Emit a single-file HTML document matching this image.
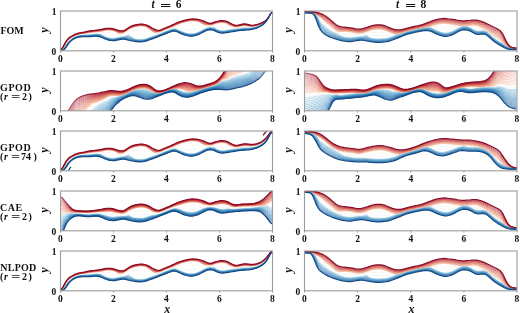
<!DOCTYPE html>
<html><head><meta charset="utf-8"><style>
html,body{margin:0;padding:0;background:#fff;}
body{width:520px;height:313px;position:relative;overflow:hidden;font-family:"Liberation Serif",serif;color:#111;}
svg{position:absolute;left:0;top:0;}
.g{position:absolute;font-weight:bold;line-height:1;white-space:nowrap;}
</style></head><body>
<svg width="520" height="313" viewBox="0 0 520 313">
<defs><clipPath id="c00"><rect x="60.5" y="11.0" width="212.0" height="39.8"/></clipPath>
<clipPath id="c01"><rect x="304.5" y="11.0" width="212.5" height="39.8"/></clipPath>
<clipPath id="c10"><rect x="60.5" y="71.0" width="212.0" height="39.8"/></clipPath>
<clipPath id="c11"><rect x="304.5" y="71.0" width="212.5" height="39.8"/></clipPath>
<clipPath id="c20"><rect x="60.5" y="131.0" width="212.0" height="39.8"/></clipPath>
<clipPath id="c21"><rect x="304.5" y="131.0" width="212.5" height="39.8"/></clipPath>
<clipPath id="c30"><rect x="60.5" y="191.0" width="212.0" height="39.8"/></clipPath>
<clipPath id="c31"><rect x="304.5" y="191.0" width="212.5" height="39.8"/></clipPath>
<clipPath id="c40"><rect x="60.5" y="251.0" width="212.0" height="39.8"/></clipPath>
<clipPath id="c41"><rect x="304.5" y="251.0" width="212.5" height="39.8"/></clipPath></defs>
<g clip-path="url(#c00)"><path d="M60.5 50.3L62.5 48.9L64.5 46.2L66.5 43.0L68.5 40.5L70.5 38.6L72.5 37.3L74.5 36.2L76.5 35.4L78.5 34.8L80.5 34.4L82.5 34.1L84.5 33.9L86.5 33.7L88.5 33.4L90.5 33.2L92.5 32.9L94.5 32.7L96.5 32.6L98.5 32.5L100.5 32.3L102.5 32.4L104.5 32.5L106.5 32.5L108.5 32.7L110.5 32.9L112.5 33.2L114.5 33.5L116.5 34.0L118.5 34.8L120.5 34.6L122.5 34.4L124.5 33.6L126.5 32.6L128.5 31.4L130.5 31.1L132.5 30.9L134.5 30.9L136.5 30.8L138.5 30.6L140.5 30.5L142.5 30.5L144.5 30.6L146.5 30.8L148.5 31.5L150.5 32.4L152.5 33.2L154.5 33.7L156.5 33.3L158.5 32.8L160.5 32.3L162.5 31.4L164.5 30.4L166.5 29.7L168.5 29.0L170.5 28.2L172.5 27.5L174.5 26.8L176.5 26.4L178.5 26.1L180.5 25.9L182.5 25.7L184.5 25.6L186.5 25.5L188.5 25.4L190.5 25.2L192.5 25.2L194.5 25.1L196.5 25.0L198.5 25.2L200.5 25.6L202.5 26.0L204.5 26.4L206.5 26.1L208.5 25.9L210.5 25.9L212.5 25.7L214.5 25.2L216.5 25.3L218.5 25.2L220.5 25.2L222.5 25.3L224.5 25.3L226.5 25.6L228.5 26.6L230.5 26.9L232.5 27.2L234.5 27.6L236.5 27.6L238.5 27.4L240.5 27.0L242.5 26.6L244.5 26.4L246.5 26.5L248.5 26.8L250.5 27.0L252.5 26.8L254.5 26.5L256.5 26.0L258.5 25.4L260.5 24.5L262.5 23.5L264.5 22.1L266.5 20.2L268.5 17.4L270.5 13.8L272.5 11.9" stroke="#f8f0ec" stroke-width="0.70" fill="none"/>
<path d="M60.5 50.4L62.5 49.3L64.5 46.8L66.5 43.8L68.5 41.2L70.5 39.2L72.5 37.9L74.5 36.7L76.5 35.9L78.5 35.3L80.5 34.9L82.5 34.7L84.5 34.5L86.5 34.3L88.5 34.1L90.5 33.9L92.5 33.7L94.5 33.5L96.5 33.4L98.5 33.3L100.5 33.3L102.5 34.0L104.5 34.5L106.5 34.9L108.5 35.3L110.5 35.6L112.5 35.8L114.5 35.9L116.5 36.0L118.5 36.2L120.5 35.9L122.5 35.6L124.5 35.1L126.5 34.2L128.5 33.3L130.5 33.7L132.5 34.3L134.5 35.0L136.5 35.1L138.5 35.1L140.5 35.0L142.5 35.0L144.5 34.9L146.5 34.7L148.5 34.7L150.5 34.8L152.5 34.9L154.5 34.9L156.5 34.3L158.5 33.6L160.5 33.0L162.5 32.2L164.5 31.2L166.5 30.5L168.5 29.8L170.5 29.0L172.5 28.3L174.5 27.8L176.5 27.8L178.5 28.1L180.5 28.5L182.5 28.8L184.5 29.1L186.5 29.4L188.5 29.5L190.5 29.6L192.5 29.5L194.5 29.3L196.5 29.0L198.5 28.7L200.5 28.4L202.5 28.1L204.5 27.8L206.5 27.2L208.5 26.8L210.5 26.7L212.5 26.8L214.5 26.6L216.5 27.3L218.5 27.7L220.5 28.0L222.5 28.1L224.5 28.0L226.5 28.0L228.5 28.3L230.5 28.4L232.5 28.4L234.5 28.5L236.5 28.4L238.5 28.1L240.5 27.7L242.5 27.5L244.5 27.3L246.5 27.3L248.5 27.5L250.5 27.6L252.5 27.4L254.5 27.0L256.5 26.5L258.5 25.8L260.5 24.9L262.5 23.8L264.5 22.4L266.5 20.3L268.5 17.4L270.5 13.8L272.5 11.8" stroke="#eef3f5" stroke-width="0.70" fill="none"/>
<path d="M60.5 50.2L62.5 48.5L64.5 45.5L66.5 42.2L68.5 39.8L70.5 38.1L72.5 36.8L74.5 35.7L76.5 34.9L78.5 34.3L80.5 33.8L82.5 33.5L84.5 33.3L86.5 33.0L88.5 32.7L90.5 32.4L92.5 32.2L94.5 31.9L96.5 31.8L98.5 31.6L100.5 31.3L102.5 30.9L104.5 30.5L106.5 30.2L108.5 30.1L110.5 30.1L112.5 30.5L114.5 31.0L116.5 32.1L118.5 33.4L120.5 33.4L122.5 33.1L124.5 32.1L126.5 30.9L128.5 29.5L130.5 28.4L132.5 27.5L134.5 26.9L136.5 26.4L138.5 26.1L140.5 25.9L142.5 26.0L144.5 26.3L146.5 26.8L148.5 28.3L150.5 30.0L152.5 31.5L154.5 32.5L156.5 32.4L158.5 32.0L160.5 31.5L162.5 30.7L164.5 29.7L166.5 29.0L168.5 28.3L170.5 27.4L172.5 26.6L174.5 25.8L176.5 24.9L178.5 24.0L180.5 23.3L182.5 22.6L184.5 22.1L186.5 21.6L188.5 21.2L190.5 20.9L192.5 20.8L194.5 20.9L196.5 21.0L198.5 21.6L200.5 22.8L202.5 23.9L204.5 25.1L206.5 25.0L208.5 25.0L210.5 25.0L212.5 24.7L214.5 23.9L216.5 23.3L218.5 22.8L220.5 22.5L222.5 22.5L224.5 22.6L226.5 23.2L228.5 24.8L230.5 25.5L232.5 26.1L234.5 26.8L236.5 26.9L238.5 26.6L240.5 26.2L242.5 25.8L244.5 25.6L246.5 25.8L248.5 26.1L250.5 26.4L252.5 26.3L254.5 26.0L256.5 25.6L258.5 24.9L260.5 24.2L262.5 23.1L264.5 21.9L266.5 20.0L268.5 17.4L270.5 13.9L272.5 12.0" stroke="#f6b090" stroke-width="0.70" fill="none"/>
<path d="M60.5 50.5L62.5 49.7L64.5 47.5L66.5 44.6L68.5 41.9L70.5 39.8L72.5 38.4L74.5 37.2L76.5 36.4L78.5 35.8L80.5 35.5L82.5 35.2L84.5 35.1L86.5 35.0L88.5 34.8L90.5 34.7L92.5 34.5L94.5 34.3L96.5 34.2L98.5 34.2L100.5 34.3L102.5 35.5L104.5 36.5L106.5 37.3L108.5 37.9L110.5 38.3L112.5 38.5L114.5 38.4L116.5 38.0L118.5 37.6L120.5 37.2L122.5 36.9L124.5 36.6L126.5 35.9L128.5 35.2L130.5 36.4L132.5 37.7L134.5 39.0L136.5 39.4L138.5 39.6L140.5 39.6L142.5 39.5L144.5 39.2L146.5 38.7L148.5 37.9L150.5 37.3L152.5 36.6L154.5 36.0L156.5 35.3L158.5 34.5L160.5 33.8L162.5 32.9L164.5 32.0L166.5 31.3L168.5 30.6L170.5 29.8L172.5 29.1L174.5 28.9L176.5 29.3L178.5 30.2L180.5 31.1L182.5 31.9L184.5 32.7L186.5 33.3L188.5 33.7L190.5 33.9L192.5 33.9L194.5 33.5L196.5 33.0L198.5 32.3L200.5 31.3L202.5 30.2L204.5 29.2L206.5 28.3L208.5 27.7L210.5 27.5L212.5 27.8L214.5 27.9L216.5 29.4L218.5 30.1L220.5 30.7L222.5 30.9L224.5 30.7L226.5 30.4L228.5 30.1L230.5 29.8L232.5 29.5L234.5 29.3L236.5 29.1L238.5 28.9L240.5 28.5L242.5 28.3L244.5 28.1L246.5 28.1L248.5 28.2L250.5 28.2L252.5 27.9L254.5 27.4L256.5 26.9L258.5 26.2L260.5 25.3L262.5 24.1L264.5 22.6L266.5 20.5L268.5 17.5L270.5 13.8L272.5 11.7" stroke="#98c8e0" stroke-width="0.70" fill="none"/>
<path d="M60.5 50.1L62.5 48.4L64.5 45.3L66.5 41.9L68.5 39.6L70.5 37.9L72.5 36.6L74.5 35.5L76.5 34.7L78.5 34.1L80.5 33.7L82.5 33.4L84.5 33.1L86.5 32.8L88.5 32.5L90.5 32.2L92.5 31.9L94.5 31.7L96.5 31.5L98.5 31.4L100.5 31.1L102.5 30.7L104.5 30.2L106.5 29.9L108.5 29.8L110.5 29.9L112.5 30.2L114.5 30.7L116.5 31.7L118.5 32.9L120.5 33.0L122.5 32.8L124.5 31.8L126.5 30.6L128.5 29.2L130.5 28.1L132.5 27.3L134.5 26.7L136.5 26.2L138.5 25.9L140.5 25.7L142.5 25.7L144.5 26.0L146.5 26.6L148.5 28.0L150.5 29.6L152.5 31.1L154.5 32.0L156.5 32.0L158.5 31.7L160.5 31.3L162.5 30.5L164.5 29.5L166.5 28.8L168.5 28.0L170.5 27.2L172.5 26.4L174.5 25.5L176.5 24.6L178.5 23.8L180.5 23.0L182.5 22.4L184.5 21.8L186.5 21.3L188.5 20.9L190.5 20.7L192.5 20.5L194.5 20.6L196.5 20.8L198.5 21.3L200.5 22.4L202.5 23.4L204.5 24.5L206.5 24.6L208.5 24.7L210.5 24.8L212.5 24.4L214.5 23.7L216.5 23.0L218.5 22.5L220.5 22.3L222.5 22.2L224.5 22.4L226.5 22.9L228.5 24.5L230.5 25.1L232.5 25.8L234.5 26.6L236.5 26.7L238.5 26.4L240.5 25.9L242.5 25.6L244.5 25.4L246.5 25.5L248.5 25.9L250.5 26.2L252.5 26.2L254.5 25.8L256.5 25.4L258.5 24.8L260.5 24.1L262.5 23.0L264.5 21.8L266.5 20.0L268.5 17.3L270.5 13.9L272.5 12.0" stroke="#ee9878" stroke-width="0.70" fill="none"/>
<path d="M60.5 50.5L62.5 49.8L64.5 47.8L66.5 44.9L68.5 42.2L70.5 40.0L72.5 38.6L74.5 37.4L76.5 36.6L78.5 36.0L80.5 35.6L82.5 35.4L84.5 35.3L86.5 35.2L88.5 35.1L90.5 35.0L92.5 34.8L94.5 34.5L96.5 34.4L98.5 34.5L100.5 34.6L102.5 35.8L104.5 36.8L106.5 37.6L108.5 38.2L110.5 38.6L112.5 38.8L114.5 38.7L116.5 38.4L118.5 37.9L120.5 37.5L122.5 37.2L124.5 37.0L126.5 36.4L128.5 35.9L130.5 37.0L132.5 38.2L134.5 39.3L136.5 39.8L138.5 39.9L140.5 39.9L142.5 39.8L144.5 39.5L146.5 39.0L148.5 38.3L150.5 37.6L152.5 36.9L154.5 36.3L156.5 35.6L158.5 34.7L160.5 34.1L162.5 33.2L164.5 32.3L166.5 31.6L168.5 30.9L170.5 30.1L172.5 29.4L174.5 29.2L176.5 29.7L178.5 30.5L180.5 31.4L182.5 32.3L184.5 33.0L186.5 33.6L188.5 34.0L190.5 34.2L192.5 34.2L194.5 33.8L196.5 33.3L198.5 32.6L200.5 31.6L202.5 30.5L204.5 29.5L206.5 28.6L208.5 28.0L210.5 27.8L212.5 28.1L214.5 28.3L216.5 29.7L218.5 30.4L220.5 31.0L222.5 31.2L224.5 31.1L226.5 30.7L228.5 30.4L230.5 30.1L232.5 29.8L234.5 29.6L236.5 29.4L238.5 29.1L240.5 28.8L242.5 28.6L244.5 28.4L246.5 28.4L248.5 28.4L250.5 28.4L252.5 28.1L254.5 27.6L256.5 27.1L258.5 26.4L260.5 25.4L262.5 24.3L264.5 22.7L266.5 20.5L268.5 17.5L270.5 13.8L272.5 11.7" stroke="#7db7d7" stroke-width="0.70" fill="none"/>
<path d="M60.5 50.1L62.5 48.3L64.5 45.1L66.5 41.7L68.5 39.4L70.5 37.7L72.5 36.5L74.5 35.4L76.5 34.6L78.5 34.0L80.5 33.5L82.5 33.2L84.5 32.9L86.5 32.6L88.5 32.3L90.5 32.0L92.5 31.7L94.5 31.5L96.5 31.3L98.5 31.1L100.5 30.8L102.5 30.4L104.5 30.0L106.5 29.7L108.5 29.6L110.5 29.6L112.5 30.0L114.5 30.5L116.5 31.4L118.5 32.5L120.5 32.6L122.5 32.5L124.5 31.6L126.5 30.4L128.5 28.9L130.5 27.9L132.5 27.0L134.5 26.4L136.5 25.9L138.5 25.6L140.5 25.4L142.5 25.5L144.5 25.8L146.5 26.3L148.5 27.6L150.5 29.1L152.5 30.6L154.5 31.6L156.5 31.7L158.5 31.5L160.5 31.1L162.5 30.3L164.5 29.3L166.5 28.5L168.5 27.8L170.5 27.0L172.5 26.1L174.5 25.3L176.5 24.4L178.5 23.5L180.5 22.8L182.5 22.1L184.5 21.6L186.5 21.1L188.5 20.7L190.5 20.4L192.5 20.3L194.5 20.3L196.5 20.5L198.5 21.0L200.5 22.0L202.5 23.0L204.5 24.0L206.5 24.2L208.5 24.4L210.5 24.5L212.5 24.2L214.5 23.4L216.5 22.7L218.5 22.3L220.5 22.0L222.5 22.0L224.5 22.1L226.5 22.7L228.5 24.1L230.5 24.8L232.5 25.6L234.5 26.3L236.5 26.5L238.5 26.2L240.5 25.7L242.5 25.3L244.5 25.1L246.5 25.3L248.5 25.7L250.5 26.0L252.5 26.0L254.5 25.7L256.5 25.3L258.5 24.7L260.5 24.0L262.5 22.9L264.5 21.7L266.5 19.9L268.5 17.3L270.5 13.9L272.5 12.0" stroke="#e37e64" stroke-width="0.70" fill="none"/>
<path d="M60.5 50.6L62.5 49.9L64.5 48.0L66.5 45.2L68.5 42.4L70.5 40.3L72.5 38.8L74.5 37.6L76.5 36.8L78.5 36.2L80.5 35.8L82.5 35.6L84.5 35.5L86.5 35.5L88.5 35.4L90.5 35.2L92.5 35.0L94.5 34.8L96.5 34.7L98.5 34.8L100.5 35.0L102.5 36.1L104.5 37.1L106.5 37.9L108.5 38.5L110.5 39.0L112.5 39.1L114.5 39.0L116.5 38.7L118.5 38.2L120.5 37.8L122.5 37.6L124.5 37.4L126.5 36.9L128.5 36.6L130.5 37.6L132.5 38.7L134.5 39.7L136.5 40.1L138.5 40.2L140.5 40.2L142.5 40.2L144.5 39.8L146.5 39.3L148.5 38.6L150.5 37.9L152.5 37.2L154.5 36.6L156.5 35.8L158.5 35.0L160.5 34.3L162.5 33.5L164.5 32.6L166.5 31.9L168.5 31.1L170.5 30.4L172.5 29.7L174.5 29.5L176.5 30.0L178.5 30.8L180.5 31.7L182.5 32.6L184.5 33.3L186.5 33.9L188.5 34.3L190.5 34.5L192.5 34.5L194.5 34.2L196.5 33.7L198.5 32.9L200.5 31.9L202.5 30.8L204.5 29.8L206.5 28.9L208.5 28.3L210.5 28.1L212.5 28.4L214.5 28.7L216.5 30.0L218.5 30.7L220.5 31.3L222.5 31.5L224.5 31.4L226.5 31.0L228.5 30.7L230.5 30.4L232.5 30.1L234.5 29.9L236.5 29.7L238.5 29.4L240.5 29.1L242.5 28.9L244.5 28.7L246.5 28.6L248.5 28.7L250.5 28.6L252.5 28.3L254.5 27.8L256.5 27.3L258.5 26.5L260.5 25.6L262.5 24.4L264.5 22.8L266.5 20.6L268.5 17.5L270.5 13.8L272.5 11.7" stroke="#5fa5cd" stroke-width="0.70" fill="none"/>
<path d="M60.5 50.1L62.5 48.1L64.5 44.9L66.5 41.4L68.5 39.2L70.5 37.5L72.5 36.3L74.5 35.2L76.5 34.4L78.5 33.8L80.5 33.4L82.5 33.1L84.5 32.8L86.5 32.4L88.5 32.0L90.5 31.7L92.5 31.5L94.5 31.3L96.5 31.1L98.5 30.9L100.5 30.5L102.5 30.1L104.5 29.7L106.5 29.4L108.5 29.3L110.5 29.4L112.5 29.7L114.5 30.2L116.5 31.1L118.5 32.0L120.5 32.3L122.5 32.2L124.5 31.3L126.5 30.1L128.5 28.7L130.5 27.6L132.5 26.8L134.5 26.2L136.5 25.6L138.5 25.3L140.5 25.2L142.5 25.2L144.5 25.5L146.5 26.1L148.5 27.3L150.5 28.7L152.5 30.1L154.5 31.1L156.5 31.4L158.5 31.3L160.5 30.8L162.5 30.1L164.5 29.1L166.5 28.3L168.5 27.6L170.5 26.8L172.5 25.9L174.5 25.0L176.5 24.1L178.5 23.3L180.5 22.5L182.5 21.9L184.5 21.3L186.5 20.8L188.5 20.4L190.5 20.1L192.5 20.0L194.5 20.1L196.5 20.2L198.5 20.7L200.5 21.6L202.5 22.5L204.5 23.5L206.5 23.8L208.5 24.1L210.5 24.3L212.5 23.9L214.5 23.2L216.5 22.5L218.5 22.0L220.5 21.7L222.5 21.7L224.5 21.9L226.5 22.4L228.5 23.7L230.5 24.5L232.5 25.3L234.5 26.1L236.5 26.2L238.5 26.0L240.5 25.5L242.5 25.1L244.5 24.9L246.5 25.1L248.5 25.5L250.5 25.9L252.5 25.9L254.5 25.6L256.5 25.2L258.5 24.6L260.5 23.8L262.5 22.8L264.5 21.7L266.5 19.9L268.5 17.3L270.5 13.9L272.5 12.0" stroke="#d7634f" stroke-width="0.70" fill="none"/>
<path d="M60.5 50.6L62.5 50.1L64.5 48.3L66.5 45.5L68.5 42.7L70.5 40.5L72.5 39.0L74.5 37.8L76.5 37.0L78.5 36.4L80.5 36.0L82.5 35.8L84.5 35.8L86.5 35.7L88.5 35.6L90.5 35.5L92.5 35.3L94.5 35.1L96.5 35.0L98.5 35.1L100.5 35.4L102.5 36.5L104.5 37.4L106.5 38.2L108.5 38.8L110.5 39.3L112.5 39.4L114.5 39.4L116.5 39.0L118.5 38.5L120.5 38.1L122.5 37.9L124.5 37.7L126.5 37.5L128.5 37.3L130.5 38.2L132.5 39.1L134.5 40.0L136.5 40.4L138.5 40.5L140.5 40.5L142.5 40.5L144.5 40.2L146.5 39.6L148.5 38.9L150.5 38.2L152.5 37.5L154.5 36.9L156.5 36.1L158.5 35.3L160.5 34.6L162.5 33.8L164.5 32.9L166.5 32.1L168.5 31.4L170.5 30.6L172.5 30.0L174.5 29.8L176.5 30.3L178.5 31.1L180.5 32.0L182.5 32.9L184.5 33.6L186.5 34.2L188.5 34.7L190.5 34.8L192.5 34.8L194.5 34.5L196.5 34.0L198.5 33.2L200.5 32.2L202.5 31.1L204.5 30.1L206.5 29.2L208.5 28.6L210.5 28.4L212.5 28.7L214.5 29.1L216.5 30.3L218.5 31.1L220.5 31.6L222.5 31.8L224.5 31.7L226.5 31.3L228.5 31.0L230.5 30.8L232.5 30.5L234.5 30.2L236.5 29.9L238.5 29.6L240.5 29.4L242.5 29.2L244.5 29.0L246.5 28.9L248.5 28.9L250.5 28.8L252.5 28.5L254.5 28.0L256.5 27.4L258.5 26.7L260.5 25.7L262.5 24.5L264.5 22.9L266.5 20.6L268.5 17.5L270.5 13.8L272.5 11.7" stroke="#4392c3" stroke-width="0.70" fill="none"/>
<path d="M60.5 50.0L62.5 48.0L64.5 44.7L66.5 41.2L68.5 39.0L70.5 37.4L72.5 36.1L74.5 35.1L76.5 34.3L78.5 33.7L80.5 33.2L82.5 32.9L84.5 32.6L86.5 32.2L88.5 31.8L90.5 31.5L92.5 31.3L94.5 31.0L96.5 30.8L98.5 30.6L100.5 30.3L102.5 29.9L104.5 29.5L106.5 29.1L108.5 29.0L110.5 29.1L112.5 29.5L114.5 30.0L116.5 30.8L118.5 31.6L120.5 31.9L122.5 31.9L124.5 31.1L126.5 29.9L128.5 28.4L130.5 27.4L132.5 26.5L134.5 25.9L136.5 25.4L138.5 25.1L140.5 24.9L142.5 24.9L144.5 25.2L146.5 25.8L148.5 27.0L150.5 28.3L152.5 29.6L154.5 30.6L156.5 31.0L158.5 31.0L160.5 30.6L162.5 29.8L164.5 28.9L166.5 28.1L168.5 27.4L170.5 26.5L172.5 25.7L174.5 24.7L176.5 23.8L178.5 23.0L180.5 22.3L182.5 21.6L184.5 21.1L186.5 20.6L188.5 20.1L190.5 19.9L192.5 19.8L194.5 19.8L196.5 20.0L198.5 20.4L200.5 21.2L202.5 22.0L204.5 22.9L206.5 23.4L208.5 23.9L210.5 24.0L212.5 23.7L214.5 22.9L216.5 22.2L218.5 21.8L220.5 21.5L222.5 21.5L224.5 21.6L226.5 22.1L228.5 23.3L230.5 24.2L232.5 25.1L234.5 25.9L236.5 26.0L238.5 25.7L240.5 25.2L242.5 24.9L244.5 24.7L246.5 24.8L248.5 25.3L250.5 25.7L252.5 25.7L254.5 25.4L256.5 25.0L258.5 24.5L260.5 23.7L262.5 22.8L264.5 21.6L266.5 19.8L268.5 17.3L270.5 13.9L272.5 12.0" stroke="#ca4741" stroke-width="0.70" fill="none"/>
<path d="M60.5 50.7L62.5 50.2L64.5 48.5L66.5 45.8L68.5 42.9L70.5 40.7L72.5 39.2L74.5 38.0L76.5 37.2L78.5 36.6L80.5 36.2L82.5 36.0L84.5 36.0L86.5 35.9L88.5 35.9L90.5 35.8L92.5 35.6L94.5 35.4L96.5 35.3L98.5 35.4L100.5 35.8L102.5 36.8L104.5 37.7L106.5 38.5L108.5 39.1L110.5 39.6L112.5 39.7L114.5 39.7L116.5 39.3L118.5 38.8L120.5 38.4L122.5 38.2L124.5 38.1L126.5 38.0L128.5 38.0L130.5 38.8L132.5 39.6L134.5 40.3L136.5 40.7L138.5 40.8L140.5 40.9L142.5 40.8L144.5 40.5L146.5 39.9L148.5 39.2L150.5 38.5L152.5 37.8L154.5 37.2L156.5 36.4L158.5 35.6L160.5 34.9L162.5 34.1L164.5 33.2L166.5 32.4L168.5 31.7L170.5 30.9L172.5 30.3L174.5 30.1L176.5 30.6L178.5 31.4L180.5 32.3L182.5 33.2L184.5 33.9L186.5 34.5L188.5 35.0L190.5 35.1L192.5 35.1L194.5 34.8L196.5 34.3L198.5 33.5L200.5 32.5L202.5 31.5L204.5 30.4L206.5 29.5L208.5 28.9L210.5 28.7L212.5 29.0L214.5 29.5L216.5 30.6L218.5 31.4L220.5 31.9L222.5 32.1L224.5 32.0L226.5 31.7L228.5 31.3L230.5 31.1L232.5 30.8L234.5 30.5L236.5 30.2L238.5 29.9L240.5 29.7L242.5 29.4L244.5 29.3L246.5 29.2L248.5 29.2L250.5 29.0L252.5 28.6L254.5 28.1L256.5 27.6L258.5 26.8L260.5 25.8L262.5 24.6L264.5 23.0L266.5 20.7L268.5 17.5L270.5 13.8L272.5 11.7" stroke="#3682ba" stroke-width="0.70" fill="none"/>
<path d="M60.5 50.0L62.5 47.9L64.5 44.5L66.5 41.0L68.5 38.8L70.5 37.2L72.5 36.0L74.5 34.9L76.5 34.1L78.5 33.5L80.5 33.1L82.5 32.7L84.5 32.4L86.5 32.0L88.5 31.6L90.5 31.3L92.5 31.0L94.5 30.8L96.5 30.6L98.5 30.4L100.5 30.0L102.5 29.6L104.5 29.2L106.5 28.9L108.5 28.8L110.5 28.8L112.5 29.2L114.5 29.7L116.5 30.4L118.5 31.2L120.5 31.5L122.5 31.5L124.5 30.8L126.5 29.6L128.5 28.2L130.5 27.1L132.5 26.2L134.5 25.6L136.5 25.1L138.5 24.8L140.5 24.6L142.5 24.7L144.5 25.0L146.5 25.6L148.5 26.6L150.5 27.9L152.5 29.1L154.5 30.2L156.5 30.7L158.5 30.8L160.5 30.4L162.5 29.6L164.5 28.7L166.5 27.9L168.5 27.1L170.5 26.3L172.5 25.4L174.5 24.5L176.5 23.6L178.5 22.7L180.5 22.0L182.5 21.4L184.5 20.8L186.5 20.3L188.5 19.9L190.5 19.6L192.5 19.5L194.5 19.6L196.5 19.7L198.5 20.1L200.5 20.8L202.5 21.5L204.5 22.4L206.5 23.0L208.5 23.6L210.5 23.8L212.5 23.4L214.5 22.7L216.5 22.0L218.5 21.5L220.5 21.2L222.5 21.2L224.5 21.4L226.5 21.9L228.5 22.9L230.5 23.9L232.5 24.8L234.5 25.6L236.5 25.8L238.5 25.5L240.5 25.0L242.5 24.6L244.5 24.4L246.5 24.6L248.5 25.1L250.5 25.5L252.5 25.6L254.5 25.3L256.5 24.9L258.5 24.3L260.5 23.6L262.5 22.7L264.5 21.5L266.5 19.8L268.5 17.3L270.5 13.9L272.5 12.0" stroke="#bc2c34" stroke-width="0.70" fill="none"/>
<path d="M60.5 50.7L62.5 50.3L64.5 48.7L66.5 46.1L68.5 43.2L70.5 40.9L72.5 39.4L74.5 38.2L76.5 37.4L78.5 36.7L80.5 36.4L82.5 36.2L84.5 36.2L86.5 36.2L88.5 36.1L90.5 36.0L92.5 35.9L94.5 35.6L96.5 35.6L98.5 35.7L100.5 36.2L102.5 37.1L104.5 38.0L106.5 38.8L108.5 39.4L110.5 39.9L112.5 40.1L114.5 40.0L116.5 39.6L118.5 39.1L120.5 38.7L122.5 38.5L124.5 38.5L126.5 38.5L128.5 38.7L130.5 39.4L132.5 40.1L134.5 40.7L136.5 41.0L138.5 41.1L140.5 41.2L142.5 41.1L144.5 40.8L146.5 40.2L148.5 39.5L150.5 38.8L152.5 38.1L154.5 37.5L156.5 36.7L158.5 35.9L160.5 35.1L162.5 34.3L164.5 33.5L166.5 32.7L168.5 32.0L170.5 31.2L172.5 30.6L174.5 30.5L176.5 30.9L178.5 31.7L180.5 32.7L182.5 33.5L184.5 34.2L186.5 34.8L188.5 35.3L190.5 35.5L192.5 35.4L194.5 35.1L196.5 34.6L198.5 33.8L200.5 32.9L202.5 31.8L204.5 30.7L206.5 29.8L208.5 29.3L210.5 29.0L212.5 29.4L214.5 29.9L216.5 31.0L218.5 31.7L220.5 32.3L222.5 32.4L224.5 32.3L226.5 32.0L228.5 31.6L230.5 31.4L232.5 31.1L234.5 30.8L236.5 30.5L238.5 30.2L240.5 29.9L242.5 29.7L244.5 29.6L246.5 29.5L248.5 29.4L250.5 29.2L252.5 28.8L254.5 28.3L256.5 27.8L258.5 27.0L260.5 26.0L262.5 24.7L264.5 23.0L266.5 20.7L268.5 17.6L270.5 13.8L272.5 11.7" stroke="#2971b2" stroke-width="0.70" fill="none"/>
<path d="M60.5 49.9L62.5 47.8L64.5 44.3L66.5 40.7L68.5 38.5L70.5 37.0L72.5 35.8L74.5 34.8L76.5 34.0L78.5 33.4L80.5 32.9L82.5 32.6L84.5 32.2L86.5 31.8L88.5 31.4L90.5 31.1L92.5 30.8L94.5 30.6L96.5 30.4L98.5 30.1L100.5 29.8L102.5 29.4L104.5 29.0L106.5 28.6L108.5 28.5L110.5 28.6L112.5 28.9L114.5 29.4L116.5 30.1L118.5 30.7L120.5 31.2L122.5 31.2L124.5 30.6L126.5 29.4L128.5 27.9L130.5 26.8L132.5 26.0L134.5 25.4L136.5 24.9L138.5 24.6L140.5 24.4L142.5 24.4L144.5 24.7L146.5 25.3L148.5 26.3L150.5 27.5L152.5 28.7L154.5 29.7L156.5 30.3L158.5 30.5L160.5 30.2L162.5 29.4L164.5 28.5L166.5 27.7L168.5 26.9L170.5 26.1L172.5 25.2L174.5 24.2L176.5 23.3L178.5 22.5L180.5 21.8L182.5 21.1L184.5 20.6L186.5 20.1L188.5 19.6L190.5 19.4L192.5 19.3L194.5 19.3L196.5 19.5L198.5 19.8L200.5 20.4L202.5 21.0L204.5 21.9L206.5 22.6L208.5 23.3L210.5 23.5L212.5 23.1L214.5 22.4L216.5 21.7L218.5 21.3L220.5 21.0L222.5 20.9L224.5 21.1L226.5 21.6L228.5 22.5L230.5 23.5L232.5 24.6L234.5 25.4L236.5 25.6L238.5 25.3L240.5 24.8L242.5 24.4L244.5 24.2L246.5 24.4L248.5 24.9L250.5 25.3L252.5 25.4L254.5 25.1L256.5 24.8L258.5 24.2L260.5 23.5L262.5 22.6L264.5 21.5L266.5 19.8L268.5 17.3L270.5 13.9L272.5 12.0" stroke="#a9152a" stroke-width="0.70" fill="none"/>
<path d="M60.5 50.8L62.5 50.5L64.5 49.0L66.5 46.4L68.5 43.4L70.5 41.1L72.5 39.6L74.5 38.3L76.5 37.5L78.5 36.9L80.5 36.6L82.5 36.4L84.5 36.4L86.5 36.4L88.5 36.4L90.5 36.3L92.5 36.1L94.5 35.9L96.5 35.9L98.5 36.0L100.5 36.5L102.5 37.4L104.5 38.3L106.5 39.2L108.5 39.8L110.5 40.2L112.5 40.4L114.5 40.3L116.5 39.9L118.5 39.5L120.5 39.1L122.5 38.8L124.5 38.9L126.5 39.0L128.5 39.4L130.5 40.0L132.5 40.6L134.5 41.0L136.5 41.3L138.5 41.5L140.5 41.5L142.5 41.4L144.5 41.1L146.5 40.6L148.5 39.8L150.5 39.1L152.5 38.5L154.5 37.8L156.5 37.0L158.5 36.2L160.5 35.4L162.5 34.6L164.5 33.8L166.5 33.0L168.5 32.2L170.5 31.5L172.5 30.9L174.5 30.8L176.5 31.2L178.5 32.0L180.5 33.0L182.5 33.8L184.5 34.6L186.5 35.2L188.5 35.6L190.5 35.8L192.5 35.7L194.5 35.4L196.5 34.9L198.5 34.1L200.5 33.2L202.5 32.1L204.5 31.1L206.5 30.2L208.5 29.6L210.5 29.3L212.5 29.7L214.5 30.3L216.5 31.3L218.5 32.0L220.5 32.6L222.5 32.8L224.5 32.6L226.5 32.3L228.5 32.0L230.5 31.7L232.5 31.4L234.5 31.0L236.5 30.7L238.5 30.4L240.5 30.2L242.5 30.0L244.5 29.9L246.5 29.7L248.5 29.7L250.5 29.4L252.5 29.0L254.5 28.5L256.5 27.9L258.5 27.1L260.5 26.1L262.5 24.8L264.5 23.1L266.5 20.8L268.5 17.6L270.5 13.8L272.5 11.7" stroke="#1d5fa2" stroke-width="0.70" fill="none"/>
<path d="M60.5 49.9L62.5 47.7L64.5 44.1L66.5 40.5L68.5 38.3L70.5 36.8L72.5 35.7L74.5 34.6L76.5 33.8L78.5 33.2L80.5 32.8L82.5 32.4L84.5 32.1L86.5 31.6L88.5 31.2L90.5 30.8L92.5 30.6L94.5 30.4L96.5 30.1L98.5 29.9L100.5 29.5L102.5 29.1L104.5 28.7L106.5 28.4L108.5 28.3L110.5 28.3L112.5 28.7L114.5 29.2L116.5 29.8L118.5 30.3L120.5 30.8L122.5 30.9L124.5 30.3L126.5 29.1L128.5 27.7L130.5 26.6L132.5 25.7L134.5 25.1L136.5 24.6L138.5 24.3L140.5 24.1L142.5 24.2L144.5 24.5L146.5 25.0L148.5 25.9L150.5 27.0L152.5 28.2L154.5 29.2L156.5 30.0L158.5 30.3L160.5 30.0L162.5 29.2L164.5 28.3L166.5 27.5L168.5 26.7L170.5 25.8L172.5 24.9L174.5 24.0L176.5 23.1L178.5 22.2L180.5 21.5L182.5 20.8L184.5 20.3L186.5 19.8L188.5 19.4L190.5 19.1L192.5 19.0L194.5 19.1L196.5 19.2L198.5 19.5L200.5 20.0L202.5 20.6L204.5 21.3L206.5 22.2L208.5 23.1L210.5 23.3L212.5 22.9L214.5 22.1L216.5 21.5L218.5 21.0L220.5 20.7L222.5 20.7L224.5 20.8L226.5 21.4L228.5 22.1L230.5 23.2L232.5 24.3L234.5 25.1L236.5 25.4L238.5 25.1L240.5 24.6L242.5 24.1L244.5 23.9L246.5 24.2L248.5 24.7L250.5 25.2L252.5 25.3L254.5 25.0L256.5 24.6L258.5 24.1L260.5 23.4L262.5 22.5L264.5 21.4L266.5 19.7L268.5 17.3L270.5 13.9L272.5 12.0" stroke="#8c0c25" stroke-width="1.25" fill="none"/>
<path d="M60.5 50.8L62.5 50.6L64.5 49.2L66.5 46.7L68.5 43.7L70.5 41.3L72.5 39.8L74.5 38.5L76.5 37.7L78.5 37.1L80.5 36.8L82.5 36.6L84.5 36.6L86.5 36.6L88.5 36.6L90.5 36.6L92.5 36.4L94.5 36.2L96.5 36.1L98.5 36.3L100.5 36.9L102.5 37.7L104.5 38.7L106.5 39.5L108.5 40.1L110.5 40.5L112.5 40.7L114.5 40.6L116.5 40.2L118.5 39.8L120.5 39.4L122.5 39.1L124.5 39.2L126.5 39.6L128.5 40.1L130.5 40.6L132.5 41.0L134.5 41.4L136.5 41.6L138.5 41.8L140.5 41.8L142.5 41.7L144.5 41.4L146.5 40.9L148.5 40.1L150.5 39.5L152.5 38.8L154.5 38.0L156.5 37.3L158.5 36.5L160.5 35.7L162.5 34.9L164.5 34.1L166.5 33.3L168.5 32.5L170.5 31.8L172.5 31.2L174.5 31.1L176.5 31.5L178.5 32.4L180.5 33.3L182.5 34.1L184.5 34.9L186.5 35.5L188.5 35.9L190.5 36.1L192.5 36.1L194.5 35.7L196.5 35.2L198.5 34.5L200.5 33.5L202.5 32.4L204.5 31.4L206.5 30.5L208.5 29.9L210.5 29.6L212.5 30.0L214.5 30.7L216.5 31.6L218.5 32.3L220.5 32.9L222.5 33.1L224.5 32.9L226.5 32.6L228.5 32.3L230.5 32.0L232.5 31.7L234.5 31.3L236.5 31.0L238.5 30.7L240.5 30.5L242.5 30.3L244.5 30.1L246.5 30.0L248.5 29.9L250.5 29.6L252.5 29.2L254.5 28.7L256.5 28.1L258.5 27.3L260.5 26.2L262.5 25.0L264.5 23.2L266.5 20.8L268.5 17.6L270.5 13.8L272.5 11.8" stroke="#134b86" stroke-width="1.25" fill="none"/></g>
<g clip-path="url(#c01)"><path d="M304.5 12.1L306.5 12.1L308.5 12.1L310.5 12.1L312.5 12.2L314.5 13.1L316.5 14.8L318.5 17.1L320.5 19.3L322.5 21.0L324.5 22.9L326.5 24.5L328.5 26.1L330.5 27.5L332.5 29.1L334.5 30.6L336.5 31.8L338.5 32.6L340.5 33.0L342.5 33.2L344.5 33.3L346.5 33.5L348.5 33.7L350.5 33.9L352.5 34.1L354.5 34.3L356.5 34.4L358.5 34.4L360.5 34.4L362.5 34.2L364.5 33.6L366.5 32.9L368.5 32.9L370.5 32.9L372.5 32.7L374.5 32.5L376.5 32.4L378.5 32.4L380.5 32.4L382.5 32.6L384.5 32.9L386.5 33.3L388.5 33.8L390.5 34.1L392.5 34.3L394.5 34.5L396.5 34.5L398.5 34.1L400.5 33.6L402.5 33.0L404.5 32.4L406.5 31.7L408.5 31.1L410.5 30.6L412.5 30.2L414.5 29.7L416.5 29.3L418.5 28.9L420.5 28.5L422.5 28.0L424.5 27.6L426.5 27.3L428.5 27.0L430.5 26.8L432.5 26.6L434.5 26.5L436.5 26.5L438.5 26.5L440.5 26.5L442.5 26.5L444.5 26.6L446.5 26.8L448.5 26.8L450.5 26.8L452.5 26.7L454.5 26.7L456.5 26.5L458.5 26.4L460.5 26.2L462.5 26.1L464.5 25.7L466.5 26.0L468.5 26.1L470.5 26.2L472.5 26.4L474.5 26.7L476.5 27.3L478.5 27.8L480.5 28.4L482.5 29.0L484.5 29.8L486.5 30.9L488.5 32.2L490.5 33.7L492.5 35.3L494.5 36.8L496.5 38.2L498.5 39.4L500.5 40.6L502.5 42.5L504.5 44.5L506.5 46.1L508.5 47.3L510.5 47.9L512.5 48.3L514.5 48.5L516.5 48.6" stroke="#f8f0ec" stroke-width="0.70" fill="none"/>
<path d="M304.5 12.2L306.5 12.1L308.5 12.1L310.5 12.1L312.5 12.2L314.5 13.2L316.5 15.1L318.5 18.1L320.5 21.0L322.5 22.7L324.5 24.6L326.5 26.3L328.5 27.8L330.5 29.1L332.5 30.5L334.5 31.8L336.5 32.8L338.5 33.7L340.5 34.4L342.5 34.9L344.5 35.2L346.5 35.5L348.5 35.7L350.5 35.8L352.5 35.9L354.5 35.9L356.5 35.8L358.5 35.7L360.5 35.5L362.5 35.4L364.5 34.8L366.5 34.2L368.5 34.9L370.5 35.5L372.5 35.6L374.5 35.6L376.5 35.6L378.5 35.6L380.5 35.6L382.5 35.7L384.5 35.7L386.5 35.8L388.5 35.8L390.5 35.7L392.5 35.5L394.5 35.2L396.5 34.8L398.5 34.4L400.5 33.9L402.5 33.3L404.5 32.6L406.5 31.9L408.5 31.3L410.5 30.8L412.5 30.4L414.5 29.9L416.5 29.5L418.5 29.1L420.5 28.7L422.5 28.2L424.5 27.8L426.5 27.5L428.5 27.3L430.5 27.2L432.5 27.6L434.5 28.1L436.5 28.5L438.5 28.9L440.5 29.3L442.5 29.6L444.5 29.8L446.5 29.9L448.5 29.8L450.5 29.5L452.5 29.1L454.5 28.6L456.5 27.9L458.5 27.3L460.5 26.8L462.5 26.4L464.5 26.0L466.5 26.3L468.5 26.6L470.5 27.1L472.5 27.8L474.5 28.5L476.5 29.1L478.5 29.5L480.5 29.7L482.5 29.9L484.5 30.4L486.5 31.4L488.5 32.8L490.5 34.4L492.5 36.1L494.5 37.7L496.5 39.1L498.5 40.4L500.5 41.5L502.5 43.0L504.5 44.8L506.5 46.4L508.5 47.4L510.5 47.9L512.5 48.4L514.5 48.6L516.5 48.6" stroke="#eef3f5" stroke-width="0.70" fill="none"/>
<path d="M304.5 12.1L306.5 12.0L308.5 12.0L310.5 12.0L312.5 12.1L314.5 13.0L316.5 14.5L318.5 16.1L320.5 17.6L322.5 19.3L324.5 21.3L326.5 22.8L328.5 24.3L330.5 25.9L332.5 27.7L334.5 29.5L336.5 30.7L338.5 31.4L340.5 31.6L342.5 31.5L344.5 31.3L346.5 31.4L348.5 31.6L350.5 31.9L352.5 32.3L354.5 32.7L356.5 33.0L358.5 33.2L360.5 33.2L362.5 32.9L364.5 32.4L366.5 31.7L368.5 31.0L370.5 30.3L372.5 29.8L374.5 29.4L376.5 29.2L378.5 29.1L380.5 29.2L382.5 29.5L384.5 30.1L386.5 30.8L388.5 31.7L390.5 32.5L392.5 33.2L394.5 33.8L396.5 34.2L398.5 33.9L400.5 33.4L402.5 32.8L404.5 32.2L406.5 31.5L408.5 30.9L410.5 30.4L412.5 30.0L414.5 29.5L416.5 29.1L418.5 28.7L420.5 28.3L422.5 27.8L424.5 27.4L426.5 27.0L428.5 26.8L430.5 26.3L432.5 25.6L434.5 24.9L436.5 24.4L438.5 24.0L440.5 23.7L442.5 23.4L444.5 23.4L446.5 23.6L448.5 23.9L450.5 24.1L452.5 24.4L454.5 24.9L456.5 25.1L458.5 25.4L460.5 25.7L462.5 25.8L464.5 25.4L466.5 25.7L468.5 25.5L470.5 25.3L472.5 25.0L474.5 25.0L476.5 25.4L478.5 26.1L480.5 27.0L482.5 28.0L484.5 29.1L486.5 30.3L488.5 31.7L490.5 33.1L492.5 34.4L494.5 35.8L496.5 37.2L498.5 38.5L500.5 39.7L502.5 42.0L504.5 44.2L506.5 45.9L508.5 47.2L510.5 47.8L512.5 48.2L514.5 48.4L516.5 48.5" stroke="#f6b090" stroke-width="0.70" fill="none"/>
<path d="M304.5 12.2L306.5 12.2L308.5 12.2L310.5 12.2L312.5 12.3L314.5 13.3L316.5 15.3L318.5 19.1L320.5 22.7L322.5 24.5L324.5 26.3L326.5 28.0L328.5 29.5L330.5 30.7L332.5 31.9L334.5 32.9L336.5 33.9L338.5 34.9L340.5 35.8L342.5 36.6L344.5 37.2L346.5 37.5L348.5 37.7L350.5 37.8L352.5 37.7L354.5 37.4L356.5 37.2L358.5 36.9L360.5 36.7L362.5 36.7L364.5 36.1L366.5 35.5L368.5 36.9L370.5 38.1L372.5 38.4L374.5 38.7L376.5 38.9L378.5 38.9L380.5 38.9L382.5 38.7L384.5 38.6L386.5 38.3L388.5 37.9L390.5 37.3L392.5 36.6L394.5 35.8L396.5 35.1L398.5 34.6L400.5 34.1L402.5 33.5L404.5 32.8L406.5 32.1L408.5 31.5L410.5 31.0L412.5 30.6L414.5 30.1L416.5 29.7L418.5 29.3L420.5 28.9L422.5 28.4L424.5 28.1L426.5 27.8L428.5 27.6L430.5 27.7L432.5 28.6L434.5 29.6L436.5 30.5L438.5 31.4L440.5 32.1L442.5 32.7L444.5 33.0L446.5 33.1L448.5 32.8L450.5 32.2L452.5 31.4L454.5 30.4L456.5 29.3L458.5 28.2L460.5 27.3L462.5 26.7L464.5 26.3L466.5 26.6L468.5 27.2L470.5 28.0L472.5 29.1L474.5 30.2L476.5 31.0L478.5 31.2L480.5 31.1L482.5 30.9L484.5 31.1L486.5 31.9L488.5 33.4L490.5 35.1L492.5 36.9L494.5 38.6L496.5 40.1L498.5 41.3L500.5 42.4L502.5 43.6L504.5 45.2L506.5 46.6L508.5 47.6L510.5 48.0L512.5 48.4L514.5 48.6L516.5 48.7" stroke="#98c8e0" stroke-width="0.70" fill="none"/>
<path d="M304.5 12.0L306.5 12.0L308.5 12.0L310.5 12.0L312.5 12.1L314.5 12.8L316.5 14.2L318.5 15.6L320.5 17.0L322.5 18.6L324.5 20.4L326.5 22.0L328.5 23.5L330.5 25.1L332.5 26.8L334.5 28.6L336.5 29.9L338.5 30.7L340.5 30.9L342.5 30.9L344.5 30.7L346.5 30.9L348.5 31.1L350.5 31.3L352.5 31.7L354.5 32.1L356.5 32.5L358.5 32.6L360.5 32.6L362.5 32.3L364.5 31.8L366.5 31.1L368.5 30.4L370.5 29.7L372.5 29.2L374.5 28.8L376.5 28.6L378.5 28.5L380.5 28.6L382.5 28.9L384.5 29.5L386.5 30.2L388.5 31.1L390.5 31.9L392.5 32.6L394.5 33.2L396.5 33.6L398.5 33.3L400.5 32.9L402.5 32.3L404.5 31.7L406.5 31.0L408.5 30.4L410.5 30.0L412.5 29.5L414.5 29.1L416.5 28.7L418.5 28.3L420.5 27.8L422.5 27.3L424.5 26.9L426.5 26.5L428.5 26.1L430.5 25.6L432.5 24.9L434.5 24.3L436.5 23.7L438.5 23.3L440.5 23.0L442.5 22.7L444.5 22.7L446.5 22.9L448.5 23.2L450.5 23.4L452.5 23.7L454.5 24.2L456.5 24.4L458.5 24.7L460.5 25.0L462.5 25.1L464.5 24.8L466.5 25.0L468.5 24.8L470.5 24.6L472.5 24.3L474.5 24.3L476.5 24.7L478.5 25.3L480.5 26.2L482.5 27.1L484.5 28.2L486.5 29.4L488.5 30.6L490.5 32.0L492.5 33.3L494.5 34.6L496.5 35.9L498.5 37.2L500.5 38.4L502.5 40.8L504.5 43.2L506.5 45.3L508.5 46.9L510.5 47.6L512.5 48.1L514.5 48.4L516.5 48.5" stroke="#ee9878" stroke-width="0.70" fill="none"/>
<path d="M304.5 12.3L306.5 12.3L308.5 12.3L310.5 12.3L312.5 12.4L314.5 13.6L316.5 16.0L318.5 20.1L320.5 23.8L322.5 25.6L324.5 27.4L326.5 29.1L328.5 30.5L330.5 31.7L332.5 32.7L334.5 33.7L336.5 34.6L338.5 35.6L340.5 36.4L342.5 37.2L344.5 37.8L346.5 38.1L348.5 38.3L350.5 38.3L352.5 38.2L354.5 37.9L356.5 37.7L358.5 37.4L360.5 37.2L362.5 37.2L364.5 36.7L366.5 36.3L368.5 37.5L370.5 38.6L372.5 38.9L374.5 39.2L376.5 39.3L378.5 39.4L380.5 39.3L382.5 39.2L384.5 39.1L386.5 38.8L388.5 38.4L390.5 37.8L392.5 37.1L394.5 36.3L396.5 35.6L398.5 35.1L400.5 34.5L402.5 33.8L404.5 33.1L406.5 32.4L408.5 31.8L410.5 31.3L412.5 30.9L414.5 30.5L416.5 30.1L418.5 29.6L420.5 29.2L422.5 28.8L424.5 28.4L426.5 28.2L428.5 28.0L430.5 28.2L432.5 29.1L434.5 30.1L436.5 31.0L438.5 31.8L440.5 32.6L442.5 33.1L444.5 33.5L446.5 33.5L448.5 33.2L450.5 32.7L452.5 31.9L454.5 30.9L456.5 29.7L458.5 28.7L460.5 27.8L462.5 27.1L464.5 26.8L466.5 27.1L468.5 27.6L470.5 28.4L472.5 29.6L474.5 30.7L476.5 31.4L478.5 31.6L480.5 31.5L482.5 31.3L484.5 31.5L486.5 32.3L488.5 33.8L490.5 35.5L492.5 37.4L494.5 39.1L496.5 40.5L498.5 41.7L500.5 42.9L502.5 44.0L504.5 45.5L506.5 46.9L508.5 47.8L510.5 48.3L512.5 48.6L514.5 48.8L516.5 48.9" stroke="#7db7d7" stroke-width="0.70" fill="none"/>
<path d="M304.5 11.9L306.5 11.9L308.5 11.9L310.5 11.9L312.5 12.0L314.5 12.6L316.5 13.9L318.5 15.1L320.5 16.4L322.5 17.9L324.5 19.6L326.5 21.1L328.5 22.6L330.5 24.2L332.5 25.9L334.5 27.8L336.5 29.1L338.5 29.9L340.5 30.2L342.5 30.2L344.5 30.2L346.5 30.3L348.5 30.5L350.5 30.8L352.5 31.1L354.5 31.5L356.5 31.9L358.5 32.0L360.5 32.0L362.5 31.7L364.5 31.2L366.5 30.5L368.5 29.8L370.5 29.1L372.5 28.6L374.5 28.2L376.5 27.9L378.5 27.9L380.5 28.0L382.5 28.3L384.5 28.8L386.5 29.6L388.5 30.4L390.5 31.2L392.5 31.9L394.5 32.6L396.5 32.9L398.5 32.7L400.5 32.4L402.5 31.8L404.5 31.2L406.5 30.6L408.5 30.0L410.5 29.5L412.5 29.1L414.5 28.6L416.5 28.2L418.5 27.8L420.5 27.4L422.5 26.9L424.5 26.4L426.5 25.9L428.5 25.5L430.5 25.0L432.5 24.2L434.5 23.6L436.5 23.0L438.5 22.6L440.5 22.3L442.5 22.0L444.5 22.0L446.5 22.2L448.5 22.5L450.5 22.7L452.5 22.9L454.5 23.4L456.5 23.7L458.5 24.0L460.5 24.3L462.5 24.4L464.5 24.1L466.5 24.3L468.5 24.1L470.5 23.8L472.5 23.6L474.5 23.5L476.5 23.9L478.5 24.5L480.5 25.3L482.5 26.2L484.5 27.3L486.5 28.4L488.5 29.6L490.5 30.9L492.5 32.2L494.5 33.4L496.5 34.7L498.5 36.0L500.5 37.2L502.5 39.6L504.5 42.3L506.5 44.7L508.5 46.6L510.5 47.5L512.5 48.0L514.5 48.3L516.5 48.4" stroke="#e37e64" stroke-width="0.70" fill="none"/>
<path d="M304.5 12.4L306.5 12.4L308.5 12.4L310.5 12.5L312.5 12.6L314.5 14.0L316.5 16.7L318.5 21.1L320.5 24.8L322.5 26.7L324.5 28.5L326.5 30.1L328.5 31.5L330.5 32.6L332.5 33.6L334.5 34.5L336.5 35.4L338.5 36.3L340.5 37.1L342.5 37.8L344.5 38.3L346.5 38.6L348.5 38.8L350.5 38.8L352.5 38.7L354.5 38.5L356.5 38.2L358.5 37.9L360.5 37.7L362.5 37.7L364.5 37.3L366.5 37.0L368.5 38.1L370.5 39.1L372.5 39.4L374.5 39.7L376.5 39.8L378.5 39.9L380.5 39.8L382.5 39.7L384.5 39.5L386.5 39.3L388.5 38.9L390.5 38.3L392.5 37.6L394.5 36.8L396.5 36.0L398.5 35.5L400.5 34.9L402.5 34.2L404.5 33.5L406.5 32.8L408.5 32.2L410.5 31.7L412.5 31.2L414.5 30.8L416.5 30.4L418.5 30.0L420.5 29.5L422.5 29.1L424.5 28.8L426.5 28.5L428.5 28.5L430.5 28.7L432.5 29.6L434.5 30.5L436.5 31.5L438.5 32.3L440.5 33.0L442.5 33.6L444.5 33.9L446.5 34.0L448.5 33.7L450.5 33.1L452.5 32.3L454.5 31.3L456.5 30.2L458.5 29.2L460.5 28.2L462.5 27.6L464.5 27.3L466.5 27.5L468.5 28.1L470.5 28.9L472.5 30.0L474.5 31.1L476.5 31.8L478.5 32.1L480.5 31.9L482.5 31.8L484.5 32.0L486.5 32.8L488.5 34.3L490.5 36.0L492.5 37.8L494.5 39.5L496.5 41.0L498.5 42.2L500.5 43.3L502.5 44.4L504.5 45.9L506.5 47.1L508.5 48.0L510.5 48.5L512.5 48.8L514.5 49.0L516.5 49.0" stroke="#5fa5cd" stroke-width="0.70" fill="none"/>
<path d="M304.5 11.8L306.5 11.8L308.5 11.8L310.5 11.8L312.5 11.9L314.5 12.5L316.5 13.6L318.5 14.7L320.5 15.8L322.5 17.2L324.5 18.8L326.5 20.2L328.5 21.8L330.5 23.4L332.5 25.1L334.5 26.9L336.5 28.2L338.5 29.1L340.5 29.5L342.5 29.6L344.5 29.6L346.5 29.7L348.5 29.9L350.5 30.2L352.5 30.5L354.5 30.9L356.5 31.3L358.5 31.5L360.5 31.4L362.5 31.1L364.5 30.6L366.5 29.9L368.5 29.2L370.5 28.5L372.5 28.0L374.5 27.6L376.5 27.3L378.5 27.3L380.5 27.4L382.5 27.7L384.5 28.2L386.5 29.0L388.5 29.8L390.5 30.6L392.5 31.3L394.5 31.9L396.5 32.3L398.5 32.2L400.5 31.8L402.5 31.4L404.5 30.8L406.5 30.1L408.5 29.6L410.5 29.1L412.5 28.6L414.5 28.2L416.5 27.8L418.5 27.4L420.5 26.9L422.5 26.4L424.5 25.9L426.5 25.4L428.5 24.9L430.5 24.3L432.5 23.5L434.5 22.9L436.5 22.4L438.5 21.9L440.5 21.6L442.5 21.3L444.5 21.3L446.5 21.5L448.5 21.8L450.5 22.0L452.5 22.2L454.5 22.7L456.5 23.0L458.5 23.3L460.5 23.6L462.5 23.7L464.5 23.5L466.5 23.6L468.5 23.4L470.5 23.1L472.5 22.9L474.5 22.8L476.5 23.2L478.5 23.7L480.5 24.5L482.5 25.4L484.5 26.3L486.5 27.4L488.5 28.6L490.5 29.8L492.5 31.0L494.5 32.3L496.5 33.5L498.5 34.7L500.5 36.0L502.5 38.4L504.5 41.3L506.5 44.2L508.5 46.3L510.5 47.3L512.5 47.9L514.5 48.2L516.5 48.4" stroke="#d7634f" stroke-width="0.70" fill="none"/>
<path d="M304.5 12.5L306.5 12.5L308.5 12.5L310.5 12.6L312.5 12.7L314.5 14.3L316.5 17.4L318.5 22.0L320.5 25.9L322.5 27.8L324.5 29.6L326.5 31.2L328.5 32.5L330.5 33.5L332.5 34.5L334.5 35.3L336.5 36.2L338.5 37.0L340.5 37.7L342.5 38.4L344.5 38.9L346.5 39.2L348.5 39.4L350.5 39.3L352.5 39.2L354.5 39.0L356.5 38.7L358.5 38.4L360.5 38.2L362.5 38.2L364.5 37.9L366.5 37.8L368.5 38.7L370.5 39.6L372.5 39.9L374.5 40.2L376.5 40.3L378.5 40.4L380.5 40.3L382.5 40.2L384.5 40.0L386.5 39.8L388.5 39.4L390.5 38.8L392.5 38.0L394.5 37.3L396.5 36.5L398.5 35.9L400.5 35.3L402.5 34.6L404.5 33.8L406.5 33.1L408.5 32.5L410.5 32.0L412.5 31.5L414.5 31.1L416.5 30.7L418.5 30.3L420.5 29.9L422.5 29.4L424.5 29.1L426.5 28.9L428.5 28.9L430.5 29.2L432.5 30.0L434.5 31.0L436.5 31.9L438.5 32.8L440.5 33.5L442.5 34.1L444.5 34.4L446.5 34.5L448.5 34.2L450.5 33.6L452.5 32.8L454.5 31.8L456.5 30.7L458.5 29.6L460.5 28.7L462.5 28.0L464.5 27.7L466.5 28.0L468.5 28.5L470.5 29.3L472.5 30.5L474.5 31.6L476.5 32.3L478.5 32.5L480.5 32.4L482.5 32.2L484.5 32.4L486.5 33.2L488.5 34.7L490.5 36.4L492.5 38.2L494.5 39.9L496.5 41.4L498.5 42.6L500.5 43.7L502.5 44.9L504.5 46.2L506.5 47.4L508.5 48.3L510.5 48.7L512.5 49.0L514.5 49.1L516.5 49.2" stroke="#4392c3" stroke-width="0.70" fill="none"/>
<path d="M304.5 11.8L306.5 11.7L308.5 11.7L310.5 11.7L312.5 11.8L314.5 12.3L316.5 13.3L318.5 14.2L320.5 15.3L322.5 16.5L324.5 18.0L326.5 19.4L328.5 20.9L330.5 22.5L332.5 24.2L334.5 26.0L336.5 27.4L338.5 28.4L340.5 28.8L342.5 29.0L344.5 29.0L346.5 29.1L348.5 29.3L350.5 29.6L352.5 29.9L354.5 30.3L356.5 30.7L358.5 30.9L360.5 30.8L362.5 30.5L364.5 30.0L366.5 29.3L368.5 28.6L370.5 27.9L372.5 27.4L374.5 27.0L376.5 26.7L378.5 26.7L380.5 26.7L382.5 27.1L384.5 27.6L386.5 28.3L388.5 29.2L390.5 30.0L392.5 30.7L394.5 31.3L396.5 31.7L398.5 31.6L400.5 31.3L402.5 30.9L404.5 30.3L406.5 29.7L408.5 29.1L410.5 28.6L412.5 28.2L414.5 27.8L416.5 27.3L418.5 26.9L420.5 26.4L422.5 25.9L424.5 25.4L426.5 24.8L428.5 24.2L430.5 23.6L432.5 22.9L434.5 22.2L436.5 21.7L438.5 21.3L440.5 20.9L442.5 20.7L444.5 20.6L446.5 20.8L448.5 21.1L450.5 21.3L452.5 21.5L454.5 22.0L456.5 22.3L458.5 22.6L460.5 22.8L462.5 23.0L464.5 22.8L466.5 22.9L468.5 22.7L470.5 22.4L472.5 22.2L474.5 22.1L476.5 22.4L478.5 23.0L480.5 23.7L482.5 24.5L484.5 25.4L486.5 26.5L488.5 27.6L490.5 28.7L492.5 29.9L494.5 31.1L496.5 32.2L498.5 33.4L500.5 34.7L502.5 37.2L504.5 40.4L506.5 43.6L508.5 46.0L510.5 47.2L512.5 47.8L514.5 48.1L516.5 48.3" stroke="#ca4741" stroke-width="0.70" fill="none"/>
<path d="M304.5 12.6L306.5 12.6L308.5 12.7L310.5 12.7L312.5 12.8L314.5 14.6L316.5 18.1L318.5 23.0L320.5 26.9L322.5 29.0L324.5 30.7L326.5 32.2L328.5 33.4L330.5 34.5L332.5 35.4L334.5 36.2L336.5 36.9L338.5 37.7L340.5 38.4L342.5 39.0L344.5 39.5L346.5 39.7L348.5 39.9L350.5 39.9L352.5 39.7L354.5 39.5L356.5 39.2L358.5 38.9L360.5 38.7L362.5 38.7L364.5 38.6L366.5 38.5L368.5 39.3L370.5 40.1L372.5 40.4L374.5 40.7L376.5 40.8L378.5 40.9L380.5 40.8L382.5 40.7L384.5 40.5L386.5 40.3L388.5 39.8L390.5 39.3L392.5 38.5L394.5 37.8L396.5 37.0L398.5 36.4L400.5 35.7L402.5 34.9L404.5 34.2L406.5 33.4L408.5 32.8L410.5 32.3L412.5 31.9L414.5 31.4L416.5 31.0L418.5 30.6L420.5 30.2L422.5 29.8L424.5 29.5L426.5 29.3L428.5 29.3L430.5 29.7L432.5 30.5L434.5 31.5L436.5 32.4L438.5 33.2L440.5 34.0L442.5 34.5L444.5 34.9L446.5 34.9L448.5 34.6L450.5 34.1L452.5 33.2L454.5 32.3L456.5 31.1L458.5 30.1L460.5 29.1L462.5 28.5L464.5 28.2L466.5 28.4L468.5 29.0L470.5 29.8L472.5 30.9L474.5 32.0L476.5 32.7L478.5 33.0L480.5 32.8L482.5 32.6L484.5 32.8L486.5 33.7L488.5 35.1L490.5 36.8L492.5 38.7L494.5 40.4L496.5 41.8L498.5 43.0L500.5 44.2L502.5 45.3L504.5 46.6L506.5 47.7L508.5 48.5L510.5 48.9L512.5 49.2L514.5 49.3L516.5 49.3" stroke="#3682ba" stroke-width="0.70" fill="none"/>
<path d="M304.5 11.7L306.5 11.7L308.5 11.7L310.5 11.7L312.5 11.8L314.5 12.2L316.5 12.9L318.5 13.8L320.5 14.7L322.5 15.8L324.5 17.1L326.5 18.5L328.5 20.1L330.5 21.6L332.5 23.4L334.5 25.2L336.5 26.6L338.5 27.6L340.5 28.1L342.5 28.3L344.5 28.4L346.5 28.6L348.5 28.8L350.5 29.0L352.5 29.4L354.5 29.8L356.5 30.1L358.5 30.3L360.5 30.2L362.5 29.9L364.5 29.4L366.5 28.7L368.5 28.0L370.5 27.3L372.5 26.7L374.5 26.4L376.5 26.1L378.5 26.1L380.5 26.1L382.5 26.4L384.5 27.0L386.5 27.7L388.5 28.6L390.5 29.3L392.5 30.0L394.5 30.7L396.5 31.0L398.5 31.0L400.5 30.8L402.5 30.4L404.5 29.8L406.5 29.2L408.5 28.7L410.5 28.2L412.5 27.7L414.5 27.3L416.5 26.9L418.5 26.5L420.5 26.0L422.5 25.4L424.5 24.9L426.5 24.2L428.5 23.6L430.5 22.9L432.5 22.2L434.5 21.5L436.5 21.0L438.5 20.6L440.5 20.2L442.5 20.0L444.5 19.9L446.5 20.1L448.5 20.4L450.5 20.6L452.5 20.8L454.5 21.2L456.5 21.5L458.5 21.9L460.5 22.1L462.5 22.3L464.5 22.2L466.5 22.2L468.5 22.0L470.5 21.7L472.5 21.5L474.5 21.4L476.5 21.7L478.5 22.2L480.5 22.8L482.5 23.6L484.5 24.5L486.5 25.5L488.5 26.5L490.5 27.7L492.5 28.8L494.5 29.9L496.5 31.0L498.5 32.1L500.5 33.5L502.5 36.0L504.5 39.4L506.5 43.0L508.5 45.7L510.5 47.1L512.5 47.7L514.5 48.1L516.5 48.2" stroke="#bc2c34" stroke-width="0.70" fill="none"/>
<path d="M304.5 12.7L306.5 12.7L308.5 12.8L310.5 12.9L312.5 13.0L314.5 14.9L316.5 18.8L318.5 23.9L320.5 27.9L322.5 30.1L324.5 31.8L326.5 33.2L328.5 34.4L330.5 35.4L332.5 36.2L334.5 37.0L336.5 37.7L338.5 38.4L340.5 39.1L342.5 39.6L344.5 40.0L346.5 40.3L348.5 40.4L350.5 40.4L352.5 40.2L354.5 40.0L356.5 39.7L358.5 39.4L360.5 39.2L362.5 39.2L364.5 39.2L366.5 39.3L368.5 39.9L370.5 40.6L372.5 40.9L374.5 41.2L376.5 41.3L378.5 41.3L380.5 41.3L382.5 41.2L384.5 41.0L386.5 40.8L388.5 40.3L390.5 39.7L392.5 39.0L394.5 38.3L396.5 37.5L398.5 36.8L400.5 36.1L402.5 35.3L404.5 34.5L406.5 33.8L408.5 33.1L410.5 32.6L412.5 32.2L414.5 31.8L416.5 31.3L418.5 30.9L420.5 30.5L422.5 30.1L424.5 29.8L426.5 29.7L428.5 29.8L430.5 30.2L432.5 31.0L434.5 31.9L436.5 32.9L438.5 33.7L440.5 34.4L442.5 35.0L444.5 35.3L446.5 35.4L448.5 35.1L450.5 34.5L452.5 33.7L454.5 32.7L456.5 31.6L458.5 30.5L460.5 29.6L462.5 28.9L464.5 28.7L466.5 28.9L468.5 29.4L470.5 30.2L472.5 31.4L474.5 32.5L476.5 33.2L478.5 33.4L480.5 33.3L482.5 33.1L484.5 33.3L486.5 34.1L488.5 35.6L490.5 37.3L492.5 39.1L494.5 40.8L496.5 42.3L498.5 43.5L500.5 44.6L502.5 45.7L504.5 47.0L506.5 48.0L508.5 48.7L510.5 49.1L512.5 49.4L514.5 49.5L516.5 49.5" stroke="#2971b2" stroke-width="0.70" fill="none"/>
<path d="M304.5 11.6L306.5 11.6L308.5 11.6L310.5 11.6L312.5 11.7L314.5 12.0L316.5 12.6L318.5 13.3L320.5 14.1L322.5 15.1L324.5 16.3L326.5 17.7L328.5 19.2L330.5 20.8L332.5 22.5L334.5 24.3L336.5 25.8L338.5 26.9L340.5 27.4L342.5 27.7L344.5 27.8L346.5 28.0L348.5 28.2L350.5 28.5L352.5 28.8L354.5 29.2L356.5 29.5L358.5 29.7L360.5 29.6L362.5 29.3L364.5 28.8L366.5 28.1L368.5 27.4L370.5 26.7L372.5 26.1L374.5 25.7L376.5 25.5L378.5 25.4L380.5 25.5L382.5 25.8L384.5 26.4L386.5 27.1L388.5 27.9L390.5 28.7L392.5 29.4L394.5 30.0L396.5 30.4L398.5 30.5L400.5 30.3L402.5 29.9L404.5 29.4L406.5 28.8L408.5 28.2L410.5 27.7L412.5 27.3L414.5 26.9L416.5 26.4L418.5 26.0L420.5 25.5L422.5 25.0L424.5 24.4L426.5 23.7L428.5 23.0L430.5 22.2L432.5 21.5L434.5 20.9L436.5 20.3L438.5 19.9L440.5 19.5L442.5 19.3L444.5 19.2L446.5 19.4L448.5 19.7L450.5 19.9L452.5 20.1L454.5 20.5L456.5 20.8L458.5 21.2L460.5 21.4L462.5 21.5L464.5 21.5L466.5 21.5L468.5 21.2L470.5 21.0L472.5 20.7L474.5 20.7L476.5 20.9L478.5 21.4L480.5 22.0L482.5 22.7L484.5 23.6L486.5 24.5L488.5 25.5L490.5 26.6L492.5 27.6L494.5 28.7L496.5 29.7L498.5 30.9L500.5 32.3L502.5 34.8L504.5 38.5L506.5 42.4L508.5 45.4L510.5 46.9L512.5 47.6L514.5 48.0L516.5 48.2" stroke="#a9152a" stroke-width="0.70" fill="none"/>
<path d="M304.5 12.8L306.5 12.8L308.5 12.9L310.5 13.0L312.5 13.1L314.5 15.2L316.5 19.5L318.5 24.9L320.5 29.0L322.5 31.2L324.5 32.9L326.5 34.3L328.5 35.4L330.5 36.3L332.5 37.1L334.5 37.8L336.5 38.5L338.5 39.1L340.5 39.7L342.5 40.2L344.5 40.6L346.5 40.9L348.5 41.0L350.5 40.9L352.5 40.8L354.5 40.5L356.5 40.2L358.5 39.9L360.5 39.7L362.5 39.7L364.5 39.8L366.5 40.0L368.5 40.6L370.5 41.1L372.5 41.4L374.5 41.6L376.5 41.8L378.5 41.8L380.5 41.8L382.5 41.7L384.5 41.5L386.5 41.2L388.5 40.8L390.5 40.2L392.5 39.5L394.5 38.7L396.5 38.0L398.5 37.2L400.5 36.4L402.5 35.7L404.5 34.9L406.5 34.1L408.5 33.5L410.5 33.0L412.5 32.5L414.5 32.1L416.5 31.7L418.5 31.3L420.5 30.9L422.5 30.4L424.5 30.2L426.5 30.1L428.5 30.2L430.5 30.7L432.5 31.4L434.5 32.4L436.5 33.3L438.5 34.2L440.5 34.9L442.5 35.4L444.5 35.8L446.5 35.8L448.5 35.5L450.5 35.0L452.5 34.1L454.5 33.2L456.5 32.0L458.5 31.0L460.5 30.1L462.5 29.4L464.5 29.1L466.5 29.3L468.5 29.9L470.5 30.7L472.5 31.8L474.5 32.9L476.5 33.6L478.5 33.9L480.5 33.7L482.5 33.5L484.5 33.7L486.5 34.6L488.5 36.0L490.5 37.7L492.5 39.6L494.5 41.3L496.5 42.7L498.5 43.9L500.5 45.1L502.5 46.2L504.5 47.3L506.5 48.3L508.5 49.0L510.5 49.4L512.5 49.6L514.5 49.6L516.5 49.6" stroke="#1d5fa2" stroke-width="0.70" fill="none"/>
<path d="M304.5 11.5L306.5 11.5L308.5 11.5L310.5 11.5L312.5 11.6L314.5 11.9L316.5 12.3L318.5 12.8L320.5 13.5L322.5 14.4L324.5 15.5L326.5 16.8L328.5 18.3L330.5 19.9L332.5 21.7L334.5 23.5L336.5 25.0L338.5 26.1L340.5 26.7L342.5 27.0L344.5 27.2L346.5 27.4L348.5 27.6L350.5 27.9L352.5 28.2L354.5 28.6L356.5 28.9L358.5 29.1L360.5 29.1L362.5 28.7L364.5 28.2L366.5 27.5L368.5 26.8L370.5 26.1L372.5 25.5L374.5 25.1L376.5 24.9L378.5 24.8L380.5 24.9L382.5 25.2L384.5 25.7L386.5 26.5L388.5 27.3L390.5 28.1L392.5 28.8L394.5 29.4L396.5 29.8L398.5 29.9L400.5 29.8L402.5 29.4L404.5 28.9L406.5 28.3L408.5 27.8L410.5 27.3L412.5 26.8L414.5 26.4L416.5 26.0L418.5 25.6L420.5 25.1L422.5 24.5L424.5 23.9L426.5 23.1L428.5 22.3L430.5 21.6L432.5 20.8L434.5 20.2L436.5 19.6L438.5 19.2L440.5 18.8L442.5 18.6L444.5 18.5L446.5 18.7L448.5 19.0L450.5 19.2L452.5 19.4L454.5 19.7L456.5 20.1L458.5 20.5L460.5 20.7L462.5 20.8L464.5 20.9L466.5 20.7L468.5 20.5L470.5 20.3L472.5 20.0L474.5 20.0L476.5 20.2L478.5 20.6L480.5 21.2L482.5 21.9L484.5 22.7L486.5 23.6L488.5 24.5L490.5 25.5L492.5 26.5L494.5 27.5L496.5 28.5L498.5 29.6L500.5 31.0L502.5 33.6L504.5 37.5L506.5 41.8L508.5 45.1L510.5 46.8L512.5 47.5L514.5 47.9L516.5 48.1" stroke="#8c0c25" stroke-width="1.25" fill="none"/>
<path d="M304.5 12.9L306.5 12.9L308.5 13.0L310.5 13.1L312.5 13.3L314.5 15.5L316.5 20.2L318.5 25.9L320.5 30.0L322.5 32.3L324.5 34.0L326.5 35.3L328.5 36.4L330.5 37.2L332.5 38.0L334.5 38.6L336.5 39.2L338.5 39.9L340.5 40.4L342.5 40.9L344.5 41.2L346.5 41.4L348.5 41.5L350.5 41.5L352.5 41.3L354.5 41.0L356.5 40.7L358.5 40.4L360.5 40.2L362.5 40.2L364.5 40.4L366.5 40.8L368.5 41.2L370.5 41.6L372.5 41.9L374.5 42.1L376.5 42.3L378.5 42.3L380.5 42.3L382.5 42.1L384.5 42.0L386.5 41.7L388.5 41.3L390.5 40.7L392.5 40.0L394.5 39.2L396.5 38.4L398.5 37.6L400.5 36.8L402.5 36.0L404.5 35.2L406.5 34.4L408.5 33.8L410.5 33.3L412.5 32.8L414.5 32.4L416.5 32.0L418.5 31.6L420.5 31.2L422.5 30.8L424.5 30.5L426.5 30.5L428.5 30.7L430.5 31.1L432.5 31.9L434.5 32.9L436.5 33.8L438.5 34.6L440.5 35.3L442.5 35.9L444.5 36.3L446.5 36.3L448.5 36.0L450.5 35.4L452.5 34.6L454.5 33.6L456.5 32.5L458.5 31.4L460.5 30.5L462.5 29.9L464.5 29.6L466.5 29.8L468.5 30.3L470.5 31.1L472.5 32.3L474.5 33.4L476.5 34.1L478.5 34.3L480.5 34.2L482.5 34.0L484.5 34.2L486.5 35.0L488.5 36.5L490.5 38.2L492.5 40.0L494.5 41.7L496.5 43.1L498.5 44.4L500.5 45.5L502.5 46.6L504.5 47.7L506.5 48.6L508.5 49.2L510.5 49.6L512.5 49.7L514.5 49.8L516.5 49.8" stroke="#134b86" stroke-width="1.25" fill="none"/></g>
<g clip-path="url(#c10)"><path d="M60.5 134.3L62.5 133.6L64.5 132.4L66.5 131.1L68.5 129.4L70.5 127.5L72.5 124.8L74.5 122.1L76.5 120.2L78.5 118.5L80.5 116.9L82.5 115.2L84.5 113.7L86.5 111.6L88.5 109.4L90.5 107.2L92.5 105.3L94.5 104.4L96.5 103.5L98.5 102.5L100.5 101.6L102.5 100.7L104.5 99.7L106.5 98.7L108.5 97.7L110.5 96.7L112.5 96.4L114.5 96.3L116.5 96.0L118.5 95.9L120.5 95.6L122.5 95.0L124.5 94.2L126.5 93.5L128.5 92.7L130.5 91.6L132.5 90.6L134.5 89.8L136.5 89.3L138.5 88.9L140.5 88.7L142.5 88.6L144.5 88.6L146.5 89.0L148.5 89.7L150.5 90.6L152.5 91.6L154.5 92.7L156.5 93.2L158.5 93.2L160.5 92.8L162.5 92.3L164.5 91.6L166.5 90.9L168.5 90.2L170.5 89.5L172.5 89.0L174.5 88.7L176.5 88.8L178.5 89.0L180.5 89.6L182.5 90.2L184.5 90.8L186.5 91.4L188.5 91.9L190.5 91.7L192.5 91.3L194.5 90.9L196.5 90.4L198.5 89.8L200.5 89.3L202.5 88.8L204.5 88.2L206.5 87.6L208.5 87.0L210.5 86.5L212.5 86.0L214.5 85.4L216.5 84.5L218.5 83.1L220.5 81.5L222.5 79.9L224.5 79.8L226.5 79.3L228.5 78.5L230.5 77.3L232.5 76.2L234.5 75.5L236.5 74.9L238.5 74.3L240.5 73.8L242.5 73.1L244.5 72.3L246.5 71.4L248.5 70.6L250.5 69.3L252.5 66.7L254.5 64.0L256.5 61.2L258.5 58.4L260.5 56.2L262.5 55.4L264.5 54.5L266.5 53.6L268.5 52.8L270.5 52.0L272.5 51.6" stroke="#f8f0ec" stroke-width="0.60" fill="none"/>
<path d="M60.5 135.0L62.5 134.4L64.5 133.2L66.5 131.9L68.5 130.3L70.5 128.5L72.5 126.5L74.5 124.6L76.5 123.0L78.5 121.6L80.5 120.2L82.5 118.2L84.5 116.3L86.5 114.1L88.5 111.8L90.5 109.4L92.5 107.4L94.5 106.2L96.5 105.0L98.5 103.8L100.5 102.6L102.5 101.9L104.5 101.0L106.5 100.1L108.5 98.9L110.5 97.8L112.5 97.3L114.5 97.1L116.5 96.6L118.5 96.3L120.5 95.9L122.5 95.2L124.5 94.5L126.5 93.8L128.5 92.9L130.5 91.8L132.5 90.9L134.5 90.1L136.5 89.6L138.5 89.3L140.5 89.1L142.5 89.0L144.5 89.1L146.5 89.5L148.5 90.2L150.5 91.0L152.5 91.9L154.5 92.9L156.5 93.4L158.5 93.4L160.5 93.0L162.5 92.4L164.5 91.8L166.5 91.0L168.5 90.3L170.5 89.7L172.5 89.1L174.5 88.9L176.5 89.0L178.5 89.6L180.5 90.5L182.5 91.1L184.5 91.6L186.5 92.0L188.5 92.3L190.5 92.1L192.5 91.7L194.5 91.2L196.5 90.7L198.5 90.0L200.5 89.5L202.5 89.0L204.5 88.4L206.5 87.8L208.5 87.2L210.5 86.7L212.5 86.2L214.5 85.6L216.5 84.7L218.5 83.5L220.5 81.9L222.5 80.7L224.5 80.4L226.5 80.1L228.5 79.4L230.5 78.1L232.5 77.2L234.5 76.4L236.5 75.8L238.5 75.3L240.5 74.7L242.5 74.1L244.5 73.5L246.5 72.7L248.5 72.0L250.5 70.8L252.5 68.1L254.5 65.3L256.5 62.4L258.5 59.4L260.5 57.0L262.5 56.1L264.5 55.2L266.5 54.2L268.5 53.3L270.5 52.4L272.5 51.9" stroke="#eef3f5" stroke-width="0.60" fill="none"/>
<path d="M60.5 133.5L62.5 132.8L64.5 131.6L66.5 130.2L68.5 128.5L70.5 126.6L72.5 123.1L74.5 119.7L76.5 117.3L78.5 115.3L80.5 113.6L82.5 112.3L84.5 111.1L86.5 109.1L88.5 107.0L90.5 104.9L92.5 103.2L94.5 102.6L96.5 102.0L98.5 101.3L100.5 100.5L102.5 99.5L104.5 98.5L106.5 97.4L108.5 96.4L110.5 95.7L112.5 95.5L114.5 95.4L116.5 95.4L118.5 95.4L120.5 95.3L122.5 94.7L124.5 94.0L126.5 93.3L128.5 92.4L130.5 91.3L132.5 90.3L134.5 89.5L136.5 88.9L138.5 88.5L140.5 88.2L142.5 88.1L144.5 88.1L146.5 88.6L148.5 89.2L150.5 90.2L152.5 91.2L154.5 92.4L156.5 93.0L158.5 93.1L160.5 92.7L162.5 92.2L164.5 91.5L166.5 90.8L168.5 90.1L170.5 89.4L172.5 88.8L174.5 88.5L176.5 88.5L178.5 88.3L180.5 88.7L182.5 89.2L184.5 89.9L186.5 90.8L188.5 91.4L190.5 91.2L192.5 90.9L194.5 90.5L196.5 90.1L198.5 89.5L200.5 89.1L202.5 88.6L204.5 88.0L206.5 87.4L208.5 86.8L210.5 86.3L212.5 85.7L214.5 85.1L216.5 84.2L218.5 82.8L220.5 81.0L222.5 79.2L224.5 79.1L226.5 78.6L228.5 77.7L230.5 76.4L232.5 75.3L234.5 74.6L236.5 74.0L238.5 73.4L240.5 72.8L242.5 72.0L244.5 71.1L246.5 70.1L248.5 69.1L250.5 67.8L252.5 65.2L254.5 62.7L256.5 60.1L258.5 57.5L260.5 55.4L262.5 54.7L264.5 53.9L266.5 53.1L268.5 52.3L270.5 51.5L272.5 51.2" stroke="#f6b090" stroke-width="0.60" fill="none"/>
<path d="M60.5 135.8L62.5 135.1L64.5 134.0L66.5 132.7L68.5 131.2L70.5 129.4L72.5 128.1L74.5 127.0L76.5 125.9L78.5 124.8L80.5 123.4L82.5 121.1L84.5 118.8L86.5 116.5L88.5 114.2L90.5 111.7L92.5 109.4L94.5 108.0L96.5 106.5L98.5 105.0L100.5 103.7L102.5 103.1L104.5 102.3L106.5 101.5L108.5 100.2L110.5 98.9L112.5 98.2L114.5 97.9L116.5 97.3L118.5 96.8L120.5 96.2L122.5 95.5L124.5 94.7L126.5 94.0L128.5 93.2L130.5 92.1L132.5 91.1L134.5 90.4L136.5 90.0L138.5 89.7L140.5 89.5L142.5 89.5L144.5 89.6L146.5 90.0L148.5 90.6L150.5 91.4L152.5 92.3L154.5 93.2L156.5 93.6L158.5 93.5L160.5 93.1L162.5 92.5L164.5 91.9L166.5 91.1L168.5 90.5L170.5 89.8L172.5 89.3L174.5 89.1L176.5 89.3L178.5 90.3L180.5 91.3L182.5 92.1L184.5 92.5L186.5 92.7L188.5 92.8L190.5 92.6L192.5 92.1L194.5 91.6L196.5 91.0L198.5 90.3L200.5 89.8L202.5 89.2L204.5 88.6L206.5 88.0L208.5 87.5L210.5 86.9L212.5 86.4L214.5 85.9L216.5 85.0L218.5 83.8L220.5 82.3L222.5 81.4L224.5 81.0L226.5 80.8L228.5 80.2L230.5 79.0L232.5 78.1L234.5 77.4L236.5 76.7L238.5 76.2L240.5 75.6L242.5 75.2L244.5 74.7L246.5 74.0L248.5 73.4L250.5 72.3L252.5 69.6L254.5 66.6L256.5 63.5L258.5 60.3L260.5 57.8L262.5 56.8L264.5 55.8L266.5 54.8L268.5 53.7L270.5 52.8L272.5 52.3" stroke="#98c8e0" stroke-width="0.60" fill="none"/>
<path d="M60.5 132.5L62.5 131.8L64.5 130.6L66.5 129.2L68.5 127.4L70.5 125.4L72.5 122.0L74.5 118.6L76.5 116.2L78.5 114.3L80.5 112.6L82.5 111.3L84.5 110.2L86.5 108.3L88.5 106.2L90.5 104.3L92.5 102.6L94.5 102.1L96.5 101.5L98.5 100.8L100.5 100.0L102.5 99.1L104.5 98.1L106.5 97.0L108.5 96.0L110.5 95.4L112.5 95.2L114.5 95.2L116.5 95.2L118.5 95.2L120.5 95.1L122.5 94.5L124.5 93.8L126.5 93.1L128.5 92.2L130.5 91.1L132.5 90.1L134.5 89.3L136.5 88.7L138.5 88.3L140.5 88.0L142.5 87.9L144.5 87.9L146.5 88.3L148.5 89.0L150.5 89.9L152.5 91.0L154.5 92.2L156.5 92.9L158.5 92.9L160.5 92.6L162.5 92.1L164.5 91.4L166.5 90.7L168.5 90.0L170.5 89.3L172.5 88.7L174.5 88.3L176.5 88.2L178.5 88.1L180.5 88.4L182.5 88.9L184.5 89.5L186.5 90.3L188.5 90.9L190.5 90.8L192.5 90.5L194.5 90.2L196.5 89.9L198.5 89.3L200.5 88.9L202.5 88.4L204.5 87.8L206.5 87.2L208.5 86.7L210.5 86.1L212.5 85.6L214.5 84.9L216.5 84.0L218.5 82.6L220.5 80.8L222.5 78.9L224.5 78.7L226.5 78.0L228.5 76.9L230.5 75.5L232.5 74.5L234.5 73.8L236.5 73.2L238.5 72.6L240.5 72.0L242.5 71.2L244.5 70.3L246.5 69.3L248.5 68.4L250.5 67.1L252.5 64.7L254.5 62.2L256.5 59.8L258.5 57.3L260.5 55.3L262.5 54.6L264.5 53.8L266.5 53.0L268.5 52.2L270.5 51.5L272.5 51.1" stroke="#f4a785" stroke-width="0.60" fill="none"/>
<path d="M60.5 136.0L62.5 135.4L64.5 134.2L66.5 133.0L68.5 131.5L70.5 129.8L72.5 128.5L74.5 127.4L76.5 126.4L78.5 125.3L80.5 123.9L82.5 121.7L84.5 119.5L86.5 117.3L88.5 115.0L90.5 112.7L92.5 110.4L94.5 109.0L96.5 107.6L98.5 106.1L100.5 104.7L102.5 104.0L104.5 103.2L106.5 102.3L108.5 101.0L110.5 99.6L112.5 98.8L114.5 98.4L116.5 97.6L118.5 97.1L120.5 96.5L122.5 95.7L124.5 94.9L126.5 94.2L128.5 93.3L130.5 92.3L132.5 91.4L134.5 90.7L136.5 90.3L138.5 90.1L140.5 90.0L142.5 90.0L144.5 90.1L146.5 90.5L148.5 91.1L150.5 91.8L152.5 92.6L154.5 93.4L156.5 93.8L158.5 93.7L160.5 93.2L162.5 92.6L164.5 92.0L166.5 91.2L168.5 90.6L170.5 89.9L172.5 89.4L174.5 89.3L176.5 89.6L178.5 90.6L180.5 91.6L182.5 92.3L184.5 92.8L186.5 92.9L188.5 93.1L190.5 92.8L192.5 92.3L194.5 91.8L196.5 91.2L198.5 90.5L200.5 90.0L202.5 89.4L204.5 88.8L206.5 88.2L208.5 87.6L210.5 87.1L212.5 86.6L214.5 86.1L216.5 85.3L218.5 84.1L220.5 82.7L222.5 81.9L224.5 81.5L226.5 81.4L228.5 80.8L230.5 79.7L232.5 78.7L234.5 78.0L236.5 77.4L238.5 76.9L240.5 76.3L242.5 75.8L244.5 75.3L246.5 74.7L248.5 74.1L250.5 73.0L252.5 70.3L254.5 67.5L256.5 64.5L258.5 61.4L260.5 58.9L262.5 57.9L264.5 56.8L266.5 55.6L268.5 54.4L270.5 53.4L272.5 52.9" stroke="#8ec2dd" stroke-width="0.60" fill="none"/>
<path d="M60.5 131.4L62.5 130.8L64.5 129.6L66.5 128.2L68.5 126.4L70.5 124.3L72.5 120.9L74.5 117.5L76.5 115.2L78.5 113.3L80.5 111.7L82.5 110.4L84.5 109.3L86.5 107.5L88.5 105.5L90.5 103.6L92.5 102.1L94.5 101.5L96.5 101.0L98.5 100.3L100.5 99.6L102.5 98.6L104.5 97.7L106.5 96.7L108.5 95.7L110.5 95.1L112.5 94.9L114.5 94.9L116.5 94.9L118.5 94.9L120.5 94.8L122.5 94.3L124.5 93.6L126.5 92.9L128.5 92.1L130.5 90.9L132.5 90.0L134.5 89.2L136.5 88.5L138.5 88.1L140.5 87.8L142.5 87.7L144.5 87.7L146.5 88.1L148.5 88.8L150.5 89.7L152.5 90.8L154.5 92.0L156.5 92.7L158.5 92.8L160.5 92.5L162.5 92.0L164.5 91.4L166.5 90.6L168.5 89.9L170.5 89.2L172.5 88.5L174.5 88.1L176.5 88.0L178.5 87.8L180.5 88.1L182.5 88.5L184.5 89.1L186.5 89.8L188.5 90.4L190.5 90.3L192.5 90.1L194.5 89.9L196.5 89.6L198.5 89.1L200.5 88.7L202.5 88.2L204.5 87.7L206.5 87.1L208.5 86.5L210.5 85.9L212.5 85.4L214.5 84.8L216.5 83.8L218.5 82.4L220.5 80.6L222.5 78.7L224.5 78.2L226.5 77.3L228.5 76.1L230.5 74.7L232.5 73.7L234.5 73.0L236.5 72.4L238.5 71.8L240.5 71.2L242.5 70.4L244.5 69.5L246.5 68.6L248.5 67.7L250.5 66.4L252.5 64.1L254.5 61.8L256.5 59.5L258.5 57.1L260.5 55.2L262.5 54.4L264.5 53.7L266.5 52.9L268.5 52.2L270.5 51.4L272.5 51.1" stroke="#f09d7c" stroke-width="0.60" fill="none"/>
<path d="M60.5 136.2L62.5 135.6L64.5 134.5L66.5 133.2L68.5 131.8L70.5 130.2L72.5 128.9L74.5 127.9L76.5 126.8L78.5 125.7L80.5 124.4L82.5 122.3L84.5 120.2L86.5 118.0L88.5 115.9L90.5 113.6L92.5 111.4L94.5 110.0L96.5 108.6L98.5 107.1L100.5 105.8L102.5 105.0L104.5 104.2L106.5 103.2L108.5 101.9L110.5 100.4L112.5 99.4L114.5 98.8L116.5 98.0L118.5 97.4L120.5 96.7L122.5 95.9L124.5 95.2L126.5 94.4L128.5 93.5L130.5 92.5L132.5 91.7L134.5 91.0L136.5 90.7L138.5 90.5L140.5 90.5L142.5 90.5L144.5 90.6L146.5 91.1L148.5 91.6L150.5 92.3L152.5 93.0L154.5 93.7L156.5 94.0L158.5 93.8L160.5 93.3L162.5 92.7L164.5 92.1L166.5 91.3L168.5 90.7L170.5 90.0L172.5 89.6L174.5 89.5L176.5 89.8L178.5 90.8L180.5 91.9L182.5 92.6L184.5 93.0L186.5 93.2L188.5 93.3L190.5 93.0L192.5 92.6L194.5 92.0L196.5 91.4L198.5 90.7L200.5 90.1L202.5 89.6L204.5 89.0L206.5 88.4L208.5 87.8L210.5 87.3L212.5 86.8L214.5 86.3L216.5 85.5L218.5 84.5L220.5 83.1L222.5 82.4L224.5 82.0L226.5 81.9L228.5 81.3L230.5 80.3L232.5 79.4L234.5 78.7L236.5 78.1L238.5 77.5L240.5 77.0L242.5 76.5L244.5 76.0L246.5 75.4L248.5 74.7L250.5 73.7L252.5 71.1L254.5 68.4L256.5 65.5L258.5 62.4L260.5 60.0L262.5 59.0L264.5 57.7L266.5 56.4L268.5 55.2L270.5 54.0L272.5 53.4" stroke="#82bbd8" stroke-width="0.60" fill="none"/>
<path d="M60.5 130.4L62.5 129.8L64.5 128.6L66.5 127.2L68.5 125.3L70.5 123.2L72.5 119.8L74.5 116.5L76.5 114.2L78.5 112.3L80.5 110.7L82.5 109.4L84.5 108.3L86.5 106.6L88.5 104.8L90.5 103.0L92.5 101.5L94.5 101.0L96.5 100.5L98.5 99.8L100.5 99.1L102.5 98.2L104.5 97.3L106.5 96.3L108.5 95.4L110.5 94.8L112.5 94.6L114.5 94.6L116.5 94.7L118.5 94.7L120.5 94.6L122.5 94.1L124.5 93.4L126.5 92.7L128.5 91.9L130.5 90.8L132.5 89.8L134.5 89.0L136.5 88.3L138.5 87.9L140.5 87.6L142.5 87.4L144.5 87.5L146.5 87.9L148.5 88.5L150.5 89.5L152.5 90.6L154.5 91.9L156.5 92.6L158.5 92.7L160.5 92.4L162.5 91.9L164.5 91.3L166.5 90.5L168.5 89.8L170.5 89.1L172.5 88.4L174.5 88.0L176.5 87.8L178.5 87.6L180.5 87.8L182.5 88.1L184.5 88.7L186.5 89.3L188.5 89.9L190.5 89.9L192.5 89.8L194.5 89.6L196.5 89.4L198.5 88.9L200.5 88.6L202.5 88.1L204.5 87.5L206.5 86.9L208.5 86.3L210.5 85.8L212.5 85.2L214.5 84.6L216.5 83.6L218.5 82.2L220.5 80.4L222.5 78.4L224.5 77.7L226.5 76.7L228.5 75.3L230.5 73.9L232.5 72.8L234.5 72.2L236.5 71.5L238.5 71.0L240.5 70.4L242.5 69.6L244.5 68.7L246.5 67.9L248.5 67.0L250.5 65.7L252.5 63.5L254.5 61.3L256.5 59.1L258.5 56.9L260.5 55.1L262.5 54.3L264.5 53.6L266.5 52.8L268.5 52.1L270.5 51.4L272.5 51.0" stroke="#ec9273" stroke-width="0.60" fill="none"/>
<path d="M60.5 136.5L62.5 135.8L64.5 134.7L66.5 133.5L68.5 132.1L70.5 130.6L72.5 129.3L74.5 128.3L76.5 127.2L78.5 126.2L80.5 124.9L82.5 122.9L84.5 120.8L86.5 118.8L88.5 116.7L90.5 114.5L92.5 112.4L94.5 111.0L96.5 109.6L98.5 108.2L100.5 106.8L102.5 106.0L104.5 105.1L106.5 104.1L108.5 102.7L110.5 101.1L112.5 100.0L114.5 99.3L116.5 98.4L118.5 97.7L120.5 97.0L122.5 96.2L124.5 95.4L126.5 94.6L128.5 93.7L130.5 92.7L132.5 91.9L134.5 91.4L136.5 91.1L138.5 90.9L140.5 90.9L142.5 91.0L144.5 91.2L146.5 91.6L148.5 92.1L150.5 92.7L152.5 93.3L154.5 93.9L156.5 94.2L158.5 93.9L160.5 93.4L162.5 92.8L164.5 92.2L166.5 91.4L168.5 90.8L170.5 90.2L172.5 89.7L174.5 89.7L176.5 90.1L178.5 91.1L180.5 92.1L182.5 92.9L184.5 93.3L186.5 93.5L188.5 93.6L190.5 93.3L192.5 92.8L194.5 92.3L196.5 91.6L198.5 90.9L200.5 90.3L202.5 89.8L204.5 89.2L206.5 88.6L208.5 88.0L210.5 87.5L212.5 87.0L214.5 86.5L216.5 85.8L218.5 84.8L220.5 83.5L222.5 82.8L224.5 82.6L226.5 82.4L228.5 81.9L230.5 80.9L232.5 80.0L234.5 79.3L236.5 78.7L238.5 78.2L240.5 77.7L242.5 77.2L244.5 76.7L246.5 76.0L248.5 75.4L250.5 74.3L252.5 71.9L254.5 69.3L256.5 66.5L258.5 63.5L260.5 61.2L262.5 60.0L264.5 58.7L266.5 57.3L268.5 55.9L270.5 54.6L272.5 54.0" stroke="#76b3d4" stroke-width="0.60" fill="none"/>
<path d="M60.5 129.4L62.5 128.8L64.5 127.6L66.5 126.2L68.5 124.2L70.5 122.0L72.5 118.6L74.5 115.4L76.5 113.1L78.5 111.2L80.5 109.7L82.5 108.5L84.5 107.4L86.5 105.8L88.5 104.0L90.5 102.3L92.5 101.0L94.5 100.5L96.5 99.9L98.5 99.4L100.5 98.7L102.5 97.8L104.5 96.9L106.5 96.0L108.5 95.1L110.5 94.5L112.5 94.3L114.5 94.4L116.5 94.4L118.5 94.5L120.5 94.4L122.5 93.9L124.5 93.2L126.5 92.5L128.5 91.7L130.5 90.6L132.5 89.6L134.5 88.8L136.5 88.1L138.5 87.7L140.5 87.4L142.5 87.2L144.5 87.2L146.5 87.6L148.5 88.3L150.5 89.2L152.5 90.4L154.5 91.7L156.5 92.4L158.5 92.6L160.5 92.3L162.5 91.8L164.5 91.2L166.5 90.4L168.5 89.7L170.5 88.9L172.5 88.3L174.5 87.8L176.5 87.6L178.5 87.3L180.5 87.5L182.5 87.8L184.5 88.2L186.5 88.9L188.5 89.4L190.5 89.5L192.5 89.4L194.5 89.3L196.5 89.1L198.5 88.7L200.5 88.4L202.5 87.9L204.5 87.4L206.5 86.8L208.5 86.2L210.5 85.6L212.5 85.0L214.5 84.4L216.5 83.4L218.5 82.0L220.5 80.1L222.5 78.1L224.5 77.2L226.5 76.0L228.5 74.6L230.5 73.1L232.5 72.0L234.5 71.3L236.5 70.7L238.5 70.2L240.5 69.6L242.5 68.8L244.5 68.0L246.5 67.1L248.5 66.2L250.5 65.1L252.5 63.0L254.5 60.9L256.5 58.8L258.5 56.7L260.5 55.0L262.5 54.2L264.5 53.5L266.5 52.8L268.5 52.0L270.5 51.3L272.5 51.0" stroke="#e7876b" stroke-width="0.60" fill="none"/>
<path d="M60.5 136.7L62.5 136.1L64.5 135.0L66.5 133.8L68.5 132.4L70.5 130.9L72.5 129.7L74.5 128.7L76.5 127.7L78.5 126.7L80.5 125.4L82.5 123.4L84.5 121.5L86.5 119.6L88.5 117.6L90.5 115.5L92.5 113.5L94.5 112.1L96.5 110.7L98.5 109.2L100.5 107.9L102.5 107.0L104.5 106.0L106.5 104.9L108.5 103.5L110.5 101.8L112.5 100.6L114.5 99.8L116.5 98.8L118.5 98.0L120.5 97.3L122.5 96.4L124.5 95.6L126.5 94.8L128.5 93.9L130.5 93.0L132.5 92.2L134.5 91.7L136.5 91.4L138.5 91.4L140.5 91.4L142.5 91.6L144.5 91.7L146.5 92.1L148.5 92.6L150.5 93.1L152.5 93.7L154.5 94.2L156.5 94.4L158.5 94.1L160.5 93.6L162.5 92.9L164.5 92.3L166.5 91.5L168.5 90.9L170.5 90.3L172.5 89.9L174.5 89.9L176.5 90.3L178.5 91.4L180.5 92.4L182.5 93.1L184.5 93.6L186.5 93.7L188.5 93.8L190.5 93.5L192.5 93.1L194.5 92.5L196.5 91.9L198.5 91.1L200.5 90.5L202.5 89.9L204.5 89.3L206.5 88.7L208.5 88.2L210.5 87.7L212.5 87.2L214.5 86.7L216.5 86.0L218.5 85.1L220.5 84.0L222.5 83.3L224.5 83.1L226.5 82.9L228.5 82.5L230.5 81.5L232.5 80.6L234.5 80.0L236.5 79.4L238.5 78.9L240.5 78.4L242.5 77.9L244.5 77.3L246.5 76.7L248.5 76.0L250.5 75.0L252.5 72.7L254.5 70.2L256.5 67.4L258.5 64.6L260.5 62.3L262.5 61.1L264.5 59.7L266.5 58.1L268.5 56.6L270.5 55.2L272.5 54.6" stroke="#6aabd0" stroke-width="0.60" fill="none"/>
<path d="M60.5 128.3L62.5 127.8L64.5 126.6L66.5 125.2L68.5 123.2L70.5 120.9L72.5 117.5L74.5 114.3L76.5 112.1L78.5 110.2L80.5 108.7L82.5 107.5L84.5 106.5L86.5 104.9L88.5 103.3L90.5 101.7L92.5 100.4L94.5 99.9L96.5 99.4L98.5 98.9L100.5 98.2L102.5 97.4L104.5 96.5L106.5 95.6L108.5 94.8L110.5 94.2L112.5 94.1L114.5 94.1L116.5 94.2L118.5 94.2L120.5 94.1L122.5 93.7L124.5 93.0L126.5 92.3L128.5 91.5L130.5 90.4L132.5 89.4L134.5 88.6L136.5 88.0L138.5 87.5L140.5 87.2L142.5 87.0L144.5 87.0L146.5 87.4L148.5 88.1L150.5 89.0L152.5 90.2L154.5 91.5L156.5 92.3L158.5 92.4L160.5 92.2L162.5 91.7L164.5 91.1L166.5 90.4L168.5 89.6L170.5 88.8L172.5 88.1L174.5 87.6L176.5 87.4L178.5 87.1L180.5 87.2L182.5 87.4L184.5 87.8L186.5 88.4L188.5 88.9L190.5 89.0L192.5 89.0L194.5 89.0L196.5 88.9L198.5 88.6L200.5 88.2L202.5 87.7L204.5 87.2L206.5 86.6L208.5 86.0L210.5 85.4L212.5 84.9L214.5 84.2L216.5 83.2L218.5 81.8L220.5 79.9L222.5 77.8L224.5 76.8L226.5 75.4L228.5 73.8L230.5 72.3L232.5 71.2L234.5 70.5L236.5 69.9L238.5 69.3L240.5 68.8L242.5 68.0L244.5 67.2L246.5 66.4L248.5 65.5L250.5 64.4L252.5 62.4L254.5 60.5L256.5 58.5L258.5 56.5L260.5 54.8L262.5 54.1L264.5 53.4L266.5 52.7L268.5 52.0L270.5 51.3L272.5 51.0" stroke="#e27c63" stroke-width="0.60" fill="none"/>
<path d="M60.5 136.9L62.5 136.3L64.5 135.2L66.5 134.1L68.5 132.8L70.5 131.3L72.5 130.1L74.5 129.1L76.5 128.1L78.5 127.1L80.5 125.9L82.5 124.0L84.5 122.2L86.5 120.3L88.5 118.4L90.5 116.4L92.5 114.5L94.5 113.1L96.5 111.7L98.5 110.3L100.5 108.9L102.5 108.0L104.5 106.9L106.5 105.8L108.5 104.3L110.5 102.6L112.5 101.2L114.5 100.3L116.5 99.2L118.5 98.4L120.5 97.5L122.5 96.6L124.5 95.8L126.5 95.0L128.5 94.1L130.5 93.2L132.5 92.4L134.5 92.0L136.5 91.8L138.5 91.8L140.5 91.9L142.5 92.1L144.5 92.3L146.5 92.7L148.5 93.1L150.5 93.6L152.5 94.0L154.5 94.4L156.5 94.5L158.5 94.2L160.5 93.7L162.5 93.0L164.5 92.4L166.5 91.6L168.5 91.0L170.5 90.4L172.5 90.0L174.5 90.1L176.5 90.5L178.5 91.6L180.5 92.7L182.5 93.4L184.5 93.8L186.5 94.0L188.5 94.1L190.5 93.8L192.5 93.3L194.5 92.7L196.5 92.1L198.5 91.3L200.5 90.7L202.5 90.1L204.5 89.5L206.5 88.9L208.5 88.4L210.5 87.8L212.5 87.4L214.5 86.9L216.5 86.3L218.5 85.4L220.5 84.4L222.5 83.8L224.5 83.6L226.5 83.5L228.5 83.0L230.5 82.1L232.5 81.3L234.5 80.6L236.5 80.0L238.5 79.5L240.5 79.0L242.5 78.5L244.5 78.0L246.5 77.4L248.5 76.7L250.5 75.7L252.5 73.5L254.5 71.0L256.5 68.4L258.5 65.7L260.5 63.4L262.5 62.2L264.5 60.6L266.5 58.9L268.5 57.3L270.5 55.8L272.5 55.1" stroke="#5da4cc" stroke-width="0.60" fill="none"/>
<path d="M60.5 127.3L62.5 126.8L64.5 125.6L66.5 124.1L68.5 122.1L70.5 119.7L72.5 116.4L74.5 113.2L76.5 111.0L78.5 109.2L80.5 107.7L82.5 106.6L84.5 105.6L86.5 104.1L88.5 102.5L90.5 101.1L92.5 99.9L94.5 99.4L96.5 98.9L98.5 98.4L100.5 97.7L102.5 96.9L104.5 96.1L106.5 95.3L108.5 94.4L110.5 93.9L112.5 93.8L114.5 93.8L116.5 93.9L118.5 94.0L120.5 93.9L122.5 93.4L124.5 92.8L126.5 92.1L128.5 91.3L130.5 90.2L132.5 89.3L134.5 88.4L136.5 87.8L138.5 87.3L140.5 86.9L142.5 86.8L144.5 86.8L146.5 87.2L148.5 87.8L150.5 88.8L152.5 90.0L154.5 91.3L156.5 92.1L158.5 92.3L160.5 92.1L162.5 91.6L164.5 91.0L166.5 90.3L168.5 89.5L170.5 88.7L172.5 88.0L174.5 87.5L176.5 87.2L178.5 86.8L180.5 86.9L182.5 87.0L184.5 87.4L186.5 87.9L188.5 88.5L190.5 88.6L192.5 88.6L194.5 88.7L196.5 88.6L198.5 88.4L200.5 88.1L202.5 87.6L204.5 87.0L206.5 86.4L208.5 85.8L210.5 85.3L212.5 84.7L214.5 84.0L216.5 83.0L218.5 81.6L220.5 79.7L222.5 77.5L224.5 76.3L226.5 74.7L228.5 73.0L230.5 71.5L232.5 70.4L234.5 69.7L236.5 69.1L238.5 68.5L240.5 68.0L242.5 67.2L244.5 66.4L246.5 65.6L248.5 64.8L250.5 63.7L252.5 61.9L254.5 60.0L256.5 58.2L258.5 56.3L260.5 54.7L262.5 54.0L264.5 53.3L266.5 52.6L268.5 51.9L270.5 51.2L272.5 50.9" stroke="#dd715a" stroke-width="0.60" fill="none"/>
<path d="M60.5 137.1L62.5 136.5L64.5 135.5L66.5 134.4L68.5 133.1L70.5 131.7L72.5 130.6L74.5 129.6L76.5 128.6L78.5 127.6L80.5 126.4L82.5 124.6L84.5 122.8L86.5 121.1L88.5 119.3L90.5 117.3L92.5 115.5L94.5 114.1L96.5 112.7L98.5 111.3L100.5 109.9L102.5 109.0L104.5 107.9L106.5 106.7L108.5 105.1L110.5 103.3L112.5 101.8L114.5 100.7L116.5 99.6L118.5 98.7L120.5 97.8L122.5 96.8L124.5 96.0L126.5 95.2L128.5 94.3L130.5 93.4L132.5 92.7L134.5 92.3L136.5 92.1L138.5 92.2L140.5 92.3L142.5 92.6L144.5 92.8L146.5 93.2L148.5 93.6L150.5 94.0L152.5 94.4L154.5 94.7L156.5 94.7L158.5 94.4L160.5 93.8L162.5 93.2L164.5 92.5L166.5 91.7L168.5 91.1L170.5 90.5L172.5 90.2L174.5 90.3L176.5 90.8L178.5 91.9L180.5 92.9L182.5 93.7L184.5 94.1L186.5 94.3L188.5 94.3L190.5 94.0L192.5 93.5L194.5 92.9L196.5 92.3L198.5 91.5L200.5 90.9L202.5 90.3L204.5 89.7L206.5 89.1L208.5 88.5L210.5 88.0L212.5 87.6L214.5 87.1L216.5 86.5L218.5 85.8L220.5 84.8L222.5 84.3L224.5 84.1L226.5 84.0L228.5 83.6L230.5 82.7L232.5 81.9L234.5 81.2L236.5 80.7L238.5 80.2L240.5 79.7L242.5 79.2L244.5 78.7L246.5 78.0L248.5 77.3L250.5 76.4L252.5 74.2L254.5 71.9L256.5 69.4L258.5 66.8L260.5 64.6L262.5 63.2L264.5 61.6L266.5 59.8L268.5 58.0L270.5 56.4L272.5 55.7" stroke="#519cc8" stroke-width="0.60" fill="none"/>
<path d="M60.5 126.3L62.5 125.8L64.5 124.6L66.5 123.1L68.5 121.0L70.5 118.6L72.5 115.3L74.5 112.2L76.5 110.0L78.5 108.2L80.5 106.8L82.5 105.6L84.5 104.7L86.5 103.3L88.5 101.8L90.5 100.4L92.5 99.3L94.5 98.9L96.5 98.4L98.5 97.9L100.5 97.3L102.5 96.5L104.5 95.7L106.5 94.9L108.5 94.1L110.5 93.6L112.5 93.5L114.5 93.6L116.5 93.6L118.5 93.7L120.5 93.7L122.5 93.2L124.5 92.6L126.5 91.9L128.5 91.1L130.5 90.1L132.5 89.1L134.5 88.3L136.5 87.6L138.5 87.1L140.5 86.7L142.5 86.5L144.5 86.6L146.5 87.0L148.5 87.6L150.5 88.6L152.5 89.8L154.5 91.2L156.5 92.0L158.5 92.2L160.5 92.0L162.5 91.5L164.5 90.9L166.5 90.2L168.5 89.4L170.5 88.6L172.5 87.9L174.5 87.3L176.5 87.0L178.5 86.6L180.5 86.5L182.5 86.7L184.5 87.0L186.5 87.5L188.5 88.0L190.5 88.1L192.5 88.2L194.5 88.3L196.5 88.4L198.5 88.2L200.5 87.9L202.5 87.4L204.5 86.9L206.5 86.3L208.5 85.7L210.5 85.1L212.5 84.5L214.5 83.8L216.5 82.8L218.5 81.3L220.5 79.4L222.5 77.2L224.5 75.8L226.5 74.1L228.5 72.2L230.5 70.6L232.5 69.6L234.5 68.9L236.5 68.3L238.5 67.7L240.5 67.2L242.5 66.5L244.5 65.7L246.5 64.9L248.5 64.1L250.5 63.0L252.5 61.3L254.5 59.6L256.5 57.8L258.5 56.1L260.5 54.6L262.5 53.9L264.5 53.3L266.5 52.6L268.5 51.9L270.5 51.2L272.5 50.9" stroke="#d96652" stroke-width="0.60" fill="none"/>
<path d="M60.5 137.3L62.5 136.7L64.5 135.7L66.5 134.6L68.5 133.4L70.5 132.1L72.5 131.0L74.5 130.0L76.5 129.0L78.5 128.0L80.5 126.9L82.5 125.2L84.5 123.5L86.5 121.8L88.5 120.1L90.5 118.3L92.5 116.5L94.5 115.1L96.5 113.8L98.5 112.4L100.5 111.0L102.5 110.0L104.5 108.8L106.5 107.5L108.5 105.9L110.5 104.0L112.5 102.4L114.5 101.2L116.5 100.0L118.5 99.0L120.5 98.0L122.5 97.1L124.5 96.2L126.5 95.3L128.5 94.5L130.5 93.6L132.5 93.0L134.5 92.6L136.5 92.5L138.5 92.6L140.5 92.8L142.5 93.1L144.5 93.4L146.5 93.7L148.5 94.1L150.5 94.5L152.5 94.7L154.5 94.9L156.5 94.9L158.5 94.5L160.5 93.9L162.5 93.3L164.5 92.6L166.5 91.8L168.5 91.2L170.5 90.6L172.5 90.3L174.5 90.4L176.5 91.0L178.5 92.1L180.5 93.2L182.5 93.9L184.5 94.4L186.5 94.5L188.5 94.6L190.5 94.3L192.5 93.8L194.5 93.2L196.5 92.5L198.5 91.7L200.5 91.1L202.5 90.5L204.5 89.9L206.5 89.3L208.5 88.7L210.5 88.2L212.5 87.8L214.5 87.3L216.5 86.8L218.5 86.1L220.5 85.2L222.5 84.8L224.5 84.6L226.5 84.5L228.5 84.1L230.5 83.3L232.5 82.5L234.5 81.9L236.5 81.3L238.5 80.9L240.5 80.4L242.5 79.9L244.5 79.4L246.5 78.7L248.5 78.0L250.5 77.0L252.5 75.0L254.5 72.8L256.5 70.4L258.5 67.9L260.5 65.7L262.5 64.3L264.5 62.5L266.5 60.6L268.5 58.7L270.5 57.0L272.5 56.2" stroke="#4594c4" stroke-width="0.60" fill="none"/>
<path d="M60.5 125.3L62.5 124.8L64.5 123.6L66.5 122.1L68.5 119.9L70.5 117.4L72.5 114.1L74.5 111.1L76.5 109.0L78.5 107.2L80.5 105.8L82.5 104.7L84.5 103.7L86.5 102.4L88.5 101.1L90.5 99.8L92.5 98.8L94.5 98.3L96.5 97.9L98.5 97.4L100.5 96.8L102.5 96.1L104.5 95.3L106.5 94.5L108.5 93.8L110.5 93.3L112.5 93.2L114.5 93.3L116.5 93.4L118.5 93.5L120.5 93.4L122.5 93.0L124.5 92.5L126.5 91.8L128.5 90.9L130.5 89.9L132.5 88.9L134.5 88.1L136.5 87.4L138.5 86.9L140.5 86.5L142.5 86.3L144.5 86.3L146.5 86.7L148.5 87.4L150.5 88.3L152.5 89.6L154.5 91.0L156.5 91.8L158.5 92.1L160.5 91.9L162.5 91.4L164.5 90.8L166.5 90.1L168.5 89.3L170.5 88.5L172.5 87.7L174.5 87.2L176.5 86.7L178.5 86.3L180.5 86.2L182.5 86.3L184.5 86.5L186.5 87.0L188.5 87.5L190.5 87.7L192.5 87.8L194.5 88.0L196.5 88.1L198.5 88.0L200.5 87.7L202.5 87.3L204.5 86.7L206.5 86.1L208.5 85.5L210.5 85.0L212.5 84.4L214.5 83.6L216.5 82.6L218.5 81.1L220.5 79.2L222.5 76.9L224.5 75.3L226.5 73.5L228.5 71.5L230.5 69.8L232.5 68.7L234.5 68.1L236.5 67.5L238.5 66.9L240.5 66.4L242.5 65.7L244.5 64.9L246.5 64.1L248.5 63.3L250.5 62.4L252.5 60.8L254.5 59.1L256.5 57.5L258.5 55.9L260.5 54.5L262.5 53.8L264.5 53.2L266.5 52.5L268.5 51.8L270.5 51.1L272.5 50.8" stroke="#d35b4b" stroke-width="0.60" fill="none"/>
<path d="M60.5 137.5L62.5 137.0L64.5 136.0L66.5 134.9L68.5 133.7L70.5 132.4L72.5 131.4L74.5 130.4L76.5 129.4L78.5 128.5L80.5 127.4L82.5 125.8L84.5 124.2L86.5 122.6L88.5 121.0L90.5 119.2L92.5 117.5L94.5 116.1L96.5 114.8L98.5 113.4L100.5 112.0L102.5 110.9L104.5 109.7L106.5 108.4L108.5 106.7L110.5 104.8L112.5 103.0L114.5 101.7L116.5 100.4L118.5 99.3L120.5 98.3L122.5 97.3L124.5 96.4L126.5 95.5L128.5 94.7L130.5 93.8L132.5 93.2L134.5 92.9L136.5 92.9L138.5 93.0L140.5 93.3L142.5 93.6L144.5 93.9L146.5 94.3L148.5 94.6L150.5 94.9L152.5 95.1L154.5 95.2L156.5 95.1L158.5 94.6L160.5 94.0L162.5 93.4L164.5 92.6L166.5 91.9L168.5 91.3L170.5 90.8L172.5 90.5L174.5 90.6L176.5 91.3L178.5 92.4L180.5 93.5L182.5 94.2L184.5 94.6L186.5 94.8L188.5 94.8L190.5 94.5L192.5 94.0L194.5 93.4L196.5 92.7L198.5 92.0L200.5 91.3L202.5 90.7L204.5 90.0L206.5 89.5L208.5 88.9L210.5 88.4L212.5 87.9L214.5 87.5L216.5 87.0L218.5 86.4L220.5 85.6L222.5 85.2L224.5 85.1L226.5 85.1L228.5 84.7L230.5 83.9L232.5 83.2L234.5 82.5L236.5 82.0L238.5 81.5L240.5 81.1L242.5 80.6L244.5 80.0L246.5 79.3L248.5 78.6L250.5 77.7L252.5 75.8L254.5 73.7L256.5 71.4L258.5 69.0L260.5 66.9L262.5 65.3L264.5 63.5L266.5 61.4L268.5 59.4L270.5 57.6L272.5 56.8" stroke="#3f8dc0" stroke-width="0.60" fill="none"/>
<path d="M60.5 124.2L62.5 123.8L64.5 122.6L66.5 121.1L68.5 118.9L70.5 116.3L72.5 113.0L74.5 110.0L76.5 107.9L78.5 106.2L80.5 104.8L82.5 103.7L84.5 102.8L86.5 101.6L88.5 100.3L90.5 99.2L92.5 98.2L94.5 97.8L96.5 97.4L98.5 96.9L100.5 96.3L102.5 95.7L104.5 94.9L106.5 94.2L108.5 93.5L110.5 93.0L112.5 93.0L114.5 93.0L116.5 93.1L118.5 93.2L120.5 93.2L122.5 92.8L124.5 92.3L126.5 91.6L128.5 90.7L130.5 89.7L132.5 88.7L134.5 87.9L136.5 87.2L138.5 86.6L140.5 86.3L142.5 86.1L144.5 86.1L146.5 86.5L148.5 87.1L150.5 88.1L152.5 89.4L154.5 90.8L156.5 91.7L158.5 92.0L160.5 91.8L162.5 91.3L164.5 90.8L166.5 90.0L168.5 89.2L170.5 88.4L172.5 87.6L174.5 87.0L176.5 86.5L178.5 86.1L180.5 85.9L182.5 85.9L184.5 86.1L186.5 86.5L188.5 87.0L190.5 87.2L192.5 87.4L194.5 87.7L196.5 87.9L198.5 87.8L200.5 87.5L202.5 87.1L204.5 86.6L206.5 86.0L208.5 85.4L210.5 84.8L212.5 84.2L214.5 83.5L216.5 82.5L218.5 80.9L220.5 79.0L222.5 76.7L224.5 74.9L226.5 72.8L228.5 70.7L230.5 69.0L232.5 67.9L234.5 67.3L236.5 66.7L238.5 66.1L240.5 65.5L242.5 64.9L244.5 64.1L246.5 63.4L248.5 62.6L250.5 61.7L252.5 60.2L254.5 58.7L256.5 57.2L258.5 55.7L260.5 54.4L262.5 53.7L264.5 53.1L266.5 52.4L268.5 51.7L270.5 51.1L272.5 50.8" stroke="#ce4f45" stroke-width="0.60" fill="none"/>
<path d="M60.5 137.7L62.5 137.2L64.5 136.2L66.5 135.2L68.5 134.0L70.5 132.8L72.5 131.8L74.5 130.8L76.5 129.9L78.5 128.9L80.5 127.9L82.5 126.4L84.5 124.8L86.5 123.3L88.5 121.8L90.5 120.1L92.5 118.5L94.5 117.2L96.5 115.8L98.5 114.5L100.5 113.1L102.5 111.9L104.5 110.7L106.5 109.3L108.5 107.5L110.5 105.5L112.5 103.6L114.5 102.2L116.5 100.7L118.5 99.6L120.5 98.6L122.5 97.5L124.5 96.6L126.5 95.7L128.5 94.9L130.5 94.1L132.5 93.5L134.5 93.2L136.5 93.2L138.5 93.4L140.5 93.7L142.5 94.1L144.5 94.5L146.5 94.8L148.5 95.1L150.5 95.3L152.5 95.5L154.5 95.4L156.5 95.2L158.5 94.8L160.5 94.1L162.5 93.5L164.5 92.7L166.5 92.0L168.5 91.4L170.5 90.9L172.5 90.6L174.5 90.8L176.5 91.5L178.5 92.7L180.5 93.7L182.5 94.5L184.5 94.9L186.5 95.1L188.5 95.1L190.5 94.8L192.5 94.3L194.5 93.6L196.5 92.9L198.5 92.2L200.5 91.5L202.5 90.8L204.5 90.2L206.5 89.6L208.5 89.1L210.5 88.6L212.5 88.1L214.5 87.7L216.5 87.3L218.5 86.7L220.5 86.1L222.5 85.7L224.5 85.6L226.5 85.6L228.5 85.3L230.5 84.5L232.5 83.8L234.5 83.2L236.5 82.7L238.5 82.2L240.5 81.7L242.5 81.3L244.5 80.7L246.5 80.0L248.5 79.3L250.5 78.4L252.5 76.6L254.5 74.6L256.5 72.4L258.5 70.1L260.5 68.0L262.5 66.4L264.5 64.4L266.5 62.3L268.5 60.1L270.5 58.2L272.5 57.3" stroke="#3a87bd" stroke-width="0.60" fill="none"/>
<path d="M60.5 123.2L62.5 122.8L64.5 121.6L66.5 120.1L68.5 117.8L70.5 115.2L72.5 111.9L74.5 108.9L76.5 106.9L78.5 105.2L80.5 103.8L82.5 102.8L84.5 101.9L86.5 100.7L88.5 99.6L90.5 98.5L92.5 97.7L94.5 97.3L96.5 96.9L98.5 96.4L100.5 95.9L102.5 95.2L104.5 94.5L106.5 93.8L108.5 93.2L110.5 92.7L112.5 92.7L114.5 92.8L116.5 92.9L118.5 93.0L120.5 93.0L122.5 92.6L124.5 92.1L126.5 91.4L128.5 90.6L130.5 89.5L132.5 88.6L134.5 87.7L136.5 87.0L138.5 86.4L140.5 86.1L142.5 85.9L144.5 85.9L146.5 86.3L148.5 86.9L150.5 87.9L152.5 89.2L154.5 90.6L156.5 91.6L158.5 91.8L160.5 91.6L162.5 91.3L164.5 90.7L166.5 89.9L168.5 89.1L170.5 88.3L172.5 87.5L174.5 86.8L176.5 86.3L178.5 85.8L180.5 85.6L182.5 85.6L184.5 85.7L186.5 86.1L188.5 86.5L190.5 86.8L192.5 87.1L194.5 87.4L196.5 87.6L198.5 87.6L200.5 87.4L202.5 86.9L204.5 86.4L206.5 85.8L208.5 85.2L210.5 84.6L212.5 84.0L214.5 83.3L216.5 82.3L218.5 80.7L220.5 78.7L222.5 76.4L224.5 74.4L226.5 72.2L228.5 69.9L230.5 68.2L232.5 67.1L234.5 66.5L236.5 65.9L238.5 65.3L240.5 64.7L242.5 64.1L244.5 63.3L246.5 62.6L248.5 61.9L250.5 61.0L252.5 59.6L254.5 58.3L256.5 56.9L258.5 55.5L260.5 54.3L262.5 53.6L264.5 53.0L266.5 52.3L268.5 51.7L270.5 51.0L272.5 50.7" stroke="#c84440" stroke-width="0.60" fill="none"/>
<path d="M60.5 137.9L62.5 137.4L64.5 136.5L66.5 135.5L68.5 134.4L70.5 133.2L72.5 132.2L74.5 131.2L76.5 130.3L78.5 129.4L80.5 128.4L82.5 126.9L84.5 125.5L86.5 124.1L88.5 122.6L90.5 121.1L92.5 119.5L94.5 118.2L96.5 116.9L98.5 115.5L100.5 114.1L102.5 112.9L104.5 111.6L106.5 110.1L108.5 108.3L110.5 106.2L112.5 104.2L114.5 102.6L116.5 101.1L118.5 100.0L120.5 98.8L122.5 97.7L124.5 96.8L126.5 95.9L128.5 95.1L130.5 94.3L132.5 93.7L134.5 93.5L136.5 93.6L138.5 93.9L140.5 94.2L142.5 94.7L144.5 95.0L146.5 95.3L148.5 95.6L150.5 95.8L152.5 95.8L154.5 95.7L156.5 95.4L158.5 94.9L160.5 94.2L162.5 93.6L164.5 92.8L166.5 92.1L168.5 91.5L170.5 91.0L172.5 90.8L174.5 91.0L176.5 91.7L178.5 92.9L180.5 94.0L182.5 94.7L184.5 95.2L186.5 95.3L188.5 95.3L190.5 95.0L192.5 94.5L194.5 93.8L196.5 93.1L198.5 92.4L200.5 91.7L202.5 91.0L204.5 90.4L206.5 89.8L208.5 89.3L210.5 88.8L212.5 88.3L214.5 88.0L216.5 87.5L218.5 87.0L220.5 86.5L222.5 86.2L224.5 86.2L226.5 86.1L228.5 85.8L230.5 85.1L232.5 84.4L234.5 83.8L236.5 83.3L238.5 82.9L240.5 82.4L242.5 81.9L244.5 81.4L246.5 80.7L248.5 79.9L250.5 79.0L252.5 77.4L254.5 75.5L256.5 73.4L258.5 71.2L260.5 69.1L262.5 67.5L264.5 65.4L266.5 63.1L268.5 60.8L270.5 58.8L272.5 57.9" stroke="#3480b9" stroke-width="0.60" fill="none"/>
<path d="M60.5 122.2L62.5 121.8L64.5 120.6L66.5 119.0L68.5 116.7L70.5 114.0L72.5 110.7L74.5 107.9L76.5 105.9L78.5 104.2L80.5 102.8L82.5 101.8L84.5 101.0L86.5 99.9L88.5 98.9L90.5 97.9L92.5 97.1L94.5 96.7L96.5 96.4L98.5 95.9L100.5 95.4L102.5 94.8L104.5 94.2L106.5 93.5L108.5 92.8L110.5 92.5L112.5 92.4L114.5 92.5L116.5 92.6L118.5 92.7L120.5 92.8L122.5 92.4L124.5 91.9L126.5 91.2L128.5 90.4L130.5 89.4L132.5 88.4L134.5 87.5L136.5 86.8L138.5 86.2L140.5 85.9L142.5 85.7L144.5 85.7L146.5 86.0L148.5 86.7L150.5 87.6L152.5 89.0L154.5 90.5L156.5 91.4L158.5 91.7L160.5 91.5L162.5 91.2L164.5 90.6L166.5 89.8L168.5 89.0L170.5 88.2L172.5 87.4L174.5 86.7L176.5 86.1L178.5 85.6L180.5 85.3L182.5 85.2L184.5 85.3L186.5 85.6L188.5 86.0L190.5 86.3L192.5 86.7L194.5 87.1L196.5 87.4L198.5 87.4L200.5 87.2L202.5 86.8L204.5 86.3L206.5 85.6L208.5 85.0L210.5 84.5L212.5 83.9L214.5 83.1L216.5 82.1L218.5 80.5L220.5 78.5L222.5 76.1L224.5 73.9L226.5 71.5L228.5 69.1L230.5 67.4L232.5 66.3L234.5 65.6L236.5 65.1L238.5 64.5L240.5 63.9L242.5 63.3L244.5 62.6L246.5 61.9L248.5 61.2L250.5 60.3L252.5 59.1L254.5 57.8L256.5 56.5L258.5 55.3L260.5 54.2L262.5 53.5L264.5 52.9L266.5 52.3L268.5 51.6L270.5 51.0L272.5 50.7" stroke="#c2393a" stroke-width="0.60" fill="none"/>
<path d="M60.5 138.1L62.5 137.6L64.5 136.7L66.5 135.7L68.5 134.7L70.5 133.6L72.5 132.6L74.5 131.7L76.5 130.8L78.5 129.9L80.5 128.8L82.5 127.5L84.5 126.2L86.5 124.9L88.5 123.5L90.5 122.0L92.5 120.5L94.5 119.2L96.5 117.9L98.5 116.6L100.5 115.2L102.5 113.9L104.5 112.5L106.5 111.0L108.5 109.1L110.5 107.0L112.5 104.8L114.5 103.1L116.5 101.5L118.5 100.3L120.5 99.1L122.5 98.0L124.5 97.0L126.5 96.1L128.5 95.3L130.5 94.5L132.5 94.0L134.5 93.8L136.5 93.9L138.5 94.3L140.5 94.7L142.5 95.2L144.5 95.5L146.5 95.9L148.5 96.1L150.5 96.2L152.5 96.2L154.5 95.9L156.5 95.6L158.5 95.0L160.5 94.4L162.5 93.7L164.5 92.9L166.5 92.2L168.5 91.6L170.5 91.1L172.5 90.9L174.5 91.2L176.5 92.0L178.5 93.2L180.5 94.3L182.5 95.0L184.5 95.4L186.5 95.6L188.5 95.6L190.5 95.3L192.5 94.7L194.5 94.1L196.5 93.3L198.5 92.6L200.5 91.9L202.5 91.2L204.5 90.6L206.5 90.0L208.5 89.4L210.5 89.0L212.5 88.5L214.5 88.2L216.5 87.8L218.5 87.4L220.5 86.9L222.5 86.7L224.5 86.7L226.5 86.7L228.5 86.4L230.5 85.7L232.5 85.1L234.5 84.5L236.5 84.0L238.5 83.5L240.5 83.1L242.5 82.6L244.5 82.0L246.5 81.3L248.5 80.6L250.5 79.7L252.5 78.1L254.5 76.4L256.5 74.4L258.5 72.3L260.5 70.3L262.5 68.5L264.5 66.3L266.5 63.9L268.5 61.5L270.5 59.4L272.5 58.5" stroke="#2f79b6" stroke-width="0.60" fill="none"/>
<path d="M60.5 121.1L62.5 120.8L64.5 119.6L66.5 118.0L68.5 115.6L70.5 112.9L72.5 109.6L74.5 106.8L76.5 104.8L78.5 103.2L80.5 101.8L82.5 100.9L84.5 100.0L86.5 99.1L88.5 98.1L90.5 97.3L92.5 96.6L94.5 96.2L96.5 95.9L98.5 95.5L100.5 95.0L102.5 94.4L104.5 93.8L106.5 93.1L108.5 92.5L110.5 92.2L112.5 92.1L114.5 92.2L116.5 92.4L118.5 92.5L120.5 92.5L122.5 92.2L124.5 91.7L126.5 91.0L128.5 90.2L130.5 89.2L132.5 88.2L134.5 87.4L136.5 86.6L138.5 86.0L140.5 85.6L142.5 85.4L144.5 85.5L146.5 85.8L148.5 86.4L150.5 87.4L152.5 88.8L154.5 90.3L156.5 91.3L158.5 91.6L160.5 91.4L162.5 91.1L164.5 90.5L166.5 89.8L168.5 88.9L170.5 88.1L172.5 87.2L174.5 86.5L176.5 85.9L178.5 85.3L180.5 85.0L182.5 84.8L184.5 84.8L186.5 85.1L188.5 85.5L190.5 85.9L192.5 86.3L194.5 86.8L196.5 87.1L198.5 87.2L200.5 87.0L202.5 86.6L204.5 86.1L206.5 85.5L208.5 84.9L210.5 84.3L212.5 83.7L214.5 82.9L216.5 81.9L218.5 80.3L220.5 78.3L222.5 75.8L224.5 73.4L226.5 70.9L228.5 68.3L230.5 66.6L232.5 65.4L234.5 64.8L236.5 64.2L238.5 63.7L240.5 63.1L242.5 62.5L244.5 61.8L246.5 61.1L248.5 60.5L250.5 59.7L252.5 58.5L254.5 57.4L256.5 56.2L258.5 55.1L260.5 54.1L262.5 53.4L264.5 52.8L266.5 52.2L268.5 51.6L270.5 50.9L272.5 50.6" stroke="#bd2d35" stroke-width="0.60" fill="none"/>
<path d="M60.5 138.3L62.5 137.9L64.5 137.0L66.5 136.0L68.5 135.0L70.5 133.9L72.5 133.0L74.5 132.1L76.5 131.2L78.5 130.3L80.5 129.3L82.5 128.1L84.5 126.9L86.5 125.6L88.5 124.3L90.5 122.9L92.5 121.5L94.5 120.2L96.5 118.9L98.5 117.6L100.5 116.2L102.5 114.9L104.5 113.4L106.5 111.9L108.5 109.9L110.5 107.7L112.5 105.4L114.5 103.6L116.5 101.9L118.5 100.6L120.5 99.3L122.5 98.2L124.5 97.2L126.5 96.3L128.5 95.5L130.5 94.7L132.5 94.3L134.5 94.1L136.5 94.3L138.5 94.7L140.5 95.1L142.5 95.7L144.5 96.1L146.5 96.4L148.5 96.6L150.5 96.6L152.5 96.5L154.5 96.2L156.5 95.8L158.5 95.2L160.5 94.5L162.5 93.8L164.5 93.0L166.5 92.3L168.5 91.7L170.5 91.3L172.5 91.1L174.5 91.4L176.5 92.2L178.5 93.5L180.5 94.5L182.5 95.3L184.5 95.7L186.5 95.8L188.5 95.8L190.5 95.5L192.5 95.0L194.5 94.3L196.5 93.6L198.5 92.8L200.5 92.1L202.5 91.4L204.5 90.8L206.5 90.2L208.5 89.6L210.5 89.1L212.5 88.7L214.5 88.4L216.5 88.0L218.5 87.7L220.5 87.3L222.5 87.2L224.5 87.2L226.5 87.2L228.5 86.9L230.5 86.4L232.5 85.7L234.5 85.1L236.5 84.6L238.5 84.2L240.5 83.8L242.5 83.3L244.5 82.7L246.5 82.0L248.5 81.3L250.5 80.4L252.5 78.9L254.5 77.2L256.5 75.4L258.5 73.4L260.5 71.4L262.5 69.6L264.5 67.3L266.5 64.8L268.5 62.2L270.5 60.0L272.5 59.0" stroke="#2a72b2" stroke-width="0.60" fill="none"/>
<path d="M60.5 120.1L62.5 119.8L64.5 118.6L66.5 117.0L68.5 114.6L70.5 111.7L72.5 108.5L74.5 105.7L76.5 103.8L78.5 102.2L80.5 100.9L82.5 99.9L84.5 99.1L86.5 98.2L88.5 97.4L90.5 96.6L92.5 96.0L94.5 95.7L96.5 95.4L98.5 95.0L100.5 94.5L102.5 93.9L104.5 93.4L106.5 92.8L108.5 92.2L110.5 91.9L112.5 91.8L114.5 92.0L116.5 92.1L118.5 92.3L120.5 92.3L122.5 92.0L124.5 91.5L126.5 90.8L128.5 90.0L130.5 89.0L132.5 88.0L134.5 87.2L136.5 86.4L138.5 85.8L140.5 85.4L142.5 85.2L144.5 85.2L146.5 85.6L148.5 86.2L150.5 87.2L152.5 88.5L154.5 90.1L156.5 91.1L158.5 91.5L160.5 91.3L162.5 91.0L164.5 90.4L166.5 89.7L168.5 88.9L170.5 88.0L172.5 87.1L174.5 86.3L176.5 85.7L178.5 85.1L180.5 84.7L182.5 84.4L184.5 84.4L186.5 84.6L188.5 85.0L190.5 85.4L192.5 85.9L194.5 86.5L196.5 86.9L198.5 87.0L200.5 86.9L202.5 86.4L204.5 85.9L206.5 85.3L208.5 84.7L210.5 84.1L212.5 83.5L214.5 82.7L216.5 81.7L218.5 80.1L220.5 78.0L222.5 75.5L224.5 73.0L226.5 70.2L228.5 67.6L230.5 65.7L232.5 64.6L234.5 64.0L236.5 63.4L238.5 62.9L240.5 62.3L242.5 61.7L244.5 61.0L246.5 60.4L248.5 59.7L250.5 59.0L252.5 58.0L254.5 56.9L256.5 55.9L258.5 54.9L260.5 53.9L262.5 53.3L264.5 52.7L266.5 52.1L268.5 51.5L270.5 50.9L272.5 50.6" stroke="#b72230" stroke-width="0.60" fill="none"/>
<path d="M60.5 138.6L62.5 138.1L64.5 137.2L66.5 136.3L68.5 135.3L70.5 134.3L72.5 133.4L74.5 132.5L76.5 131.6L78.5 130.8L80.5 129.8L82.5 128.7L84.5 127.5L86.5 126.4L88.5 125.2L90.5 123.9L92.5 122.5L94.5 121.2L96.5 120.0L98.5 118.7L100.5 117.2L102.5 115.9L104.5 114.4L106.5 112.7L108.5 110.7L110.5 108.4L112.5 106.0L114.5 104.0L116.5 102.3L118.5 100.9L120.5 99.6L122.5 98.4L124.5 97.4L126.5 96.5L128.5 95.7L130.5 95.0L132.5 94.5L134.5 94.4L136.5 94.7L138.5 95.1L140.5 95.6L142.5 96.2L144.5 96.6L146.5 96.9L148.5 97.1L150.5 97.1L152.5 96.9L154.5 96.4L156.5 95.9L158.5 95.3L160.5 94.6L162.5 93.9L164.5 93.1L166.5 92.4L168.5 91.8L170.5 91.4L172.5 91.2L174.5 91.6L176.5 92.5L178.5 93.7L180.5 94.8L182.5 95.5L184.5 95.9L186.5 96.1L188.5 96.1L190.5 95.7L192.5 95.2L194.5 94.5L196.5 93.8L198.5 93.0L200.5 92.3L202.5 91.6L204.5 90.9L206.5 90.3L208.5 89.8L210.5 89.3L212.5 88.9L214.5 88.6L216.5 88.3L218.5 88.0L220.5 87.7L222.5 87.6L224.5 87.7L226.5 87.7L228.5 87.5L230.5 87.0L232.5 86.3L234.5 85.8L236.5 85.3L238.5 84.9L240.5 84.4L242.5 84.0L244.5 83.4L246.5 82.6L248.5 81.9L250.5 81.1L252.5 79.7L254.5 78.1L256.5 76.4L258.5 74.5L260.5 72.5L262.5 70.7L264.5 68.3L266.5 65.6L268.5 62.9L270.5 60.6L272.5 59.6" stroke="#256baf" stroke-width="0.60" fill="none"/>
<path d="M60.5 119.1L62.5 118.8L64.5 117.6L66.5 116.0L68.5 113.5L70.5 110.6L72.5 107.4L74.5 104.7L76.5 102.7L78.5 101.1L80.5 99.9L82.5 99.0L84.5 98.2L86.5 97.4L88.5 96.6L90.5 96.0L92.5 95.5L94.5 95.2L96.5 94.8L98.5 94.5L100.5 94.0L102.5 93.5L104.5 93.0L106.5 92.4L108.5 91.9L110.5 91.6L112.5 91.6L114.5 91.7L116.5 91.8L118.5 92.0L120.5 92.1L122.5 91.8L124.5 91.3L126.5 90.6L128.5 89.8L130.5 88.8L132.5 87.9L134.5 87.0L136.5 86.2L138.5 85.6L140.5 85.2L142.5 85.0L144.5 85.0L146.5 85.4L148.5 86.0L150.5 87.0L152.5 88.3L154.5 89.9L156.5 91.0L158.5 91.4L160.5 91.2L162.5 90.9L164.5 90.3L166.5 89.6L168.5 88.8L170.5 87.9L172.5 87.0L174.5 86.2L176.5 85.5L178.5 84.8L180.5 84.4L182.5 84.1L184.5 84.0L186.5 84.2L188.5 84.5L190.5 85.0L192.5 85.5L194.5 86.1L196.5 86.7L198.5 86.8L200.5 86.7L202.5 86.3L204.5 85.8L206.5 85.2L208.5 84.6L210.5 84.0L212.5 83.3L214.5 82.5L216.5 81.5L218.5 79.9L220.5 77.8L222.5 75.2L224.5 72.5L226.5 69.6L228.5 66.8L230.5 64.9L232.5 63.8L234.5 63.2L236.5 62.6L238.5 62.1L240.5 61.5L242.5 60.9L244.5 60.3L246.5 59.6L248.5 59.0L250.5 58.3L252.5 57.4L254.5 56.5L256.5 55.6L258.5 54.7L260.5 53.8L262.5 53.2L264.5 52.6L266.5 52.0L268.5 51.4L270.5 50.8L272.5 50.6" stroke="#b0172b" stroke-width="0.60" fill="none"/>
<path d="M60.5 138.8L62.5 138.3L64.5 137.5L66.5 136.6L68.5 135.6L70.5 134.7L72.5 133.8L74.5 132.9L76.5 132.1L78.5 131.2L80.5 130.3L82.5 129.3L84.5 128.2L86.5 127.1L88.5 126.0L90.5 124.8L92.5 123.5L94.5 122.2L96.5 121.0L98.5 119.7L100.5 118.3L102.5 116.9L104.5 115.3L106.5 113.6L108.5 111.6L110.5 109.2L112.5 106.6L114.5 104.5L116.5 102.7L118.5 101.2L120.5 99.9L122.5 98.6L124.5 97.6L126.5 96.7L128.5 95.9L130.5 95.2L132.5 94.8L134.5 94.7L136.5 95.0L138.5 95.5L140.5 96.1L142.5 96.7L144.5 97.2L146.5 97.5L148.5 97.6L150.5 97.5L152.5 97.2L154.5 96.7L156.5 96.1L158.5 95.4L160.5 94.7L162.5 94.0L164.5 93.2L166.5 92.5L168.5 91.9L170.5 91.5L172.5 91.3L174.5 91.8L176.5 92.7L178.5 94.0L180.5 95.0L182.5 95.8L184.5 96.2L186.5 96.4L188.5 96.3L190.5 96.0L192.5 95.5L194.5 94.7L196.5 94.0L198.5 93.2L200.5 92.5L202.5 91.8L204.5 91.1L206.5 90.5L208.5 90.0L210.5 89.5L212.5 89.1L214.5 88.8L216.5 88.5L218.5 88.3L220.5 88.2L222.5 88.1L224.5 88.2L226.5 88.3L228.5 88.1L230.5 87.6L232.5 87.0L234.5 86.4L236.5 85.9L238.5 85.5L240.5 85.1L242.5 84.6L244.5 84.0L246.5 83.3L248.5 82.6L250.5 81.7L252.5 80.5L254.5 79.0L256.5 77.4L258.5 75.6L260.5 73.7L262.5 71.7L264.5 69.2L266.5 66.4L268.5 63.6L270.5 61.2L272.5 60.1" stroke="#2064a9" stroke-width="0.60" fill="none"/>
<path d="M60.5 118.1L62.5 117.8L64.5 116.6L66.5 115.0L68.5 112.4L70.5 109.4L72.5 106.2L74.5 103.6L76.5 101.7L78.5 100.1L80.5 98.9L82.5 98.0L84.5 97.3L86.5 96.5L88.5 95.9L90.5 95.4L92.5 94.9L94.5 94.6L96.5 94.3L98.5 94.0L100.5 93.6L102.5 93.1L104.5 92.6L106.5 92.1L108.5 91.6L110.5 91.3L112.5 91.3L114.5 91.4L116.5 91.6L118.5 91.8L120.5 91.8L122.5 91.6L124.5 91.1L126.5 90.4L128.5 89.6L130.5 88.7L132.5 87.7L134.5 86.8L136.5 86.0L138.5 85.4L140.5 85.0L142.5 84.8L144.5 84.8L146.5 85.1L148.5 85.7L150.5 86.7L152.5 88.1L154.5 89.8L156.5 90.8L158.5 91.2L160.5 91.1L162.5 90.8L164.5 90.2L166.5 89.5L168.5 88.7L170.5 87.8L172.5 86.8L174.5 86.0L176.5 85.2L178.5 84.6L180.5 84.1L182.5 83.7L184.5 83.6L186.5 83.7L188.5 84.0L190.5 84.5L192.5 85.1L194.5 85.8L196.5 86.4L198.5 86.6L200.5 86.5L202.5 86.1L204.5 85.6L206.5 85.0L208.5 84.4L210.5 83.8L212.5 83.2L214.5 82.4L216.5 81.3L218.5 79.7L220.5 77.6L222.5 75.0L224.5 72.0L226.5 69.0L228.5 66.0L230.5 64.1L232.5 63.0L234.5 62.4L236.5 61.8L238.5 61.2L240.5 60.7L242.5 60.1L244.5 59.5L246.5 58.9L248.5 58.3L250.5 57.6L252.5 56.8L254.5 56.0L256.5 55.3L258.5 54.5L260.5 53.7L262.5 53.1L264.5 52.5L266.5 52.0L268.5 51.4L270.5 50.8L272.5 50.5" stroke="#a41429" stroke-width="0.60" fill="none"/>
<path d="M60.5 139.0L62.5 138.5L64.5 137.7L66.5 136.8L68.5 136.0L70.5 135.1L72.5 134.2L74.5 133.4L76.5 132.5L78.5 131.7L80.5 130.8L82.5 129.8L84.5 128.9L86.5 127.9L88.5 126.9L90.5 125.7L92.5 124.5L94.5 123.3L96.5 122.0L98.5 120.8L100.5 119.3L102.5 117.8L104.5 116.2L106.5 114.5L108.5 112.4L110.5 109.9L112.5 107.2L114.5 105.0L116.5 103.1L118.5 101.5L120.5 100.1L122.5 98.9L124.5 97.8L126.5 96.9L128.5 96.1L130.5 95.4L132.5 95.0L134.5 95.0L136.5 95.4L138.5 95.9L140.5 96.5L142.5 97.2L144.5 97.7L146.5 98.0L148.5 98.1L150.5 97.9L152.5 97.6L154.5 96.9L156.5 96.3L158.5 95.6L160.5 94.8L162.5 94.1L164.5 93.3L166.5 92.6L168.5 92.0L170.5 91.6L172.5 91.5L174.5 91.9L176.5 93.0L178.5 94.3L180.5 95.3L182.5 96.0L184.5 96.5L186.5 96.6L188.5 96.6L190.5 96.2L192.5 95.7L194.5 95.0L196.5 94.2L198.5 93.4L200.5 92.6L202.5 91.9L204.5 91.3L206.5 90.7L208.5 90.2L210.5 89.7L212.5 89.3L214.5 89.0L216.5 88.8L218.5 88.7L220.5 88.6L222.5 88.6L224.5 88.7L226.5 88.8L228.5 88.6L230.5 88.2L232.5 87.6L234.5 87.1L236.5 86.6L238.5 86.2L240.5 85.8L242.5 85.3L244.5 84.7L246.5 84.0L248.5 83.2L250.5 82.4L252.5 81.3L254.5 79.9L256.5 78.4L258.5 76.7L260.5 74.8L262.5 72.8L264.5 70.2L266.5 67.2L268.5 64.4L270.5 61.8L272.5 60.7" stroke="#1c5c9d" stroke-width="0.60" fill="none"/>
<path d="M60.5 117.0L62.5 116.8L64.5 115.6L66.5 114.0L68.5 111.3L70.5 108.3L72.5 105.1L74.5 102.5L76.5 100.7L78.5 99.1L80.5 97.9L82.5 97.1L84.5 96.3L86.5 95.7L88.5 95.2L90.5 94.7L92.5 94.3L94.5 94.1L96.5 93.8L98.5 93.5L100.5 93.1L102.5 92.7L104.5 92.2L106.5 91.7L108.5 91.2L110.5 91.0L112.5 91.0L114.5 91.2L116.5 91.3L118.5 91.5L120.5 91.6L122.5 91.4L124.5 90.9L126.5 90.2L128.5 89.4L130.5 88.5L132.5 87.5L134.5 86.6L136.5 85.8L138.5 85.2L140.5 84.8L142.5 84.5L144.5 84.6L146.5 84.9L148.5 85.5L150.5 86.5L152.5 87.9L154.5 89.6L156.5 90.7L158.5 91.1L160.5 91.0L162.5 90.7L164.5 90.1L166.5 89.4L168.5 88.6L170.5 87.7L172.5 86.7L174.5 85.8L176.5 85.0L178.5 84.3L180.5 83.8L182.5 83.3L184.5 83.2L186.5 83.2L188.5 83.6L190.5 84.1L192.5 84.7L194.5 85.5L196.5 86.2L198.5 86.4L200.5 86.3L202.5 86.0L204.5 85.5L206.5 84.8L208.5 84.2L210.5 83.6L212.5 83.0L214.5 82.2L216.5 81.1L218.5 79.5L220.5 77.3L222.5 74.7L224.5 71.5L226.5 68.3L228.5 65.2L230.5 63.3L232.5 62.1L234.5 61.6L236.5 61.0L238.5 60.4L240.5 59.9L242.5 59.3L244.5 58.7L246.5 58.1L248.5 57.6L250.5 57.0L252.5 56.3L254.5 55.6L256.5 54.9L258.5 54.3L260.5 53.6L262.5 53.0L264.5 52.5L266.5 51.9L268.5 51.3L270.5 50.7L272.5 50.5" stroke="#981027" stroke-width="0.60" fill="none"/>
<path d="M60.5 139.2L62.5 138.8L64.5 138.0L66.5 137.1L68.5 136.3L70.5 135.4L72.5 134.6L74.5 133.8L76.5 133.0L78.5 132.1L80.5 131.3L82.5 130.4L84.5 129.5L86.5 128.6L88.5 127.7L90.5 126.7L92.5 125.5L94.5 124.3L96.5 123.1L98.5 121.8L100.5 120.4L102.5 118.8L104.5 117.1L106.5 115.3L108.5 113.2L110.5 110.6L112.5 107.9L114.5 105.5L116.5 103.5L118.5 101.9L120.5 100.4L122.5 99.1L124.5 98.0L126.5 97.1L128.5 96.3L130.5 95.6L132.5 95.3L134.5 95.3L136.5 95.8L138.5 96.3L140.5 97.0L142.5 97.8L144.5 98.3L146.5 98.6L148.5 98.6L150.5 98.4L152.5 97.9L154.5 97.2L156.5 96.5L158.5 95.7L160.5 94.9L162.5 94.2L164.5 93.4L166.5 92.7L168.5 92.1L170.5 91.7L172.5 91.6L174.5 92.1L176.5 93.2L178.5 94.5L180.5 95.6L182.5 96.3L184.5 96.7L186.5 96.9L188.5 96.8L190.5 96.5L192.5 95.9L194.5 95.2L196.5 94.4L198.5 93.6L200.5 92.8L202.5 92.1L204.5 91.5L206.5 90.9L208.5 90.4L210.5 89.9L212.5 89.5L214.5 89.2L216.5 89.0L218.5 89.0L220.5 89.0L222.5 89.1L224.5 89.2L226.5 89.3L228.5 89.2L230.5 88.8L232.5 88.3L234.5 87.7L236.5 87.3L238.5 86.8L240.5 86.5L242.5 86.0L244.5 85.4L246.5 84.6L248.5 83.9L250.5 83.1L252.5 82.0L254.5 80.8L256.5 79.3L258.5 77.8L260.5 76.0L262.5 73.8L264.5 71.1L266.5 68.1L268.5 65.1L270.5 62.4L272.5 61.2" stroke="#175392" stroke-width="0.60" fill="none"/>
<path d="M60.5 116.0L62.5 115.8L64.5 114.6L66.5 112.9L68.5 110.3L70.5 107.2L72.5 104.0L74.5 101.4L76.5 99.6L78.5 98.1L80.5 96.9L82.5 96.1L84.5 95.4L86.5 94.8L88.5 94.4L90.5 94.1L92.5 93.8L94.5 93.6L96.5 93.3L98.5 93.0L100.5 92.6L102.5 92.2L104.5 91.8L106.5 91.3L108.5 90.9L110.5 90.7L112.5 90.7L114.5 90.9L116.5 91.1L118.5 91.3L120.5 91.4L122.5 91.2L124.5 90.7L126.5 90.1L128.5 89.2L130.5 88.3L132.5 87.3L134.5 86.5L136.5 85.6L138.5 85.0L140.5 84.6L142.5 84.3L144.5 84.4L146.5 84.7L148.5 85.3L150.5 86.3L152.5 87.7L154.5 89.4L156.5 90.5L158.5 91.0L160.5 90.9L162.5 90.6L164.5 90.1L166.5 89.3L168.5 88.5L170.5 87.5L172.5 86.6L174.5 85.7L176.5 84.8L178.5 84.1L180.5 83.5L182.5 83.0L184.5 82.7L186.5 82.8L188.5 83.1L190.5 83.6L192.5 84.4L194.5 85.2L196.5 85.9L198.5 86.2L200.5 86.2L202.5 85.8L204.5 85.3L206.5 84.7L208.5 84.1L210.5 83.5L212.5 82.8L214.5 82.0L216.5 80.9L218.5 79.3L220.5 77.1L222.5 74.4L224.5 71.1L226.5 67.7L228.5 64.5L230.5 62.5L232.5 61.3L234.5 60.7L236.5 60.2L238.5 59.6L240.5 59.1L242.5 58.5L244.5 58.0L246.5 57.4L248.5 56.8L250.5 56.3L252.5 55.7L254.5 55.2L256.5 54.6L258.5 54.0L260.5 53.5L262.5 52.9L264.5 52.4L266.5 51.8L268.5 51.3L270.5 50.7L272.5 50.4" stroke="#8c0c25" stroke-width="1.25" fill="none"/>
<path d="M60.5 139.4L62.5 139.0L64.5 138.2L66.5 137.4L68.5 136.6L70.5 135.8L72.5 135.0L74.5 134.2L76.5 133.4L78.5 132.6L80.5 131.8L82.5 131.0L84.5 130.2L86.5 129.4L88.5 128.6L90.5 127.6L92.5 126.5L94.5 125.3L96.5 124.1L98.5 122.9L100.5 121.4L102.5 119.8L104.5 118.1L106.5 116.2L108.5 114.0L110.5 111.4L112.5 108.5L114.5 105.9L116.5 103.9L118.5 102.2L120.5 100.6L122.5 99.3L124.5 98.2L126.5 97.3L128.5 96.5L130.5 95.9L132.5 95.6L134.5 95.6L136.5 96.1L138.5 96.8L140.5 97.5L142.5 98.3L144.5 98.8L146.5 99.1L148.5 99.1L150.5 98.8L152.5 98.3L154.5 97.4L156.5 96.6L158.5 95.8L160.5 95.1L162.5 94.3L164.5 93.5L166.5 92.8L168.5 92.3L170.5 91.9L172.5 91.8L174.5 92.3L176.5 93.4L178.5 94.8L180.5 95.8L182.5 96.6L184.5 97.0L186.5 97.2L188.5 97.1L190.5 96.7L192.5 96.2L194.5 95.4L196.5 94.6L198.5 93.8L200.5 93.0L202.5 92.3L204.5 91.6L206.5 91.1L208.5 90.5L210.5 90.1L212.5 89.7L214.5 89.4L216.5 89.3L218.5 89.3L220.5 89.4L222.5 89.6L224.5 89.7L226.5 89.9L228.5 89.7L230.5 89.4L232.5 88.9L234.5 88.4L236.5 87.9L238.5 87.5L240.5 87.2L242.5 86.7L244.5 86.0L246.5 85.3L248.5 84.5L250.5 83.8L252.5 82.8L254.5 81.7L256.5 80.3L258.5 78.9L260.5 77.1L262.5 74.9L264.5 72.1L266.5 68.9L268.5 65.8L270.5 63.0L272.5 61.8" stroke="#134b86" stroke-width="1.25" fill="none"/><defs><linearGradient id="f10a" gradientUnits="userSpaceOnUse" x1="60.5" y1="0" x2="96.0" y2="0"><stop offset="0" stop-color="#fff" stop-opacity="0.45"/><stop offset="1" stop-color="#fff" stop-opacity="0.00"/></linearGradient></defs><rect x="60.5" y="88.0" width="35.5" height="23.0" fill="url(#f10a)"/><defs><linearGradient id="f10b" gradientUnits="userSpaceOnUse" x1="0" y1="71.0" x2="0" y2="80.0"><stop offset="0" stop-color="#fff" stop-opacity="0.35"/><stop offset="1" stop-color="#fff" stop-opacity="0.00"/></linearGradient></defs><rect x="226.0" y="71.0" width="47.0" height="9.0" fill="url(#f10b)"/></g>
<g clip-path="url(#c11)"><path d="M304.5 94.1L306.5 94.1L308.5 93.9L310.5 93.7L312.5 93.6L314.5 93.3L316.5 93.2L318.5 93.4L320.5 93.2L322.5 93.1L324.5 93.2L326.5 93.0L328.5 93.0L330.5 93.5L332.5 93.6L334.5 93.7L336.5 93.6L338.5 93.8L340.5 93.8L342.5 93.7L344.5 93.6L346.5 93.5L348.5 93.4L350.5 93.3L352.5 93.2L354.5 93.2L356.5 93.2L358.5 93.2L360.5 93.3L362.5 93.3L364.5 93.1L366.5 92.8L368.5 92.3L370.5 91.7L372.5 91.0L374.5 90.2L376.5 89.7L378.5 89.3L380.5 89.1L382.5 89.0L384.5 88.9L386.5 88.9L388.5 89.0L390.5 89.5L392.5 90.0L394.5 90.6L396.5 91.2L398.5 91.6L400.5 92.1L402.5 92.4L404.5 92.4L406.5 92.0L408.5 91.5L410.5 90.9L412.5 90.4L414.5 89.8L416.5 89.3L418.5 88.8L420.5 88.7L422.5 88.9L424.5 89.5L426.5 90.2L428.5 90.9L430.5 91.2L432.5 91.6L434.5 91.9L436.5 91.9L438.5 92.1L440.5 92.6L442.5 92.9L444.5 92.8L446.5 92.2L448.5 91.5L450.5 90.8L452.5 90.1L454.5 89.4L456.5 88.7L458.5 88.2L460.5 87.8L462.5 87.7L464.5 87.6L466.5 87.5L468.5 87.4L470.5 87.3L472.5 87.3L474.5 87.4L476.5 87.4L478.5 87.4L480.5 87.3L482.5 87.2L484.5 87.0L486.5 86.7L488.5 86.8L490.5 86.7L492.5 86.5L494.5 86.4L496.5 85.6L498.5 84.8L500.5 84.7L502.5 84.9L504.5 85.2L506.5 85.7L508.5 86.1L510.5 86.1L512.5 85.9L514.5 85.6L516.5 85.5" stroke="#f8f0ec" stroke-width="0.60" fill="none"/>
<path d="M304.5 96.0L306.5 95.9L308.5 95.7L310.5 95.5L312.5 95.3L314.5 94.9L316.5 94.7L318.5 94.8L320.5 94.5L322.5 94.4L324.5 94.3L326.5 94.1L328.5 93.7L330.5 94.3L332.5 94.4L334.5 94.4L336.5 94.2L338.5 94.6L340.5 94.8L342.5 94.6L344.5 94.4L346.5 94.3L348.5 94.1L350.5 93.9L352.5 93.7L354.5 93.6L356.5 93.4L358.5 93.5L360.5 93.5L362.5 93.5L364.5 93.3L366.5 93.0L368.5 92.5L370.5 92.0L372.5 91.2L374.5 90.5L376.5 90.0L378.5 89.7L380.5 89.5L382.5 89.4L384.5 89.5L386.5 89.5L388.5 89.6L390.5 90.3L392.5 90.9L394.5 91.3L396.5 91.6L398.5 92.0L400.5 92.3L402.5 92.6L404.5 92.6L406.5 92.2L408.5 91.6L410.5 91.1L412.5 90.5L414.5 90.0L416.5 89.4L418.5 89.0L420.5 88.9L422.5 89.2L424.5 89.8L426.5 90.6L428.5 91.3L430.5 91.9L432.5 92.4L434.5 92.8L436.5 92.9L438.5 93.0L440.5 93.2L442.5 93.3L444.5 93.1L446.5 92.5L448.5 91.8L450.5 91.0L452.5 90.3L454.5 89.6L456.5 89.0L458.5 88.4L460.5 88.1L462.5 87.9L464.5 88.0L466.5 88.1L468.5 88.2L470.5 88.3L472.5 88.2L474.5 88.1L476.5 88.0L478.5 87.8L480.5 87.7L482.5 87.5L484.5 87.4L486.5 87.2L488.5 87.3L490.5 87.2L492.5 87.1L494.5 87.1L496.5 86.4L498.5 85.9L500.5 85.9L502.5 86.2L504.5 86.6L506.5 87.3L508.5 87.7L510.5 87.8L512.5 87.7L514.5 87.5L516.5 87.4" stroke="#eef3f5" stroke-width="0.60" fill="none"/>
<path d="M304.5 92.3L306.5 92.2L308.5 92.1L310.5 92.0L312.5 92.0L314.5 91.7L316.5 91.7L318.5 92.0L320.5 91.8L322.5 91.8L324.5 92.0L326.5 91.8L328.5 92.2L330.5 92.7L332.5 92.9L334.5 93.0L336.5 93.0L338.5 92.9L340.5 92.9L342.5 92.8L344.5 92.8L346.5 92.8L348.5 92.7L350.5 92.7L352.5 92.7L354.5 92.8L356.5 92.9L358.5 92.9L360.5 93.1L362.5 93.1L364.5 92.9L366.5 92.6L368.5 92.1L370.5 91.5L372.5 90.7L374.5 89.9L376.5 89.4L378.5 89.0L380.5 88.7L382.5 88.5L384.5 88.3L386.5 88.3L388.5 88.3L390.5 88.6L392.5 89.1L394.5 89.8L396.5 90.7L398.5 91.3L400.5 91.8L402.5 92.1L404.5 92.2L406.5 91.8L408.5 91.3L410.5 90.8L412.5 90.2L414.5 89.6L416.5 89.1L418.5 88.6L420.5 88.5L422.5 88.7L424.5 89.2L426.5 89.8L428.5 90.4L430.5 90.5L432.5 90.8L434.5 91.0L436.5 90.8L438.5 91.2L440.5 92.1L442.5 92.6L444.5 92.5L446.5 92.0L448.5 91.3L450.5 90.6L452.5 89.9L454.5 89.2L456.5 88.5L458.5 88.0L460.5 87.6L462.5 87.4L464.5 87.2L466.5 86.8L468.5 86.5L470.5 86.4L472.5 86.5L474.5 86.6L476.5 86.8L478.5 86.9L480.5 87.0L482.5 86.8L484.5 86.7L486.5 86.1L488.5 86.4L490.5 86.1L492.5 85.9L494.5 85.6L496.5 84.7L498.5 83.8L500.5 83.6L502.5 83.6L504.5 83.8L506.5 84.2L508.5 84.4L510.5 84.3L512.5 84.1L514.5 83.7L516.5 83.5" stroke="#f6b090" stroke-width="0.60" fill="none"/>
<path d="M304.5 97.9L306.5 97.8L308.5 97.5L310.5 97.2L312.5 97.0L314.5 96.5L316.5 96.2L318.5 96.2L320.5 95.8L322.5 95.7L324.5 95.4L326.5 95.2L328.5 94.4L330.5 95.1L332.5 95.2L334.5 95.2L336.5 94.9L338.5 95.4L340.5 95.7L342.5 95.5L344.5 95.2L346.5 95.0L348.5 94.7L350.5 94.5L352.5 94.2L354.5 94.0L356.5 93.7L358.5 93.7L360.5 93.8L362.5 93.7L364.5 93.5L366.5 93.2L368.5 92.7L370.5 92.2L372.5 91.5L374.5 90.8L376.5 90.3L378.5 90.1L380.5 89.9L382.5 89.9L384.5 90.1L386.5 90.1L388.5 90.2L390.5 91.2L392.5 91.8L394.5 92.1L396.5 92.1L398.5 92.3L400.5 92.6L402.5 92.9L404.5 92.8L406.5 92.4L408.5 91.8L410.5 91.2L412.5 90.7L414.5 90.1L416.5 89.6L418.5 89.2L420.5 89.1L422.5 89.4L424.5 90.1L426.5 90.9L428.5 91.7L430.5 92.5L432.5 93.2L434.5 93.7L436.5 93.9L438.5 94.0L440.5 93.8L442.5 93.7L444.5 93.4L446.5 92.8L448.5 92.0L450.5 91.3L452.5 90.5L454.5 89.8L456.5 89.2L458.5 88.6L460.5 88.3L462.5 88.2L464.5 88.3L466.5 88.7L468.5 89.1L470.5 89.2L472.5 89.1L474.5 88.8L476.5 88.6L478.5 88.3L480.5 88.0L482.5 87.9L484.5 87.8L486.5 87.7L488.5 87.7L490.5 87.7L492.5 87.8L494.5 87.9L496.5 87.3L498.5 86.9L500.5 87.0L502.5 87.5L504.5 88.0L506.5 88.8L508.5 89.4L510.5 89.5L512.5 89.5L514.5 89.4L516.5 89.3" stroke="#98c8e0" stroke-width="0.60" fill="none"/>
<path d="M304.5 91.1L306.5 91.1L308.5 91.0L310.5 90.9L312.5 90.9L314.5 90.7L316.5 90.8L318.5 91.2L320.5 91.3L322.5 91.4L324.5 91.7L326.5 91.6L328.5 92.0L330.5 92.5L332.5 92.7L334.5 92.8L336.5 92.8L338.5 92.8L340.5 92.7L342.5 92.7L344.5 92.6L346.5 92.6L348.5 92.5L350.5 92.5L352.5 92.5L354.5 92.5L356.5 92.7L358.5 92.7L360.5 92.9L362.5 92.9L364.5 92.7L366.5 92.4L368.5 91.9L370.5 91.3L372.5 90.5L374.5 89.7L376.5 89.1L378.5 88.8L380.5 88.5L382.5 88.2L384.5 88.1L386.5 88.0L388.5 88.1L390.5 88.4L392.5 88.9L394.5 89.6L396.5 90.4L398.5 91.1L400.5 91.6L402.5 91.9L404.5 92.0L406.5 91.7L408.5 91.2L410.5 90.6L412.5 90.1L414.5 89.5L416.5 89.0L418.5 88.5L420.5 88.3L422.5 88.4L424.5 88.9L426.5 89.4L428.5 90.0L430.5 90.1L432.5 90.3L434.5 90.5L436.5 90.3L438.5 90.8L440.5 91.6L442.5 92.2L444.5 92.2L446.5 91.7L448.5 91.1L450.5 90.4L452.5 89.7L454.5 89.0L456.5 88.3L458.5 87.8L460.5 87.4L462.5 87.2L464.5 86.9L466.5 86.6L468.5 86.3L470.5 86.1L472.5 86.2L474.5 86.4L476.5 86.5L478.5 86.6L480.5 86.7L482.5 86.5L484.5 86.3L486.5 85.8L488.5 85.9L490.5 85.6L492.5 85.2L494.5 84.7L496.5 83.6L498.5 82.7L500.5 82.4L502.5 82.4L504.5 82.4L506.5 82.7L508.5 82.8L510.5 82.6L512.5 82.3L514.5 81.9L516.5 81.6" stroke="#f4a785" stroke-width="0.60" fill="none"/>
<path d="M304.5 99.7L306.5 99.6L308.5 99.2L310.5 98.9L312.5 98.6L314.5 98.1L316.5 97.8L318.5 97.7L320.5 97.2L322.5 97.0L324.5 96.6L326.5 96.3L328.5 95.3L330.5 95.8L332.5 95.6L334.5 95.5L336.5 95.1L338.5 95.6L340.5 95.9L342.5 95.7L344.5 95.4L346.5 95.2L348.5 95.0L350.5 94.7L352.5 94.5L354.5 94.2L356.5 93.9L358.5 93.9L360.5 94.0L362.5 93.9L364.5 93.7L366.5 93.4L368.5 92.9L370.5 92.4L372.5 91.7L374.5 91.0L376.5 90.6L378.5 90.4L380.5 90.3L382.5 90.4L384.5 90.7L386.5 90.6L388.5 90.7L390.5 91.7L392.5 92.3L394.5 92.5L396.5 92.5L398.5 92.6L400.5 92.9L402.5 93.1L404.5 93.0L406.5 92.5L408.5 91.9L410.5 91.4L412.5 90.8L414.5 90.2L416.5 89.7L418.5 89.3L420.5 89.3L422.5 89.6L424.5 90.3L426.5 91.1L428.5 91.9L430.5 92.8L432.5 93.4L434.5 93.9L436.5 94.1L438.5 94.2L440.5 94.0L442.5 93.9L444.5 93.6L446.5 92.9L448.5 92.2L450.5 91.4L452.5 90.7L454.5 90.0L456.5 89.3L458.5 88.8L460.5 88.5L462.5 88.4L464.5 88.6L466.5 88.9L468.5 89.3L470.5 89.4L472.5 89.3L474.5 89.0L476.5 88.8L478.5 88.5L480.5 88.3L482.5 88.1L484.5 88.0L486.5 88.0L488.5 88.0L490.5 88.0L492.5 88.0L494.5 88.2L496.5 87.8L498.5 87.4L500.5 87.6L502.5 88.2L504.5 88.9L506.5 89.8L508.5 90.4L510.5 90.6L512.5 90.6L514.5 90.5L516.5 90.4" stroke="#8ec2dd" stroke-width="0.60" fill="none"/>
<path d="M304.5 90.0L306.5 90.0L308.5 89.9L310.5 89.9L312.5 89.9L314.5 89.8L316.5 89.9L318.5 90.5L320.5 90.7L322.5 90.9L324.5 91.4L326.5 91.4L328.5 91.8L330.5 92.3L332.5 92.5L334.5 92.7L336.5 92.6L338.5 92.6L340.5 92.5L342.5 92.5L344.5 92.4L346.5 92.4L348.5 92.3L350.5 92.3L352.5 92.3L354.5 92.3L356.5 92.5L358.5 92.6L360.5 92.7L362.5 92.7L364.5 92.6L366.5 92.2L368.5 91.8L370.5 91.1L372.5 90.3L374.5 89.5L376.5 88.9L378.5 88.5L380.5 88.2L382.5 88.0L384.5 87.8L386.5 87.8L388.5 87.9L390.5 88.1L392.5 88.6L394.5 89.3L396.5 90.2L398.5 90.8L400.5 91.4L402.5 91.8L404.5 91.8L406.5 91.5L408.5 91.0L410.5 90.5L412.5 90.0L414.5 89.4L416.5 88.8L418.5 88.3L420.5 88.1L422.5 88.2L424.5 88.6L426.5 89.1L428.5 89.5L430.5 89.6L432.5 89.8L434.5 90.0L436.5 89.9L438.5 90.3L440.5 91.2L442.5 91.8L444.5 91.9L446.5 91.5L448.5 90.9L450.5 90.2L452.5 89.5L454.5 88.8L456.5 88.2L458.5 87.6L460.5 87.2L462.5 86.9L464.5 86.7L466.5 86.4L468.5 86.1L470.5 85.9L472.5 86.0L474.5 86.1L476.5 86.2L478.5 86.3L480.5 86.3L482.5 86.2L484.5 86.0L486.5 85.4L488.5 85.5L490.5 85.0L492.5 84.5L494.5 83.9L496.5 82.6L498.5 81.6L500.5 81.2L502.5 81.1L504.5 81.0L506.5 81.2L508.5 81.2L510.5 80.9L512.5 80.5L514.5 80.0L516.5 79.7" stroke="#f09d7c" stroke-width="0.60" fill="none"/>
<path d="M304.5 101.6L306.5 101.4L308.5 101.0L310.5 100.6L312.5 100.3L314.5 99.7L316.5 99.3L318.5 99.1L320.5 98.5L322.5 98.3L324.5 97.8L326.5 97.3L328.5 96.3L330.5 96.4L332.5 96.0L334.5 95.7L336.5 95.4L338.5 95.8L340.5 96.1L342.5 95.9L344.5 95.6L346.5 95.4L348.5 95.2L350.5 94.9L352.5 94.7L354.5 94.4L356.5 94.2L358.5 94.1L360.5 94.2L362.5 94.1L364.5 93.9L366.5 93.5L368.5 93.1L370.5 92.6L372.5 91.9L374.5 91.2L376.5 90.9L378.5 90.8L380.5 90.7L382.5 90.9L384.5 91.2L386.5 91.2L388.5 91.3L390.5 92.2L392.5 92.7L394.5 92.9L396.5 92.9L398.5 92.9L400.5 93.1L402.5 93.3L404.5 93.1L406.5 92.7L408.5 92.1L410.5 91.5L412.5 90.9L414.5 90.4L416.5 89.9L418.5 89.5L420.5 89.4L422.5 89.7L424.5 90.4L426.5 91.3L428.5 92.1L430.5 93.0L432.5 93.7L434.5 94.1L436.5 94.3L438.5 94.4L440.5 94.2L442.5 94.1L444.5 93.7L446.5 93.1L448.5 92.4L450.5 91.6L452.5 90.9L454.5 90.2L456.5 89.5L458.5 89.0L460.5 88.7L462.5 88.6L464.5 88.8L466.5 89.1L468.5 89.5L470.5 89.6L472.5 89.5L474.5 89.2L476.5 89.0L478.5 88.7L480.5 88.5L482.5 88.3L484.5 88.2L486.5 88.2L488.5 88.2L490.5 88.2L492.5 88.3L494.5 88.5L496.5 88.2L498.5 88.0L500.5 88.3L502.5 89.0L504.5 89.8L506.5 90.7L508.5 91.4L510.5 91.6L512.5 91.7L514.5 91.7L516.5 91.6" stroke="#82bbd8" stroke-width="0.60" fill="none"/>
<path d="M304.5 88.9L306.5 88.9L308.5 88.9L310.5 88.8L312.5 88.9L314.5 88.8L316.5 89.0L318.5 89.7L320.5 90.1L322.5 90.5L324.5 91.1L326.5 91.2L328.5 91.6L330.5 92.1L332.5 92.3L334.5 92.5L336.5 92.5L338.5 92.4L340.5 92.3L342.5 92.3L344.5 92.3L346.5 92.2L348.5 92.1L350.5 92.1L352.5 92.1L354.5 92.1L356.5 92.3L358.5 92.4L360.5 92.5L362.5 92.6L364.5 92.4L366.5 92.1L368.5 91.6L370.5 91.0L372.5 90.2L374.5 89.3L376.5 88.7L378.5 88.3L380.5 88.0L382.5 87.8L384.5 87.6L386.5 87.5L388.5 87.6L390.5 87.9L392.5 88.4L394.5 89.1L396.5 89.9L398.5 90.6L400.5 91.1L402.5 91.6L404.5 91.7L406.5 91.4L408.5 90.9L410.5 90.4L412.5 89.8L414.5 89.3L416.5 88.7L418.5 88.2L420.5 87.9L422.5 87.9L424.5 88.2L426.5 88.7L428.5 89.1L430.5 89.1L432.5 89.3L434.5 89.5L436.5 89.4L438.5 89.8L440.5 90.8L442.5 91.5L444.5 91.6L446.5 91.3L448.5 90.7L450.5 90.0L452.5 89.3L454.5 88.6L456.5 88.0L458.5 87.4L460.5 87.0L462.5 86.7L464.5 86.5L466.5 86.1L468.5 85.8L470.5 85.7L472.5 85.7L474.5 85.8L476.5 85.9L478.5 86.0L480.5 86.0L482.5 85.8L484.5 85.6L486.5 85.0L488.5 85.0L490.5 84.4L492.5 83.7L494.5 83.0L496.5 81.6L498.5 80.5L500.5 80.0L502.5 79.8L504.5 79.7L506.5 79.7L508.5 79.6L510.5 79.2L512.5 78.7L514.5 78.1L516.5 77.8" stroke="#ec9273" stroke-width="0.60" fill="none"/>
<path d="M304.5 103.4L306.5 103.2L308.5 102.8L310.5 102.3L312.5 101.9L314.5 101.3L316.5 100.8L318.5 100.6L320.5 99.9L322.5 99.5L324.5 99.0L326.5 98.4L328.5 97.2L330.5 97.1L332.5 96.4L334.5 96.0L336.5 95.6L338.5 96.0L340.5 96.3L342.5 96.1L344.5 95.8L346.5 95.6L348.5 95.4L350.5 95.1L352.5 94.9L354.5 94.6L356.5 94.4L358.5 94.3L360.5 94.4L362.5 94.3L364.5 94.1L366.5 93.7L368.5 93.3L370.5 92.7L372.5 92.1L374.5 91.5L376.5 91.2L378.5 91.1L380.5 91.2L382.5 91.3L384.5 91.7L386.5 91.8L388.5 91.9L390.5 92.7L392.5 93.2L394.5 93.3L396.5 93.2L398.5 93.2L400.5 93.4L402.5 93.5L404.5 93.3L406.5 92.8L408.5 92.2L410.5 91.6L412.5 91.0L414.5 90.5L416.5 90.0L418.5 89.6L420.5 89.6L422.5 89.9L424.5 90.6L426.5 91.5L428.5 92.4L430.5 93.2L432.5 93.9L434.5 94.3L436.5 94.6L438.5 94.6L440.5 94.5L442.5 94.3L444.5 93.9L446.5 93.3L448.5 92.6L450.5 91.8L452.5 91.1L454.5 90.3L456.5 89.7L458.5 89.1L460.5 88.8L462.5 88.8L464.5 89.0L466.5 89.3L468.5 89.7L470.5 89.8L472.5 89.7L474.5 89.5L476.5 89.2L478.5 89.0L480.5 88.7L482.5 88.5L484.5 88.4L486.5 88.4L488.5 88.4L490.5 88.5L492.5 88.6L494.5 88.8L496.5 88.6L498.5 88.5L500.5 88.9L502.5 89.7L504.5 90.7L506.5 91.7L508.5 92.4L510.5 92.7L512.5 92.8L514.5 92.8L516.5 92.7" stroke="#76b3d4" stroke-width="0.60" fill="none"/>
<path d="M304.5 87.8L306.5 87.8L308.5 87.8L310.5 87.8L312.5 87.9L314.5 87.8L316.5 88.1L318.5 88.9L320.5 89.5L322.5 90.1L324.5 90.8L326.5 90.9L328.5 91.4L330.5 91.9L332.5 92.2L334.5 92.3L336.5 92.3L338.5 92.2L340.5 92.2L342.5 92.1L344.5 92.1L346.5 92.0L348.5 92.0L350.5 91.9L352.5 91.9L354.5 91.9L356.5 92.1L358.5 92.2L360.5 92.3L362.5 92.4L364.5 92.3L366.5 91.9L368.5 91.4L370.5 90.8L372.5 90.0L374.5 89.1L376.5 88.5L378.5 88.1L380.5 87.8L382.5 87.5L384.5 87.4L386.5 87.3L388.5 87.4L390.5 87.7L392.5 88.2L394.5 88.9L396.5 89.7L398.5 90.4L400.5 90.9L402.5 91.4L404.5 91.5L406.5 91.2L408.5 90.8L410.5 90.3L412.5 89.7L414.5 89.1L416.5 88.5L418.5 88.0L420.5 87.7L422.5 87.7L424.5 87.9L426.5 88.3L428.5 88.7L430.5 88.6L432.5 88.8L434.5 89.0L436.5 88.9L438.5 89.4L440.5 90.3L442.5 91.1L444.5 91.3L446.5 91.0L448.5 90.5L450.5 89.8L452.5 89.1L454.5 88.4L456.5 87.8L458.5 87.2L460.5 86.8L462.5 86.5L464.5 86.2L466.5 85.9L468.5 85.6L470.5 85.4L472.5 85.5L474.5 85.5L476.5 85.6L478.5 85.7L480.5 85.7L482.5 85.5L484.5 85.3L486.5 84.7L488.5 84.5L490.5 83.8L492.5 83.0L494.5 82.1L496.5 80.6L498.5 79.4L500.5 78.8L502.5 78.5L504.5 78.3L506.5 78.2L508.5 78.0L510.5 77.5L512.5 77.0L514.5 76.3L516.5 75.9" stroke="#e7876b" stroke-width="0.60" fill="none"/>
<path d="M304.5 105.3L306.5 105.0L308.5 104.5L310.5 104.0L312.5 103.5L314.5 102.9L316.5 102.4L318.5 102.0L320.5 101.3L322.5 100.8L324.5 100.2L326.5 99.5L328.5 98.1L330.5 97.8L332.5 96.8L334.5 96.3L336.5 95.9L338.5 96.3L340.5 96.5L342.5 96.3L344.5 96.0L346.5 95.8L348.5 95.6L350.5 95.3L352.5 95.1L354.5 94.9L356.5 94.6L358.5 94.6L360.5 94.5L362.5 94.5L364.5 94.2L366.5 93.9L368.5 93.4L370.5 92.9L372.5 92.3L374.5 91.7L376.5 91.5L378.5 91.5L380.5 91.6L382.5 91.8L384.5 92.2L386.5 92.3L388.5 92.5L390.5 93.3L392.5 93.7L394.5 93.8L396.5 93.6L398.5 93.6L400.5 93.7L402.5 93.7L404.5 93.5L406.5 93.0L408.5 92.3L410.5 91.7L412.5 91.2L414.5 90.6L416.5 90.1L418.5 89.7L420.5 89.7L422.5 90.1L424.5 90.8L426.5 91.7L428.5 92.6L430.5 93.4L432.5 94.1L434.5 94.5L436.5 94.8L438.5 94.8L440.5 94.7L442.5 94.5L444.5 94.1L446.5 93.5L448.5 92.7L450.5 92.0L452.5 91.2L454.5 90.5L456.5 89.8L458.5 89.3L460.5 89.0L462.5 89.0L464.5 89.2L466.5 89.6L468.5 89.9L470.5 90.0L472.5 89.9L474.5 89.7L476.5 89.4L478.5 89.2L480.5 88.9L482.5 88.8L484.5 88.7L486.5 88.7L488.5 88.7L490.5 88.7L492.5 88.9L494.5 89.2L496.5 89.0L498.5 89.0L500.5 89.6L502.5 90.5L504.5 91.5L506.5 92.6L508.5 93.4L510.5 93.8L512.5 93.9L514.5 93.9L516.5 93.9" stroke="#6aabd0" stroke-width="0.60" fill="none"/>
<path d="M304.5 86.6L306.5 86.7L308.5 86.7L310.5 86.7L312.5 86.8L314.5 86.9L316.5 87.3L318.5 88.2L320.5 88.9L322.5 89.7L324.5 90.5L326.5 90.7L328.5 91.2L330.5 91.7L332.5 92.0L334.5 92.1L336.5 92.1L338.5 92.1L340.5 92.0L342.5 91.9L344.5 91.9L346.5 91.8L348.5 91.8L350.5 91.7L352.5 91.7L354.5 91.7L356.5 91.9L358.5 92.0L360.5 92.1L362.5 92.2L364.5 92.1L366.5 91.8L368.5 91.2L370.5 90.6L372.5 89.8L374.5 88.9L376.5 88.3L378.5 87.9L380.5 87.6L382.5 87.3L384.5 87.1L386.5 87.1L388.5 87.2L390.5 87.4L392.5 87.9L394.5 88.6L396.5 89.5L398.5 90.2L400.5 90.7L402.5 91.2L404.5 91.3L406.5 91.1L408.5 90.6L410.5 90.1L412.5 89.6L414.5 89.0L416.5 88.4L418.5 87.9L420.5 87.6L422.5 87.5L424.5 87.6L426.5 87.9L428.5 88.2L430.5 88.1L432.5 88.3L434.5 88.4L436.5 88.4L438.5 88.9L440.5 89.9L442.5 90.7L444.5 91.0L446.5 90.8L448.5 90.3L450.5 89.6L452.5 88.9L454.5 88.2L456.5 87.6L458.5 87.0L460.5 86.6L462.5 86.3L464.5 86.0L466.5 85.7L468.5 85.4L470.5 85.2L472.5 85.2L474.5 85.3L476.5 85.3L478.5 85.4L480.5 85.4L482.5 85.2L484.5 84.9L486.5 84.3L488.5 84.1L490.5 83.3L492.5 82.3L494.5 81.2L496.5 79.6L498.5 78.3L500.5 77.6L502.5 77.2L504.5 76.9L506.5 76.7L508.5 76.4L510.5 75.8L512.5 75.2L514.5 74.4L516.5 74.0" stroke="#e27c63" stroke-width="0.60" fill="none"/>
<path d="M304.5 107.1L306.5 106.9L308.5 106.3L310.5 105.7L312.5 105.2L314.5 104.5L316.5 103.9L318.5 103.5L320.5 102.7L322.5 102.1L324.5 101.4L326.5 100.6L328.5 99.1L330.5 98.4L332.5 97.2L334.5 96.6L336.5 96.1L338.5 96.5L340.5 96.7L342.5 96.5L344.5 96.3L346.5 96.0L348.5 95.8L350.5 95.6L352.5 95.3L354.5 95.1L356.5 94.8L358.5 94.8L360.5 94.7L362.5 94.6L364.5 94.4L366.5 94.1L368.5 93.6L370.5 93.1L372.5 92.5L374.5 92.0L376.5 91.8L378.5 91.8L380.5 92.0L382.5 92.3L384.5 92.7L386.5 92.9L388.5 93.0L390.5 93.8L392.5 94.2L394.5 94.2L396.5 94.0L398.5 93.9L400.5 93.9L402.5 93.9L404.5 93.6L406.5 93.1L408.5 92.5L410.5 91.9L412.5 91.3L414.5 90.7L416.5 90.2L418.5 89.9L420.5 89.9L422.5 90.2L424.5 91.0L426.5 91.9L428.5 92.8L430.5 93.7L432.5 94.3L434.5 94.8L436.5 95.0L438.5 95.1L440.5 94.9L442.5 94.7L444.5 94.3L446.5 93.7L448.5 92.9L450.5 92.2L452.5 91.4L454.5 90.7L456.5 90.0L458.5 89.5L460.5 89.2L462.5 89.2L464.5 89.4L466.5 89.8L468.5 90.1L470.5 90.2L472.5 90.1L474.5 89.9L476.5 89.6L478.5 89.4L480.5 89.2L482.5 89.0L484.5 88.9L486.5 88.9L488.5 88.9L490.5 89.0L492.5 89.2L494.5 89.5L496.5 89.4L498.5 89.5L500.5 90.2L502.5 91.2L504.5 92.4L506.5 93.6L508.5 94.4L510.5 94.8L512.5 95.0L514.5 95.0L516.5 95.0" stroke="#5da4cc" stroke-width="0.60" fill="none"/>
<path d="M304.5 85.5L306.5 85.6L308.5 85.6L310.5 85.7L312.5 85.8L314.5 85.9L316.5 86.4L318.5 87.4L320.5 88.3L322.5 89.3L324.5 90.2L326.5 90.5L328.5 91.0L330.5 91.6L332.5 91.8L334.5 92.0L336.5 91.9L338.5 91.9L340.5 91.8L342.5 91.8L344.5 91.7L346.5 91.6L348.5 91.6L350.5 91.5L352.5 91.5L354.5 91.5L356.5 91.7L358.5 91.8L360.5 92.0L362.5 92.1L364.5 91.9L366.5 91.6L368.5 91.1L370.5 90.4L372.5 89.6L374.5 88.7L376.5 88.1L378.5 87.7L380.5 87.3L382.5 87.1L384.5 86.9L386.5 86.8L388.5 86.9L390.5 87.2L392.5 87.7L394.5 88.4L396.5 89.2L398.5 90.0L400.5 90.5L402.5 91.0L404.5 91.2L406.5 90.9L408.5 90.5L410.5 90.0L412.5 89.5L414.5 88.9L416.5 88.3L418.5 87.7L420.5 87.4L422.5 87.2L424.5 87.3L426.5 87.6L428.5 87.8L430.5 87.7L432.5 87.7L434.5 87.9L436.5 87.9L438.5 88.4L440.5 89.5L442.5 90.3L444.5 90.7L446.5 90.5L448.5 90.1L450.5 89.4L452.5 88.7L454.5 88.1L456.5 87.4L458.5 86.9L460.5 86.4L462.5 86.1L464.5 85.8L466.5 85.4L468.5 85.1L470.5 84.9L472.5 85.0L474.5 85.0L476.5 85.1L478.5 85.1L480.5 85.1L482.5 84.9L484.5 84.6L486.5 83.9L488.5 83.6L490.5 82.7L492.5 81.6L494.5 80.3L496.5 78.6L498.5 77.2L500.5 76.4L502.5 76.0L504.5 75.5L506.5 75.2L508.5 74.8L510.5 74.1L512.5 73.4L514.5 72.6L516.5 72.1" stroke="#dd715a" stroke-width="0.60" fill="none"/>
<path d="M304.5 109.0L306.5 108.7L308.5 108.0L310.5 107.4L312.5 106.8L314.5 106.0L316.5 105.4L318.5 104.9L320.5 104.1L322.5 103.4L324.5 102.5L326.5 101.7L328.5 100.0L330.5 99.1L332.5 97.6L334.5 96.9L336.5 96.4L338.5 96.7L340.5 96.9L342.5 96.7L344.5 96.5L346.5 96.2L348.5 96.0L350.5 95.8L352.5 95.5L354.5 95.3L356.5 95.0L358.5 95.0L360.5 94.9L362.5 94.8L364.5 94.6L366.5 94.2L368.5 93.8L370.5 93.3L372.5 92.7L374.5 92.2L376.5 92.1L378.5 92.2L380.5 92.4L382.5 92.7L384.5 93.2L386.5 93.4L388.5 93.6L390.5 94.3L392.5 94.6L394.5 94.6L396.5 94.3L398.5 94.2L400.5 94.2L402.5 94.1L404.5 93.8L406.5 93.3L408.5 92.6L410.5 92.0L412.5 91.4L414.5 90.9L416.5 90.4L418.5 90.0L420.5 90.0L422.5 90.4L424.5 91.2L426.5 92.1L428.5 93.0L430.5 93.9L432.5 94.5L434.5 95.0L436.5 95.2L438.5 95.3L440.5 95.1L442.5 94.9L444.5 94.5L446.5 93.9L448.5 93.1L450.5 92.3L452.5 91.6L454.5 90.8L456.5 90.2L458.5 89.6L460.5 89.4L462.5 89.4L464.5 89.6L466.5 90.0L468.5 90.3L470.5 90.4L472.5 90.3L474.5 90.1L476.5 89.9L478.5 89.6L480.5 89.4L482.5 89.2L484.5 89.1L486.5 89.1L488.5 89.2L490.5 89.2L492.5 89.4L494.5 89.8L496.5 89.8L498.5 90.1L500.5 90.8L502.5 92.0L504.5 93.3L506.5 94.5L508.5 95.4L510.5 95.9L512.5 96.1L514.5 96.2L516.5 96.2" stroke="#519cc8" stroke-width="0.60" fill="none"/>
<path d="M304.5 84.4L306.5 84.5L308.5 84.5L310.5 84.6L312.5 84.8L314.5 84.9L316.5 85.5L318.5 86.6L320.5 87.7L322.5 88.8L324.5 89.8L326.5 90.2L328.5 90.8L330.5 91.4L332.5 91.6L334.5 91.8L336.5 91.8L338.5 91.7L340.5 91.6L342.5 91.6L344.5 91.5L346.5 91.4L348.5 91.4L350.5 91.3L352.5 91.3L354.5 91.3L356.5 91.5L358.5 91.6L360.5 91.8L362.5 91.9L364.5 91.8L366.5 91.4L368.5 90.9L370.5 90.2L372.5 89.4L374.5 88.6L376.5 87.9L378.5 87.5L380.5 87.1L382.5 86.8L384.5 86.6L386.5 86.6L388.5 86.7L390.5 87.0L392.5 87.5L394.5 88.2L396.5 89.0L398.5 89.7L400.5 90.3L402.5 90.8L404.5 91.0L406.5 90.8L408.5 90.4L410.5 89.9L412.5 89.3L414.5 88.8L416.5 88.1L418.5 87.6L420.5 87.2L422.5 87.0L424.5 87.0L426.5 87.2L428.5 87.3L430.5 87.2L432.5 87.2L434.5 87.4L436.5 87.4L438.5 88.0L440.5 89.0L442.5 90.0L444.5 90.4L446.5 90.3L448.5 89.9L450.5 89.2L452.5 88.5L454.5 87.9L456.5 87.3L458.5 86.7L460.5 86.2L462.5 85.8L464.5 85.5L466.5 85.2L468.5 84.9L470.5 84.7L472.5 84.7L474.5 84.7L476.5 84.8L478.5 84.8L480.5 84.8L482.5 84.5L484.5 84.3L486.5 83.6L488.5 83.1L490.5 82.1L492.5 80.9L494.5 79.4L496.5 77.6L498.5 76.1L500.5 75.2L502.5 74.7L504.5 74.1L506.5 73.7L508.5 73.2L510.5 72.4L512.5 71.6L514.5 70.7L516.5 70.2" stroke="#d96652" stroke-width="0.60" fill="none"/>
<path d="M304.5 110.8L306.5 110.5L308.5 109.8L310.5 109.1L312.5 108.4L314.5 107.6L316.5 107.0L318.5 106.4L320.5 105.5L322.5 104.7L324.5 103.7L326.5 102.8L328.5 100.9L330.5 99.7L332.5 98.0L334.5 97.2L336.5 96.6L338.5 96.9L340.5 97.1L342.5 96.9L344.5 96.7L346.5 96.4L348.5 96.2L350.5 96.0L352.5 95.7L354.5 95.5L356.5 95.3L358.5 95.2L360.5 95.1L362.5 95.0L364.5 94.8L366.5 94.4L368.5 94.0L370.5 93.5L372.5 92.9L374.5 92.5L376.5 92.3L378.5 92.5L380.5 92.8L382.5 93.2L384.5 93.7L386.5 94.0L388.5 94.2L390.5 94.8L392.5 95.1L394.5 95.0L396.5 94.7L398.5 94.5L400.5 94.4L402.5 94.3L404.5 94.0L406.5 93.4L408.5 92.7L410.5 92.1L412.5 91.5L414.5 91.0L416.5 90.5L418.5 90.2L420.5 90.2L422.5 90.5L424.5 91.3L426.5 92.3L428.5 93.2L430.5 94.1L432.5 94.8L434.5 95.2L436.5 95.5L438.5 95.5L440.5 95.3L442.5 95.1L444.5 94.7L446.5 94.1L448.5 93.3L450.5 92.5L452.5 91.8L454.5 91.0L456.5 90.3L458.5 89.8L460.5 89.5L462.5 89.6L464.5 89.8L466.5 90.2L468.5 90.5L470.5 90.6L472.5 90.5L474.5 90.3L476.5 90.1L478.5 89.8L480.5 89.6L482.5 89.4L484.5 89.4L486.5 89.4L488.5 89.4L490.5 89.5L492.5 89.7L494.5 90.1L496.5 90.2L498.5 90.6L500.5 91.5L502.5 92.8L504.5 94.1L506.5 95.5L508.5 96.4L510.5 96.9L512.5 97.2L514.5 97.3L516.5 97.3" stroke="#4594c4" stroke-width="0.60" fill="none"/>
<path d="M304.5 83.3L306.5 83.4L308.5 83.5L310.5 83.6L312.5 83.8L314.5 84.0L316.5 84.6L318.5 85.8L320.5 87.1L322.5 88.4L324.5 89.5L326.5 90.0L328.5 90.6L330.5 91.2L332.5 91.4L334.5 91.6L336.5 91.6L338.5 91.5L340.5 91.5L342.5 91.4L344.5 91.3L346.5 91.3L348.5 91.2L350.5 91.1L352.5 91.1L354.5 91.1L356.5 91.2L358.5 91.4L360.5 91.6L362.5 91.7L364.5 91.6L366.5 91.3L368.5 90.7L370.5 90.1L372.5 89.2L374.5 88.4L376.5 87.7L378.5 87.2L380.5 86.9L382.5 86.6L384.5 86.4L386.5 86.4L388.5 86.5L390.5 86.7L392.5 87.2L394.5 87.9L396.5 88.8L398.5 89.5L400.5 90.1L402.5 90.6L404.5 90.8L406.5 90.6L408.5 90.2L410.5 89.8L412.5 89.2L414.5 88.6L416.5 88.0L418.5 87.4L420.5 87.0L422.5 86.7L424.5 86.7L426.5 86.8L428.5 86.9L430.5 86.7L432.5 86.7L434.5 86.9L436.5 86.9L438.5 87.5L440.5 88.6L442.5 89.6L444.5 90.1L446.5 90.1L448.5 89.7L450.5 89.0L452.5 88.3L454.5 87.7L456.5 87.1L458.5 86.5L460.5 86.0L462.5 85.6L464.5 85.3L466.5 85.0L468.5 84.7L470.5 84.5L472.5 84.4L474.5 84.5L476.5 84.5L478.5 84.5L480.5 84.4L482.5 84.2L484.5 83.9L486.5 83.2L488.5 82.7L490.5 81.5L492.5 80.2L494.5 78.5L496.5 76.6L498.5 75.0L500.5 74.1L502.5 73.4L504.5 72.8L506.5 72.2L508.5 71.6L510.5 70.7L512.5 69.8L514.5 68.8L516.5 68.3" stroke="#d35b4b" stroke-width="0.60" fill="none"/>
<path d="M304.5 112.7L306.5 112.3L308.5 111.6L310.5 110.8L312.5 110.1L314.5 109.2L316.5 108.5L318.5 107.8L320.5 106.9L322.5 106.0L324.5 104.9L326.5 103.9L328.5 101.9L330.5 100.4L332.5 98.4L334.5 97.5L336.5 96.9L338.5 97.1L340.5 97.3L342.5 97.1L344.5 96.9L346.5 96.6L348.5 96.4L350.5 96.2L352.5 96.0L354.5 95.7L356.5 95.5L358.5 95.4L360.5 95.3L362.5 95.2L364.5 94.9L366.5 94.6L368.5 94.1L370.5 93.7L372.5 93.1L374.5 92.7L376.5 92.6L378.5 92.9L380.5 93.2L382.5 93.7L384.5 94.2L386.5 94.5L388.5 94.8L390.5 95.3L392.5 95.6L394.5 95.4L396.5 95.1L398.5 94.8L400.5 94.7L402.5 94.5L404.5 94.1L406.5 93.5L408.5 92.9L410.5 92.2L412.5 91.6L414.5 91.1L416.5 90.6L418.5 90.3L420.5 90.3L422.5 90.7L424.5 91.5L426.5 92.5L428.5 93.5L430.5 94.3L432.5 95.0L434.5 95.4L436.5 95.7L438.5 95.7L440.5 95.5L442.5 95.3L444.5 94.9L446.5 94.2L448.5 93.5L450.5 92.7L452.5 91.9L454.5 91.2L456.5 90.5L458.5 90.0L460.5 89.7L462.5 89.8L464.5 90.0L466.5 90.4L468.5 90.7L470.5 90.8L472.5 90.8L474.5 90.5L476.5 90.3L478.5 90.1L480.5 89.8L482.5 89.7L484.5 89.6L486.5 89.6L488.5 89.7L490.5 89.7L492.5 90.0L494.5 90.4L496.5 90.6L498.5 91.1L500.5 92.1L502.5 93.5L504.5 95.0L506.5 96.4L508.5 97.4L510.5 98.0L512.5 98.3L514.5 98.4L516.5 98.5" stroke="#3f8dc0" stroke-width="0.60" fill="none"/>
<path d="M304.5 82.2L306.5 82.2L308.5 82.4L310.5 82.5L312.5 82.8L314.5 83.0L316.5 83.7L318.5 85.1L320.5 86.6L322.5 88.0L324.5 89.2L326.5 89.8L328.5 90.4L330.5 91.0L332.5 91.3L334.5 91.4L336.5 91.4L338.5 91.4L340.5 91.3L342.5 91.2L344.5 91.1L346.5 91.1L348.5 91.0L350.5 90.9L352.5 90.9L354.5 90.9L356.5 91.0L358.5 91.2L360.5 91.4L362.5 91.5L364.5 91.4L366.5 91.1L368.5 90.6L370.5 89.9L372.5 89.0L374.5 88.2L376.5 87.5L378.5 87.0L380.5 86.6L382.5 86.4L384.5 86.2L386.5 86.1L388.5 86.2L390.5 86.5L392.5 87.0L394.5 87.7L396.5 88.5L398.5 89.3L400.5 89.9L402.5 90.5L404.5 90.7L406.5 90.5L408.5 90.1L410.5 89.6L412.5 89.1L414.5 88.5L416.5 87.9L418.5 87.2L420.5 86.8L422.5 86.5L424.5 86.4L426.5 86.4L428.5 86.4L430.5 86.2L432.5 86.2L434.5 86.4L436.5 86.4L438.5 87.1L440.5 88.2L442.5 89.2L444.5 89.8L446.5 89.8L448.5 89.5L450.5 88.8L452.5 88.1L454.5 87.5L456.5 86.9L458.5 86.3L460.5 85.8L462.5 85.4L464.5 85.1L466.5 84.7L468.5 84.4L470.5 84.2L472.5 84.2L474.5 84.2L476.5 84.2L478.5 84.2L480.5 84.1L482.5 83.9L484.5 83.6L486.5 82.8L488.5 82.2L490.5 81.0L492.5 79.4L494.5 77.6L496.5 75.6L498.5 73.9L500.5 72.9L502.5 72.1L504.5 71.4L506.5 70.7L508.5 70.0L510.5 69.0L512.5 68.0L514.5 67.0L516.5 66.4" stroke="#ce4f45" stroke-width="0.60" fill="none"/>
<path d="M304.5 114.5L306.5 114.1L308.5 113.3L310.5 112.5L312.5 111.7L314.5 110.8L316.5 110.0L318.5 109.3L320.5 108.2L322.5 107.3L324.5 106.1L326.5 104.9L328.5 102.8L330.5 101.0L332.5 98.9L334.5 97.7L336.5 97.1L338.5 97.4L340.5 97.5L342.5 97.3L344.5 97.1L346.5 96.8L348.5 96.6L350.5 96.4L352.5 96.2L354.5 95.9L356.5 95.7L358.5 95.6L360.5 95.5L362.5 95.4L364.5 95.1L366.5 94.7L368.5 94.3L370.5 93.9L372.5 93.3L374.5 93.0L376.5 92.9L378.5 93.2L380.5 93.6L382.5 94.1L384.5 94.7L386.5 95.1L388.5 95.3L390.5 95.9L392.5 96.0L394.5 95.8L396.5 95.4L398.5 95.1L400.5 94.9L402.5 94.7L404.5 94.3L406.5 93.7L408.5 93.0L410.5 92.4L412.5 91.8L414.5 91.2L416.5 90.8L418.5 90.4L420.5 90.5L422.5 90.9L424.5 91.7L426.5 92.7L428.5 93.7L430.5 94.6L432.5 95.2L434.5 95.7L436.5 95.9L438.5 95.9L440.5 95.8L442.5 95.5L444.5 95.1L446.5 94.4L448.5 93.7L450.5 92.9L452.5 92.1L454.5 91.3L456.5 90.6L458.5 90.1L460.5 89.9L462.5 90.0L464.5 90.2L466.5 90.6L468.5 90.9L470.5 91.1L472.5 91.0L474.5 90.7L476.5 90.5L478.5 90.3L480.5 90.1L482.5 89.9L484.5 89.8L486.5 89.8L488.5 89.9L490.5 90.0L492.5 90.3L494.5 90.7L496.5 91.0L498.5 91.7L500.5 92.8L502.5 94.3L504.5 95.9L506.5 97.4L508.5 98.4L510.5 99.0L512.5 99.4L514.5 99.6L516.5 99.6" stroke="#3a87bd" stroke-width="0.60" fill="none"/>
<path d="M304.5 81.0L306.5 81.1L308.5 81.3L310.5 81.5L312.5 81.7L314.5 82.1L316.5 82.8L318.5 84.3L320.5 86.0L322.5 87.6L324.5 88.9L326.5 89.5L328.5 90.2L330.5 90.8L332.5 91.1L334.5 91.2L336.5 91.2L338.5 91.2L340.5 91.1L342.5 91.0L344.5 91.0L346.5 90.9L348.5 90.8L350.5 90.7L352.5 90.7L354.5 90.7L356.5 90.8L358.5 91.0L360.5 91.2L362.5 91.4L364.5 91.3L366.5 90.9L368.5 90.4L370.5 89.7L372.5 88.8L374.5 88.0L376.5 87.3L378.5 86.8L380.5 86.4L382.5 86.1L384.5 85.9L386.5 85.9L388.5 86.0L390.5 86.3L392.5 86.8L394.5 87.5L396.5 88.3L398.5 89.1L400.5 89.7L402.5 90.3L404.5 90.5L406.5 90.3L408.5 90.0L410.5 89.5L412.5 89.0L414.5 88.4L416.5 87.7L418.5 87.1L420.5 86.6L422.5 86.3L424.5 86.1L426.5 86.1L428.5 86.0L430.5 85.8L432.5 85.7L434.5 85.8L436.5 85.9L438.5 86.6L440.5 87.7L442.5 88.9L444.5 89.5L446.5 89.6L448.5 89.3L450.5 88.6L452.5 88.0L454.5 87.3L456.5 86.7L458.5 86.1L460.5 85.6L462.5 85.2L464.5 84.8L466.5 84.5L468.5 84.2L470.5 84.0L472.5 83.9L474.5 83.9L476.5 83.9L478.5 83.9L480.5 83.8L482.5 83.5L484.5 83.2L486.5 82.5L488.5 81.7L490.5 80.4L492.5 78.7L494.5 76.7L496.5 74.6L498.5 72.8L500.5 71.7L502.5 70.8L504.5 70.0L506.5 69.2L508.5 68.3L510.5 67.3L512.5 66.2L514.5 65.1L516.5 64.5" stroke="#c84440" stroke-width="0.60" fill="none"/>
<path d="M304.5 116.4L306.5 116.0L308.5 115.1L310.5 114.2L312.5 113.4L314.5 112.4L316.5 111.5L318.5 110.7L320.5 109.6L322.5 108.5L324.5 107.3L326.5 106.0L328.5 103.7L330.5 101.7L332.5 99.3L334.5 98.0L336.5 97.4L338.5 97.6L340.5 97.6L342.5 97.5L344.5 97.3L346.5 97.0L348.5 96.8L350.5 96.6L352.5 96.4L354.5 96.2L356.5 95.9L358.5 95.8L360.5 95.7L362.5 95.6L364.5 95.3L366.5 94.9L368.5 94.5L370.5 94.0L372.5 93.5L374.5 93.2L376.5 93.2L378.5 93.6L380.5 94.0L382.5 94.6L384.5 95.3L386.5 95.6L388.5 95.9L390.5 96.4L392.5 96.5L394.5 96.3L396.5 95.8L398.5 95.4L400.5 95.2L402.5 94.9L404.5 94.5L406.5 93.8L408.5 93.1L410.5 92.5L412.5 91.9L414.5 91.3L416.5 90.9L418.5 90.6L420.5 90.6L422.5 91.0L424.5 91.9L426.5 92.9L428.5 93.9L430.5 94.8L432.5 95.4L434.5 95.9L436.5 96.1L438.5 96.2L440.5 96.0L442.5 95.7L444.5 95.2L446.5 94.6L448.5 93.8L450.5 93.1L452.5 92.3L454.5 91.5L456.5 90.8L458.5 90.3L460.5 90.1L462.5 90.2L464.5 90.4L466.5 90.8L468.5 91.1L470.5 91.3L472.5 91.2L474.5 91.0L476.5 90.7L478.5 90.5L480.5 90.3L482.5 90.1L484.5 90.0L486.5 90.1L488.5 90.2L490.5 90.3L492.5 90.5L494.5 91.0L496.5 91.5L498.5 92.2L500.5 93.4L502.5 95.0L504.5 96.7L506.5 98.3L508.5 99.4L510.5 100.1L512.5 100.5L514.5 100.7L516.5 100.8" stroke="#3480b9" stroke-width="0.60" fill="none"/>
<path d="M304.5 79.9L306.5 80.0L308.5 80.2L310.5 80.4L312.5 80.7L314.5 81.1L316.5 82.0L318.5 83.5L320.5 85.4L322.5 87.2L324.5 88.6L326.5 89.3L328.5 90.0L330.5 90.6L332.5 90.9L334.5 91.1L336.5 91.1L338.5 91.0L340.5 90.9L342.5 90.9L344.5 90.8L346.5 90.7L348.5 90.6L350.5 90.5L352.5 90.5L354.5 90.5L356.5 90.6L358.5 90.8L360.5 91.1L362.5 91.2L364.5 91.1L366.5 90.8L368.5 90.2L370.5 89.5L372.5 88.6L374.5 87.8L376.5 87.1L378.5 86.6L380.5 86.2L382.5 85.9L384.5 85.7L386.5 85.7L388.5 85.8L390.5 86.0L392.5 86.5L394.5 87.2L396.5 88.1L398.5 88.8L400.5 89.5L402.5 90.1L404.5 90.3L406.5 90.2L408.5 89.8L410.5 89.4L412.5 88.9L414.5 88.2L416.5 87.6L418.5 86.9L420.5 86.4L422.5 86.0L424.5 85.8L426.5 85.7L428.5 85.6L430.5 85.3L432.5 85.2L434.5 85.3L436.5 85.4L438.5 86.1L440.5 87.3L442.5 88.5L444.5 89.2L446.5 89.4L448.5 89.1L450.5 88.4L452.5 87.8L454.5 87.1L456.5 86.5L458.5 85.9L460.5 85.4L462.5 85.0L464.5 84.6L466.5 84.3L468.5 84.0L470.5 83.8L472.5 83.7L474.5 83.6L476.5 83.6L478.5 83.6L480.5 83.5L482.5 83.2L484.5 82.9L486.5 82.1L488.5 81.3L490.5 79.8L492.5 78.0L494.5 75.8L496.5 73.6L498.5 71.7L500.5 70.5L502.5 69.6L504.5 68.6L506.5 67.7L508.5 66.7L510.5 65.6L512.5 64.5L514.5 63.3L516.5 62.6" stroke="#c2393a" stroke-width="0.60" fill="none"/>
<path d="M304.5 118.2L306.5 117.8L308.5 116.9L310.5 115.9L312.5 115.0L314.5 114.0L316.5 113.1L318.5 112.2L320.5 111.0L322.5 109.8L324.5 108.5L326.5 107.1L328.5 104.7L330.5 102.4L332.5 99.7L334.5 98.3L336.5 97.6L338.5 97.8L340.5 97.8L342.5 97.7L344.5 97.5L346.5 97.2L348.5 97.0L350.5 96.8L352.5 96.6L354.5 96.4L356.5 96.2L358.5 96.0L360.5 95.9L362.5 95.7L364.5 95.5L366.5 95.1L368.5 94.7L370.5 94.2L372.5 93.7L374.5 93.4L376.5 93.5L378.5 93.9L380.5 94.4L382.5 95.1L384.5 95.8L386.5 96.2L388.5 96.5L390.5 96.9L392.5 97.0L394.5 96.7L396.5 96.2L398.5 95.7L400.5 95.4L402.5 95.1L404.5 94.6L406.5 94.0L408.5 93.3L410.5 92.6L412.5 92.0L414.5 91.5L416.5 91.0L418.5 90.7L420.5 90.8L422.5 91.2L424.5 92.1L426.5 93.1L428.5 94.1L430.5 95.0L432.5 95.7L434.5 96.1L436.5 96.3L438.5 96.4L440.5 96.2L442.5 95.9L444.5 95.4L446.5 94.8L448.5 94.0L450.5 93.2L452.5 92.5L454.5 91.7L456.5 91.0L458.5 90.5L460.5 90.3L462.5 90.4L464.5 90.6L466.5 91.0L468.5 91.3L470.5 91.5L472.5 91.4L474.5 91.2L476.5 90.9L478.5 90.7L480.5 90.5L482.5 90.3L484.5 90.3L486.5 90.3L488.5 90.4L490.5 90.5L492.5 90.8L494.5 91.3L496.5 91.9L498.5 92.7L500.5 94.0L502.5 95.8L504.5 97.6L506.5 99.3L508.5 100.5L510.5 101.1L512.5 101.6L514.5 101.8L516.5 101.9" stroke="#2f79b6" stroke-width="0.60" fill="none"/>
<path d="M304.5 78.8L306.5 78.9L308.5 79.1L310.5 79.4L312.5 79.7L314.5 80.1L316.5 81.1L318.5 82.8L320.5 84.8L322.5 86.7L324.5 88.3L326.5 89.1L328.5 89.8L330.5 90.4L332.5 90.7L334.5 90.9L336.5 90.9L338.5 90.8L340.5 90.7L342.5 90.7L344.5 90.6L346.5 90.5L348.5 90.4L350.5 90.3L352.5 90.3L354.5 90.3L356.5 90.4L358.5 90.6L360.5 90.9L362.5 91.0L364.5 90.9L366.5 90.6L368.5 90.1L370.5 89.3L372.5 88.4L374.5 87.6L376.5 86.9L378.5 86.4L380.5 86.0L382.5 85.7L384.5 85.5L386.5 85.4L388.5 85.5L390.5 85.8L392.5 86.3L394.5 87.0L396.5 87.8L398.5 88.6L400.5 89.3L402.5 89.9L404.5 90.1L406.5 90.1L408.5 89.7L410.5 89.3L412.5 88.7L414.5 88.1L416.5 87.5L418.5 86.8L420.5 86.2L422.5 85.8L424.5 85.5L426.5 85.3L428.5 85.1L430.5 84.8L432.5 84.7L434.5 84.8L436.5 84.9L438.5 85.7L440.5 86.9L442.5 88.1L444.5 88.9L446.5 89.1L448.5 88.9L450.5 88.2L452.5 87.6L454.5 87.0L456.5 86.3L458.5 85.7L460.5 85.2L462.5 84.7L464.5 84.4L466.5 84.0L468.5 83.7L470.5 83.5L472.5 83.4L474.5 83.4L476.5 83.3L478.5 83.3L480.5 83.2L482.5 82.9L484.5 82.5L486.5 81.7L488.5 80.8L490.5 79.2L492.5 77.3L494.5 75.0L496.5 72.5L498.5 70.6L500.5 69.3L502.5 68.3L504.5 67.2L506.5 66.2L508.5 65.1L510.5 63.9L512.5 62.7L514.5 61.4L516.5 60.7" stroke="#bd2d35" stroke-width="0.60" fill="none"/>
<path d="M304.5 120.1L306.5 119.6L308.5 118.6L310.5 117.6L312.5 116.6L314.5 115.6L316.5 114.6L318.5 113.6L320.5 112.4L322.5 111.1L324.5 109.7L326.5 108.2L328.5 105.6L330.5 103.0L332.5 100.1L334.5 98.6L336.5 97.9L338.5 98.0L340.5 98.0L342.5 97.9L344.5 97.7L346.5 97.5L348.5 97.2L350.5 97.0L352.5 96.8L354.5 96.6L356.5 96.4L358.5 96.2L360.5 96.1L362.5 95.9L364.5 95.6L366.5 95.3L368.5 94.8L370.5 94.4L372.5 93.9L374.5 93.7L376.5 93.8L378.5 94.3L380.5 94.9L382.5 95.5L384.5 96.3L386.5 96.7L388.5 97.1L390.5 97.4L392.5 97.4L394.5 97.1L396.5 96.5L398.5 96.1L400.5 95.7L402.5 95.3L404.5 94.8L406.5 94.1L408.5 93.4L410.5 92.7L412.5 92.1L414.5 91.6L416.5 91.2L418.5 90.9L420.5 90.9L422.5 91.4L424.5 92.3L426.5 93.3L428.5 94.4L430.5 95.2L432.5 95.9L434.5 96.3L436.5 96.6L438.5 96.6L440.5 96.4L442.5 96.1L444.5 95.6L446.5 95.0L448.5 94.2L450.5 93.4L452.5 92.6L454.5 91.9L456.5 91.1L458.5 90.6L460.5 90.4L462.5 90.6L464.5 90.8L466.5 91.2L468.5 91.5L470.5 91.7L472.5 91.6L474.5 91.4L476.5 91.2L478.5 90.9L480.5 90.7L482.5 90.6L484.5 90.5L486.5 90.5L488.5 90.6L490.5 90.8L492.5 91.1L494.5 91.7L496.5 92.3L498.5 93.2L500.5 94.7L502.5 96.5L504.5 98.5L506.5 100.2L508.5 101.5L510.5 102.2L512.5 102.7L514.5 103.0L516.5 103.1" stroke="#2a72b2" stroke-width="0.60" fill="none"/>
<path d="M304.5 77.7L306.5 77.8L308.5 78.1L310.5 78.3L312.5 78.7L314.5 79.2L316.5 80.2L318.5 82.0L320.5 84.2L322.5 86.3L324.5 87.9L326.5 88.8L328.5 89.6L330.5 90.2L332.5 90.5L334.5 90.7L336.5 90.7L338.5 90.6L340.5 90.6L342.5 90.5L344.5 90.4L346.5 90.3L348.5 90.2L350.5 90.2L352.5 90.1L354.5 90.1L356.5 90.2L358.5 90.4L360.5 90.7L362.5 90.9L364.5 90.8L366.5 90.4L368.5 89.9L370.5 89.1L372.5 88.2L374.5 87.4L376.5 86.7L378.5 86.1L380.5 85.7L382.5 85.4L384.5 85.2L386.5 85.2L388.5 85.3L390.5 85.6L392.5 86.0L394.5 86.7L396.5 87.6L398.5 88.4L400.5 89.1L402.5 89.7L404.5 90.0L406.5 89.9L408.5 89.6L410.5 89.1L412.5 88.6L414.5 88.0L416.5 87.3L418.5 86.6L420.5 86.0L422.5 85.6L424.5 85.2L426.5 84.9L428.5 84.7L430.5 84.3L432.5 84.2L434.5 84.3L436.5 84.4L438.5 85.2L440.5 86.4L442.5 87.7L444.5 88.7L446.5 88.9L448.5 88.7L450.5 88.0L452.5 87.4L454.5 86.8L456.5 86.2L458.5 85.6L460.5 85.0L462.5 84.5L464.5 84.1L466.5 83.8L468.5 83.5L470.5 83.3L472.5 83.2L474.5 83.1L476.5 83.0L478.5 83.0L480.5 82.8L482.5 82.6L484.5 82.2L486.5 81.4L488.5 80.4L490.5 78.7L492.5 76.6L494.5 74.1L496.5 71.5L498.5 69.5L500.5 68.1L502.5 67.0L504.5 65.9L506.5 64.7L508.5 63.5L510.5 62.2L512.5 60.9L514.5 59.5L516.5 58.8" stroke="#b72230" stroke-width="0.60" fill="none"/>
<path d="M304.5 121.9L306.5 121.4L308.5 120.4L310.5 119.3L312.5 118.3L314.5 117.2L316.5 116.1L318.5 115.1L320.5 113.8L322.5 112.4L324.5 110.8L326.5 109.3L328.5 106.5L330.5 103.7L332.5 100.5L334.5 98.9L336.5 98.2L338.5 98.2L340.5 98.2L342.5 98.1L344.5 97.9L346.5 97.7L348.5 97.5L350.5 97.2L352.5 97.0L354.5 96.8L356.5 96.6L358.5 96.4L360.5 96.3L362.5 96.1L364.5 95.8L366.5 95.4L368.5 95.0L370.5 94.6L372.5 94.1L374.5 93.9L376.5 94.1L378.5 94.6L380.5 95.3L382.5 96.0L384.5 96.8L386.5 97.3L388.5 97.6L390.5 98.0L392.5 97.9L394.5 97.5L396.5 96.9L398.5 96.4L400.5 95.9L402.5 95.5L404.5 95.0L406.5 94.3L408.5 93.5L410.5 92.9L412.5 92.2L414.5 91.7L416.5 91.3L418.5 91.0L420.5 91.1L422.5 91.5L424.5 92.4L426.5 93.6L428.5 94.6L430.5 95.4L432.5 96.1L434.5 96.5L436.5 96.8L438.5 96.8L440.5 96.6L442.5 96.3L444.5 95.8L446.5 95.2L448.5 94.4L450.5 93.6L452.5 92.8L454.5 92.0L456.5 91.3L458.5 90.8L460.5 90.6L462.5 90.7L464.5 91.1L466.5 91.4L468.5 91.7L470.5 91.9L472.5 91.8L474.5 91.6L476.5 91.4L478.5 91.2L480.5 91.0L482.5 90.8L484.5 90.7L486.5 90.8L488.5 90.9L490.5 91.0L492.5 91.4L494.5 92.0L496.5 92.7L498.5 93.8L500.5 95.3L502.5 97.3L504.5 99.4L506.5 101.1L508.5 102.5L510.5 103.2L512.5 103.8L514.5 104.1L516.5 104.2" stroke="#256baf" stroke-width="0.60" fill="none"/>
<path d="M304.5 76.6L306.5 76.7L308.5 77.0L310.5 77.3L312.5 77.7L314.5 78.2L316.5 79.3L318.5 81.2L320.5 83.6L322.5 85.9L324.5 87.6L326.5 88.6L328.5 89.4L330.5 90.0L332.5 90.3L334.5 90.5L336.5 90.5L338.5 90.5L340.5 90.4L342.5 90.3L344.5 90.2L346.5 90.1L348.5 90.0L350.5 90.0L352.5 89.9L354.5 89.9L356.5 90.0L358.5 90.2L360.5 90.5L362.5 90.7L364.5 90.6L366.5 90.3L368.5 89.7L370.5 89.0L372.5 88.0L374.5 87.2L376.5 86.5L378.5 85.9L380.5 85.5L382.5 85.2L384.5 85.0L386.5 85.0L388.5 85.1L390.5 85.3L392.5 85.8L394.5 86.5L396.5 87.4L398.5 88.2L400.5 88.9L402.5 89.5L404.5 89.8L406.5 89.8L408.5 89.4L410.5 89.0L412.5 88.5L414.5 87.9L416.5 87.2L418.5 86.5L420.5 85.9L422.5 85.3L424.5 84.9L426.5 84.6L428.5 84.2L430.5 83.8L432.5 83.7L434.5 83.7L436.5 83.9L438.5 84.7L440.5 86.0L442.5 87.4L444.5 88.4L446.5 88.7L448.5 88.5L450.5 87.8L452.5 87.2L454.5 86.6L456.5 86.0L458.5 85.4L460.5 84.8L462.5 84.3L464.5 83.9L466.5 83.5L468.5 83.3L470.5 83.0L472.5 82.9L474.5 82.8L476.5 82.8L478.5 82.7L480.5 82.5L482.5 82.2L484.5 81.8L486.5 81.0L488.5 79.9L490.5 78.1L492.5 75.9L494.5 73.2L496.5 70.5L498.5 68.4L500.5 66.9L502.5 65.7L504.5 64.5L506.5 63.2L508.5 61.9L510.5 60.5L512.5 59.1L514.5 57.7L516.5 56.9" stroke="#b0172b" stroke-width="0.60" fill="none"/>
<path d="M304.5 123.8L306.5 123.2L308.5 122.1L310.5 121.0L312.5 119.9L314.5 118.8L316.5 117.7L318.5 116.6L320.5 115.2L322.5 113.7L324.5 112.0L326.5 110.4L328.5 107.5L330.5 104.3L332.5 100.9L334.5 99.2L336.5 98.4L338.5 98.5L340.5 98.4L342.5 98.3L344.5 98.1L346.5 97.9L348.5 97.7L350.5 97.5L352.5 97.2L354.5 97.0L356.5 96.8L358.5 96.6L360.5 96.5L362.5 96.3L364.5 96.0L366.5 95.6L368.5 95.2L370.5 94.8L372.5 94.3L374.5 94.2L376.5 94.4L378.5 95.0L380.5 95.7L382.5 96.5L384.5 97.3L386.5 97.9L388.5 98.2L390.5 98.5L392.5 98.4L394.5 97.9L396.5 97.3L398.5 96.7L400.5 96.2L402.5 95.7L404.5 95.1L406.5 94.4L408.5 93.7L410.5 93.0L412.5 92.4L414.5 91.8L416.5 91.4L418.5 91.1L420.5 91.2L422.5 91.7L424.5 92.6L426.5 93.8L428.5 94.8L430.5 95.7L432.5 96.3L434.5 96.8L436.5 97.0L438.5 97.0L440.5 96.9L442.5 96.5L444.5 96.0L446.5 95.3L448.5 94.6L450.5 93.8L452.5 93.0L454.5 92.2L456.5 91.5L458.5 91.0L460.5 90.8L462.5 90.9L464.5 91.3L466.5 91.6L468.5 92.0L470.5 92.1L472.5 92.0L474.5 91.8L476.5 91.6L478.5 91.4L480.5 91.2L482.5 91.0L484.5 90.9L486.5 91.0L488.5 91.1L490.5 91.3L492.5 91.7L494.5 92.3L496.5 93.1L498.5 94.3L500.5 95.9L502.5 98.0L504.5 100.2L506.5 102.1L508.5 103.5L510.5 104.3L512.5 104.9L514.5 105.2L516.5 105.3" stroke="#2064a9" stroke-width="0.60" fill="none"/>
<path d="M304.5 75.4L306.5 75.6L308.5 75.9L310.5 76.2L312.5 76.6L314.5 77.2L316.5 78.4L318.5 80.4L320.5 83.0L322.5 85.5L324.5 87.3L326.5 88.4L328.5 89.2L330.5 89.8L332.5 90.2L334.5 90.4L336.5 90.4L338.5 90.3L340.5 90.2L342.5 90.1L344.5 90.0L346.5 89.9L348.5 89.8L350.5 89.8L352.5 89.7L354.5 89.7L356.5 89.8L358.5 90.0L360.5 90.3L362.5 90.5L364.5 90.4L366.5 90.1L368.5 89.5L370.5 88.8L372.5 87.8L374.5 87.0L376.5 86.3L378.5 85.7L380.5 85.3L382.5 84.9L384.5 84.8L386.5 84.7L388.5 84.8L390.5 85.1L392.5 85.6L394.5 86.3L396.5 87.1L398.5 87.9L400.5 88.7L402.5 89.3L404.5 89.6L406.5 89.6L408.5 89.3L410.5 88.9L412.5 88.4L414.5 87.7L416.5 87.1L418.5 86.3L420.5 85.7L422.5 85.1L424.5 84.6L426.5 84.2L428.5 83.8L430.5 83.4L432.5 83.2L434.5 83.2L436.5 83.5L438.5 84.3L440.5 85.6L442.5 87.0L444.5 88.1L446.5 88.4L448.5 88.3L450.5 87.6L452.5 87.0L454.5 86.4L456.5 85.8L458.5 85.2L460.5 84.6L462.5 84.1L464.5 83.6L466.5 83.3L468.5 83.0L470.5 82.8L472.5 82.7L474.5 82.6L476.5 82.5L478.5 82.4L480.5 82.2L482.5 81.9L484.5 81.5L486.5 80.6L488.5 79.4L490.5 77.5L492.5 75.2L494.5 72.3L496.5 69.5L498.5 67.3L500.5 65.7L502.5 64.4L504.5 63.1L506.5 61.7L508.5 60.3L510.5 58.8L512.5 57.3L514.5 55.8L516.5 55.0" stroke="#a41429" stroke-width="0.60" fill="none"/>
<path d="M304.5 125.7L306.5 125.1L308.5 123.9L310.5 122.7L312.5 121.6L314.5 120.4L316.5 119.2L318.5 118.0L320.5 116.6L322.5 115.0L324.5 113.2L326.5 111.5L328.5 108.4L330.5 105.0L332.5 101.3L334.5 99.5L336.5 98.7L338.5 98.7L340.5 98.6L342.5 98.5L344.5 98.3L346.5 98.1L348.5 97.9L350.5 97.7L352.5 97.5L354.5 97.3L356.5 97.0L358.5 96.9L360.5 96.7L362.5 96.5L364.5 96.2L366.5 95.8L368.5 95.4L370.5 95.0L372.5 94.5L374.5 94.4L376.5 94.7L378.5 95.3L380.5 96.1L382.5 96.9L384.5 97.8L386.5 98.4L388.5 98.8L390.5 99.0L392.5 98.9L394.5 98.4L396.5 97.6L398.5 97.0L400.5 96.5L402.5 95.9L404.5 95.3L406.5 94.6L408.5 93.8L410.5 93.1L412.5 92.5L414.5 92.0L416.5 91.6L418.5 91.3L420.5 91.4L422.5 91.8L424.5 92.8L426.5 94.0L428.5 95.0L430.5 95.9L432.5 96.6L434.5 97.0L436.5 97.2L438.5 97.3L440.5 97.1L442.5 96.7L444.5 96.2L446.5 95.5L448.5 94.8L450.5 93.9L452.5 93.1L454.5 92.4L456.5 91.6L458.5 91.1L460.5 91.0L462.5 91.1L464.5 91.5L466.5 91.8L468.5 92.2L470.5 92.3L472.5 92.2L474.5 92.0L476.5 91.8L478.5 91.6L480.5 91.4L482.5 91.2L484.5 91.2L486.5 91.2L488.5 91.4L490.5 91.5L492.5 91.9L494.5 92.6L496.5 93.5L498.5 94.8L500.5 96.6L502.5 98.8L504.5 101.1L506.5 103.0L508.5 104.5L510.5 105.3L512.5 106.0L514.5 106.4L516.5 106.5" stroke="#1c5c9d" stroke-width="0.60" fill="none"/>
<path d="M304.5 74.3L306.5 74.5L308.5 74.8L310.5 75.2L312.5 75.6L314.5 76.3L316.5 77.5L318.5 79.7L320.5 82.4L322.5 85.0L324.5 87.0L326.5 88.2L328.5 89.0L330.5 89.6L332.5 90.0L334.5 90.2L336.5 90.2L338.5 90.1L340.5 90.0L342.5 90.0L344.5 89.8L346.5 89.7L348.5 89.6L350.5 89.6L352.5 89.5L354.5 89.5L356.5 89.6L358.5 89.8L360.5 90.1L362.5 90.4L364.5 90.3L366.5 89.9L368.5 89.4L370.5 88.6L372.5 87.6L374.5 86.8L376.5 86.1L378.5 85.5L380.5 85.0L382.5 84.7L384.5 84.5L386.5 84.5L388.5 84.6L390.5 84.9L392.5 85.3L394.5 86.0L396.5 86.9L398.5 87.7L400.5 88.5L402.5 89.2L404.5 89.5L406.5 89.5L408.5 89.2L410.5 88.8L412.5 88.2L414.5 87.6L416.5 86.9L418.5 86.2L420.5 85.5L422.5 84.8L424.5 84.3L426.5 83.8L428.5 83.3L430.5 82.9L432.5 82.7L434.5 82.7L436.5 83.0L438.5 83.8L440.5 85.1L442.5 86.6L444.5 87.8L446.5 88.2L448.5 88.0L450.5 87.4L452.5 86.8L454.5 86.2L456.5 85.6L458.5 85.0L460.5 84.4L462.5 83.8L464.5 83.4L466.5 83.1L468.5 82.8L470.5 82.6L472.5 82.4L474.5 82.3L476.5 82.2L478.5 82.1L480.5 81.9L482.5 81.6L484.5 81.1L486.5 80.3L488.5 79.0L490.5 76.9L492.5 74.4L494.5 71.4L496.5 68.5L498.5 66.2L500.5 64.6L502.5 63.2L504.5 61.7L506.5 60.2L508.5 58.7L510.5 57.1L512.5 55.5L514.5 53.9L516.5 53.1" stroke="#981027" stroke-width="0.60" fill="none"/>
<path d="M304.5 127.5L306.5 126.9L308.5 125.7L310.5 124.4L312.5 123.2L314.5 122.0L316.5 120.7L318.5 119.5L320.5 118.0L322.5 116.3L324.5 114.4L326.5 112.6L328.5 109.3L330.5 105.7L332.5 101.7L334.5 99.7L336.5 98.9L338.5 98.9L340.5 98.8L342.5 98.7L344.5 98.5L346.5 98.3L348.5 98.1L350.5 97.9L352.5 97.7L354.5 97.5L356.5 97.3L358.5 97.1L360.5 96.9L362.5 96.6L364.5 96.3L366.5 95.9L368.5 95.5L370.5 95.1L372.5 94.7L374.5 94.7L376.5 95.0L378.5 95.7L380.5 96.5L382.5 97.4L384.5 98.3L386.5 99.0L388.5 99.4L390.5 99.5L392.5 99.3L394.5 98.8L396.5 98.0L398.5 97.3L400.5 96.7L402.5 96.1L404.5 95.5L406.5 94.7L408.5 93.9L410.5 93.2L412.5 92.6L414.5 92.1L416.5 91.7L418.5 91.4L420.5 91.5L422.5 92.0L424.5 93.0L426.5 94.2L428.5 95.2L430.5 96.1L432.5 96.8L434.5 97.2L436.5 97.4L438.5 97.5L440.5 97.3L442.5 96.9L444.5 96.4L446.5 95.7L448.5 94.9L450.5 94.1L452.5 93.3L454.5 92.5L456.5 91.8L458.5 91.3L460.5 91.2L462.5 91.3L464.5 91.7L466.5 92.0L468.5 92.4L470.5 92.5L472.5 92.4L474.5 92.2L476.5 92.0L478.5 91.8L480.5 91.6L482.5 91.5L484.5 91.4L486.5 91.5L488.5 91.6L490.5 91.8L492.5 92.2L494.5 92.9L496.5 93.9L498.5 95.4L500.5 97.2L502.5 99.5L504.5 102.0L506.5 104.0L508.5 105.5L510.5 106.4L512.5 107.1L514.5 107.5L516.5 107.6" stroke="#175392" stroke-width="0.60" fill="none"/>
<path d="M304.5 73.2L306.5 73.4L308.5 73.7L310.5 74.1L312.5 74.6L314.5 75.3L316.5 76.6L318.5 78.9L320.5 81.8L322.5 84.6L324.5 86.7L326.5 87.9L328.5 88.8L330.5 89.4L332.5 89.8L334.5 90.0L336.5 90.0L338.5 89.9L340.5 89.9L342.5 89.8L344.5 89.7L346.5 89.6L348.5 89.5L350.5 89.4L352.5 89.3L354.5 89.3L356.5 89.4L358.5 89.6L360.5 90.0L362.5 90.2L364.5 90.1L366.5 89.8L368.5 89.2L370.5 88.4L372.5 87.5L374.5 86.6L376.5 85.9L378.5 85.3L380.5 84.8L382.5 84.5L384.5 84.3L386.5 84.3L388.5 84.3L390.5 84.6L392.5 85.1L394.5 85.8L396.5 86.7L398.5 87.5L400.5 88.3L402.5 89.0L404.5 89.3L406.5 89.3L408.5 89.0L410.5 88.6L412.5 88.1L414.5 87.5L416.5 86.8L418.5 86.0L420.5 85.3L422.5 84.6L424.5 84.0L426.5 83.4L428.5 82.9L430.5 82.4L432.5 82.2L434.5 82.2L436.5 82.5L438.5 83.3L440.5 84.7L442.5 86.3L444.5 87.5L446.5 87.9L448.5 87.8L450.5 87.2L452.5 86.6L454.5 86.0L456.5 85.4L458.5 84.8L460.5 84.2L462.5 83.6L464.5 83.2L466.5 82.8L468.5 82.5L470.5 82.3L472.5 82.1L474.5 82.0L476.5 81.9L478.5 81.8L480.5 81.6L482.5 81.2L484.5 80.8L486.5 79.9L488.5 78.5L490.5 76.4L492.5 73.7L494.5 70.5L496.5 67.5L498.5 65.1L500.5 63.4L502.5 61.9L504.5 60.3L506.5 58.7L508.5 57.1L510.5 55.4L512.5 53.8L514.5 52.1L516.5 51.2" stroke="#8c0c25" stroke-width="1.25" fill="none"/>
<path d="M304.5 129.4L306.5 128.7L308.5 127.4L310.5 126.1L312.5 124.8L314.5 123.5L316.5 122.3L318.5 120.9L320.5 119.3L322.5 117.6L324.5 115.6L326.5 113.6L328.5 110.3L330.5 106.3L332.5 102.2L334.5 100.0L336.5 99.2L338.5 99.1L340.5 99.0L342.5 98.9L344.5 98.7L346.5 98.5L348.5 98.3L350.5 98.1L352.5 97.9L354.5 97.7L356.5 97.5L358.5 97.3L360.5 97.1L362.5 96.8L364.5 96.5L366.5 96.1L368.5 95.7L370.5 95.3L372.5 94.9L374.5 94.9L376.5 95.3L378.5 96.1L380.5 96.9L382.5 97.9L384.5 98.8L386.5 99.5L388.5 99.9L390.5 100.0L392.5 99.8L394.5 99.2L396.5 98.4L398.5 97.6L400.5 97.0L402.5 96.4L404.5 95.6L406.5 94.9L408.5 94.1L410.5 93.3L412.5 92.7L414.5 92.2L416.5 91.8L418.5 91.6L420.5 91.7L422.5 92.2L424.5 93.2L426.5 94.4L428.5 95.5L430.5 96.3L432.5 97.0L434.5 97.4L436.5 97.7L438.5 97.7L440.5 97.5L442.5 97.1L444.5 96.6L446.5 95.9L448.5 95.1L450.5 94.3L452.5 93.5L454.5 92.7L456.5 92.0L458.5 91.5L460.5 91.3L462.5 91.5L464.5 91.9L466.5 92.3L468.5 92.6L470.5 92.7L472.5 92.6L474.5 92.5L476.5 92.2L478.5 92.0L480.5 91.8L482.5 91.7L484.5 91.6L486.5 91.7L488.5 91.9L490.5 92.0L492.5 92.5L494.5 93.2L496.5 94.3L498.5 95.9L500.5 97.9L502.5 100.3L504.5 102.8L506.5 104.9L508.5 106.5L510.5 107.5L512.5 108.2L514.5 108.6L516.5 108.8" stroke="#134b86" stroke-width="1.25" fill="none"/><defs><linearGradient id="f11a" gradientUnits="userSpaceOnUse" x1="304.5" y1="0" x2="324.0" y2="0"><stop offset="0" stop-color="#fff" stop-opacity="0.40"/><stop offset="1" stop-color="#fff" stop-opacity="0.00"/></linearGradient></defs><rect x="304.5" y="71.0" width="19.5" height="21.0" fill="url(#f11a)"/><defs><linearGradient id="f11b" gradientUnits="userSpaceOnUse" x1="490.0" y1="0" x2="517.0" y2="0"><stop offset="0" stop-color="#fff" stop-opacity="0.00"/><stop offset="1" stop-color="#fff" stop-opacity="0.35"/></linearGradient></defs><rect x="490.0" y="71.0" width="27.0" height="15.0" fill="url(#f11b)"/></g>
<g clip-path="url(#c20)"><path d="M60.5 170.3L62.5 168.9L64.5 166.2L66.5 163.0L68.5 160.5L70.5 158.6L72.5 157.3L74.5 156.2L76.5 155.4L78.5 154.8L80.5 154.4L82.5 154.1L84.5 153.9L86.5 153.7L88.5 153.4L90.5 153.2L92.5 152.9L94.5 152.7L96.5 152.6L98.5 152.5L100.5 152.3L102.5 152.4L104.5 152.5L106.5 152.5L108.5 152.7L110.5 152.9L112.5 153.2L114.5 153.5L116.5 154.0L118.5 154.8L120.5 154.6L122.5 154.4L124.5 153.6L126.5 152.6L128.5 151.4L130.5 151.1L132.5 150.9L134.5 150.9L136.5 150.8L138.5 150.6L140.5 150.5L142.5 150.5L144.5 150.6L146.5 150.8L148.5 151.5L150.5 152.4L152.5 153.2L154.5 153.7L156.5 153.3L158.5 152.8L160.5 152.3L162.5 151.4L164.5 150.4L166.5 149.7L168.5 149.0L170.5 148.2L172.5 147.5L174.5 146.8L176.5 146.4L178.5 146.1L180.5 145.9L182.5 145.7L184.5 145.6L186.5 145.5L188.5 145.4L190.5 145.2L192.5 145.2L194.5 145.1L196.5 145.0L198.5 145.2L200.5 145.6L202.5 146.0L204.5 146.4L206.5 146.1L208.5 145.9L210.5 145.9L212.5 145.7L214.5 145.2L216.5 145.3L218.5 145.2L220.5 145.2L222.5 145.3L224.5 145.3L226.5 145.6L228.5 146.6L230.5 146.9L232.5 147.2L234.5 147.6L236.5 147.6L238.5 147.4L240.5 147.0L242.5 146.6L244.5 146.4L246.5 146.4L248.5 146.5L250.5 146.5L252.5 146.3L254.5 146.0L256.5 145.5L258.5 144.8L260.5 143.9L262.5 142.7L264.5 141.0L266.5 138.8L268.5 136.0L270.5 132.8L272.5 131.1" stroke="#f8f0ec" stroke-width="0.70" fill="none"/>
<path d="M60.5 170.4L62.5 169.3L64.5 166.8L66.5 163.8L68.5 161.2L70.5 159.2L72.5 157.9L74.5 156.7L76.5 155.9L78.5 155.3L80.5 154.9L82.5 154.7L84.5 154.5L86.5 154.3L88.5 154.1L90.5 153.9L92.5 153.7L94.5 153.5L96.5 153.4L98.5 153.3L100.5 153.3L102.5 154.0L104.5 154.5L106.5 154.9L108.5 155.3L110.5 155.6L112.5 155.8L114.5 155.9L116.5 156.0L118.5 156.2L120.5 155.9L122.5 155.6L124.5 155.1L126.5 154.2L128.5 153.3L130.5 153.7L132.5 154.3L134.5 155.0L136.5 155.1L138.5 155.1L140.5 155.0L142.5 155.0L144.5 154.9L146.5 154.7L148.5 154.7L150.5 154.8L152.5 154.9L154.5 154.9L156.5 154.3L158.5 153.6L160.5 153.0L162.5 152.2L164.5 151.2L166.5 150.5L168.5 149.8L170.5 149.0L172.5 148.3L174.5 147.8L176.5 147.8L178.5 148.1L180.5 148.5L182.5 148.8L184.5 149.1L186.5 149.4L188.5 149.5L190.5 149.6L192.5 149.5L194.5 149.3L196.5 149.0L198.5 148.7L200.5 148.4L202.5 148.1L204.5 147.8L206.5 147.2L208.5 146.8L210.5 146.7L212.5 146.8L214.5 146.6L216.5 147.3L218.5 147.7L220.5 148.0L222.5 148.1L224.5 148.0L226.5 148.0L228.5 148.3L230.5 148.4L232.5 148.4L234.5 148.5L236.5 148.4L238.5 148.1L240.5 147.7L242.5 147.5L244.5 147.3L246.5 147.2L248.5 147.2L250.5 147.2L252.5 147.0L254.5 146.6L256.5 146.1L258.5 145.4L260.5 144.4L262.5 143.2L264.5 141.5L266.5 139.3L268.5 136.4L270.5 133.0L272.5 131.2" stroke="#eef3f5" stroke-width="0.70" fill="none"/>
<path d="M60.5 170.2L62.5 168.5L64.5 165.5L66.5 162.2L68.5 159.8L70.5 158.1L72.5 156.8L74.5 155.7L76.5 154.9L78.5 154.3L80.5 153.8L82.5 153.5L84.5 153.3L86.5 153.0L88.5 152.7L90.5 152.4L92.5 152.2L94.5 151.9L96.5 151.8L98.5 151.6L100.5 151.3L102.5 150.9L104.5 150.5L106.5 150.2L108.5 150.1L110.5 150.1L112.5 150.5L114.5 151.0L116.5 152.1L118.5 153.4L120.5 153.4L122.5 153.1L124.5 152.1L126.5 150.9L128.5 149.5L130.5 148.4L132.5 147.5L134.5 146.9L136.5 146.4L138.5 146.1L140.5 145.9L142.5 146.0L144.5 146.3L146.5 146.8L148.5 148.3L150.5 150.0L152.5 151.5L154.5 152.5L156.5 152.4L158.5 152.0L160.5 151.5L162.5 150.7L164.5 149.7L166.5 149.0L168.5 148.3L170.5 147.4L172.5 146.6L174.5 145.8L176.5 144.9L178.5 144.0L180.5 143.3L182.5 142.6L184.5 142.1L186.5 141.6L188.5 141.2L190.5 140.9L192.5 140.8L194.5 140.9L196.5 141.0L198.5 141.6L200.5 142.8L202.5 143.9L204.5 145.1L206.5 145.0L208.5 145.0L210.5 145.0L212.5 144.7L214.5 143.9L216.5 143.3L218.5 142.8L220.5 142.5L222.5 142.5L224.5 142.6L226.5 143.2L228.5 144.8L230.5 145.5L232.5 146.1L234.5 146.8L236.5 146.9L238.5 146.6L240.5 146.2L242.5 145.8L244.5 145.6L246.5 145.6L248.5 145.7L250.5 145.8L252.5 145.7L254.5 145.4L256.5 145.0L258.5 144.3L260.5 143.4L262.5 142.1L264.5 140.5L266.5 138.4L268.5 135.7L270.5 132.6L272.5 130.9" stroke="#f6b090" stroke-width="0.70" fill="none"/>
<path d="M60.5 170.5L62.5 169.7L64.5 167.5L66.5 164.6L68.5 161.9L70.5 159.8L72.5 158.4L74.5 157.2L76.5 156.4L78.5 155.8L80.5 155.5L82.5 155.2L84.5 155.1L86.5 155.0L88.5 154.8L90.5 154.7L92.5 154.5L94.5 154.3L96.5 154.2L98.5 154.2L100.5 154.3L102.5 155.5L104.5 156.5L106.5 157.3L108.5 157.9L110.5 158.3L112.5 158.5L114.5 158.4L116.5 158.0L118.5 157.6L120.5 157.2L122.5 156.9L124.5 156.6L126.5 155.9L128.5 155.2L130.5 156.4L132.5 157.7L134.5 159.0L136.5 159.4L138.5 159.6L140.5 159.6L142.5 159.5L144.5 159.2L146.5 158.7L148.5 157.9L150.5 157.3L152.5 156.6L154.5 156.0L156.5 155.3L158.5 154.5L160.5 153.8L162.5 152.9L164.5 152.0L166.5 151.3L168.5 150.6L170.5 149.8L172.5 149.1L174.5 148.9L176.5 149.3L178.5 150.2L180.5 151.1L182.5 151.9L184.5 152.7L186.5 153.3L188.5 153.7L190.5 153.9L192.5 153.9L194.5 153.5L196.5 153.0L198.5 152.3L200.5 151.3L202.5 150.2L204.5 149.2L206.5 148.3L208.5 147.7L210.5 147.5L212.5 147.8L214.5 147.9L216.5 149.4L218.5 150.1L220.5 150.7L222.5 150.9L224.5 150.7L226.5 150.4L228.5 150.1L230.5 149.8L232.5 149.5L234.5 149.3L236.5 149.1L238.5 148.9L240.5 148.5L242.5 148.3L244.5 148.1L246.5 148.0L248.5 148.0L250.5 147.9L252.5 147.6L254.5 147.2L256.5 146.7L258.5 145.9L260.5 144.9L262.5 143.7L264.5 142.0L266.5 139.7L268.5 136.7L270.5 133.2L272.5 131.4" stroke="#98c8e0" stroke-width="0.70" fill="none"/>
<path d="M60.5 170.1L62.5 168.4L64.5 165.3L66.5 161.9L68.5 159.6L70.5 157.9L72.5 156.6L74.5 155.5L76.5 154.7L78.5 154.1L80.5 153.7L82.5 153.4L84.5 153.1L86.5 152.8L88.5 152.5L90.5 152.2L92.5 151.9L94.5 151.7L96.5 151.5L98.5 151.4L100.5 151.1L102.5 150.7L104.5 150.2L106.5 149.9L108.5 149.8L110.5 149.9L112.5 150.2L114.5 150.7L116.5 151.7L118.5 152.9L120.5 153.0L122.5 152.8L124.5 151.8L126.5 150.6L128.5 149.2L130.5 148.1L132.5 147.3L134.5 146.7L136.5 146.2L138.5 145.9L140.5 145.7L142.5 145.7L144.5 146.0L146.5 146.6L148.5 148.0L150.5 149.6L152.5 151.1L154.5 152.0L156.5 152.0L158.5 151.7L160.5 151.3L162.5 150.5L164.5 149.5L166.5 148.8L168.5 148.0L170.5 147.2L172.5 146.4L174.5 145.5L176.5 144.6L178.5 143.8L180.5 143.0L182.5 142.4L184.5 141.8L186.5 141.3L188.5 140.9L190.5 140.7L192.5 140.5L194.5 140.6L196.5 140.8L198.5 141.3L200.5 142.4L202.5 143.4L204.5 144.5L206.5 144.6L208.5 144.7L210.5 144.8L212.5 144.4L214.5 143.7L216.5 143.0L218.5 142.5L220.5 142.3L222.5 142.2L224.5 142.4L226.5 142.9L228.5 144.5L230.5 145.1L232.5 145.8L234.5 146.6L236.5 146.7L238.5 146.4L240.5 145.9L242.5 145.6L244.5 145.4L246.5 145.3L248.5 145.5L250.5 145.6L252.5 145.5L254.5 145.2L256.5 144.8L258.5 144.1L260.5 143.2L262.5 142.0L264.5 140.4L266.5 138.2L268.5 135.6L270.5 132.5L272.5 130.9" stroke="#ee9878" stroke-width="0.70" fill="none"/>
<path d="M60.5 170.5L62.5 169.8L64.5 167.8L66.5 164.9L68.5 162.2L70.5 160.0L72.5 158.6L74.5 157.4L76.5 156.6L78.5 156.0L80.5 155.6L82.5 155.4L84.5 155.3L86.5 155.2L88.5 155.1L90.5 155.0L92.5 154.8L94.5 154.5L96.5 154.4L98.5 154.5L100.5 154.6L102.5 155.8L104.5 156.8L106.5 157.6L108.5 158.2L110.5 158.6L112.5 158.8L114.5 158.7L116.5 158.4L118.5 157.9L120.5 157.5L122.5 157.2L124.5 157.0L126.5 156.4L128.5 155.9L130.5 157.0L132.5 158.2L134.5 159.3L136.5 159.8L138.5 159.9L140.5 159.9L142.5 159.8L144.5 159.5L146.5 159.0L148.5 158.3L150.5 157.6L152.5 156.9L154.5 156.3L156.5 155.6L158.5 154.7L160.5 154.1L162.5 153.2L164.5 152.3L166.5 151.6L168.5 150.9L170.5 150.1L172.5 149.4L174.5 149.2L176.5 149.7L178.5 150.5L180.5 151.4L182.5 152.3L184.5 153.0L186.5 153.6L188.5 154.0L190.5 154.2L192.5 154.2L194.5 153.8L196.5 153.3L198.5 152.6L200.5 151.6L202.5 150.5L204.5 149.5L206.5 148.6L208.5 148.0L210.5 147.8L212.5 148.1L214.5 148.3L216.5 149.7L218.5 150.4L220.5 151.0L222.5 151.2L224.5 151.1L226.5 150.7L228.5 150.4L230.5 150.1L232.5 149.8L234.5 149.6L236.5 149.4L238.5 149.1L240.5 148.8L242.5 148.6L244.5 148.4L246.5 148.3L248.5 148.3L250.5 148.1L252.5 147.9L254.5 147.4L256.5 146.9L258.5 146.1L260.5 145.1L262.5 143.9L264.5 142.2L266.5 139.9L268.5 136.9L270.5 133.3L272.5 131.4" stroke="#7db7d7" stroke-width="0.70" fill="none"/>
<path d="M60.5 170.1L62.5 168.3L64.5 165.1L66.5 161.7L68.5 159.4L70.5 157.7L72.5 156.5L74.5 155.4L76.5 154.6L78.5 154.0L80.5 153.5L82.5 153.2L84.5 152.9L86.5 152.6L88.5 152.3L90.5 152.0L92.5 151.7L94.5 151.5L96.5 151.3L98.5 151.1L100.5 150.8L102.5 150.4L104.5 150.0L106.5 149.7L108.5 149.6L110.5 149.6L112.5 150.0L114.5 150.5L116.5 151.4L118.5 152.5L120.5 152.6L122.5 152.5L124.5 151.6L126.5 150.4L128.5 148.9L130.5 147.9L132.5 147.0L134.5 146.4L136.5 145.9L138.5 145.6L140.5 145.4L142.5 145.5L144.5 145.8L146.5 146.3L148.5 147.6L150.5 149.1L152.5 150.6L154.5 151.6L156.5 151.7L158.5 151.5L160.5 151.1L162.5 150.3L164.5 149.3L166.5 148.5L168.5 147.8L170.5 147.0L172.5 146.1L174.5 145.3L176.5 144.4L178.5 143.5L180.5 142.8L182.5 142.1L184.5 141.6L186.5 141.1L188.5 140.7L190.5 140.4L192.5 140.3L194.5 140.3L196.5 140.5L198.5 141.0L200.5 142.0L202.5 143.0L204.5 144.0L206.5 144.2L208.5 144.4L210.5 144.5L212.5 144.2L214.5 143.4L216.5 142.7L218.5 142.3L220.5 142.0L222.5 142.0L224.5 142.1L226.5 142.7L228.5 144.1L230.5 144.8L232.5 145.6L234.5 146.3L236.5 146.5L238.5 146.2L240.5 145.7L242.5 145.3L244.5 145.1L246.5 145.1L248.5 145.3L250.5 145.4L252.5 145.3L254.5 145.1L256.5 144.6L258.5 144.0L260.5 143.1L262.5 141.8L264.5 140.3L266.5 138.1L268.5 135.5L270.5 132.4L272.5 130.8" stroke="#e37e64" stroke-width="0.70" fill="none"/>
<path d="M60.5 170.6L62.5 169.9L64.5 168.0L66.5 165.2L68.5 162.4L70.5 160.3L72.5 158.8L74.5 157.6L76.5 156.8L78.5 156.2L80.5 155.8L82.5 155.6L84.5 155.5L86.5 155.5L88.5 155.4L90.5 155.2L92.5 155.0L94.5 154.8L96.5 154.7L98.5 154.8L100.5 155.0L102.5 156.1L104.5 157.1L106.5 157.9L108.5 158.5L110.5 159.0L112.5 159.1L114.5 159.0L116.5 158.7L118.5 158.2L120.5 157.8L122.5 157.6L124.5 157.4L126.5 156.9L128.5 156.6L130.5 157.6L132.5 158.7L134.5 159.7L136.5 160.1L138.5 160.2L140.5 160.2L142.5 160.2L144.5 159.8L146.5 159.3L148.5 158.6L150.5 157.9L152.5 157.2L154.5 156.6L156.5 155.8L158.5 155.0L160.5 154.3L162.5 153.5L164.5 152.6L166.5 151.9L168.5 151.1L170.5 150.4L172.5 149.7L174.5 149.5L176.5 150.0L178.5 150.8L180.5 151.7L182.5 152.6L184.5 153.3L186.5 153.9L188.5 154.3L190.5 154.5L192.5 154.5L194.5 154.2L196.5 153.7L198.5 152.9L200.5 151.9L202.5 150.8L204.5 149.8L206.5 148.9L208.5 148.3L210.5 148.1L212.5 148.4L214.5 148.7L216.5 150.0L218.5 150.7L220.5 151.3L222.5 151.5L224.5 151.4L226.5 151.0L228.5 150.7L230.5 150.4L232.5 150.1L234.5 149.9L236.5 149.7L238.5 149.4L240.5 149.1L242.5 148.9L244.5 148.7L246.5 148.6L248.5 148.5L250.5 148.4L252.5 148.1L254.5 147.6L256.5 147.1L258.5 146.3L260.5 145.3L262.5 144.1L264.5 142.4L266.5 140.0L268.5 137.0L270.5 133.4L272.5 131.5" stroke="#5fa5cd" stroke-width="0.70" fill="none"/>
<path d="M60.5 170.1L62.5 168.1L64.5 164.9L66.5 161.4L68.5 159.2L70.5 157.5L72.5 156.3L74.5 155.2L76.5 154.4L78.5 153.8L80.5 153.4L82.5 153.1L84.5 152.8L86.5 152.4L88.5 152.0L90.5 151.7L92.5 151.5L94.5 151.3L96.5 151.1L98.5 150.9L100.5 150.5L102.5 150.1L104.5 149.7L106.5 149.4L108.5 149.3L110.5 149.4L112.5 149.7L114.5 150.2L116.5 151.1L118.5 152.0L120.5 152.3L122.5 152.2L124.5 151.3L126.5 150.1L128.5 148.7L130.5 147.6L132.5 146.8L134.5 146.2L136.5 145.6L138.5 145.3L140.5 145.2L142.5 145.2L144.5 145.5L146.5 146.1L148.5 147.3L150.5 148.7L152.5 150.1L154.5 151.1L156.5 151.4L158.5 151.3L160.5 150.8L162.5 150.1L164.5 149.1L166.5 148.3L168.5 147.6L170.5 146.8L172.5 145.9L174.5 145.0L176.5 144.1L178.5 143.3L180.5 142.5L182.5 141.9L184.5 141.3L186.5 140.8L188.5 140.4L190.5 140.1L192.5 140.0L194.5 140.1L196.5 140.2L198.5 140.7L200.5 141.6L202.5 142.5L204.5 143.5L206.5 143.8L208.5 144.1L210.5 144.3L212.5 143.9L214.5 143.2L216.5 142.5L218.5 142.0L220.5 141.7L222.5 141.7L224.5 141.9L226.5 142.4L228.5 143.7L230.5 144.5L232.5 145.3L234.5 146.1L236.5 146.2L238.5 146.0L240.5 145.5L242.5 145.1L244.5 144.9L246.5 144.9L248.5 145.0L250.5 145.2L252.5 145.2L254.5 144.9L256.5 144.5L258.5 143.8L260.5 142.9L262.5 141.7L264.5 140.1L266.5 138.0L268.5 135.4L270.5 132.4L272.5 130.8" stroke="#d7634f" stroke-width="0.70" fill="none"/>
<path d="M60.5 170.6L62.5 170.1L64.5 168.3L66.5 165.5L68.5 162.7L70.5 160.5L72.5 159.0L74.5 157.8L76.5 157.0L78.5 156.4L80.5 156.0L82.5 155.8L84.5 155.8L86.5 155.7L88.5 155.6L90.5 155.5L92.5 155.3L94.5 155.1L96.5 155.0L98.5 155.1L100.5 155.4L102.5 156.5L104.5 157.4L106.5 158.2L108.5 158.8L110.5 159.3L112.5 159.4L114.5 159.4L116.5 159.0L118.5 158.5L120.5 158.1L122.5 157.9L124.5 157.7L126.5 157.5L128.5 157.3L130.5 158.2L132.5 159.1L134.5 160.0L136.5 160.4L138.5 160.5L140.5 160.5L142.5 160.5L144.5 160.2L146.5 159.6L148.5 158.9L150.5 158.2L152.5 157.5L154.5 156.9L156.5 156.1L158.5 155.3L160.5 154.6L162.5 153.8L164.5 152.9L166.5 152.1L168.5 151.4L170.5 150.6L172.5 150.0L174.5 149.8L176.5 150.3L178.5 151.1L180.5 152.0L182.5 152.9L184.5 153.6L186.5 154.2L188.5 154.7L190.5 154.8L192.5 154.8L194.5 154.5L196.5 154.0L198.5 153.2L200.5 152.2L202.5 151.1L204.5 150.1L206.5 149.2L208.5 148.6L210.5 148.4L212.5 148.7L214.5 149.1L216.5 150.3L218.5 151.1L220.5 151.6L222.5 151.8L224.5 151.7L226.5 151.3L228.5 151.0L230.5 150.8L232.5 150.5L234.5 150.2L236.5 149.9L238.5 149.6L240.5 149.4L242.5 149.2L244.5 149.0L246.5 148.9L248.5 148.8L250.5 148.6L252.5 148.3L254.5 147.8L256.5 147.3L258.5 146.5L260.5 145.5L262.5 144.2L264.5 142.5L266.5 140.2L268.5 137.1L270.5 133.4L272.5 131.5" stroke="#4392c3" stroke-width="0.70" fill="none"/>
<path d="M60.5 170.0L62.5 168.0L64.5 164.7L66.5 161.2L68.5 159.0L70.5 157.4L72.5 156.1L74.5 155.1L76.5 154.3L78.5 153.7L80.5 153.2L82.5 152.9L84.5 152.6L86.5 152.2L88.5 151.8L90.5 151.5L92.5 151.3L94.5 151.0L96.5 150.8L98.5 150.6L100.5 150.3L102.5 149.9L104.5 149.5L106.5 149.1L108.5 149.0L110.5 149.1L112.5 149.5L114.5 150.0L116.5 150.8L118.5 151.6L120.5 151.9L122.5 151.9L124.5 151.1L126.5 149.9L128.5 148.4L130.5 147.4L132.5 146.5L134.5 145.9L136.5 145.4L138.5 145.1L140.5 144.9L142.5 144.9L144.5 145.2L146.5 145.8L148.5 147.0L150.5 148.3L152.5 149.6L154.5 150.6L156.5 151.0L158.5 151.0L160.5 150.6L162.5 149.8L164.5 148.9L166.5 148.1L168.5 147.4L170.5 146.5L172.5 145.7L174.5 144.7L176.5 143.8L178.5 143.0L180.5 142.3L182.5 141.6L184.5 141.1L186.5 140.6L188.5 140.1L190.5 139.9L192.5 139.8L194.5 139.8L196.5 140.0L198.5 140.4L200.5 141.2L202.5 142.0L204.5 142.9L206.5 143.4L208.5 143.9L210.5 144.0L212.5 143.7L214.5 142.9L216.5 142.2L218.5 141.8L220.5 141.5L222.5 141.5L224.5 141.6L226.5 142.1L228.5 143.3L230.5 144.2L232.5 145.1L234.5 145.9L236.5 146.0L238.5 145.7L240.5 145.2L242.5 144.9L244.5 144.6L246.5 144.6L248.5 144.8L250.5 145.0L252.5 145.0L254.5 144.7L256.5 144.3L258.5 143.6L260.5 142.8L262.5 141.5L264.5 140.0L266.5 137.8L268.5 135.3L270.5 132.3L272.5 130.8" stroke="#ca4741" stroke-width="0.70" fill="none"/>
<path d="M60.5 170.7L62.5 170.2L64.5 168.5L66.5 165.8L68.5 162.9L70.5 160.7L72.5 159.2L74.5 158.0L76.5 157.2L78.5 156.6L80.5 156.2L82.5 156.0L84.5 156.0L86.5 155.9L88.5 155.9L90.5 155.8L92.5 155.6L94.5 155.4L96.5 155.3L98.5 155.4L100.5 155.8L102.5 156.8L104.5 157.7L106.5 158.5L108.5 159.1L110.5 159.6L112.5 159.7L114.5 159.7L116.5 159.3L118.5 158.8L120.5 158.4L122.5 158.2L124.5 158.1L126.5 158.0L128.5 158.0L130.5 158.8L132.5 159.6L134.5 160.3L136.5 160.7L138.5 160.8L140.5 160.9L142.5 160.8L144.5 160.5L146.5 159.9L148.5 159.2L150.5 158.5L152.5 157.8L154.5 157.2L156.5 156.4L158.5 155.6L160.5 154.9L162.5 154.1L164.5 153.2L166.5 152.4L168.5 151.7L170.5 150.9L172.5 150.3L174.5 150.1L176.5 150.6L178.5 151.4L180.5 152.3L182.5 153.2L184.5 153.9L186.5 154.5L188.5 155.0L190.5 155.1L192.5 155.1L194.5 154.8L196.5 154.3L198.5 153.5L200.5 152.5L202.5 151.5L204.5 150.4L206.5 149.5L208.5 148.9L210.5 148.7L212.5 149.0L214.5 149.5L216.5 150.6L218.5 151.4L220.5 151.9L222.5 152.1L224.5 152.0L226.5 151.7L228.5 151.3L230.5 151.1L232.5 150.8L234.5 150.5L236.5 150.2L238.5 149.9L240.5 149.7L242.5 149.4L244.5 149.3L246.5 149.2L248.5 149.1L250.5 148.9L252.5 148.5L254.5 148.0L256.5 147.5L258.5 146.7L260.5 145.7L262.5 144.4L264.5 142.7L266.5 140.3L268.5 137.2L270.5 133.5L272.5 131.6" stroke="#3682ba" stroke-width="0.70" fill="none"/>
<path d="M60.5 170.0L62.5 167.9L64.5 164.5L66.5 161.0L68.5 158.8L70.5 157.2L72.5 156.0L74.5 154.9L76.5 154.1L78.5 153.5L80.5 153.1L82.5 152.7L84.5 152.4L86.5 152.0L88.5 151.6L90.5 151.3L92.5 151.0L94.5 150.8L96.5 150.6L98.5 150.4L100.5 150.0L102.5 149.6L104.5 149.2L106.5 148.9L108.5 148.8L110.5 148.8L112.5 149.2L114.5 149.7L116.5 150.4L118.5 151.2L120.5 151.5L122.5 151.5L124.5 150.8L126.5 149.6L128.5 148.2L130.5 147.1L132.5 146.2L134.5 145.6L136.5 145.1L138.5 144.8L140.5 144.6L142.5 144.7L144.5 145.0L146.5 145.6L148.5 146.6L150.5 147.9L152.5 149.1L154.5 150.2L156.5 150.7L158.5 150.8L160.5 150.4L162.5 149.6L164.5 148.7L166.5 147.9L168.5 147.1L170.5 146.3L172.5 145.4L174.5 144.5L176.5 143.6L178.5 142.7L180.5 142.0L182.5 141.4L184.5 140.8L186.5 140.3L188.5 139.9L190.5 139.6L192.5 139.5L194.5 139.6L196.5 139.7L198.5 140.1L200.5 140.8L202.5 141.5L204.5 142.4L206.5 143.0L208.5 143.6L210.5 143.8L212.5 143.4L214.5 142.7L216.5 142.0L218.5 141.5L220.5 141.2L222.5 141.2L224.5 141.4L226.5 141.9L228.5 142.9L230.5 143.9L232.5 144.8L234.5 145.6L236.5 145.8L238.5 145.5L240.5 145.0L242.5 144.6L244.5 144.4L246.5 144.4L248.5 144.6L250.5 144.8L252.5 144.8L254.5 144.5L256.5 144.2L258.5 143.5L260.5 142.7L262.5 141.4L264.5 139.8L266.5 137.7L268.5 135.2L270.5 132.2L272.5 130.7" stroke="#bc2c34" stroke-width="0.70" fill="none"/>
<path d="M60.5 170.7L62.5 170.3L64.5 168.7L66.5 166.1L68.5 163.2L70.5 160.9L72.5 159.4L74.5 158.2L76.5 157.4L78.5 156.7L80.5 156.4L82.5 156.2L84.5 156.2L86.5 156.2L88.5 156.1L90.5 156.0L92.5 155.9L94.5 155.6L96.5 155.6L98.5 155.7L100.5 156.2L102.5 157.1L104.5 158.0L106.5 158.8L108.5 159.4L110.5 159.9L112.5 160.1L114.5 160.0L116.5 159.6L118.5 159.1L120.5 158.7L122.5 158.5L124.5 158.5L126.5 158.5L128.5 158.7L130.5 159.4L132.5 160.1L134.5 160.7L136.5 161.0L138.5 161.1L140.5 161.2L142.5 161.1L144.5 160.8L146.5 160.2L148.5 159.5L150.5 158.8L152.5 158.1L154.5 157.5L156.5 156.7L158.5 155.9L160.5 155.1L162.5 154.3L164.5 153.5L166.5 152.7L168.5 152.0L170.5 151.2L172.5 150.6L174.5 150.5L176.5 150.9L178.5 151.7L180.5 152.7L182.5 153.5L184.5 154.2L186.5 154.8L188.5 155.3L190.5 155.5L192.5 155.4L194.5 155.1L196.5 154.6L198.5 153.8L200.5 152.9L202.5 151.8L204.5 150.7L206.5 149.8L208.5 149.3L210.5 149.0L212.5 149.4L214.5 149.9L216.5 151.0L218.5 151.7L220.5 152.3L222.5 152.4L224.5 152.3L226.5 152.0L228.5 151.6L230.5 151.4L232.5 151.1L234.5 150.8L236.5 150.5L238.5 150.2L240.5 149.9L242.5 149.7L244.5 149.6L246.5 149.5L248.5 149.4L250.5 149.1L252.5 148.8L254.5 148.2L256.5 147.7L258.5 146.9L260.5 145.9L262.5 144.6L264.5 142.9L266.5 140.5L268.5 137.3L270.5 133.6L272.5 131.6" stroke="#2971b2" stroke-width="0.70" fill="none"/>
<path d="M60.5 169.9L62.5 167.8L64.5 164.3L66.5 160.7L68.5 158.5L70.5 157.0L72.5 155.8L74.5 154.8L76.5 154.0L78.5 153.4L80.5 152.9L82.5 152.6L84.5 152.2L86.5 151.8L88.5 151.4L90.5 151.1L92.5 150.8L94.5 150.6L96.5 150.4L98.5 150.1L100.5 149.8L102.5 149.4L104.5 149.0L106.5 148.6L108.5 148.5L110.5 148.6L112.5 148.9L114.5 149.4L116.5 150.1L118.5 150.7L120.5 151.2L122.5 151.2L124.5 150.6L126.5 149.4L128.5 147.9L130.5 146.8L132.5 146.0L134.5 145.4L136.5 144.9L138.5 144.6L140.5 144.4L142.5 144.4L144.5 144.7L146.5 145.3L148.5 146.3L150.5 147.5L152.5 148.7L154.5 149.7L156.5 150.3L158.5 150.5L160.5 150.2L162.5 149.4L164.5 148.5L166.5 147.7L168.5 146.9L170.5 146.1L172.5 145.2L174.5 144.2L176.5 143.3L178.5 142.5L180.5 141.8L182.5 141.1L184.5 140.6L186.5 140.1L188.5 139.6L190.5 139.4L192.5 139.3L194.5 139.3L196.5 139.5L198.5 139.8L200.5 140.4L202.5 141.0L204.5 141.9L206.5 142.6L208.5 143.3L210.5 143.5L212.5 143.1L214.5 142.4L216.5 141.7L218.5 141.3L220.5 141.0L222.5 140.9L224.5 141.1L226.5 141.6L228.5 142.5L230.5 143.5L232.5 144.6L234.5 145.4L236.5 145.6L238.5 145.3L240.5 144.8L242.5 144.4L244.5 144.1L246.5 144.2L248.5 144.4L250.5 144.6L252.5 144.6L254.5 144.4L256.5 144.0L258.5 143.3L260.5 142.5L262.5 141.2L264.5 139.7L266.5 137.6L268.5 135.1L270.5 132.2L272.5 130.7" stroke="#a9152a" stroke-width="0.70" fill="none"/>
<path d="M60.5 170.8L62.5 170.5L64.5 169.0L66.5 166.4L68.5 163.4L70.5 161.1L72.5 159.6L74.5 158.3L76.5 157.5L78.5 156.9L80.5 156.6L82.5 156.4L84.5 156.4L86.5 156.4L88.5 156.4L90.5 156.3L92.5 156.1L94.5 155.9L96.5 155.9L98.5 156.0L100.5 156.5L102.5 157.4L104.5 158.3L106.5 159.2L108.5 159.8L110.5 160.2L112.5 160.4L114.5 160.3L116.5 159.9L118.5 159.5L120.5 159.1L122.5 158.8L124.5 158.9L126.5 159.0L128.5 159.4L130.5 160.0L132.5 160.6L134.5 161.0L136.5 161.3L138.5 161.5L140.5 161.5L142.5 161.4L144.5 161.1L146.5 160.6L148.5 159.8L150.5 159.1L152.5 158.5L154.5 157.8L156.5 157.0L158.5 156.2L160.5 155.4L162.5 154.6L164.5 153.8L166.5 153.0L168.5 152.2L170.5 151.5L172.5 150.9L174.5 150.8L176.5 151.2L178.5 152.0L180.5 153.0L182.5 153.8L184.5 154.6L186.5 155.2L188.5 155.6L190.5 155.8L192.5 155.7L194.5 155.4L196.5 154.9L198.5 154.1L200.5 153.2L202.5 152.1L204.5 151.1L206.5 150.2L208.5 149.6L210.5 149.3L212.5 149.7L214.5 150.3L216.5 151.3L218.5 152.0L220.5 152.6L222.5 152.8L224.5 152.6L226.5 152.3L228.5 152.0L230.5 151.7L232.5 151.4L234.5 151.0L236.5 150.7L238.5 150.4L240.5 150.2L242.5 150.0L244.5 149.9L246.5 149.7L248.5 149.6L250.5 149.4L252.5 149.0L254.5 148.4L256.5 147.9L258.5 147.1L260.5 146.0L262.5 144.8L264.5 143.0L266.5 140.7L268.5 137.5L270.5 133.7L272.5 131.7" stroke="#1d5fa2" stroke-width="0.70" fill="none"/>
<path d="M60.5 169.9L62.5 167.7L64.5 164.1L66.5 160.5L68.5 158.3L70.5 156.8L72.5 155.7L74.5 154.6L76.5 153.8L78.5 153.2L80.5 152.8L82.5 152.4L84.5 152.1L86.5 151.6L88.5 151.2L90.5 150.8L92.5 150.6L94.5 150.4L96.5 150.1L98.5 149.9L100.5 149.5L102.5 149.1L104.5 148.7L106.5 148.4L108.5 148.3L110.5 148.3L112.5 148.7L114.5 149.2L116.5 149.8L118.5 150.3L120.5 150.8L122.5 150.9L124.5 150.3L126.5 149.1L128.5 147.7L130.5 146.6L132.5 145.7L134.5 145.1L136.5 144.6L138.5 144.3L140.5 144.1L142.5 144.2L144.5 144.5L146.5 145.0L148.5 145.9L150.5 147.0L152.5 148.2L154.5 149.2L156.5 150.0L158.5 150.3L160.5 150.0L162.5 149.2L164.5 148.3L166.5 147.5L168.5 146.7L170.5 145.8L172.5 144.9L174.5 144.0L176.5 143.1L178.5 142.2L180.5 141.5L182.5 140.8L184.5 140.3L186.5 139.8L188.5 139.4L190.5 139.1L192.5 139.0L194.5 139.1L196.5 139.2L198.5 139.5L200.5 140.0L202.5 140.6L204.5 141.3L206.5 142.2L208.5 143.1L210.5 143.3L212.5 142.9L214.5 142.1L216.5 141.5L218.5 141.0L220.5 140.7L222.5 140.7L224.5 140.8L226.5 141.4L228.5 142.1L230.5 143.2L232.5 144.3L234.5 145.1L236.5 145.4L238.5 145.1L240.5 144.6L242.5 144.1L244.5 143.9L246.5 143.9L248.5 144.1L250.5 144.4L252.5 144.4L254.5 144.2L256.5 143.8L258.5 143.2L260.5 142.4L262.5 141.1L264.5 139.5L266.5 137.4L268.5 135.0L270.5 132.1L272.5 130.6" stroke="#8c0c25" stroke-width="1.25" fill="none"/>
<path d="M60.5 170.8L62.5 170.6L64.5 169.2L66.5 166.7L68.5 163.7L70.5 161.3L72.5 159.8L74.5 158.5L76.5 157.7L78.5 157.1L80.5 156.8L82.5 156.6L84.5 156.6L86.5 156.6L88.5 156.6L90.5 156.6L92.5 156.4L94.5 156.2L96.5 156.1L98.5 156.3L100.5 156.9L102.5 157.7L104.5 158.7L106.5 159.5L108.5 160.1L110.5 160.5L112.5 160.7L114.5 160.6L116.5 160.2L118.5 159.8L120.5 159.4L122.5 159.1L124.5 159.2L126.5 159.6L128.5 160.1L130.5 160.6L132.5 161.0L134.5 161.4L136.5 161.6L138.5 161.8L140.5 161.8L142.5 161.7L144.5 161.4L146.5 160.9L148.5 160.1L150.5 159.5L152.5 158.8L154.5 158.0L156.5 157.3L158.5 156.5L160.5 155.7L162.5 154.9L164.5 154.1L166.5 153.3L168.5 152.5L170.5 151.8L172.5 151.2L174.5 151.1L176.5 151.5L178.5 152.3L180.5 153.3L182.5 154.1L184.5 154.9L186.5 155.5L188.5 155.9L190.5 156.1L192.5 156.1L194.5 155.7L196.5 155.2L198.5 154.5L200.5 153.5L202.5 152.4L204.5 151.4L206.5 150.5L208.5 149.9L210.5 149.6L212.5 150.0L214.5 150.7L216.5 151.6L218.5 152.3L220.5 152.9L222.5 153.1L224.5 152.9L226.5 152.6L228.5 152.3L230.5 152.0L232.5 151.7L234.5 151.3L236.5 151.0L238.5 150.7L240.5 150.5L242.5 150.3L244.5 150.1L246.5 150.0L248.5 149.9L250.5 149.6L252.5 149.2L254.5 148.7L256.5 148.1L258.5 147.3L260.5 146.2L262.5 145.0L264.5 143.2L266.5 140.8L268.5 137.6L270.5 133.8L272.5 131.8" stroke="#134b86" stroke-width="1.25" fill="none"/>
<path d="M68.4 170.9L69.6 168.6L71 166.8" stroke="#3a4658" stroke-width="1.3" fill="none"/>
<path d="M263.2 135.4Q264.5 133 266.6 131.2" stroke="#6e1022" stroke-width="1.3" fill="none"/></g>
<g clip-path="url(#c21)"><path d="M304.5 132.4L306.5 132.4L308.5 132.5L310.5 132.7L312.5 133.1L314.5 134.3L316.5 135.7L318.5 137.5L320.5 139.0L322.5 140.4L324.5 141.9L326.5 143.4L328.5 145.0L330.5 146.5L332.5 147.8L334.5 149.1L336.5 150.2L338.5 151.2L340.5 152.0L342.5 152.6L344.5 153.2L346.5 153.5L348.5 153.8L350.5 154.1L352.5 154.4L354.5 154.7L356.5 155.0L358.5 155.2L360.5 155.1L362.5 154.8L364.5 154.5L366.5 154.2L368.5 153.9L370.5 153.6L372.5 153.4L374.5 153.3L376.5 153.2L378.5 153.1L380.5 153.0L382.5 153.1L384.5 153.3L386.5 153.5L388.5 153.8L390.5 154.1L392.5 154.4L394.5 154.6L396.5 154.7L398.5 154.6L400.5 154.3L402.5 153.8L404.5 153.2L406.5 152.7L408.5 152.2L410.5 151.6L412.5 151.0L414.5 150.5L416.5 149.8L418.5 149.2L420.5 148.5L422.5 147.8L424.5 147.3L426.5 147.0L428.5 146.9L430.5 146.6L432.5 146.7L434.5 146.6L436.5 146.6L438.5 146.6L440.5 146.6L442.5 146.5L444.5 146.4L446.5 146.3L448.5 146.2L450.5 146.1L452.5 146.0L454.5 145.9L456.5 145.8L458.5 145.7L460.5 145.6L462.5 145.6L464.5 145.5L466.5 145.8L468.5 145.9L470.5 146.0L472.5 146.2L474.5 146.4L476.5 146.7L478.5 147.0L480.5 147.5L482.5 148.2L484.5 149.0L486.5 150.1L488.5 151.4L490.5 153.1L492.5 155.1L494.5 157.0L496.5 158.7L498.5 160.5L500.5 162.2L502.5 164.0L504.5 165.3L506.5 166.0L508.5 166.5L510.5 167.0L512.5 167.7L514.5 168.1L516.5 168.2" stroke="#f8f0ec" stroke-width="0.70" fill="none"/>
<path d="M304.5 132.4L306.5 132.4L308.5 132.5L310.5 132.8L312.5 133.3L314.5 134.5L316.5 136.0L318.5 138.5L320.5 140.3L322.5 141.8L324.5 143.2L326.5 144.6L328.5 146.0L330.5 147.2L332.5 148.4L334.5 149.7L336.5 151.0L338.5 152.1L340.5 153.1L342.5 154.0L344.5 154.7L346.5 155.1L348.5 155.4L350.5 155.8L352.5 156.1L354.5 156.4L356.5 156.7L358.5 156.7L360.5 156.7L362.5 156.5L364.5 156.4L366.5 156.3L368.5 156.2L370.5 156.2L372.5 156.2L374.5 156.2L376.5 156.2L378.5 156.2L380.5 156.1L382.5 156.1L384.5 156.1L386.5 156.2L388.5 156.2L390.5 156.1L392.5 156.1L394.5 155.9L396.5 155.6L398.5 155.1L400.5 154.6L402.5 154.0L404.5 153.5L406.5 152.9L408.5 152.4L410.5 151.8L412.5 151.2L414.5 150.7L416.5 150.1L418.5 149.4L420.5 148.7L422.5 148.0L424.5 147.5L426.5 147.3L428.5 147.4L430.5 147.4L432.5 148.1L434.5 148.5L436.5 149.0L438.5 149.3L440.5 149.4L442.5 149.4L444.5 149.3L446.5 149.0L448.5 148.6L450.5 148.3L452.5 147.9L454.5 147.5L456.5 147.0L458.5 146.6L460.5 146.4L462.5 146.2L464.5 146.0L466.5 146.6L468.5 146.7L470.5 146.9L472.5 147.0L474.5 147.1L476.5 147.2L478.5 147.5L480.5 147.9L482.5 148.5L484.5 149.4L486.5 150.4L488.5 151.8L490.5 153.5L492.5 155.6L494.5 157.9L496.5 159.8L498.5 161.5L500.5 163.0L502.5 164.5L504.5 165.6L506.5 166.3L508.5 166.7L510.5 167.1L512.5 167.8L514.5 168.1L516.5 168.2" stroke="#eef3f5" stroke-width="0.70" fill="none"/>
<path d="M304.5 132.3L306.5 132.3L308.5 132.4L310.5 132.6L312.5 133.0L314.5 134.1L316.5 135.4L318.5 136.4L320.5 137.6L322.5 139.0L324.5 140.6L326.5 142.3L328.5 144.1L330.5 145.8L332.5 147.2L334.5 148.4L336.5 149.5L338.5 150.3L340.5 150.9L342.5 151.3L344.5 151.7L346.5 152.0L348.5 152.2L350.5 152.4L352.5 152.7L354.5 153.0L356.5 153.4L358.5 153.6L360.5 153.5L362.5 153.0L364.5 152.5L366.5 152.0L368.5 151.5L370.5 151.1L372.5 150.6L374.5 150.3L376.5 150.1L378.5 150.1L380.5 150.0L382.5 150.1L384.5 150.4L386.5 150.9L388.5 151.5L390.5 152.1L392.5 152.7L394.5 153.3L396.5 153.8L398.5 154.2L400.5 154.0L402.5 153.5L404.5 153.0L406.5 152.5L408.5 152.0L410.5 151.4L412.5 150.8L414.5 150.2L416.5 149.6L418.5 149.0L420.5 148.3L422.5 147.5L424.5 147.0L426.5 146.7L428.5 146.4L430.5 145.8L432.5 145.2L434.5 144.7L436.5 144.3L438.5 144.0L440.5 143.8L442.5 143.6L444.5 143.5L446.5 143.6L448.5 143.8L450.5 144.0L452.5 144.2L454.5 144.4L456.5 144.6L458.5 144.8L460.5 144.9L462.5 145.0L464.5 145.0L466.5 145.0L468.5 145.1L470.5 145.2L472.5 145.5L474.5 145.8L476.5 146.2L478.5 146.6L480.5 147.2L482.5 147.9L484.5 148.7L486.5 149.8L488.5 151.1L490.5 152.7L492.5 154.6L494.5 156.1L496.5 157.6L498.5 159.5L500.5 161.4L502.5 163.6L504.5 164.9L506.5 165.8L508.5 166.4L510.5 166.9L512.5 167.6L514.5 168.0L516.5 168.1" stroke="#f6b090" stroke-width="0.70" fill="none"/>
<path d="M304.5 132.5L306.5 132.5L308.5 132.6L310.5 132.9L312.5 133.4L314.5 134.7L316.5 136.3L318.5 139.5L320.5 141.7L322.5 143.2L324.5 144.5L326.5 145.8L328.5 146.9L330.5 148.0L332.5 148.9L334.5 150.4L336.5 151.8L338.5 153.0L340.5 154.1L342.5 155.3L344.5 156.2L346.5 156.7L348.5 157.0L350.5 157.4L352.5 157.8L354.5 158.2L356.5 158.3L358.5 158.3L360.5 158.3L362.5 158.3L364.5 158.3L366.5 158.4L368.5 158.6L370.5 158.8L372.5 159.0L374.5 159.1L376.5 159.2L378.5 159.2L380.5 159.1L382.5 159.1L384.5 159.0L386.5 158.8L388.5 158.5L390.5 158.1L392.5 157.7L394.5 157.2L396.5 156.4L398.5 155.5L400.5 154.8L402.5 154.3L404.5 153.7L406.5 153.1L408.5 152.6L410.5 152.0L412.5 151.4L414.5 150.9L416.5 150.3L418.5 149.6L420.5 149.0L422.5 148.2L424.5 147.8L426.5 147.6L428.5 147.9L430.5 148.2L432.5 149.5L434.5 150.4L436.5 151.3L438.5 151.9L440.5 152.2L442.5 152.4L444.5 152.2L446.5 151.7L448.5 151.1L450.5 150.4L452.5 149.7L454.5 149.0L456.5 148.3L458.5 147.5L460.5 147.1L462.5 146.7L464.5 146.4L466.5 147.4L468.5 147.6L470.5 147.7L472.5 147.7L474.5 147.7L476.5 147.7L478.5 147.9L480.5 148.2L482.5 148.8L484.5 149.7L486.5 150.8L488.5 152.1L490.5 153.9L492.5 156.2L494.5 158.7L496.5 160.9L498.5 162.5L500.5 163.9L502.5 164.9L504.5 166.0L506.5 166.5L508.5 166.9L510.5 167.2L512.5 167.9L514.5 168.2L516.5 168.3" stroke="#98c8e0" stroke-width="0.70" fill="none"/>
<path d="M304.5 132.2L306.5 132.2L308.5 132.3L310.5 132.4L312.5 132.8L314.5 133.8L316.5 135.0L318.5 136.0L320.5 137.1L322.5 138.6L324.5 140.1L326.5 141.8L328.5 143.5L330.5 145.2L332.5 146.6L334.5 147.8L336.5 148.9L338.5 149.7L340.5 150.3L342.5 150.7L344.5 151.1L346.5 151.4L348.5 151.6L350.5 151.8L352.5 152.1L354.5 152.4L356.5 152.8L358.5 153.0L360.5 152.9L362.5 152.4L364.5 151.9L366.5 151.4L368.5 150.9L370.5 150.4L372.5 150.0L374.5 149.7L376.5 149.5L378.5 149.4L380.5 149.4L382.5 149.5L384.5 149.8L386.5 150.3L388.5 150.8L390.5 151.4L392.5 152.1L394.5 152.7L396.5 153.2L398.5 153.6L400.5 153.4L402.5 153.0L404.5 152.5L406.5 152.0L408.5 151.5L410.5 151.0L412.5 150.4L414.5 149.8L416.5 149.1L418.5 148.5L420.5 147.8L422.5 147.0L424.5 146.4L426.5 146.1L428.5 145.7L430.5 145.1L432.5 144.6L434.5 144.0L436.5 143.6L438.5 143.3L440.5 143.1L442.5 142.9L444.5 142.8L446.5 142.9L448.5 143.1L450.5 143.3L452.5 143.5L454.5 143.7L456.5 143.9L458.5 144.1L460.5 144.2L462.5 144.3L464.5 144.3L466.5 144.3L468.5 144.4L470.5 144.5L472.5 144.8L474.5 145.1L476.5 145.4L478.5 145.9L480.5 146.5L482.5 147.1L484.5 147.9L486.5 149.0L488.5 150.2L490.5 151.8L492.5 153.5L494.5 155.0L496.5 156.4L498.5 158.2L500.5 160.1L502.5 162.5L504.5 164.0L506.5 165.1L508.5 166.0L510.5 166.7L512.5 167.5L514.5 168.0L516.5 168.1" stroke="#ee9878" stroke-width="0.70" fill="none"/>
<path d="M304.5 132.6L306.5 132.7L308.5 132.8L310.5 133.1L312.5 133.8L314.5 135.3L316.5 137.2L318.5 140.5L320.5 142.8L322.5 144.3L324.5 145.6L326.5 146.9L328.5 148.0L330.5 149.1L332.5 150.1L334.5 151.4L336.5 152.8L338.5 153.9L340.5 154.9L342.5 156.0L344.5 156.8L346.5 157.3L348.5 157.6L350.5 158.0L352.5 158.4L354.5 158.7L356.5 158.8L358.5 158.8L360.5 158.8L362.5 158.8L364.5 158.8L366.5 158.9L368.5 159.1L370.5 159.3L372.5 159.5L374.5 159.6L376.5 159.7L378.5 159.7L380.5 159.6L382.5 159.6L384.5 159.5L386.5 159.3L388.5 159.0L390.5 158.6L392.5 158.2L394.5 157.7L396.5 156.9L398.5 156.0L400.5 155.3L402.5 154.7L404.5 154.0L406.5 153.5L408.5 152.9L410.5 152.3L412.5 151.8L414.5 151.2L416.5 150.6L418.5 150.0L420.5 149.3L422.5 148.6L424.5 148.2L426.5 148.0L428.5 148.4L430.5 148.7L432.5 150.0L434.5 150.9L436.5 151.8L438.5 152.4L440.5 152.7L442.5 152.9L444.5 152.7L446.5 152.2L448.5 151.6L450.5 150.9L452.5 150.2L454.5 149.5L456.5 148.8L458.5 148.0L460.5 147.6L462.5 147.3L464.5 147.0L466.5 147.9L468.5 148.1L470.5 148.2L472.5 148.2L474.5 148.2L476.5 148.2L478.5 148.4L480.5 148.7L482.5 149.3L484.5 150.1L486.5 151.2L488.5 152.6L490.5 154.3L492.5 156.7L494.5 159.2L496.5 161.4L498.5 163.0L500.5 164.4L502.5 165.4L504.5 166.4L506.5 166.9L508.5 167.2L510.5 167.5L512.5 168.0L514.5 168.3L516.5 168.4" stroke="#7db7d7" stroke-width="0.70" fill="none"/>
<path d="M304.5 132.1L306.5 132.1L308.5 132.1L310.5 132.3L312.5 132.6L314.5 133.5L316.5 134.6L318.5 135.5L320.5 136.7L322.5 138.1L324.5 139.6L326.5 141.2L328.5 143.0L330.5 144.6L332.5 146.1L334.5 147.3L336.5 148.3L338.5 149.1L340.5 149.7L342.5 150.1L344.5 150.5L346.5 150.8L348.5 151.0L350.5 151.2L352.5 151.5L354.5 151.8L356.5 152.2L358.5 152.4L360.5 152.3L362.5 151.8L364.5 151.3L366.5 150.8L368.5 150.3L370.5 149.8L372.5 149.4L374.5 149.1L376.5 148.9L378.5 148.8L380.5 148.7L382.5 148.9L384.5 149.2L386.5 149.6L388.5 150.2L390.5 150.8L392.5 151.4L394.5 152.0L396.5 152.5L398.5 152.9L400.5 152.9L402.5 152.5L404.5 152.1L406.5 151.6L408.5 151.1L410.5 150.5L412.5 150.0L414.5 149.3L416.5 148.7L418.5 148.0L420.5 147.2L422.5 146.5L424.5 145.9L426.5 145.5L428.5 145.0L430.5 144.5L432.5 143.9L434.5 143.4L436.5 142.9L438.5 142.6L440.5 142.4L442.5 142.2L444.5 142.1L446.5 142.2L448.5 142.4L450.5 142.6L452.5 142.8L454.5 142.9L456.5 143.1L458.5 143.3L460.5 143.5L462.5 143.6L464.5 143.6L466.5 143.6L468.5 143.6L470.5 143.8L472.5 144.1L474.5 144.4L476.5 144.7L478.5 145.2L480.5 145.8L482.5 146.4L484.5 147.2L486.5 148.2L488.5 149.3L490.5 150.8L492.5 152.4L494.5 153.8L496.5 155.2L498.5 156.9L500.5 158.9L502.5 161.3L504.5 163.1L506.5 164.5L508.5 165.7L510.5 166.6L512.5 167.5L514.5 167.9L516.5 168.0" stroke="#e37e64" stroke-width="0.70" fill="none"/>
<path d="M304.5 132.8L306.5 132.8L308.5 133.0L310.5 133.4L312.5 134.1L314.5 135.9L316.5 138.0L318.5 141.4L320.5 143.8L322.5 145.4L324.5 146.8L326.5 148.0L328.5 149.2L330.5 150.2L332.5 151.2L334.5 152.5L336.5 153.7L338.5 154.8L340.5 155.8L342.5 156.7L344.5 157.5L346.5 157.9L348.5 158.2L350.5 158.6L352.5 158.9L354.5 159.2L356.5 159.3L358.5 159.3L360.5 159.3L362.5 159.3L364.5 159.3L366.5 159.4L368.5 159.6L370.5 159.8L372.5 160.0L374.5 160.1L376.5 160.2L378.5 160.2L380.5 160.1L382.5 160.1L384.5 160.0L386.5 159.8L388.5 159.5L390.5 159.1L392.5 158.7L394.5 158.2L396.5 157.4L398.5 156.5L400.5 155.7L402.5 155.1L404.5 154.4L406.5 153.8L408.5 153.2L410.5 152.7L412.5 152.1L414.5 151.6L416.5 151.0L418.5 150.4L420.5 149.7L422.5 149.0L424.5 148.6L426.5 148.5L428.5 148.9L430.5 149.3L432.5 150.5L434.5 151.4L436.5 152.3L438.5 152.9L440.5 153.2L442.5 153.4L444.5 153.2L446.5 152.7L448.5 152.1L450.5 151.4L452.5 150.7L454.5 150.0L456.5 149.3L458.5 148.5L460.5 148.1L462.5 147.8L464.5 147.6L466.5 148.4L468.5 148.6L470.5 148.7L472.5 148.7L474.5 148.7L476.5 148.7L478.5 148.9L480.5 149.2L482.5 149.8L484.5 150.6L486.5 151.7L488.5 153.0L490.5 154.8L492.5 157.2L494.5 159.7L496.5 161.9L498.5 163.5L500.5 164.9L502.5 165.9L504.5 166.7L506.5 167.2L508.5 167.5L510.5 167.8L512.5 168.2L514.5 168.5L516.5 168.5" stroke="#5fa5cd" stroke-width="0.70" fill="none"/>
<path d="M304.5 132.0L306.5 132.0L308.5 132.0L310.5 132.1L312.5 132.4L314.5 133.2L316.5 134.2L318.5 135.1L320.5 136.2L322.5 137.6L324.5 139.1L326.5 140.7L328.5 142.4L330.5 144.1L332.5 145.5L334.5 146.7L336.5 147.7L338.5 148.6L340.5 149.1L342.5 149.6L344.5 149.9L346.5 150.2L348.5 150.4L350.5 150.6L352.5 150.9L354.5 151.2L356.5 151.6L358.5 151.8L360.5 151.7L362.5 151.2L364.5 150.7L366.5 150.2L368.5 149.7L370.5 149.2L372.5 148.8L374.5 148.4L376.5 148.3L378.5 148.2L380.5 148.1L382.5 148.2L384.5 148.5L386.5 149.0L388.5 149.5L390.5 150.1L392.5 150.8L394.5 151.4L396.5 151.9L398.5 152.3L400.5 152.3L402.5 152.0L404.5 151.6L406.5 151.1L408.5 150.6L410.5 150.1L412.5 149.5L414.5 148.9L416.5 148.2L418.5 147.5L420.5 146.7L422.5 146.0L424.5 145.3L426.5 144.8L428.5 144.4L430.5 143.8L432.5 143.2L434.5 142.7L436.5 142.3L438.5 142.0L440.5 141.7L442.5 141.5L444.5 141.4L446.5 141.5L448.5 141.7L450.5 141.9L452.5 142.1L454.5 142.2L456.5 142.4L458.5 142.6L460.5 142.8L462.5 142.8L464.5 142.9L466.5 142.9L468.5 142.9L470.5 143.1L472.5 143.4L474.5 143.7L476.5 144.0L478.5 144.4L480.5 145.0L482.5 145.7L484.5 146.4L486.5 147.3L488.5 148.5L490.5 149.8L492.5 151.4L494.5 152.6L496.5 153.9L498.5 155.6L500.5 157.7L502.5 160.2L504.5 162.2L506.5 163.9L508.5 165.3L510.5 166.4L512.5 167.4L514.5 167.9L516.5 168.0" stroke="#d7634f" stroke-width="0.70" fill="none"/>
<path d="M304.5 132.9L306.5 133.0L308.5 133.2L310.5 133.7L312.5 134.4L314.5 136.4L316.5 138.9L318.5 142.4L320.5 144.8L322.5 146.5L324.5 147.9L326.5 149.2L328.5 150.3L330.5 151.4L332.5 152.4L334.5 153.6L336.5 154.7L338.5 155.7L340.5 156.6L342.5 157.4L344.5 158.1L346.5 158.5L348.5 158.8L350.5 159.1L352.5 159.4L354.5 159.7L356.5 159.8L358.5 159.8L360.5 159.8L362.5 159.8L364.5 159.8L366.5 159.9L368.5 160.1L370.5 160.3L372.5 160.5L374.5 160.6L376.5 160.7L378.5 160.7L380.5 160.6L382.5 160.6L384.5 160.5L386.5 160.3L388.5 160.0L390.5 159.6L392.5 159.2L394.5 158.7L396.5 157.9L398.5 157.0L400.5 156.2L402.5 155.5L404.5 154.8L406.5 154.1L408.5 153.6L410.5 153.0L412.5 152.4L414.5 151.9L416.5 151.4L418.5 150.8L420.5 150.1L422.5 149.4L424.5 149.0L426.5 149.0L428.5 149.4L430.5 149.9L432.5 151.0L434.5 151.9L436.5 152.8L438.5 153.4L440.5 153.7L442.5 153.9L444.5 153.7L446.5 153.2L448.5 152.6L450.5 151.9L452.5 151.2L454.5 150.5L456.5 149.8L458.5 149.0L460.5 148.6L462.5 148.3L464.5 148.2L466.5 148.9L468.5 149.1L470.5 149.2L472.5 149.2L474.5 149.2L476.5 149.2L478.5 149.4L480.5 149.7L482.5 150.2L484.5 151.0L486.5 152.1L488.5 153.5L490.5 155.3L492.5 157.7L494.5 160.2L496.5 162.4L498.5 164.0L500.5 165.4L502.5 166.3L504.5 167.1L506.5 167.6L508.5 167.9L510.5 168.1L512.5 168.4L514.5 168.6L516.5 168.7" stroke="#4392c3" stroke-width="0.70" fill="none"/>
<path d="M304.5 131.9L306.5 131.8L308.5 131.9L310.5 132.0L312.5 132.2L314.5 132.9L316.5 133.8L318.5 134.6L320.5 135.7L322.5 137.1L324.5 138.6L326.5 140.2L328.5 141.9L330.5 143.5L332.5 144.9L334.5 146.1L336.5 147.2L338.5 148.0L340.5 148.6L342.5 149.0L344.5 149.3L346.5 149.6L348.5 149.8L350.5 150.0L352.5 150.3L354.5 150.6L356.5 151.0L358.5 151.2L360.5 151.1L362.5 150.6L364.5 150.1L366.5 149.6L368.5 149.1L370.5 148.6L372.5 148.1L374.5 147.8L376.5 147.6L378.5 147.6L380.5 147.5L382.5 147.6L384.5 147.9L386.5 148.4L388.5 148.9L390.5 149.5L392.5 150.2L394.5 150.8L396.5 151.2L398.5 151.6L400.5 151.7L402.5 151.5L404.5 151.1L406.5 150.7L408.5 150.2L410.5 149.7L412.5 149.1L414.5 148.4L416.5 147.7L418.5 147.0L420.5 146.2L422.5 145.4L424.5 144.8L426.5 144.2L428.5 143.7L430.5 143.1L432.5 142.5L434.5 142.0L436.5 141.6L438.5 141.3L440.5 141.0L442.5 140.8L444.5 140.7L446.5 140.8L448.5 141.0L450.5 141.2L452.5 141.3L454.5 141.5L456.5 141.7L458.5 141.9L460.5 142.1L462.5 142.1L464.5 142.1L466.5 142.1L468.5 142.2L470.5 142.4L472.5 142.6L474.5 143.0L476.5 143.3L478.5 143.7L480.5 144.3L482.5 144.9L484.5 145.6L486.5 146.5L488.5 147.6L490.5 148.9L492.5 150.3L494.5 151.5L496.5 152.7L498.5 154.4L500.5 156.4L502.5 159.0L504.5 161.3L506.5 163.3L508.5 165.0L510.5 166.3L512.5 167.3L514.5 167.8L516.5 168.0" stroke="#ca4741" stroke-width="0.70" fill="none"/>
<path d="M304.5 133.0L306.5 133.1L308.5 133.4L310.5 133.9L312.5 134.8L314.5 137.0L316.5 139.7L318.5 143.4L320.5 145.9L322.5 147.7L324.5 149.1L326.5 150.3L328.5 151.5L330.5 152.5L332.5 153.5L334.5 154.7L336.5 155.7L338.5 156.6L340.5 157.4L342.5 158.1L344.5 158.7L346.5 159.1L348.5 159.4L350.5 159.7L352.5 160.0L354.5 160.2L356.5 160.3L358.5 160.3L360.5 160.3L362.5 160.3L364.5 160.3L366.5 160.4L368.5 160.6L370.5 160.8L372.5 161.0L374.5 161.1L376.5 161.2L378.5 161.2L380.5 161.1L382.5 161.1L384.5 161.0L386.5 160.8L388.5 160.5L390.5 160.1L392.5 159.7L394.5 159.2L396.5 158.4L398.5 157.5L400.5 156.6L402.5 155.9L404.5 155.1L406.5 154.5L408.5 153.9L410.5 153.3L412.5 152.8L414.5 152.3L416.5 151.7L418.5 151.1L420.5 150.5L422.5 149.8L424.5 149.4L426.5 149.4L428.5 149.9L430.5 150.4L432.5 151.5L434.5 152.4L436.5 153.3L438.5 153.9L440.5 154.2L442.5 154.4L444.5 154.2L446.5 153.7L448.5 153.1L450.5 152.4L452.5 151.7L454.5 151.0L456.5 150.3L458.5 149.5L460.5 149.1L462.5 148.9L464.5 148.8L466.5 149.4L468.5 149.6L470.5 149.7L472.5 149.7L474.5 149.7L476.5 149.7L478.5 149.9L480.5 150.2L482.5 150.7L484.5 151.5L486.5 152.6L488.5 153.9L490.5 155.8L492.5 158.2L494.5 160.7L496.5 162.9L498.5 164.5L500.5 165.9L502.5 166.8L504.5 167.5L506.5 167.9L508.5 168.2L510.5 168.4L512.5 168.6L514.5 168.8L516.5 168.8" stroke="#3682ba" stroke-width="0.70" fill="none"/>
<path d="M304.5 131.7L306.5 131.7L308.5 131.8L310.5 131.8L312.5 132.0L314.5 132.6L316.5 133.4L318.5 134.2L320.5 135.3L322.5 136.6L324.5 138.1L326.5 139.6L328.5 141.3L330.5 142.9L332.5 144.3L334.5 145.5L336.5 146.6L338.5 147.4L340.5 148.0L342.5 148.4L344.5 148.7L346.5 149.0L348.5 149.2L350.5 149.4L352.5 149.7L354.5 150.0L356.5 150.4L358.5 150.6L360.5 150.4L362.5 150.0L364.5 149.5L366.5 149.0L368.5 148.5L370.5 148.0L372.5 147.5L374.5 147.2L376.5 147.0L378.5 146.9L380.5 146.9L382.5 147.0L384.5 147.3L386.5 147.7L388.5 148.3L390.5 148.9L392.5 149.5L394.5 150.1L396.5 150.6L398.5 151.0L400.5 151.1L402.5 150.9L404.5 150.6L406.5 150.2L408.5 149.8L410.5 149.2L412.5 148.6L414.5 148.0L416.5 147.2L418.5 146.5L420.5 145.7L422.5 144.9L424.5 144.2L426.5 143.6L428.5 143.0L430.5 142.4L432.5 141.8L434.5 141.3L436.5 140.9L438.5 140.6L440.5 140.3L442.5 140.1L444.5 140.0L446.5 140.1L448.5 140.3L450.5 140.5L452.5 140.6L454.5 140.8L456.5 141.0L458.5 141.2L460.5 141.3L462.5 141.4L464.5 141.4L466.5 141.4L468.5 141.5L470.5 141.7L472.5 141.9L474.5 142.2L476.5 142.6L478.5 143.0L480.5 143.6L482.5 144.2L484.5 144.9L486.5 145.7L488.5 146.7L490.5 147.9L492.5 149.2L494.5 150.3L496.5 151.5L498.5 153.1L500.5 155.2L502.5 157.9L504.5 160.4L506.5 162.7L508.5 164.6L510.5 166.1L512.5 167.2L514.5 167.8L516.5 167.9" stroke="#bc2c34" stroke-width="0.70" fill="none"/>
<path d="M304.5 133.1L306.5 133.3L308.5 133.6L310.5 134.2L312.5 135.1L314.5 137.6L316.5 140.5L318.5 144.3L320.5 146.9L322.5 148.8L324.5 150.2L326.5 151.5L328.5 152.6L330.5 153.7L332.5 154.7L334.5 155.7L336.5 156.7L338.5 157.5L340.5 158.2L342.5 158.8L344.5 159.4L346.5 159.7L348.5 160.0L350.5 160.2L352.5 160.5L354.5 160.7L356.5 160.8L358.5 160.8L360.5 160.8L362.5 160.8L364.5 160.8L366.5 160.9L368.5 161.1L370.5 161.3L372.5 161.5L374.5 161.6L376.5 161.7L378.5 161.7L380.5 161.6L382.5 161.6L384.5 161.5L386.5 161.3L388.5 161.0L390.5 160.6L392.5 160.2L394.5 159.7L396.5 158.9L398.5 158.0L400.5 157.1L402.5 156.3L404.5 155.5L406.5 154.8L408.5 154.2L410.5 153.7L412.5 153.1L414.5 152.6L416.5 152.1L418.5 151.5L420.5 150.9L422.5 150.2L424.5 149.8L426.5 149.9L428.5 150.4L430.5 151.0L432.5 152.0L434.5 152.9L436.5 153.8L438.5 154.4L440.5 154.7L442.5 154.9L444.5 154.7L446.5 154.2L448.5 153.6L450.5 152.9L452.5 152.2L454.5 151.5L456.5 150.8L458.5 150.0L460.5 149.6L462.5 149.4L464.5 149.4L466.5 149.9L468.5 150.1L470.5 150.2L472.5 150.2L474.5 150.2L476.5 150.2L478.5 150.4L480.5 150.7L482.5 151.2L484.5 152.0L486.5 153.0L488.5 154.4L490.5 156.2L492.5 158.7L494.5 161.2L496.5 163.4L498.5 165.0L500.5 166.4L502.5 167.3L504.5 167.9L506.5 168.3L508.5 168.5L510.5 168.6L512.5 168.8L514.5 168.9L516.5 168.9" stroke="#2971b2" stroke-width="0.70" fill="none"/>
<path d="M304.5 131.6L306.5 131.6L308.5 131.6L310.5 131.7L312.5 131.9L314.5 132.3L316.5 133.0L318.5 133.8L320.5 134.8L322.5 136.1L324.5 137.5L326.5 139.1L328.5 140.7L330.5 142.4L332.5 143.8L334.5 145.0L336.5 146.0L338.5 146.8L340.5 147.4L342.5 147.8L344.5 148.1L346.5 148.4L348.5 148.6L350.5 148.9L352.5 149.1L354.5 149.4L356.5 149.8L358.5 150.0L360.5 149.8L362.5 149.4L364.5 148.9L366.5 148.4L368.5 147.9L370.5 147.4L372.5 146.9L374.5 146.6L376.5 146.4L378.5 146.3L380.5 146.2L382.5 146.3L384.5 146.6L386.5 147.1L388.5 147.6L390.5 148.2L392.5 148.9L394.5 149.5L396.5 150.0L398.5 150.3L400.5 150.5L402.5 150.4L404.5 150.1L406.5 149.8L408.5 149.3L410.5 148.8L412.5 148.2L414.5 147.5L416.5 146.7L418.5 146.0L420.5 145.2L422.5 144.4L424.5 143.6L426.5 142.9L428.5 142.3L430.5 141.7L432.5 141.1L434.5 140.6L436.5 140.2L438.5 139.9L440.5 139.6L442.5 139.4L444.5 139.3L446.5 139.4L448.5 139.6L450.5 139.8L452.5 139.9L454.5 140.1L456.5 140.3L458.5 140.5L460.5 140.6L462.5 140.7L464.5 140.7L466.5 140.7L468.5 140.8L470.5 140.9L472.5 141.2L474.5 141.5L476.5 141.9L478.5 142.3L480.5 142.9L482.5 143.5L484.5 144.1L486.5 144.9L488.5 145.8L490.5 146.9L492.5 148.1L494.5 149.2L496.5 150.2L498.5 151.8L500.5 154.0L502.5 156.7L504.5 159.5L506.5 162.0L508.5 164.3L510.5 166.0L512.5 167.1L514.5 167.7L516.5 167.9" stroke="#a9152a" stroke-width="0.70" fill="none"/>
<path d="M304.5 133.3L306.5 133.4L308.5 133.7L310.5 134.4L312.5 135.5L314.5 138.1L316.5 141.4L318.5 145.3L320.5 148.0L322.5 149.9L324.5 151.4L326.5 152.6L328.5 153.8L330.5 154.8L332.5 155.8L334.5 156.8L336.5 157.7L338.5 158.4L340.5 159.0L342.5 159.5L344.5 160.0L346.5 160.3L348.5 160.6L350.5 160.8L352.5 161.0L354.5 161.2L356.5 161.3L358.5 161.3L360.5 161.3L362.5 161.3L364.5 161.3L366.5 161.4L368.5 161.6L370.5 161.8L372.5 162.0L374.5 162.1L376.5 162.2L378.5 162.2L380.5 162.1L382.5 162.1L384.5 162.0L386.5 161.8L388.5 161.5L390.5 161.1L392.5 160.7L394.5 160.2L396.5 159.4L398.5 158.5L400.5 157.5L402.5 156.7L404.5 155.9L406.5 155.2L408.5 154.6L410.5 154.0L412.5 153.4L414.5 152.9L416.5 152.4L418.5 151.9L420.5 151.3L422.5 150.6L424.5 150.3L426.5 150.4L428.5 150.9L430.5 151.6L432.5 152.5L434.5 153.4L436.5 154.3L438.5 154.9L440.5 155.2L442.5 155.4L444.5 155.2L446.5 154.7L448.5 154.1L450.5 153.4L452.5 152.7L454.5 152.0L456.5 151.3L458.5 150.5L460.5 150.1L462.5 149.9L464.5 150.0L466.5 150.4L468.5 150.6L470.5 150.7L472.5 150.7L474.5 150.7L476.5 150.7L478.5 150.9L480.5 151.2L482.5 151.6L484.5 152.4L486.5 153.5L488.5 154.8L490.5 156.7L492.5 159.2L494.5 161.7L496.5 163.9L498.5 165.5L500.5 166.9L502.5 167.8L504.5 168.3L506.5 168.6L508.5 168.8L510.5 168.9L512.5 169.0L514.5 169.1L516.5 169.1" stroke="#1d5fa2" stroke-width="0.70" fill="none"/>
<path d="M304.5 131.5L306.5 131.5L308.5 131.5L310.5 131.5L312.5 131.7L314.5 132.0L316.5 132.6L318.5 133.3L320.5 134.3L322.5 135.6L324.5 137.0L326.5 138.6L328.5 140.2L330.5 141.8L332.5 143.2L334.5 144.4L336.5 145.4L338.5 146.2L340.5 146.8L342.5 147.2L344.5 147.6L346.5 147.8L348.5 148.0L350.5 148.3L352.5 148.5L354.5 148.8L356.5 149.2L358.5 149.4L360.5 149.2L362.5 148.8L364.5 148.3L366.5 147.8L368.5 147.2L370.5 146.8L372.5 146.3L374.5 146.0L376.5 145.8L378.5 145.7L380.5 145.6L382.5 145.7L384.5 146.0L386.5 146.5L388.5 147.0L390.5 147.6L392.5 148.2L394.5 148.8L396.5 149.3L398.5 149.7L400.5 149.9L402.5 149.9L404.5 149.7L406.5 149.3L408.5 148.9L410.5 148.4L412.5 147.7L414.5 147.0L416.5 146.3L418.5 145.5L420.5 144.7L422.5 143.9L424.5 143.1L426.5 142.3L428.5 141.6L430.5 141.0L432.5 140.5L434.5 139.9L436.5 139.5L438.5 139.2L440.5 138.9L442.5 138.7L444.5 138.7L446.5 138.7L448.5 138.9L450.5 139.1L452.5 139.2L454.5 139.4L456.5 139.6L458.5 139.8L460.5 139.9L462.5 140.0L464.5 140.0L466.5 140.0L468.5 140.1L470.5 140.2L472.5 140.5L474.5 140.8L476.5 141.2L478.5 141.6L480.5 142.1L482.5 142.7L484.5 143.3L486.5 144.1L488.5 145.0L490.5 146.0L492.5 147.0L494.5 148.0L496.5 149.0L498.5 150.5L500.5 152.7L502.5 155.6L504.5 158.6L506.5 161.4L508.5 163.9L510.5 165.8L512.5 167.0L514.5 167.6L516.5 167.8" stroke="#8c0c25" stroke-width="1.25" fill="none"/>
<path d="M304.5 133.4L306.5 133.6L308.5 133.9L310.5 134.7L312.5 135.8L314.5 138.7L316.5 142.2L318.5 146.2L320.5 149.0L322.5 151.0L324.5 152.5L326.5 153.8L328.5 154.9L330.5 156.0L332.5 156.9L334.5 157.9L336.5 158.7L338.5 159.3L340.5 159.8L342.5 160.2L344.5 160.6L346.5 160.9L348.5 161.1L350.5 161.3L352.5 161.6L354.5 161.7L356.5 161.8L358.5 161.8L360.5 161.8L362.5 161.8L364.5 161.8L366.5 161.9L368.5 162.1L370.5 162.3L372.5 162.5L374.5 162.6L376.5 162.7L378.5 162.7L380.5 162.6L382.5 162.6L384.5 162.5L386.5 162.3L388.5 162.0L390.5 161.6L392.5 161.2L394.5 160.7L396.5 159.9L398.5 159.0L400.5 158.0L402.5 157.1L404.5 156.2L406.5 155.5L408.5 154.9L410.5 154.3L412.5 153.8L414.5 153.3L416.5 152.8L418.5 152.2L420.5 151.6L422.5 151.0L424.5 150.7L426.5 150.8L428.5 151.4L430.5 152.1L432.5 153.0L434.5 153.9L436.5 154.8L438.5 155.4L440.5 155.7L442.5 155.9L444.5 155.7L446.5 155.2L448.5 154.6L450.5 153.9L452.5 153.2L454.5 152.5L456.5 151.8L458.5 151.0L460.5 150.6L462.5 150.5L464.5 150.6L466.5 150.9L468.5 151.1L470.5 151.2L472.5 151.2L474.5 151.2L476.5 151.2L478.5 151.4L480.5 151.7L482.5 152.1L484.5 152.9L486.5 153.9L488.5 155.3L490.5 157.2L492.5 159.7L494.5 162.2L496.5 164.4L498.5 166.0L500.5 167.4L502.5 168.3L504.5 168.7L506.5 169.0L508.5 169.2L510.5 169.2L512.5 169.2L514.5 169.2L516.5 169.2" stroke="#134b86" stroke-width="1.25" fill="none"/></g>
<g clip-path="url(#c30)"><path d="M60.5 214.7L62.5 214.2L64.5 213.4L66.5 212.9L68.5 212.6L70.5 212.7L72.5 212.8L74.5 212.8L76.5 212.8L78.5 212.8L80.5 212.9L82.5 213.1L84.5 213.2L86.5 213.4L88.5 213.3L90.5 213.2L92.5 213.0L94.5 212.8L96.5 212.6L98.5 212.5L100.5 212.6L102.5 212.6L104.5 212.8L106.5 212.9L108.5 213.0L110.5 213.2L112.5 213.5L114.5 213.8L116.5 214.1L118.5 214.2L120.5 214.3L122.5 214.3L124.5 214.0L126.5 213.3L128.5 212.2L130.5 211.9L132.5 211.7L134.5 211.4L136.5 211.1L138.5 211.0L140.5 210.9L142.5 210.9L144.5 211.0L146.5 211.2L148.5 211.5L150.5 212.0L152.5 212.7L154.5 213.1L156.5 213.0L158.5 212.8L160.5 212.3L162.5 211.5L164.5 210.7L166.5 209.9L168.5 209.1L170.5 208.3L172.5 207.5L174.5 206.9L176.5 206.5L178.5 206.4L180.5 206.3L182.5 206.1L184.5 206.0L186.5 205.9L188.5 205.7L190.5 205.6L192.5 205.5L194.5 205.5L196.5 205.4L198.5 205.3L200.5 205.3L202.5 205.6L204.5 205.8L206.5 205.6L208.5 205.9L210.5 205.9L212.5 205.8L214.5 205.6L216.5 205.6L218.5 205.6L220.5 205.6L222.5 205.6L224.5 205.7L226.5 205.9L228.5 206.3L230.5 206.8L232.5 207.3L234.5 207.6L236.5 207.6L238.5 207.3L240.5 207.1L242.5 206.9L244.5 206.8L246.5 206.8L248.5 206.7L250.5 206.6L252.5 206.6L254.5 206.4L256.5 206.2L258.5 206.0L260.5 206.0L262.5 205.9L264.5 205.5L266.5 204.9L268.5 204.3L270.5 203.7L272.5 203.4" stroke="#f8f0ec" stroke-width="0.65" fill="none"/>
<path d="M60.5 215.4L62.5 214.9L64.5 214.0L66.5 213.4L68.5 213.1L70.5 213.1L72.5 213.3L74.5 213.4L76.5 213.4L78.5 213.4L80.5 213.6L82.5 213.8L84.5 214.0L86.5 214.1L88.5 214.1L90.5 214.0L92.5 213.8L94.5 213.5L96.5 213.4L98.5 213.4L100.5 213.5L102.5 213.8L104.5 214.1L106.5 214.4L108.5 214.8L110.5 215.1L112.5 215.4L114.5 215.5L116.5 215.5L118.5 215.5L120.5 215.5L122.5 215.4L124.5 215.2L126.5 214.7L128.5 213.8L130.5 214.1L132.5 214.6L134.5 214.6L136.5 214.6L138.5 214.6L140.5 214.6L142.5 214.5L144.5 214.4L146.5 214.3L148.5 214.1L150.5 214.0L152.5 214.1L154.5 214.3L156.5 213.9L158.5 213.7L160.5 213.1L162.5 212.3L164.5 211.5L166.5 210.7L168.5 209.9L170.5 209.1L172.5 208.4L174.5 207.8L176.5 207.7L178.5 207.7L180.5 208.0L182.5 208.4L184.5 208.7L186.5 208.9L188.5 209.1L190.5 209.1L192.5 209.0L194.5 208.8L196.5 208.6L198.5 208.1L200.5 207.6L202.5 207.2L204.5 207.1L206.5 206.7L208.5 206.8L210.5 206.7L212.5 206.7L214.5 206.8L216.5 207.0L218.5 207.2L220.5 207.5L222.5 207.6L224.5 207.6L226.5 207.5L228.5 207.6L230.5 208.0L232.5 208.4L234.5 208.5L236.5 208.4L238.5 208.2L240.5 208.0L242.5 207.9L244.5 207.8L246.5 207.7L248.5 207.6L250.5 207.5L252.5 207.4L254.5 207.1L256.5 206.9L258.5 206.6L260.5 206.5L262.5 206.4L264.5 206.0L266.5 205.6L268.5 205.6L270.5 205.8L272.5 205.7" stroke="#eef3f5" stroke-width="0.65" fill="none"/>
<path d="M60.5 214.0L62.5 213.5L64.5 212.7L66.5 212.3L68.5 212.2L70.5 212.3L72.5 212.2L74.5 212.3L76.5 212.2L78.5 212.1L80.5 212.3L82.5 212.4L84.5 212.5L86.5 212.6L88.5 212.6L90.5 212.4L92.5 212.2L94.5 212.0L96.5 211.8L98.5 211.7L100.5 211.6L102.5 211.5L104.5 211.5L106.5 211.4L108.5 211.3L110.5 211.3L112.5 211.7L114.5 212.2L116.5 212.7L118.5 212.9L120.5 213.2L122.5 213.2L124.5 212.8L126.5 211.9L128.5 210.5L130.5 209.6L132.5 208.7L134.5 208.1L136.5 207.6L138.5 207.3L140.5 207.1L142.5 207.2L144.5 207.5L146.5 208.0L148.5 208.9L150.5 210.0L152.5 211.3L154.5 211.9L156.5 212.0L158.5 212.0L160.5 211.5L162.5 210.8L164.5 209.9L166.5 209.1L168.5 208.3L170.5 207.5L172.5 206.7L174.5 205.9L176.5 205.4L178.5 205.0L180.5 204.5L182.5 203.8L184.5 203.3L186.5 202.8L188.5 202.4L190.5 202.1L192.5 202.0L194.5 202.1L196.5 202.2L198.5 202.5L200.5 203.0L202.5 203.9L204.5 204.4L206.5 204.5L208.5 205.0L210.5 205.0L212.5 204.9L214.5 204.5L216.5 204.3L218.5 204.0L220.5 203.7L222.5 203.7L224.5 203.8L226.5 204.4L228.5 204.9L230.5 205.7L232.5 206.3L234.5 206.7L236.5 206.7L238.5 206.4L240.5 206.2L242.5 206.0L244.5 205.9L246.5 205.9L248.5 205.8L250.5 205.8L252.5 205.8L254.5 205.7L256.5 205.6L258.5 205.5L260.5 205.5L262.5 205.5L264.5 204.9L266.5 204.2L268.5 203.1L270.5 201.6L272.5 201.1" stroke="#f6b090" stroke-width="0.65" fill="none"/>
<path d="M60.5 216.0L62.5 215.6L64.5 214.7L66.5 214.0L68.5 213.6L70.5 213.6L72.5 213.9L74.5 214.0L76.5 214.0L78.5 214.1L80.5 214.2L82.5 214.5L84.5 214.7L86.5 214.8L88.5 214.8L90.5 214.7L92.5 214.5L94.5 214.3L96.5 214.2L98.5 214.2L100.5 214.5L102.5 214.9L104.5 215.4L106.5 216.0L108.5 216.6L110.5 217.0L112.5 217.2L114.5 217.1L116.5 216.9L118.5 216.7L120.5 216.6L122.5 216.5L124.5 216.3L126.5 216.1L128.5 215.5L130.5 216.4L132.5 217.5L134.5 217.9L136.5 218.1L138.5 218.3L140.5 218.3L142.5 218.2L144.5 217.9L146.5 217.4L148.5 216.6L150.5 216.0L152.5 215.5L154.5 215.4L156.5 214.9L158.5 214.5L160.5 213.8L162.5 213.0L164.5 212.2L166.5 211.4L168.5 210.6L170.5 209.8L172.5 209.2L174.5 208.8L176.5 208.8L178.5 209.1L180.5 209.8L182.5 210.6L184.5 211.4L186.5 212.0L188.5 212.4L190.5 212.6L192.5 212.6L194.5 212.2L196.5 211.7L198.5 211.0L200.5 210.0L202.5 208.9L204.5 208.5L206.5 207.8L208.5 207.7L210.5 207.6L212.5 207.7L214.5 207.9L216.5 208.3L218.5 208.8L220.5 209.4L222.5 209.6L224.5 209.4L226.5 209.1L228.5 209.0L230.5 209.2L232.5 209.4L234.5 209.4L236.5 209.3L238.5 209.1L240.5 208.9L242.5 208.8L244.5 208.7L246.5 208.6L248.5 208.5L250.5 208.4L252.5 208.2L254.5 207.9L256.5 207.5L258.5 207.2L260.5 207.0L262.5 206.8L264.5 206.6L266.5 206.4L268.5 206.8L270.5 207.9L272.5 208.0" stroke="#98c8e0" stroke-width="0.65" fill="none"/>
<path d="M60.5 212.6L62.5 212.2L64.5 211.7L66.5 211.5L68.5 211.6L70.5 211.9L72.5 211.9L74.5 212.1L76.5 212.1L78.5 212.0L80.5 212.2L82.5 212.3L84.5 212.4L86.5 212.5L88.5 212.5L90.5 212.3L92.5 212.1L94.5 211.8L96.5 211.7L98.5 211.5L100.5 211.4L102.5 211.3L104.5 211.2L106.5 211.1L108.5 211.0L110.5 211.1L112.5 211.4L114.5 211.9L116.5 212.4L118.5 212.7L120.5 213.0L122.5 213.0L124.5 212.6L126.5 211.7L128.5 210.3L130.5 209.3L132.5 208.5L134.5 207.9L136.5 207.4L138.5 207.1L140.5 206.9L142.5 206.9L144.5 207.2L146.5 207.8L148.5 208.7L150.5 209.8L152.5 211.0L154.5 211.7L156.5 211.8L158.5 211.9L160.5 211.4L162.5 210.7L164.5 209.8L166.5 209.0L168.5 208.2L170.5 207.3L172.5 206.5L174.5 205.8L176.5 205.2L178.5 204.8L180.5 204.3L182.5 203.6L184.5 203.0L186.5 202.5L188.5 202.1L190.5 201.9L192.5 201.8L194.5 201.8L196.5 202.0L198.5 202.3L200.5 202.7L202.5 203.6L204.5 204.2L206.5 204.3L208.5 204.8L210.5 204.9L212.5 204.7L214.5 204.3L216.5 204.0L218.5 203.8L220.5 203.5L222.5 203.4L224.5 203.6L226.5 204.1L228.5 204.7L230.5 205.5L232.5 206.2L234.5 206.5L236.5 206.5L238.5 206.3L240.5 206.0L242.5 205.8L244.5 205.8L246.5 205.7L248.5 205.7L250.5 205.6L252.5 205.6L254.5 205.5L256.5 205.3L258.5 205.2L260.5 205.1L262.5 205.0L264.5 204.3L266.5 203.6L268.5 202.3L270.5 200.8L272.5 200.2" stroke="#f3a381" stroke-width="0.65" fill="none"/>
<path d="M60.5 217.8L62.5 217.1L64.5 215.8L66.5 214.8L68.5 214.2L70.5 214.0L72.5 214.2L74.5 214.2L76.5 214.2L78.5 214.2L80.5 214.4L82.5 214.6L84.5 214.8L86.5 215.0L88.5 215.0L90.5 214.9L92.5 214.7L94.5 214.5L96.5 214.4L98.5 214.4L100.5 214.7L102.5 215.2L104.5 215.7L106.5 216.3L108.5 216.9L110.5 217.3L112.5 217.5L114.5 217.4L116.5 217.1L118.5 217.0L120.5 216.8L122.5 216.7L124.5 216.6L126.5 216.4L128.5 215.9L130.5 216.8L132.5 217.8L134.5 218.2L136.5 218.4L138.5 218.6L140.5 218.6L142.5 218.5L144.5 218.2L146.5 217.7L148.5 216.9L150.5 216.2L152.5 215.8L154.5 215.7L156.5 215.1L158.5 214.6L160.5 214.0L162.5 213.2L164.5 212.4L166.5 211.6L168.5 210.8L170.5 210.0L172.5 209.4L174.5 209.0L176.5 209.0L178.5 209.4L180.5 210.1L182.5 210.9L184.5 211.7L186.5 212.3L188.5 212.7L190.5 212.9L192.5 212.9L194.5 212.5L196.5 212.0L198.5 211.3L200.5 210.3L202.5 209.2L204.5 208.7L206.5 208.0L208.5 207.9L210.5 207.8L212.5 207.9L214.5 208.1L216.5 208.6L218.5 209.1L220.5 209.7L222.5 209.9L224.5 209.7L226.5 209.4L228.5 209.3L230.5 209.4L232.5 209.6L234.5 209.6L236.5 209.5L238.5 209.3L240.5 209.1L242.5 209.0L244.5 208.9L246.5 208.8L248.5 208.7L250.5 208.6L252.5 208.4L254.5 208.1L256.5 207.8L258.5 207.5L260.5 207.4L262.5 207.4L264.5 207.3L266.5 207.3L268.5 207.9L270.5 209.1L272.5 209.3" stroke="#89bfdb" stroke-width="0.65" fill="none"/>
<path d="M60.5 211.2L62.5 210.9L64.5 210.7L66.5 210.7L68.5 211.0L70.5 211.5L72.5 211.7L74.5 211.9L76.5 212.0L78.5 211.9L80.5 212.0L82.5 212.2L84.5 212.3L86.5 212.4L88.5 212.3L90.5 212.2L92.5 211.9L94.5 211.7L96.5 211.5L98.5 211.4L100.5 211.2L102.5 211.1L104.5 211.0L106.5 210.9L108.5 210.8L110.5 210.8L112.5 211.2L114.5 211.7L116.5 212.2L118.5 212.5L120.5 212.8L122.5 212.8L124.5 212.4L126.5 211.5L128.5 210.0L130.5 209.1L132.5 208.2L134.5 207.6L136.5 207.1L138.5 206.8L140.5 206.6L142.5 206.7L144.5 207.0L146.5 207.5L148.5 208.4L150.5 209.5L152.5 210.8L154.5 211.5L156.5 211.7L158.5 211.7L160.5 211.3L162.5 210.5L164.5 209.7L166.5 208.9L168.5 208.0L170.5 207.2L172.5 206.4L174.5 205.6L176.5 205.0L178.5 204.6L180.5 204.0L182.5 203.3L184.5 202.8L186.5 202.3L188.5 201.9L190.5 201.6L192.5 201.5L194.5 201.6L196.5 201.7L198.5 202.0L200.5 202.5L202.5 203.4L204.5 203.9L206.5 204.1L208.5 204.6L210.5 204.8L212.5 204.5L214.5 204.1L216.5 203.8L218.5 203.5L220.5 203.2L222.5 203.2L224.5 203.3L226.5 203.9L228.5 204.5L230.5 205.3L232.5 206.0L234.5 206.4L236.5 206.4L238.5 206.1L240.5 205.9L242.5 205.7L244.5 205.6L246.5 205.6L248.5 205.5L250.5 205.4L252.5 205.4L254.5 205.3L256.5 205.1L258.5 204.9L260.5 204.7L262.5 204.5L264.5 203.8L266.5 202.9L268.5 201.6L270.5 200.0L272.5 199.4" stroke="#ec9475" stroke-width="0.65" fill="none"/>
<path d="M60.5 219.5L62.5 218.6L64.5 216.9L66.5 215.6L68.5 214.7L70.5 214.4L72.5 214.5L74.5 214.4L76.5 214.4L78.5 214.4L80.5 214.5L82.5 214.7L84.5 215.0L86.5 215.1L88.5 215.1L90.5 215.0L92.5 214.8L94.5 214.6L96.5 214.5L98.5 214.6L100.5 214.9L102.5 215.4L104.5 216.0L106.5 216.6L108.5 217.2L110.5 217.6L112.5 217.8L114.5 217.7L116.5 217.4L118.5 217.2L120.5 217.1L122.5 216.9L124.5 216.8L126.5 216.7L128.5 216.2L130.5 217.1L132.5 218.1L134.5 218.5L136.5 218.7L138.5 218.9L140.5 218.9L142.5 218.8L144.5 218.5L146.5 218.0L148.5 217.2L150.5 216.5L152.5 216.1L154.5 215.9L156.5 215.3L158.5 214.8L160.5 214.1L162.5 213.4L164.5 212.5L166.5 211.7L168.5 211.0L170.5 210.2L172.5 209.5L174.5 209.2L176.5 209.3L178.5 209.6L180.5 210.4L182.5 211.2L184.5 212.0L186.5 212.6L188.5 213.0L190.5 213.2L192.5 213.1L194.5 212.8L196.5 212.3L198.5 211.5L200.5 210.6L202.5 209.5L204.5 208.9L206.5 208.3L208.5 208.0L210.5 207.9L212.5 208.1L214.5 208.4L216.5 208.9L218.5 209.4L220.5 210.0L222.5 210.2L224.5 210.0L226.5 209.7L228.5 209.5L230.5 209.7L232.5 209.8L234.5 209.8L236.5 209.7L238.5 209.5L240.5 209.3L242.5 209.2L244.5 209.0L246.5 209.0L248.5 208.9L250.5 208.8L252.5 208.6L254.5 208.3L256.5 208.1L258.5 207.9L260.5 207.8L262.5 207.9L264.5 208.0L266.5 208.2L268.5 209.0L270.5 210.4L272.5 210.7" stroke="#78b4d5" stroke-width="0.65" fill="none"/>
<path d="M60.5 209.7L62.5 209.6L64.5 209.7L66.5 210.0L68.5 210.5L70.5 211.1L72.5 211.4L74.5 211.7L76.5 211.8L78.5 211.8L80.5 211.9L82.5 212.0L84.5 212.2L86.5 212.2L88.5 212.2L90.5 212.0L92.5 211.8L94.5 211.6L96.5 211.4L98.5 211.2L100.5 211.1L102.5 210.9L104.5 210.8L106.5 210.6L108.5 210.5L110.5 210.6L112.5 210.9L114.5 211.4L116.5 211.9L118.5 212.3L120.5 212.6L122.5 212.6L124.5 212.2L126.5 211.2L128.5 209.8L130.5 208.8L132.5 208.0L134.5 207.4L136.5 206.9L138.5 206.6L140.5 206.4L142.5 206.4L144.5 206.7L146.5 207.3L148.5 208.2L150.5 209.3L152.5 210.5L154.5 211.2L156.5 211.5L158.5 211.6L160.5 211.1L162.5 210.4L164.5 209.5L166.5 208.7L168.5 207.9L170.5 207.1L172.5 206.2L174.5 205.5L176.5 204.8L178.5 204.3L180.5 203.8L182.5 203.1L184.5 202.5L186.5 202.0L188.5 201.6L190.5 201.4L192.5 201.2L194.5 201.3L196.5 201.5L198.5 201.8L200.5 202.2L202.5 203.1L204.5 203.7L206.5 204.0L208.5 204.5L210.5 204.6L212.5 204.4L214.5 203.9L216.5 203.6L218.5 203.3L220.5 203.0L222.5 202.9L224.5 203.1L226.5 203.6L228.5 204.2L230.5 205.0L232.5 205.8L234.5 206.2L236.5 206.2L238.5 205.9L240.5 205.7L242.5 205.5L244.5 205.4L246.5 205.4L248.5 205.4L250.5 205.3L252.5 205.2L254.5 205.1L256.5 204.9L258.5 204.6L260.5 204.4L262.5 204.1L264.5 203.2L266.5 202.2L268.5 200.8L270.5 199.2L272.5 198.6" stroke="#e68469" stroke-width="0.65" fill="none"/>
<path d="M60.5 221.2L62.5 220.1L64.5 218.0L66.5 216.4L68.5 215.3L70.5 214.8L72.5 214.7L74.5 214.6L76.5 214.5L78.5 214.5L80.5 214.6L82.5 214.9L84.5 215.1L86.5 215.3L88.5 215.3L90.5 215.2L92.5 215.0L94.5 214.8L96.5 214.7L98.5 214.8L100.5 215.1L102.5 215.6L104.5 216.2L106.5 216.8L108.5 217.4L110.5 217.9L112.5 218.1L114.5 218.0L116.5 217.7L118.5 217.5L120.5 217.3L122.5 217.1L124.5 217.1L126.5 217.0L128.5 216.6L130.5 217.5L132.5 218.4L134.5 218.7L136.5 219.0L138.5 219.1L140.5 219.2L142.5 219.1L144.5 218.8L146.5 218.2L148.5 217.5L150.5 216.8L152.5 216.3L154.5 216.1L156.5 215.5L158.5 215.0L160.5 214.3L162.5 213.5L164.5 212.7L166.5 211.9L168.5 211.1L170.5 210.3L172.5 209.7L174.5 209.4L176.5 209.5L178.5 209.9L180.5 210.7L182.5 211.5L184.5 212.2L186.5 212.8L188.5 213.3L190.5 213.5L192.5 213.4L194.5 213.1L196.5 212.6L198.5 211.8L200.5 210.9L202.5 209.8L204.5 209.2L206.5 208.5L208.5 208.2L210.5 208.1L212.5 208.3L214.5 208.6L216.5 209.1L218.5 209.7L220.5 210.3L222.5 210.4L224.5 210.3L226.5 210.0L228.5 209.8L230.5 209.9L232.5 210.0L234.5 210.0L236.5 209.9L238.5 209.7L240.5 209.5L242.5 209.3L244.5 209.2L246.5 209.2L248.5 209.1L250.5 209.0L252.5 208.8L254.5 208.6L256.5 208.3L258.5 208.2L260.5 208.2L262.5 208.5L264.5 208.7L266.5 209.1L268.5 210.1L270.5 211.6L272.5 212.0" stroke="#67aacf" stroke-width="0.65" fill="none"/>
<path d="M60.5 208.3L62.5 208.3L64.5 208.7L66.5 209.2L68.5 209.9L70.5 210.7L72.5 211.2L74.5 211.6L76.5 211.7L78.5 211.7L80.5 211.8L82.5 211.9L84.5 212.0L86.5 212.1L88.5 212.1L90.5 211.9L92.5 211.7L94.5 211.4L96.5 211.3L98.5 211.1L100.5 210.9L102.5 210.7L104.5 210.5L106.5 210.4L108.5 210.3L110.5 210.3L112.5 210.7L114.5 211.2L116.5 211.7L118.5 212.1L120.5 212.4L122.5 212.4L124.5 212.0L126.5 211.0L128.5 209.5L130.5 208.6L132.5 207.7L134.5 207.1L136.5 206.6L138.5 206.3L140.5 206.1L142.5 206.2L144.5 206.5L146.5 207.0L148.5 207.9L150.5 209.0L152.5 210.3L154.5 211.0L156.5 211.3L158.5 211.4L160.5 211.0L162.5 210.3L164.5 209.4L166.5 208.6L168.5 207.8L170.5 206.9L172.5 206.1L174.5 205.3L176.5 204.6L178.5 204.1L180.5 203.5L182.5 202.8L184.5 202.3L186.5 201.8L188.5 201.4L190.5 201.1L192.5 201.0L194.5 201.1L196.5 201.2L198.5 201.5L200.5 202.0L202.5 202.8L204.5 203.4L206.5 203.8L208.5 204.3L210.5 204.5L212.5 204.2L214.5 203.7L216.5 203.3L218.5 203.0L220.5 202.7L222.5 202.7L224.5 202.8L226.5 203.4L228.5 204.0L230.5 204.8L232.5 205.6L234.5 206.0L236.5 206.0L238.5 205.8L240.5 205.5L242.5 205.4L244.5 205.3L246.5 205.3L248.5 205.2L250.5 205.1L252.5 205.0L254.5 204.9L256.5 204.6L258.5 204.3L260.5 204.0L262.5 203.6L264.5 202.7L266.5 201.5L268.5 200.1L270.5 198.4L272.5 197.7" stroke="#df755d" stroke-width="0.65" fill="none"/>
<path d="M60.5 222.9L62.5 221.6L64.5 219.1L66.5 217.1L68.5 215.9L70.5 215.3L72.5 215.0L74.5 214.8L76.5 214.7L78.5 214.6L80.5 214.8L82.5 215.0L84.5 215.3L86.5 215.4L88.5 215.4L90.5 215.3L92.5 215.2L94.5 214.9L96.5 214.8L98.5 214.9L100.5 215.3L102.5 215.9L104.5 216.5L106.5 217.1L108.5 217.7L110.5 218.2L112.5 218.4L114.5 218.3L116.5 218.0L118.5 217.7L120.5 217.5L122.5 217.4L124.5 217.3L126.5 217.3L128.5 217.0L130.5 217.8L132.5 218.7L134.5 219.0L136.5 219.3L138.5 219.4L140.5 219.5L142.5 219.4L144.5 219.1L146.5 218.5L148.5 217.8L150.5 217.1L152.5 216.6L154.5 216.3L156.5 215.7L158.5 215.1L160.5 214.4L162.5 213.7L164.5 212.9L166.5 212.1L168.5 211.3L170.5 210.5L172.5 209.9L174.5 209.6L176.5 209.7L178.5 210.2L180.5 211.0L182.5 211.8L184.5 212.5L186.5 213.1L188.5 213.6L190.5 213.8L192.5 213.7L194.5 213.4L196.5 212.9L198.5 212.1L200.5 211.2L202.5 210.1L204.5 209.4L206.5 208.7L208.5 208.4L210.5 208.3L212.5 208.5L214.5 208.8L216.5 209.4L218.5 210.0L220.5 210.5L222.5 210.7L224.5 210.6L226.5 210.3L228.5 210.1L230.5 210.1L232.5 210.2L234.5 210.2L236.5 210.1L238.5 209.9L240.5 209.7L242.5 209.5L244.5 209.4L246.5 209.3L248.5 209.3L250.5 209.2L252.5 209.0L254.5 208.8L256.5 208.6L258.5 208.5L260.5 208.6L262.5 209.0L264.5 209.5L266.5 210.1L268.5 211.2L270.5 212.8L272.5 213.3" stroke="#559fc9" stroke-width="0.65" fill="none"/>
<path d="M60.5 206.8L62.5 207.0L64.5 207.7L66.5 208.4L68.5 209.3L70.5 210.3L72.5 210.9L74.5 211.4L76.5 211.6L78.5 211.6L80.5 211.7L82.5 211.8L84.5 211.9L86.5 212.0L88.5 211.9L90.5 211.8L92.5 211.5L94.5 211.3L96.5 211.1L98.5 210.9L100.5 210.7L102.5 210.5L104.5 210.3L106.5 210.1L108.5 210.0L110.5 210.1L112.5 210.4L114.5 210.9L116.5 211.5L118.5 211.8L120.5 212.2L122.5 212.3L124.5 211.7L126.5 210.7L128.5 209.3L130.5 208.3L132.5 207.5L134.5 206.9L136.5 206.4L138.5 206.1L140.5 205.9L142.5 205.9L144.5 206.2L146.5 206.8L148.5 207.7L150.5 208.8L152.5 210.0L154.5 210.8L156.5 211.2L158.5 211.3L160.5 210.9L162.5 210.1L164.5 209.3L166.5 208.5L168.5 207.6L170.5 206.8L172.5 205.9L174.5 205.1L176.5 204.4L178.5 203.9L180.5 203.3L182.5 202.6L184.5 202.0L186.5 201.5L188.5 201.1L190.5 200.9L192.5 200.8L194.5 200.8L196.5 201.0L198.5 201.3L200.5 201.7L202.5 202.5L204.5 203.2L206.5 203.6L208.5 204.2L210.5 204.3L212.5 204.0L214.5 203.5L216.5 203.1L218.5 202.8L220.5 202.5L222.5 202.4L224.5 202.6L226.5 203.1L228.5 203.8L230.5 204.6L232.5 205.4L234.5 205.9L236.5 205.9L238.5 205.6L240.5 205.4L242.5 205.2L244.5 205.1L246.5 205.1L248.5 205.0L250.5 204.9L252.5 204.9L254.5 204.7L256.5 204.4L258.5 204.0L260.5 203.6L262.5 203.1L264.5 202.1L266.5 200.9L268.5 199.3L270.5 197.6L272.5 196.9" stroke="#d86551" stroke-width="0.65" fill="none"/>
<path d="M60.5 224.7L62.5 223.1L64.5 220.2L66.5 217.9L68.5 216.5L70.5 215.7L72.5 215.3L74.5 215.0L76.5 214.8L78.5 214.8L80.5 214.9L82.5 215.1L84.5 215.4L86.5 215.6L88.5 215.6L90.5 215.5L92.5 215.3L94.5 215.1L96.5 215.0L98.5 215.1L100.5 215.5L102.5 216.1L104.5 216.8L106.5 217.4L108.5 218.0L110.5 218.5L112.5 218.6L114.5 218.6L116.5 218.3L118.5 218.0L120.5 217.7L122.5 217.6L124.5 217.5L126.5 217.5L128.5 217.4L130.5 218.2L132.5 219.0L134.5 219.3L136.5 219.6L138.5 219.7L140.5 219.8L142.5 219.7L144.5 219.4L146.5 218.8L148.5 218.1L150.5 217.4L152.5 216.9L154.5 216.5L156.5 215.9L158.5 215.3L160.5 214.6L162.5 213.8L164.5 213.0L166.5 212.2L168.5 211.4L170.5 210.6L172.5 210.0L174.5 209.7L176.5 209.9L178.5 210.4L180.5 211.2L182.5 212.1L184.5 212.8L186.5 213.4L188.5 213.9L190.5 214.1L192.5 214.0L194.5 213.7L196.5 213.2L198.5 212.4L200.5 211.5L202.5 210.4L204.5 209.7L206.5 208.9L208.5 208.6L210.5 208.4L212.5 208.6L214.5 209.1L216.5 209.7L218.5 210.3L220.5 210.8L222.5 211.0L224.5 210.9L226.5 210.6L228.5 210.4L230.5 210.4L232.5 210.4L234.5 210.4L236.5 210.2L238.5 210.1L240.5 209.9L242.5 209.7L244.5 209.6L246.5 209.5L248.5 209.5L250.5 209.4L252.5 209.2L254.5 209.1L256.5 208.9L258.5 208.8L260.5 209.0L262.5 209.6L264.5 210.2L266.5 211.0L268.5 212.3L270.5 214.1L272.5 214.7" stroke="#4494c3" stroke-width="0.65" fill="none"/>
<path d="M60.5 205.4L62.5 205.7L64.5 206.7L66.5 207.6L68.5 208.7L70.5 209.9L72.5 210.7L74.5 211.2L76.5 211.4L78.5 211.5L80.5 211.6L82.5 211.7L84.5 211.8L86.5 211.9L88.5 211.8L90.5 211.6L92.5 211.4L94.5 211.2L96.5 211.0L98.5 210.8L100.5 210.6L102.5 210.3L104.5 210.1L106.5 209.9L108.5 209.8L110.5 209.8L112.5 210.2L114.5 210.7L116.5 211.2L118.5 211.6L120.5 212.0L122.5 212.1L124.5 211.5L126.5 210.5L128.5 209.1L130.5 208.1L132.5 207.2L134.5 206.6L136.5 206.1L138.5 205.8L140.5 205.6L142.5 205.7L144.5 206.0L146.5 206.5L148.5 207.4L150.5 208.5L152.5 209.7L154.5 210.6L156.5 211.0L158.5 211.2L160.5 210.7L162.5 210.0L164.5 209.1L166.5 208.3L168.5 207.5L170.5 206.7L172.5 205.8L174.5 205.0L176.5 204.2L178.5 203.6L180.5 203.0L182.5 202.3L184.5 201.8L186.5 201.3L188.5 200.9L190.5 200.6L192.5 200.5L194.5 200.6L196.5 200.7L198.5 201.0L200.5 201.5L202.5 202.2L204.5 202.9L206.5 203.4L208.5 204.0L210.5 204.2L212.5 203.9L214.5 203.3L216.5 202.9L218.5 202.5L220.5 202.2L222.5 202.2L224.5 202.3L226.5 202.9L228.5 203.5L230.5 204.4L232.5 205.3L234.5 205.7L236.5 205.7L238.5 205.5L240.5 205.2L242.5 205.0L244.5 205.0L246.5 204.9L248.5 204.9L250.5 204.8L252.5 204.7L254.5 204.5L256.5 204.2L258.5 203.7L260.5 203.3L262.5 202.7L264.5 201.6L266.5 200.2L268.5 198.6L270.5 196.8L272.5 196.1" stroke="#d15548" stroke-width="0.65" fill="none"/>
<path d="M60.5 226.4L62.5 224.6L64.5 221.3L66.5 218.7L68.5 217.1L70.5 216.1L72.5 215.6L74.5 215.2L76.5 215.0L78.5 214.9L80.5 215.0L82.5 215.3L84.5 215.6L86.5 215.7L88.5 215.7L90.5 215.6L92.5 215.5L94.5 215.2L96.5 215.2L98.5 215.3L100.5 215.7L102.5 216.3L104.5 217.0L106.5 217.7L108.5 218.3L110.5 218.8L112.5 218.9L114.5 218.9L116.5 218.5L118.5 218.3L120.5 218.0L122.5 217.8L124.5 217.8L126.5 217.8L128.5 217.8L130.5 218.5L132.5 219.3L134.5 219.6L136.5 219.9L138.5 220.0L140.5 220.0L142.5 220.0L144.5 219.7L146.5 219.1L148.5 218.4L150.5 217.7L152.5 217.2L154.5 216.7L156.5 216.1L158.5 215.5L160.5 214.7L162.5 214.0L164.5 213.2L166.5 212.4L168.5 211.6L170.5 210.8L172.5 210.2L174.5 209.9L176.5 210.2L178.5 210.7L180.5 211.5L182.5 212.4L184.5 213.1L186.5 213.7L188.5 214.2L190.5 214.3L192.5 214.3L194.5 214.0L196.5 213.5L198.5 212.7L200.5 211.7L202.5 210.6L204.5 209.9L206.5 209.1L208.5 208.8L210.5 208.6L212.5 208.8L214.5 209.3L216.5 209.9L218.5 210.6L220.5 211.1L222.5 211.3L224.5 211.2L226.5 210.8L228.5 210.6L230.5 210.6L232.5 210.6L234.5 210.6L236.5 210.4L238.5 210.2L240.5 210.0L242.5 209.9L244.5 209.8L246.5 209.7L248.5 209.6L250.5 209.6L252.5 209.4L254.5 209.3L256.5 209.2L258.5 209.2L260.5 209.5L262.5 210.1L264.5 210.9L266.5 211.9L268.5 213.4L270.5 215.3L272.5 216.0" stroke="#3c8abe" stroke-width="0.65" fill="none"/>
<path d="M60.5 204.0L62.5 204.5L64.5 205.6L66.5 206.8L68.5 208.2L70.5 209.5L72.5 210.4L74.5 211.0L76.5 211.3L78.5 211.4L80.5 211.5L82.5 211.6L84.5 211.7L86.5 211.7L88.5 211.7L90.5 211.5L92.5 211.3L94.5 211.0L96.5 210.8L98.5 210.6L100.5 210.4L102.5 210.1L104.5 209.9L106.5 209.6L108.5 209.5L110.5 209.6L112.5 209.9L114.5 210.4L116.5 211.0L118.5 211.4L120.5 211.8L122.5 211.9L124.5 211.3L126.5 210.3L128.5 208.8L130.5 207.8L132.5 207.0L134.5 206.4L136.5 205.9L138.5 205.6L140.5 205.4L142.5 205.4L144.5 205.7L146.5 206.3L148.5 207.2L150.5 208.3L152.5 209.5L154.5 210.4L156.5 210.8L158.5 211.0L160.5 210.6L162.5 209.9L164.5 209.0L166.5 208.2L168.5 207.4L170.5 206.5L172.5 205.7L174.5 204.8L176.5 204.0L178.5 203.4L180.5 202.8L182.5 202.1L184.5 201.5L186.5 201.0L188.5 200.6L190.5 200.4L192.5 200.2L194.5 200.3L196.5 200.5L198.5 200.8L200.5 201.2L202.5 202.0L204.5 202.6L206.5 203.2L208.5 203.9L210.5 204.0L212.5 203.7L214.5 203.1L216.5 202.6L218.5 202.3L220.5 202.0L222.5 201.9L224.5 202.1L226.5 202.6L228.5 203.3L230.5 204.2L232.5 205.1L234.5 205.6L236.5 205.6L238.5 205.3L240.5 205.1L242.5 204.9L244.5 204.8L246.5 204.8L248.5 204.7L250.5 204.6L252.5 204.5L254.5 204.3L256.5 203.9L258.5 203.5L260.5 202.9L262.5 202.2L264.5 201.0L266.5 199.5L268.5 197.9L270.5 196.0L272.5 195.2" stroke="#c84540" stroke-width="0.65" fill="none"/>
<path d="M60.5 228.1L62.5 226.0L64.5 222.4L66.5 219.5L68.5 217.7L70.5 216.5L72.5 215.9L74.5 215.4L76.5 215.1L78.5 215.0L80.5 215.2L82.5 215.4L84.5 215.7L86.5 215.9L88.5 215.9L90.5 215.8L92.5 215.6L94.5 215.4L96.5 215.3L98.5 215.5L100.5 215.9L102.5 216.6L104.5 217.3L106.5 218.0L108.5 218.6L110.5 219.1L112.5 219.2L114.5 219.2L116.5 218.8L118.5 218.5L120.5 218.2L122.5 218.0L124.5 218.0L126.5 218.1L128.5 218.2L130.5 218.9L132.5 219.6L134.5 219.9L136.5 220.2L138.5 220.3L140.5 220.3L142.5 220.3L144.5 220.0L146.5 219.4L148.5 218.7L150.5 218.0L152.5 217.4L154.5 217.0L156.5 216.3L158.5 215.6L160.5 214.9L162.5 214.1L164.5 213.3L166.5 212.5L168.5 211.7L170.5 211.0L172.5 210.4L174.5 210.1L176.5 210.4L178.5 211.0L180.5 211.8L182.5 212.7L184.5 213.4L186.5 214.0L188.5 214.5L190.5 214.6L192.5 214.6L194.5 214.3L196.5 213.8L198.5 213.0L200.5 212.0L202.5 210.9L204.5 210.2L206.5 209.4L208.5 209.0L210.5 208.8L212.5 209.0L214.5 209.5L216.5 210.2L218.5 210.9L220.5 211.4L222.5 211.6L224.5 211.5L226.5 211.1L228.5 210.9L230.5 210.9L232.5 210.8L234.5 210.7L236.5 210.6L238.5 210.4L240.5 210.2L242.5 210.1L244.5 210.0L246.5 209.9L248.5 209.8L250.5 209.8L252.5 209.6L254.5 209.5L256.5 209.4L258.5 209.5L260.5 209.9L262.5 210.6L264.5 211.6L266.5 212.9L268.5 214.5L270.5 216.5L272.5 217.3" stroke="#3580b9" stroke-width="0.65" fill="none"/>
<path d="M60.5 202.5L62.5 203.2L64.5 204.6L66.5 206.0L68.5 207.6L70.5 209.1L72.5 210.2L74.5 210.9L76.5 211.2L78.5 211.2L80.5 211.4L82.5 211.4L84.5 211.5L86.5 211.6L88.5 211.5L90.5 211.4L92.5 211.1L94.5 210.9L96.5 210.7L98.5 210.5L100.5 210.2L102.5 209.9L104.5 209.6L106.5 209.4L108.5 209.3L110.5 209.3L112.5 209.7L114.5 210.2L116.5 210.7L118.5 211.2L120.5 211.6L122.5 211.7L124.5 211.1L126.5 210.0L128.5 208.6L130.5 207.6L132.5 206.7L134.5 206.1L136.5 205.6L138.5 205.3L140.5 205.1L142.5 205.2L144.5 205.5L146.5 206.0L148.5 206.9L150.5 208.0L152.5 209.2L154.5 210.1L156.5 210.7L158.5 210.9L160.5 210.5L162.5 209.7L164.5 208.9L166.5 208.1L168.5 207.2L170.5 206.4L172.5 205.5L174.5 204.6L176.5 203.8L178.5 203.2L180.5 202.5L182.5 201.8L184.5 201.3L186.5 200.8L188.5 200.4L190.5 200.1L192.5 200.0L194.5 200.1L196.5 200.2L198.5 200.5L200.5 201.0L202.5 201.7L204.5 202.4L206.5 203.0L208.5 203.7L210.5 203.9L212.5 203.5L214.5 202.9L216.5 202.4L218.5 202.0L220.5 201.7L222.5 201.7L224.5 201.8L226.5 202.4L228.5 203.1L230.5 204.0L232.5 204.9L234.5 205.4L236.5 205.4L238.5 205.2L240.5 204.9L242.5 204.7L244.5 204.6L246.5 204.6L248.5 204.6L250.5 204.5L252.5 204.3L254.5 204.1L256.5 203.7L258.5 203.2L260.5 202.6L262.5 201.7L264.5 200.5L266.5 198.9L268.5 197.1L270.5 195.2L272.5 194.4" stroke="#c03539" stroke-width="0.65" fill="none"/>
<path d="M60.5 229.8L62.5 227.5L64.5 223.5L66.5 220.3L68.5 218.3L70.5 217.0L72.5 216.2L74.5 215.6L76.5 215.3L78.5 215.2L80.5 215.3L82.5 215.6L84.5 215.8L86.5 216.0L88.5 216.0L90.5 216.0L92.5 215.8L94.5 215.6L96.5 215.5L98.5 215.6L100.5 216.1L102.5 216.8L104.5 217.6L106.5 218.3L108.5 218.9L110.5 219.4L112.5 219.5L114.5 219.4L116.5 219.1L118.5 218.8L120.5 218.4L122.5 218.2L124.5 218.3L126.5 218.4L128.5 218.6L130.5 219.2L132.5 219.9L134.5 220.2L136.5 220.5L138.5 220.6L140.5 220.6L142.5 220.6L144.5 220.3L146.5 219.7L148.5 219.0L150.5 218.3L152.5 217.7L154.5 217.2L156.5 216.5L158.5 215.8L160.5 215.1L162.5 214.3L164.5 213.5L166.5 212.7L168.5 211.9L170.5 211.1L172.5 210.5L174.5 210.3L176.5 210.6L178.5 211.3L180.5 212.1L182.5 213.0L184.5 213.7L186.5 214.3L188.5 214.7L190.5 214.9L192.5 214.9L194.5 214.6L196.5 214.1L198.5 213.3L200.5 212.3L202.5 211.2L204.5 210.4L206.5 209.6L208.5 209.1L210.5 209.0L212.5 209.2L214.5 209.8L216.5 210.5L218.5 211.1L220.5 211.7L222.5 211.9L224.5 211.8L226.5 211.4L228.5 211.2L230.5 211.1L232.5 211.0L234.5 210.9L236.5 210.8L238.5 210.6L240.5 210.4L242.5 210.3L244.5 210.2L246.5 210.1L248.5 210.0L250.5 209.9L252.5 209.9L254.5 209.8L256.5 209.7L258.5 209.8L260.5 210.3L262.5 211.2L264.5 212.3L266.5 213.8L268.5 215.6L270.5 217.8L272.5 218.7" stroke="#2d76b4" stroke-width="0.65" fill="none"/>
<path d="M60.5 201.1L62.5 201.9L64.5 203.6L66.5 205.3L68.5 207.0L70.5 208.7L72.5 209.9L74.5 210.7L76.5 211.0L78.5 211.1L80.5 211.2L82.5 211.3L84.5 211.4L86.5 211.5L88.5 211.4L90.5 211.2L92.5 211.0L94.5 210.8L96.5 210.6L98.5 210.3L100.5 210.0L102.5 209.7L104.5 209.4L106.5 209.1L108.5 209.0L110.5 209.1L112.5 209.4L114.5 209.9L116.5 210.5L118.5 211.0L120.5 211.4L122.5 211.5L124.5 210.9L126.5 209.8L128.5 208.4L130.5 207.3L132.5 206.5L134.5 205.9L136.5 205.4L138.5 205.1L140.5 204.9L142.5 204.9L144.5 205.2L146.5 205.8L148.5 206.7L150.5 207.8L152.5 209.0L154.5 209.9L156.5 210.5L158.5 210.7L160.5 210.3L162.5 209.6L164.5 208.7L166.5 207.9L168.5 207.1L170.5 206.3L172.5 205.4L174.5 204.5L176.5 203.7L178.5 202.9L180.5 202.3L182.5 201.6L184.5 201.0L186.5 200.5L188.5 200.1L190.5 199.9L192.5 199.8L194.5 199.8L196.5 200.0L198.5 200.3L200.5 200.7L202.5 201.4L204.5 202.1L206.5 202.8L208.5 203.5L210.5 203.7L212.5 203.4L214.5 202.7L216.5 202.2L218.5 201.8L220.5 201.5L222.5 201.4L224.5 201.6L226.5 202.1L228.5 202.8L230.5 203.8L232.5 204.7L234.5 205.2L236.5 205.3L238.5 205.0L240.5 204.7L242.5 204.6L244.5 204.5L246.5 204.5L248.5 204.4L250.5 204.3L252.5 204.1L254.5 203.9L256.5 203.4L258.5 202.9L260.5 202.2L262.5 201.3L264.5 199.9L266.5 198.2L268.5 196.4L270.5 194.4L272.5 193.6" stroke="#b82531" stroke-width="0.65" fill="none"/>
<path d="M60.5 231.6L62.5 229.0L64.5 224.5L66.5 221.1L68.5 218.9L70.5 217.4L72.5 216.5L74.5 215.8L76.5 215.4L78.5 215.3L80.5 215.4L82.5 215.7L84.5 216.0L86.5 216.2L88.5 216.2L90.5 216.1L92.5 215.9L94.5 215.7L96.5 215.7L98.5 215.8L100.5 216.3L102.5 217.0L104.5 217.8L106.5 218.6L108.5 219.2L110.5 219.7L112.5 219.8L114.5 219.7L116.5 219.4L118.5 219.0L120.5 218.7L122.5 218.5L124.5 218.5L126.5 218.7L128.5 218.9L130.5 219.6L132.5 220.2L134.5 220.5L136.5 220.8L138.5 220.9L140.5 220.9L142.5 220.8L144.5 220.5L146.5 220.0L148.5 219.3L150.5 218.6L152.5 218.0L154.5 217.4L156.5 216.7L158.5 216.0L160.5 215.2L162.5 214.4L164.5 213.6L166.5 212.8L168.5 212.1L170.5 211.3L172.5 210.7L174.5 210.5L176.5 210.9L178.5 211.5L180.5 212.4L182.5 213.3L184.5 214.0L186.5 214.6L188.5 215.0L190.5 215.2L192.5 215.2L194.5 214.9L196.5 214.4L198.5 213.6L200.5 212.6L202.5 211.5L204.5 210.6L206.5 209.8L208.5 209.3L210.5 209.1L212.5 209.4L214.5 210.0L216.5 210.8L218.5 211.4L220.5 212.0L222.5 212.2L224.5 212.1L226.5 211.7L228.5 211.5L230.5 211.3L232.5 211.2L234.5 211.1L236.5 211.0L238.5 210.8L240.5 210.6L242.5 210.5L244.5 210.3L246.5 210.3L248.5 210.2L250.5 210.1L252.5 210.1L254.5 210.0L256.5 210.0L258.5 210.2L260.5 210.7L262.5 211.7L264.5 213.0L266.5 214.7L268.5 216.7L270.5 219.0L272.5 220.0" stroke="#266daf" stroke-width="0.65" fill="none"/>
<path d="M60.5 199.6L62.5 200.6L64.5 202.6L66.5 204.5L68.5 206.5L70.5 208.3L72.5 209.7L74.5 210.5L76.5 210.9L78.5 211.0L80.5 211.1L82.5 211.2L84.5 211.3L86.5 211.3L88.5 211.3L90.5 211.1L92.5 210.9L94.5 210.6L96.5 210.4L98.5 210.2L100.5 209.9L102.5 209.5L104.5 209.2L106.5 208.9L108.5 208.8L110.5 208.8L112.5 209.2L114.5 209.7L116.5 210.3L118.5 210.7L120.5 211.2L122.5 211.3L124.5 210.7L126.5 209.6L128.5 208.1L130.5 207.1L132.5 206.2L134.5 205.6L136.5 205.1L138.5 204.8L140.5 204.6L142.5 204.7L144.5 205.0L146.5 205.5L148.5 206.4L150.5 207.5L152.5 208.7L154.5 209.7L156.5 210.3L158.5 210.6L160.5 210.2L162.5 209.5L164.5 208.6L166.5 207.8L168.5 207.0L170.5 206.1L172.5 205.2L174.5 204.3L176.5 203.5L178.5 202.7L180.5 202.0L182.5 201.3L184.5 200.8L186.5 200.3L188.5 199.9L190.5 199.6L192.5 199.5L194.5 199.6L196.5 199.7L198.5 200.0L200.5 200.5L202.5 201.1L204.5 201.9L206.5 202.6L208.5 203.4L210.5 203.6L212.5 203.2L214.5 202.5L216.5 201.9L218.5 201.5L220.5 201.2L222.5 201.2L224.5 201.3L226.5 201.9L228.5 202.6L230.5 203.6L232.5 204.6L234.5 205.1L236.5 205.1L238.5 204.9L240.5 204.6L242.5 204.4L244.5 204.3L246.5 204.3L248.5 204.3L250.5 204.1L252.5 204.0L254.5 203.7L256.5 203.2L258.5 202.6L260.5 201.8L262.5 200.8L264.5 199.3L266.5 197.5L268.5 195.6L270.5 193.6L272.5 192.7" stroke="#ae172a" stroke-width="0.65" fill="none"/>
<path d="M60.5 233.3L62.5 230.5L64.5 225.6L66.5 221.9L68.5 219.4L70.5 217.8L72.5 216.8L74.5 216.0L76.5 215.6L78.5 215.4L80.5 215.6L82.5 215.8L84.5 216.1L86.5 216.3L88.5 216.3L90.5 216.3L92.5 216.1L94.5 215.9L96.5 215.8L98.5 216.0L100.5 216.5L102.5 217.3L104.5 218.1L106.5 218.9L108.5 219.5L110.5 219.9L112.5 220.1L114.5 220.0L116.5 219.7L118.5 219.3L120.5 218.9L122.5 218.7L124.5 218.7L126.5 219.0L128.5 219.3L130.5 219.9L132.5 220.5L134.5 220.8L136.5 221.1L138.5 221.2L140.5 221.2L142.5 221.1L144.5 220.8L146.5 220.3L148.5 219.6L150.5 218.9L152.5 218.2L154.5 217.6L156.5 216.9L158.5 216.1L160.5 215.4L162.5 214.6L164.5 213.8L166.5 213.0L168.5 212.2L170.5 211.4L172.5 210.9L174.5 210.7L176.5 211.1L178.5 211.8L180.5 212.7L182.5 213.6L184.5 214.3L186.5 214.9L188.5 215.3L190.5 215.5L192.5 215.5L194.5 215.1L196.5 214.7L198.5 213.9L200.5 212.9L202.5 211.8L204.5 210.9L206.5 210.0L208.5 209.5L210.5 209.3L212.5 209.6L214.5 210.2L216.5 211.0L218.5 211.7L220.5 212.3L222.5 212.5L224.5 212.4L226.5 212.0L228.5 211.7L230.5 211.6L232.5 211.4L234.5 211.3L236.5 211.1L238.5 211.0L240.5 210.8L242.5 210.6L244.5 210.5L246.5 210.4L248.5 210.4L250.5 210.3L252.5 210.3L254.5 210.3L256.5 210.3L258.5 210.5L260.5 211.1L262.5 212.3L264.5 213.8L266.5 215.7L268.5 217.8L270.5 220.2L272.5 221.3" stroke="#1f62a7" stroke-width="0.65" fill="none"/>
<path d="M60.5 198.2L62.5 199.3L64.5 201.6L66.5 203.7L68.5 205.9L70.5 207.9L72.5 209.4L74.5 210.3L76.5 210.8L78.5 210.9L80.5 211.0L82.5 211.1L84.5 211.2L86.5 211.2L88.5 211.2L90.5 211.0L92.5 210.7L94.5 210.5L96.5 210.3L98.5 210.0L100.5 209.7L102.5 209.3L104.5 208.9L106.5 208.6L108.5 208.5L110.5 208.6L112.5 208.9L114.5 209.4L116.5 210.0L118.5 210.5L120.5 211.0L122.5 211.1L124.5 210.5L126.5 209.3L128.5 207.9L130.5 206.8L132.5 206.0L134.5 205.4L136.5 204.9L138.5 204.6L140.5 204.4L142.5 204.4L144.5 204.7L146.5 205.3L148.5 206.2L150.5 207.3L152.5 208.4L154.5 209.5L156.5 210.2L158.5 210.4L160.5 210.1L162.5 209.3L164.5 208.5L166.5 207.7L168.5 206.8L170.5 206.0L172.5 205.1L174.5 204.1L176.5 203.3L178.5 202.5L180.5 201.8L182.5 201.1L184.5 200.5L186.5 200.0L188.5 199.6L190.5 199.4L192.5 199.2L194.5 199.3L196.5 199.5L198.5 199.8L200.5 200.2L202.5 200.8L204.5 201.6L206.5 202.4L208.5 203.2L210.5 203.4L212.5 203.1L214.5 202.3L216.5 201.7L218.5 201.3L220.5 201.0L222.5 200.9L224.5 201.1L226.5 201.6L228.5 202.4L230.5 203.4L232.5 204.4L234.5 204.9L236.5 205.0L238.5 204.7L240.5 204.4L242.5 204.2L244.5 204.2L246.5 204.2L248.5 204.1L250.5 204.0L252.5 203.8L254.5 203.5L256.5 203.0L258.5 202.3L260.5 201.5L262.5 200.3L264.5 198.8L266.5 196.9L268.5 194.9L270.5 192.8L272.5 191.9" stroke="#9d1128" stroke-width="0.65" fill="none"/>
<path d="M60.5 235.0L62.5 232.0L64.5 226.7L66.5 222.7L68.5 220.0L70.5 218.2L72.5 217.1L74.5 216.2L76.5 215.8L78.5 215.5L80.5 215.7L82.5 216.0L84.5 216.3L86.5 216.5L88.5 216.5L90.5 216.4L92.5 216.2L94.5 216.0L96.5 216.0L98.5 216.1L100.5 216.7L102.5 217.5L104.5 218.4L106.5 219.2L108.5 219.8L110.5 220.2L112.5 220.4L114.5 220.3L116.5 220.0L118.5 219.5L120.5 219.1L122.5 218.9L124.5 219.0L126.5 219.3L128.5 219.7L130.5 220.3L132.5 220.7L134.5 221.1L136.5 221.3L138.5 221.5L140.5 221.5L142.5 221.4L144.5 221.1L146.5 220.6L148.5 219.9L150.5 219.2L152.5 218.5L154.5 217.8L156.5 217.1L158.5 216.3L160.5 215.5L162.5 214.7L164.5 213.9L166.5 213.1L168.5 212.4L170.5 211.6L172.5 211.0L174.5 210.9L176.5 211.3L178.5 212.1L180.5 213.0L182.5 213.9L184.5 214.6L186.5 215.2L188.5 215.6L190.5 215.8L192.5 215.8L194.5 215.4L196.5 214.9L198.5 214.2L200.5 213.2L202.5 212.1L204.5 211.1L206.5 210.2L208.5 209.7L210.5 209.5L212.5 209.8L214.5 210.4L216.5 211.3L218.5 212.0L220.5 212.6L222.5 212.8L224.5 212.7L226.5 212.3L228.5 212.0L230.5 211.8L232.5 211.6L234.5 211.5L236.5 211.3L238.5 211.1L240.5 211.0L242.5 210.8L244.5 210.7L246.5 210.6L248.5 210.6L250.5 210.5L252.5 210.5L254.5 210.5L256.5 210.5L258.5 210.8L260.5 211.6L262.5 212.8L264.5 214.5L266.5 216.6L268.5 218.9L270.5 221.5L272.5 222.7" stroke="#195797" stroke-width="0.65" fill="none"/>
<path d="M60.5 196.8L62.5 198.0L64.5 200.6L66.5 202.9L68.5 205.3L70.5 207.5L72.5 209.2L74.5 210.1L76.5 210.6L78.5 210.8L80.5 210.9L82.5 211.0L84.5 211.0L86.5 211.1L88.5 211.0L90.5 210.8L92.5 210.6L94.5 210.4L96.5 210.1L98.5 209.9L100.5 209.5L102.5 209.1L104.5 208.7L106.5 208.4L108.5 208.3L110.5 208.3L112.5 208.7L114.5 209.2L116.5 209.8L118.5 210.3L120.5 210.8L122.5 210.9L124.5 210.3L126.5 209.1L128.5 207.7L130.5 206.6L132.5 205.7L134.5 205.1L136.5 204.6L138.5 204.3L140.5 204.1L142.5 204.2L144.5 204.5L146.5 205.0L148.5 205.9L150.5 207.0L152.5 208.2L154.5 209.2L156.5 210.0L158.5 210.3L160.5 210.0L162.5 209.2L164.5 208.3L166.5 207.5L168.5 206.7L170.5 205.8L172.5 204.9L174.5 204.0L176.5 203.1L178.5 202.2L180.5 201.5L182.5 200.8L184.5 200.3L186.5 199.8L188.5 199.4L190.5 199.1L192.5 199.0L194.5 199.1L196.5 199.2L198.5 199.5L200.5 200.0L202.5 200.6L204.5 201.3L206.5 202.2L208.5 203.1L210.5 203.3L212.5 202.9L214.5 202.1L216.5 201.5L218.5 201.0L220.5 200.7L222.5 200.7L224.5 200.8L226.5 201.4L228.5 202.1L230.5 203.2L232.5 204.2L234.5 204.8L236.5 204.8L238.5 204.5L240.5 204.3L242.5 204.1L244.5 204.0L246.5 204.0L248.5 203.9L250.5 203.8L252.5 203.6L254.5 203.3L256.5 202.7L258.5 202.0L260.5 201.1L262.5 199.9L264.5 198.2L266.5 196.2L268.5 194.1L270.5 192.0L272.5 191.1" stroke="#8c0c25" stroke-width="1.25" fill="none"/>
<path d="M60.5 236.7L62.5 233.5L64.5 227.8L66.5 223.4L68.5 220.6L70.5 218.7L72.5 217.4L74.5 216.4L76.5 215.9L78.5 215.7L80.5 215.8L82.5 216.1L84.5 216.4L86.5 216.6L88.5 216.6L90.5 216.6L92.5 216.4L94.5 216.2L96.5 216.1L98.5 216.3L100.5 216.9L102.5 217.7L104.5 218.7L106.5 219.5L108.5 220.1L110.5 220.5L112.5 220.7L114.5 220.6L116.5 220.2L118.5 219.8L120.5 219.4L122.5 219.1L124.5 219.2L126.5 219.6L128.5 220.1L130.5 220.6L132.5 221.0L134.5 221.4L136.5 221.6L138.5 221.8L140.5 221.8L142.5 221.7L144.5 221.4L146.5 220.9L148.5 220.1L150.5 219.5L152.5 218.8L154.5 218.0L156.5 217.3L158.5 216.5L160.5 215.7L162.5 214.9L164.5 214.1L166.5 213.3L168.5 212.5L170.5 211.8L172.5 211.2L174.5 211.1L176.5 211.5L178.5 212.3L180.5 213.3L182.5 214.1L184.5 214.9L186.5 215.5L188.5 215.9L190.5 216.1L192.5 216.1L194.5 215.7L196.5 215.2L198.5 214.5L200.5 213.5L202.5 212.4L204.5 211.4L206.5 210.5L208.5 209.9L210.5 209.6L212.5 210.0L214.5 210.7L216.5 211.6L218.5 212.3L220.5 212.9L222.5 213.1L224.5 212.9L226.5 212.6L228.5 212.3L230.5 212.0L232.5 211.8L234.5 211.7L236.5 211.5L238.5 211.3L240.5 211.2L242.5 211.0L244.5 210.9L246.5 210.8L248.5 210.7L250.5 210.7L252.5 210.7L254.5 210.7L256.5 210.8L258.5 211.2L260.5 212.0L262.5 213.4L264.5 215.2L266.5 217.5L268.5 220.0L270.5 222.7L272.5 224.0" stroke="#134b86" stroke-width="1.25" fill="none"/><defs><linearGradient id="f30a" gradientUnits="userSpaceOnUse" x1="60.5" y1="0" x2="72.0" y2="0"><stop offset="0" stop-color="#fff" stop-opacity="0.35"/><stop offset="1" stop-color="#fff" stop-opacity="0.00"/></linearGradient></defs><rect x="60.5" y="191.0" width="11.5" height="25.0" fill="url(#f30a)"/></g>
<g clip-path="url(#c31)"><path d="M304.5 191.6L306.5 191.5L308.5 191.5L310.5 191.5L312.5 192.3L314.5 193.7L316.5 195.6L318.5 197.3L320.5 199.0L322.5 200.8L324.5 202.6L326.5 204.2L328.5 205.6L330.5 207.1L332.5 208.7L334.5 210.2L336.5 211.3L338.5 212.1L340.5 212.5L342.5 212.7L344.5 212.8L346.5 213.0L348.5 213.2L350.5 213.4L352.5 213.6L354.5 213.8L356.5 213.9L358.5 213.9L360.5 213.9L362.5 213.7L364.5 213.1L366.5 212.4L368.5 212.4L370.5 212.4L372.5 212.2L374.5 212.0L376.5 211.9L378.5 211.9L380.5 211.9L382.5 212.1L384.5 212.4L386.5 212.8L388.5 213.3L390.5 213.6L392.5 213.8L394.5 214.0L396.5 214.0L398.5 213.6L400.5 213.1L402.5 212.5L404.5 211.9L406.5 211.2L408.5 210.6L410.5 210.1L412.5 209.7L414.5 209.2L416.5 208.8L418.5 208.4L420.5 208.0L422.5 207.5L424.5 207.1L426.5 206.8L428.5 206.5L430.5 206.3L432.5 206.1L434.5 206.0L436.5 206.0L438.5 206.0L440.5 206.0L442.5 206.0L444.5 206.1L446.5 206.3L448.5 206.3L450.5 206.3L452.5 206.2L454.5 206.2L456.5 206.0L458.5 205.9L460.5 205.7L462.5 205.6L464.5 205.2L466.5 205.5L468.5 205.6L470.5 205.7L472.5 205.9L474.5 206.2L476.5 206.8L478.5 207.3L480.5 207.9L482.5 208.5L484.5 209.3L486.5 210.4L488.5 211.7L490.5 213.2L492.5 214.8L494.5 216.3L496.5 217.7L498.5 218.9L500.5 220.1L502.5 222.0L504.5 224.0L506.5 225.6L508.5 226.8L510.5 227.4L512.5 227.8L514.5 228.0L516.5 228.1" stroke="#f8f0ec" stroke-width="0.70" fill="none"/>
<path d="M304.5 191.7L306.5 191.6L308.5 191.6L310.5 191.6L312.5 192.5L314.5 194.0L316.5 196.6L318.5 199.1L320.5 200.9L322.5 202.8L324.5 204.5L326.5 206.0L328.5 207.5L330.5 208.9L332.5 210.2L334.5 211.5L336.5 212.5L338.5 213.3L340.5 213.9L342.5 214.4L344.5 214.7L346.5 215.0L348.5 215.2L350.5 215.3L352.5 215.4L354.5 215.4L356.5 215.3L358.5 215.2L360.5 215.0L362.5 214.9L364.5 214.3L366.5 213.7L368.5 214.4L370.5 215.0L372.5 215.1L374.5 215.1L376.5 215.1L378.5 215.1L380.5 215.1L382.5 215.2L384.5 215.2L386.5 215.3L388.5 215.3L390.5 215.2L392.5 215.0L394.5 214.7L396.5 214.3L398.5 213.9L400.5 213.4L402.5 212.8L404.5 212.1L406.5 211.4L408.5 210.8L410.5 210.3L412.5 209.9L414.5 209.4L416.5 209.0L418.5 208.6L420.5 208.2L422.5 207.7L424.5 207.3L426.5 207.0L428.5 206.8L430.5 206.7L432.5 207.1L434.5 207.6L436.5 208.0L438.5 208.4L440.5 208.8L442.5 209.1L444.5 209.3L446.5 209.4L448.5 209.3L450.5 209.0L452.5 208.6L454.5 208.1L456.5 207.4L458.5 206.8L460.5 206.3L462.5 205.9L464.5 205.5L466.5 205.8L468.5 206.1L470.5 206.6L472.5 207.3L474.5 208.0L476.5 208.6L478.5 209.0L480.5 209.2L482.5 209.4L484.5 209.9L486.5 210.9L488.5 212.3L490.5 213.9L492.5 215.6L494.5 217.2L496.5 218.6L498.5 219.9L500.5 221.0L502.5 222.5L504.5 224.3L506.5 225.9L508.5 226.9L510.5 227.4L512.5 227.9L514.5 228.1L516.5 228.1" stroke="#eef3f5" stroke-width="0.70" fill="none"/>
<path d="M304.5 191.6L306.5 191.5L308.5 191.5L310.5 191.5L312.5 192.2L314.5 193.4L316.5 194.6L318.5 195.6L320.5 197.1L322.5 198.8L324.5 200.8L326.5 202.3L328.5 203.8L330.5 205.4L332.5 207.2L334.5 209.0L336.5 210.2L338.5 210.9L340.5 211.1L342.5 211.0L344.5 210.8L346.5 210.9L348.5 211.1L350.5 211.4L352.5 211.8L354.5 212.2L356.5 212.5L358.5 212.7L360.5 212.7L362.5 212.4L364.5 211.9L366.5 211.2L368.5 210.5L370.5 209.8L372.5 209.3L374.5 208.9L376.5 208.7L378.5 208.6L380.5 208.7L382.5 209.0L384.5 209.6L386.5 210.3L388.5 211.2L390.5 212.0L392.5 212.7L394.5 213.3L396.5 213.7L398.5 213.4L400.5 212.9L402.5 212.3L404.5 211.7L406.5 211.0L408.5 210.4L410.5 209.9L412.5 209.5L414.5 209.0L416.5 208.6L418.5 208.2L420.5 207.8L422.5 207.3L424.5 206.9L426.5 206.5L428.5 206.3L430.5 205.8L432.5 205.1L434.5 204.4L436.5 203.9L438.5 203.5L440.5 203.2L442.5 202.9L444.5 202.9L446.5 203.1L448.5 203.4L450.5 203.6L452.5 203.9L454.5 204.4L456.5 204.6L458.5 204.9L460.5 205.2L462.5 205.3L464.5 204.9L466.5 205.2L468.5 205.0L470.5 204.8L472.5 204.5L474.5 204.5L476.5 204.9L478.5 205.6L480.5 206.5L482.5 207.5L484.5 208.6L486.5 209.8L488.5 211.2L490.5 212.6L492.5 213.9L494.5 215.3L496.5 216.7L498.5 218.0L500.5 219.2L502.5 221.5L504.5 223.7L506.5 225.4L508.5 226.7L510.5 227.3L512.5 227.7L514.5 227.9L516.5 228.0" stroke="#f6b090" stroke-width="0.70" fill="none"/>
<path d="M304.5 191.7L306.5 191.6L308.5 191.6L310.5 191.7L312.5 192.6L314.5 194.3L316.5 197.6L318.5 200.9L320.5 202.8L322.5 204.8L324.5 206.4L326.5 207.9L328.5 209.3L330.5 210.6L332.5 211.7L334.5 212.7L336.5 213.7L338.5 214.6L340.5 215.4L342.5 216.1L344.5 216.7L346.5 217.0L348.5 217.2L350.5 217.3L352.5 217.2L354.5 216.9L356.5 216.7L358.5 216.4L360.5 216.2L362.5 216.2L364.5 215.6L366.5 215.0L368.5 216.4L370.5 217.6L372.5 217.9L374.5 218.2L376.5 218.4L378.5 218.4L380.5 218.4L382.5 218.2L384.5 218.1L386.5 217.8L388.5 217.4L390.5 216.8L392.5 216.1L394.5 215.3L396.5 214.6L398.5 214.1L400.5 213.6L402.5 213.0L404.5 212.3L406.5 211.6L408.5 211.0L410.5 210.5L412.5 210.1L414.5 209.6L416.5 209.2L418.5 208.8L420.5 208.4L422.5 207.9L424.5 207.6L426.5 207.3L428.5 207.1L430.5 207.2L432.5 208.1L434.5 209.1L436.5 210.0L438.5 210.9L440.5 211.6L442.5 212.2L444.5 212.5L446.5 212.6L448.5 212.3L450.5 211.7L452.5 210.9L454.5 209.9L456.5 208.8L458.5 207.7L460.5 206.8L462.5 206.2L464.5 205.8L466.5 206.1L468.5 206.7L470.5 207.5L472.5 208.6L474.5 209.7L476.5 210.5L478.5 210.7L480.5 210.6L482.5 210.4L484.5 210.6L486.5 211.4L488.5 212.9L490.5 214.6L492.5 216.4L494.5 218.1L496.5 219.6L498.5 220.8L500.5 221.9L502.5 223.1L504.5 224.7L506.5 226.1L508.5 227.1L510.5 227.5L512.5 227.9L514.5 228.1L516.5 228.2" stroke="#98c8e0" stroke-width="0.70" fill="none"/>
<path d="M304.5 191.5L306.5 191.4L308.5 191.4L310.5 191.4L312.5 192.0L314.5 193.1L316.5 194.2L318.5 195.1L320.5 196.5L322.5 198.1L324.5 199.9L326.5 201.5L328.5 203.0L330.5 204.6L332.5 206.3L334.5 208.1L336.5 209.4L338.5 210.2L340.5 210.4L342.5 210.4L344.5 210.2L346.5 210.4L348.5 210.6L350.5 210.8L352.5 211.2L354.5 211.6L356.5 212.0L358.5 212.1L360.5 212.1L362.5 211.8L364.5 211.3L366.5 210.6L368.5 209.9L370.5 209.2L372.5 208.7L374.5 208.3L376.5 208.1L378.5 208.0L380.5 208.1L382.5 208.4L384.5 209.0L386.5 209.7L388.5 210.6L390.5 211.4L392.5 212.1L394.5 212.7L396.5 213.1L398.5 212.8L400.5 212.4L402.5 211.8L404.5 211.2L406.5 210.5L408.5 209.9L410.5 209.5L412.5 209.0L414.5 208.6L416.5 208.2L418.5 207.8L420.5 207.3L422.5 206.8L424.5 206.4L426.5 206.0L428.5 205.6L430.5 205.1L432.5 204.4L434.5 203.8L436.5 203.2L438.5 202.8L440.5 202.5L442.5 202.2L444.5 202.2L446.5 202.4L448.5 202.7L450.5 202.9L452.5 203.2L454.5 203.7L456.5 203.9L458.5 204.2L460.5 204.5L462.5 204.6L464.5 204.3L466.5 204.5L468.5 204.3L470.5 204.1L472.5 203.8L474.5 203.8L476.5 204.2L478.5 204.8L480.5 205.7L482.5 206.6L484.5 207.7L486.5 208.9L488.5 210.1L490.5 211.5L492.5 212.8L494.5 214.1L496.5 215.4L498.5 216.7L500.5 217.9L502.5 220.3L504.5 222.7L506.5 224.8L508.5 226.4L510.5 227.1L512.5 227.6L514.5 227.9L516.5 228.0" stroke="#ee9878" stroke-width="0.70" fill="none"/>
<path d="M304.5 191.8L306.5 191.8L308.5 191.8L310.5 191.8L312.5 193.0L314.5 195.1L316.5 198.7L318.5 202.0L320.5 203.9L322.5 205.8L324.5 207.4L326.5 208.8L328.5 210.2L330.5 211.4L332.5 212.5L334.5 213.5L336.5 214.4L338.5 215.3L340.5 216.0L342.5 216.7L344.5 217.3L346.5 217.6L348.5 217.8L350.5 217.8L352.5 217.7L354.5 217.4L356.5 217.2L358.5 216.9L360.5 216.7L362.5 216.7L364.5 216.2L366.5 215.8L368.5 217.0L370.5 218.1L372.5 218.4L374.5 218.7L376.5 218.8L378.5 218.9L380.5 218.8L382.5 218.7L384.5 218.6L386.5 218.3L388.5 217.9L390.5 217.3L392.5 216.6L394.5 215.8L396.5 215.1L398.5 214.6L400.5 214.0L402.5 213.3L404.5 212.6L406.5 211.9L408.5 211.3L410.5 210.8L412.5 210.4L414.5 210.0L416.5 209.6L418.5 209.1L420.5 208.7L422.5 208.3L424.5 207.9L426.5 207.7L428.5 207.5L430.5 207.7L432.5 208.6L434.5 209.6L436.5 210.5L438.5 211.3L440.5 212.1L442.5 212.6L444.5 213.0L446.5 213.0L448.5 212.7L450.5 212.2L452.5 211.4L454.5 210.4L456.5 209.2L458.5 208.2L460.5 207.3L462.5 206.6L464.5 206.3L466.5 206.6L468.5 207.1L470.5 207.9L472.5 209.1L474.5 210.2L476.5 210.9L478.5 211.1L480.5 211.0L482.5 210.8L484.5 211.0L486.5 211.8L488.5 213.3L490.5 215.0L492.5 216.9L494.5 218.6L496.5 220.0L498.5 221.2L500.5 222.4L502.5 223.5L504.5 225.0L506.5 226.4L508.5 227.3L510.5 227.8L512.5 228.1L514.5 228.3L516.5 228.4" stroke="#7db7d7" stroke-width="0.70" fill="none"/>
<path d="M304.5 191.4L306.5 191.4L308.5 191.3L310.5 191.3L312.5 191.9L314.5 192.8L316.5 193.8L318.5 194.6L320.5 195.9L322.5 197.4L324.5 199.1L326.5 200.6L328.5 202.1L330.5 203.7L332.5 205.4L334.5 207.3L336.5 208.6L338.5 209.4L340.5 209.7L342.5 209.7L344.5 209.7L346.5 209.8L348.5 210.0L350.5 210.3L352.5 210.6L354.5 211.0L356.5 211.4L358.5 211.5L360.5 211.5L362.5 211.2L364.5 210.7L366.5 210.0L368.5 209.3L370.5 208.6L372.5 208.1L374.5 207.7L376.5 207.4L378.5 207.4L380.5 207.5L382.5 207.8L384.5 208.3L386.5 209.1L388.5 209.9L390.5 210.7L392.5 211.4L394.5 212.1L396.5 212.4L398.5 212.2L400.5 211.9L402.5 211.3L404.5 210.7L406.5 210.1L408.5 209.5L410.5 209.0L412.5 208.6L414.5 208.1L416.5 207.7L418.5 207.3L420.5 206.9L422.5 206.4L424.5 205.9L426.5 205.4L428.5 205.0L430.5 204.5L432.5 203.7L434.5 203.1L436.5 202.5L438.5 202.1L440.5 201.8L442.5 201.5L444.5 201.5L446.5 201.7L448.5 202.0L450.5 202.2L452.5 202.4L454.5 202.9L456.5 203.2L458.5 203.5L460.5 203.8L462.5 203.9L464.5 203.6L466.5 203.8L468.5 203.6L470.5 203.3L472.5 203.1L474.5 203.0L476.5 203.4L478.5 204.0L480.5 204.8L482.5 205.7L484.5 206.8L486.5 207.9L488.5 209.1L490.5 210.4L492.5 211.7L494.5 212.9L496.5 214.2L498.5 215.5L500.5 216.7L502.5 219.1L504.5 221.8L506.5 224.2L508.5 226.1L510.5 227.0L512.5 227.5L514.5 227.8L516.5 227.9" stroke="#e37e64" stroke-width="0.70" fill="none"/>
<path d="M304.5 191.9L306.5 191.9L308.5 191.9L310.5 192.0L312.5 193.4L314.5 195.8L316.5 199.8L318.5 203.1L320.5 205.0L322.5 206.9L324.5 208.4L326.5 209.8L328.5 211.1L330.5 212.3L332.5 213.3L334.5 214.2L336.5 215.1L338.5 215.9L340.5 216.7L342.5 217.3L344.5 217.8L346.5 218.1L348.5 218.3L350.5 218.3L352.5 218.2L354.5 218.0L356.5 217.7L358.5 217.4L360.5 217.2L362.5 217.2L364.5 216.8L366.5 216.5L368.5 217.6L370.5 218.6L372.5 218.9L374.5 219.2L376.5 219.3L378.5 219.4L380.5 219.3L382.5 219.2L384.5 219.0L386.5 218.8L388.5 218.4L390.5 217.8L392.5 217.1L394.5 216.3L396.5 215.5L398.5 215.0L400.5 214.4L402.5 213.7L404.5 213.0L406.5 212.3L408.5 211.7L410.5 211.2L412.5 210.7L414.5 210.3L416.5 209.9L418.5 209.5L420.5 209.0L422.5 208.6L424.5 208.3L426.5 208.0L428.5 208.0L430.5 208.2L432.5 209.1L434.5 210.0L436.5 211.0L438.5 211.8L440.5 212.5L442.5 213.1L444.5 213.4L446.5 213.5L448.5 213.2L450.5 212.6L452.5 211.8L454.5 210.8L456.5 209.7L458.5 208.7L460.5 207.7L462.5 207.1L464.5 206.8L466.5 207.0L468.5 207.6L470.5 208.4L472.5 209.5L474.5 210.6L476.5 211.3L478.5 211.6L480.5 211.4L482.5 211.3L484.5 211.5L486.5 212.3L488.5 213.8L490.5 215.5L492.5 217.3L494.5 219.0L496.5 220.5L498.5 221.7L500.5 222.8L502.5 223.9L504.5 225.4L506.5 226.6L508.5 227.5L510.5 228.0L512.5 228.3L514.5 228.5L516.5 228.5" stroke="#5fa5cd" stroke-width="0.70" fill="none"/>
<path d="M304.5 191.3L306.5 191.3L308.5 191.3L310.5 191.3L312.5 191.7L314.5 192.5L316.5 193.4L318.5 194.2L320.5 195.3L322.5 196.7L324.5 198.3L326.5 199.7L328.5 201.3L330.5 202.9L332.5 204.6L334.5 206.4L336.5 207.7L338.5 208.6L340.5 209.0L342.5 209.1L344.5 209.1L346.5 209.2L348.5 209.4L350.5 209.7L352.5 210.0L354.5 210.4L356.5 210.8L358.5 211.0L360.5 210.9L362.5 210.6L364.5 210.1L366.5 209.4L368.5 208.7L370.5 208.0L372.5 207.5L374.5 207.1L376.5 206.8L378.5 206.8L380.5 206.9L382.5 207.2L384.5 207.7L386.5 208.5L388.5 209.3L390.5 210.1L392.5 210.8L394.5 211.4L396.5 211.8L398.5 211.7L400.5 211.3L402.5 210.9L404.5 210.3L406.5 209.6L408.5 209.1L410.5 208.6L412.5 208.1L414.5 207.7L416.5 207.3L418.5 206.9L420.5 206.4L422.5 205.9L424.5 205.4L426.5 204.9L428.5 204.4L430.5 203.8L432.5 203.0L434.5 202.4L436.5 201.9L438.5 201.4L440.5 201.1L442.5 200.8L444.5 200.8L446.5 201.0L448.5 201.3L450.5 201.5L452.5 201.7L454.5 202.2L456.5 202.5L458.5 202.8L460.5 203.1L462.5 203.2L464.5 203.0L466.5 203.1L468.5 202.9L470.5 202.6L472.5 202.4L474.5 202.3L476.5 202.7L478.5 203.2L480.5 204.0L482.5 204.9L484.5 205.8L486.5 206.9L488.5 208.1L490.5 209.3L492.5 210.5L494.5 211.8L496.5 213.0L498.5 214.2L500.5 215.5L502.5 217.9L504.5 220.8L506.5 223.7L508.5 225.8L510.5 226.8L512.5 227.4L514.5 227.7L516.5 227.9" stroke="#d7634f" stroke-width="0.70" fill="none"/>
<path d="M304.5 192.0L306.5 192.0L308.5 192.1L310.5 192.1L312.5 193.8L314.5 196.6L316.5 200.8L318.5 204.2L320.5 206.1L322.5 208.0L324.5 209.4L326.5 210.7L328.5 212.0L330.5 213.1L332.5 214.1L334.5 215.0L336.5 215.8L338.5 216.6L340.5 217.3L342.5 217.9L344.5 218.4L346.5 218.7L348.5 218.9L350.5 218.8L352.5 218.7L354.5 218.5L356.5 218.2L358.5 217.9L360.5 217.7L362.5 217.7L364.5 217.4L366.5 217.3L368.5 218.2L370.5 219.1L372.5 219.4L374.5 219.7L376.5 219.8L378.5 219.9L380.5 219.8L382.5 219.7L384.5 219.5L386.5 219.3L388.5 218.9L390.5 218.3L392.5 217.5L394.5 216.8L396.5 216.0L398.5 215.4L400.5 214.8L402.5 214.1L404.5 213.3L406.5 212.6L408.5 212.0L410.5 211.5L412.5 211.0L414.5 210.6L416.5 210.2L418.5 209.8L420.5 209.4L422.5 208.9L424.5 208.6L426.5 208.4L428.5 208.4L430.5 208.7L432.5 209.5L434.5 210.5L436.5 211.4L438.5 212.3L440.5 213.0L442.5 213.6L444.5 213.9L446.5 214.0L448.5 213.7L450.5 213.1L452.5 212.3L454.5 211.3L456.5 210.2L458.5 209.1L460.5 208.2L462.5 207.5L464.5 207.2L466.5 207.5L468.5 208.0L470.5 208.8L472.5 210.0L474.5 211.1L476.5 211.8L478.5 212.0L480.5 211.9L482.5 211.7L484.5 211.9L486.5 212.7L488.5 214.2L490.5 215.9L492.5 217.7L494.5 219.4L496.5 220.9L498.5 222.1L500.5 223.2L502.5 224.4L504.5 225.7L506.5 226.9L508.5 227.8L510.5 228.2L512.5 228.5L514.5 228.6L516.5 228.7" stroke="#4392c3" stroke-width="0.70" fill="none"/>
<path d="M304.5 191.2L306.5 191.2L308.5 191.2L310.5 191.2L312.5 191.6L314.5 192.3L316.5 193.0L318.5 193.7L320.5 194.8L322.5 196.0L324.5 197.5L326.5 198.9L328.5 200.4L330.5 202.0L332.5 203.7L334.5 205.5L336.5 206.9L338.5 207.9L340.5 208.3L342.5 208.5L344.5 208.5L346.5 208.6L348.5 208.8L350.5 209.1L352.5 209.4L354.5 209.8L356.5 210.2L358.5 210.4L360.5 210.3L362.5 210.0L364.5 209.5L366.5 208.8L368.5 208.1L370.5 207.4L372.5 206.9L374.5 206.5L376.5 206.2L378.5 206.2L380.5 206.2L382.5 206.6L384.5 207.1L386.5 207.8L388.5 208.7L390.5 209.5L392.5 210.2L394.5 210.8L396.5 211.2L398.5 211.1L400.5 210.8L402.5 210.4L404.5 209.8L406.5 209.2L408.5 208.6L410.5 208.1L412.5 207.7L414.5 207.3L416.5 206.8L418.5 206.4L420.5 205.9L422.5 205.4L424.5 204.9L426.5 204.3L428.5 203.7L430.5 203.1L432.5 202.4L434.5 201.7L436.5 201.2L438.5 200.8L440.5 200.4L442.5 200.2L444.5 200.1L446.5 200.3L448.5 200.6L450.5 200.8L452.5 201.0L454.5 201.5L456.5 201.8L458.5 202.1L460.5 202.3L462.5 202.5L464.5 202.3L466.5 202.4L468.5 202.2L470.5 201.9L472.5 201.7L474.5 201.6L476.5 201.9L478.5 202.5L480.5 203.2L482.5 204.0L484.5 204.9L486.5 206.0L488.5 207.1L490.5 208.2L492.5 209.4L494.5 210.6L496.5 211.7L498.5 212.9L500.5 214.2L502.5 216.7L504.5 219.9L506.5 223.1L508.5 225.5L510.5 226.7L512.5 227.3L514.5 227.6L516.5 227.8" stroke="#ca4741" stroke-width="0.70" fill="none"/>
<path d="M304.5 192.1L306.5 192.1L308.5 192.2L310.5 192.3L312.5 194.2L314.5 197.4L316.5 201.9L318.5 205.3L320.5 207.3L322.5 209.0L324.5 210.4L326.5 211.7L328.5 212.9L330.5 214.0L332.5 214.9L334.5 215.8L336.5 216.6L338.5 217.3L340.5 218.0L342.5 218.5L344.5 219.0L346.5 219.2L348.5 219.4L350.5 219.4L352.5 219.2L354.5 219.0L356.5 218.7L358.5 218.4L360.5 218.2L362.5 218.2L364.5 218.1L366.5 218.0L368.5 218.8L370.5 219.6L372.5 219.9L374.5 220.2L376.5 220.3L378.5 220.4L380.5 220.3L382.5 220.2L384.5 220.0L386.5 219.8L388.5 219.3L390.5 218.8L392.5 218.0L394.5 217.3L396.5 216.5L398.5 215.9L400.5 215.2L402.5 214.4L404.5 213.7L406.5 212.9L408.5 212.3L410.5 211.8L412.5 211.4L414.5 210.9L416.5 210.5L418.5 210.1L420.5 209.7L422.5 209.3L424.5 209.0L426.5 208.8L428.5 208.8L430.5 209.2L432.5 210.0L434.5 211.0L436.5 211.9L438.5 212.7L440.5 213.5L442.5 214.0L444.5 214.4L446.5 214.4L448.5 214.1L450.5 213.6L452.5 212.7L454.5 211.8L456.5 210.6L458.5 209.6L460.5 208.6L462.5 208.0L464.5 207.7L466.5 207.9L468.5 208.5L470.5 209.3L472.5 210.4L474.5 211.5L476.5 212.2L478.5 212.5L480.5 212.3L482.5 212.1L484.5 212.3L486.5 213.2L488.5 214.6L490.5 216.3L492.5 218.2L494.5 219.9L496.5 221.3L498.5 222.5L500.5 223.7L502.5 224.8L504.5 226.1L506.5 227.2L508.5 228.0L510.5 228.4L512.5 228.7L514.5 228.8L516.5 228.8" stroke="#3682ba" stroke-width="0.70" fill="none"/>
<path d="M304.5 191.2L306.5 191.1L308.5 191.1L310.5 191.1L312.5 191.4L314.5 192.0L316.5 192.6L318.5 193.3L320.5 194.2L322.5 195.3L324.5 196.6L326.5 198.0L328.5 199.6L330.5 201.1L332.5 202.9L334.5 204.7L336.5 206.1L338.5 207.1L340.5 207.6L342.5 207.8L344.5 207.9L346.5 208.1L348.5 208.3L350.5 208.5L352.5 208.9L354.5 209.3L356.5 209.6L358.5 209.8L360.5 209.7L362.5 209.4L364.5 208.9L366.5 208.2L368.5 207.5L370.5 206.8L372.5 206.2L374.5 205.9L376.5 205.6L378.5 205.6L380.5 205.6L382.5 205.9L384.5 206.5L386.5 207.2L388.5 208.1L390.5 208.8L392.5 209.5L394.5 210.2L396.5 210.5L398.5 210.5L400.5 210.3L402.5 209.9L404.5 209.3L406.5 208.7L408.5 208.2L410.5 207.7L412.5 207.2L414.5 206.8L416.5 206.4L418.5 206.0L420.5 205.5L422.5 204.9L424.5 204.4L426.5 203.7L428.5 203.1L430.5 202.4L432.5 201.7L434.5 201.0L436.5 200.5L438.5 200.1L440.5 199.7L442.5 199.5L444.5 199.4L446.5 199.6L448.5 199.9L450.5 200.1L452.5 200.3L454.5 200.7L456.5 201.0L458.5 201.4L460.5 201.6L462.5 201.8L464.5 201.7L466.5 201.7L468.5 201.5L470.5 201.2L472.5 201.0L474.5 200.9L476.5 201.2L478.5 201.7L480.5 202.3L482.5 203.1L484.5 204.0L486.5 205.0L488.5 206.0L490.5 207.2L492.5 208.3L494.5 209.4L496.5 210.5L498.5 211.6L500.5 213.0L502.5 215.5L504.5 218.9L506.5 222.5L508.5 225.2L510.5 226.6L512.5 227.2L514.5 227.6L516.5 227.7" stroke="#bc2c34" stroke-width="0.70" fill="none"/>
<path d="M304.5 192.2L306.5 192.2L308.5 192.3L310.5 192.4L312.5 194.5L314.5 198.2L316.5 202.9L318.5 206.4L320.5 208.4L322.5 210.1L324.5 211.4L326.5 212.7L328.5 213.8L330.5 214.8L332.5 215.7L334.5 216.5L336.5 217.3L338.5 218.0L340.5 218.6L342.5 219.1L344.5 219.5L346.5 219.8L348.5 219.9L350.5 219.9L352.5 219.7L354.5 219.5L356.5 219.2L358.5 218.9L360.5 218.7L362.5 218.7L364.5 218.7L366.5 218.8L368.5 219.4L370.5 220.1L372.5 220.4L374.5 220.7L376.5 220.8L378.5 220.8L380.5 220.8L382.5 220.7L384.5 220.5L386.5 220.3L388.5 219.8L390.5 219.2L392.5 218.5L394.5 217.8L396.5 217.0L398.5 216.3L400.5 215.6L402.5 214.8L404.5 214.0L406.5 213.3L408.5 212.6L410.5 212.1L412.5 211.7L414.5 211.3L416.5 210.8L418.5 210.4L420.5 210.0L422.5 209.6L424.5 209.3L426.5 209.2L428.5 209.3L430.5 209.7L432.5 210.5L434.5 211.4L436.5 212.4L438.5 213.2L440.5 213.9L442.5 214.5L444.5 214.8L446.5 214.9L448.5 214.6L450.5 214.0L452.5 213.2L454.5 212.2L456.5 211.1L458.5 210.0L460.5 209.1L462.5 208.4L464.5 208.2L466.5 208.4L468.5 208.9L470.5 209.7L472.5 210.9L474.5 212.0L476.5 212.7L478.5 212.9L480.5 212.8L482.5 212.6L484.5 212.8L486.5 213.6L488.5 215.1L490.5 216.8L492.5 218.6L494.5 220.3L496.5 221.8L498.5 223.0L500.5 224.1L502.5 225.2L504.5 226.5L506.5 227.5L508.5 228.2L510.5 228.6L512.5 228.9L514.5 229.0L516.5 229.0" stroke="#2971b2" stroke-width="0.70" fill="none"/>
<path d="M304.5 191.1L306.5 191.1L308.5 191.1L310.5 191.1L312.5 191.3L314.5 191.7L316.5 192.2L318.5 192.8L320.5 193.6L322.5 194.6L324.5 195.8L326.5 197.2L328.5 198.7L330.5 200.3L332.5 202.0L334.5 203.8L336.5 205.3L338.5 206.4L340.5 206.9L342.5 207.2L344.5 207.3L346.5 207.5L348.5 207.7L350.5 208.0L352.5 208.3L354.5 208.7L356.5 209.0L358.5 209.2L360.5 209.1L362.5 208.8L364.5 208.3L366.5 207.6L368.5 206.9L370.5 206.2L372.5 205.6L374.5 205.2L376.5 205.0L378.5 204.9L380.5 205.0L382.5 205.3L384.5 205.9L386.5 206.6L388.5 207.4L390.5 208.2L392.5 208.9L394.5 209.5L396.5 209.9L398.5 210.0L400.5 209.8L402.5 209.4L404.5 208.9L406.5 208.3L408.5 207.7L410.5 207.2L412.5 206.8L414.5 206.4L416.5 205.9L418.5 205.5L420.5 205.0L422.5 204.5L424.5 203.9L426.5 203.2L428.5 202.5L430.5 201.7L432.5 201.0L434.5 200.4L436.5 199.8L438.5 199.4L440.5 199.0L442.5 198.8L444.5 198.7L446.5 198.9L448.5 199.2L450.5 199.4L452.5 199.6L454.5 200.0L456.5 200.3L458.5 200.7L460.5 200.9L462.5 201.0L464.5 201.0L466.5 201.0L468.5 200.7L470.5 200.5L472.5 200.2L474.5 200.2L476.5 200.4L478.5 200.9L480.5 201.5L482.5 202.2L484.5 203.1L486.5 204.0L488.5 205.0L490.5 206.1L492.5 207.1L494.5 208.2L496.5 209.2L498.5 210.4L500.5 211.8L502.5 214.3L504.5 218.0L506.5 221.9L508.5 224.9L510.5 226.4L512.5 227.1L514.5 227.5L516.5 227.7" stroke="#a9152a" stroke-width="0.70" fill="none"/>
<path d="M304.5 192.3L306.5 192.3L308.5 192.5L310.5 192.6L312.5 194.9L314.5 199.0L316.5 204.0L318.5 207.5L320.5 209.5L322.5 211.2L324.5 212.5L326.5 213.6L328.5 214.7L330.5 215.7L332.5 216.5L334.5 217.3L336.5 218.0L338.5 218.7L340.5 219.2L342.5 219.7L344.5 220.1L346.5 220.4L348.5 220.5L350.5 220.4L352.5 220.3L354.5 220.0L356.5 219.7L358.5 219.4L360.5 219.2L362.5 219.2L364.5 219.3L366.5 219.5L368.5 220.1L370.5 220.6L372.5 220.9L374.5 221.1L376.5 221.3L378.5 221.3L380.5 221.3L382.5 221.2L384.5 221.0L386.5 220.7L388.5 220.3L390.5 219.7L392.5 219.0L394.5 218.2L396.5 217.5L398.5 216.7L400.5 215.9L402.5 215.2L404.5 214.4L406.5 213.6L408.5 213.0L410.5 212.5L412.5 212.0L414.5 211.6L416.5 211.2L418.5 210.8L420.5 210.4L422.5 209.9L424.5 209.7L426.5 209.6L428.5 209.7L430.5 210.2L432.5 210.9L434.5 211.9L436.5 212.8L438.5 213.7L440.5 214.4L442.5 214.9L444.5 215.3L446.5 215.3L448.5 215.0L450.5 214.5L452.5 213.6L454.5 212.7L456.5 211.5L458.5 210.5L460.5 209.6L462.5 208.9L464.5 208.6L466.5 208.8L468.5 209.4L470.5 210.2L472.5 211.3L474.5 212.4L476.5 213.1L478.5 213.4L480.5 213.2L482.5 213.0L484.5 213.2L486.5 214.1L488.5 215.5L490.5 217.2L492.5 219.1L494.5 220.8L496.5 222.2L498.5 223.4L500.5 224.6L502.5 225.7L504.5 226.8L506.5 227.8L508.5 228.5L510.5 228.9L512.5 229.1L514.5 229.1L516.5 229.1" stroke="#1d5fa2" stroke-width="0.70" fill="none"/>
<path d="M304.5 191.0L306.5 191.0L308.5 191.0L310.5 191.0L312.5 191.1L314.5 191.4L316.5 191.8L318.5 192.3L320.5 193.0L322.5 193.9L324.5 195.0L326.5 196.3L328.5 197.8L330.5 199.4L332.5 201.2L334.5 203.0L336.5 204.5L338.5 205.6L340.5 206.2L342.5 206.5L344.5 206.7L346.5 206.9L348.5 207.1L350.5 207.4L352.5 207.7L354.5 208.1L356.5 208.4L358.5 208.6L360.5 208.6L362.5 208.2L364.5 207.7L366.5 207.0L368.5 206.3L370.5 205.6L372.5 205.0L374.5 204.6L376.5 204.4L378.5 204.3L380.5 204.4L382.5 204.7L384.5 205.2L386.5 206.0L388.5 206.8L390.5 207.6L392.5 208.3L394.5 208.9L396.5 209.3L398.5 209.4L400.5 209.3L402.5 208.9L404.5 208.4L406.5 207.8L408.5 207.3L410.5 206.8L412.5 206.3L414.5 205.9L416.5 205.5L418.5 205.1L420.5 204.6L422.5 204.0L424.5 203.4L426.5 202.6L428.5 201.8L430.5 201.1L432.5 200.3L434.5 199.7L436.5 199.1L438.5 198.7L440.5 198.3L442.5 198.1L444.5 198.0L446.5 198.2L448.5 198.5L450.5 198.7L452.5 198.9L454.5 199.2L456.5 199.6L458.5 200.0L460.5 200.2L462.5 200.3L464.5 200.4L466.5 200.2L468.5 200.0L470.5 199.8L472.5 199.5L474.5 199.5L476.5 199.7L478.5 200.1L480.5 200.7L482.5 201.4L484.5 202.2L486.5 203.1L488.5 204.0L490.5 205.0L492.5 206.0L494.5 207.0L496.5 208.0L498.5 209.1L500.5 210.5L502.5 213.1L504.5 217.0L506.5 221.3L508.5 224.6L510.5 226.3L512.5 227.0L514.5 227.4L516.5 227.6" stroke="#8c0c25" stroke-width="1.25" fill="none"/>
<path d="M304.5 192.4L306.5 192.5L308.5 192.6L310.5 192.8L312.5 195.3L314.5 199.8L316.5 205.1L318.5 208.6L320.5 210.7L322.5 212.3L324.5 213.5L326.5 214.6L328.5 215.6L330.5 216.5L332.5 217.3L334.5 218.1L336.5 218.7L338.5 219.4L340.5 219.9L342.5 220.4L344.5 220.7L346.5 220.9L348.5 221.0L350.5 221.0L352.5 220.8L354.5 220.5L356.5 220.2L358.5 219.9L360.5 219.7L362.5 219.7L364.5 219.9L366.5 220.3L368.5 220.7L370.5 221.1L372.5 221.4L374.5 221.6L376.5 221.8L378.5 221.8L380.5 221.8L382.5 221.6L384.5 221.5L386.5 221.2L388.5 220.8L390.5 220.2L392.5 219.5L394.5 218.7L396.5 217.9L398.5 217.1L400.5 216.3L402.5 215.5L404.5 214.7L406.5 213.9L408.5 213.3L410.5 212.8L412.5 212.3L414.5 211.9L416.5 211.5L418.5 211.1L420.5 210.7L422.5 210.3L424.5 210.0L426.5 210.0L428.5 210.2L430.5 210.6L432.5 211.4L434.5 212.4L436.5 213.3L438.5 214.1L440.5 214.8L442.5 215.4L444.5 215.8L446.5 215.8L448.5 215.5L450.5 214.9L452.5 214.1L454.5 213.1L456.5 212.0L458.5 210.9L460.5 210.0L462.5 209.4L464.5 209.1L466.5 209.3L468.5 209.8L470.5 210.6L472.5 211.8L474.5 212.9L476.5 213.6L478.5 213.8L480.5 213.7L482.5 213.5L484.5 213.7L486.5 214.5L488.5 216.0L490.5 217.7L492.5 219.5L494.5 221.2L496.5 222.6L498.5 223.9L500.5 225.0L502.5 226.1L504.5 227.2L506.5 228.1L508.5 228.7L510.5 229.1L512.5 229.2L514.5 229.3L516.5 229.3" stroke="#134b86" stroke-width="1.25" fill="none"/></g>
<g clip-path="url(#c40)"><path d="M60.5 290.3L62.5 288.9L64.5 286.2L66.5 283.0L68.5 280.5L70.5 278.6L72.5 277.3L74.5 276.2L76.5 275.4L78.5 274.8L80.5 274.4L82.5 274.1L84.5 273.9L86.5 273.7L88.5 273.4L90.5 273.2L92.5 272.9L94.5 272.7L96.5 272.6L98.5 272.5L100.5 272.3L102.5 272.4L104.5 272.5L106.5 272.5L108.5 272.7L110.5 272.9L112.5 273.2L114.5 273.5L116.5 274.0L118.5 274.8L120.5 274.6L122.5 274.4L124.5 273.6L126.5 272.6L128.5 271.4L130.5 271.1L132.5 270.9L134.5 270.9L136.5 270.8L138.5 270.6L140.5 270.5L142.5 270.5L144.5 270.6L146.5 270.8L148.5 271.5L150.5 272.4L152.5 273.2L154.5 273.7L156.5 273.3L158.5 272.8L160.5 272.3L162.5 271.4L164.5 270.4L166.5 269.7L168.5 269.0L170.5 268.2L172.5 267.5L174.5 266.8L176.5 266.4L178.5 266.1L180.5 265.9L182.5 265.7L184.5 265.6L186.5 265.5L188.5 265.4L190.5 265.2L192.5 265.2L194.5 265.1L196.5 265.0L198.5 265.2L200.5 265.6L202.5 266.0L204.5 266.4L206.5 266.1L208.5 265.9L210.5 265.9L212.5 265.7L214.5 265.2L216.5 265.3L218.5 265.2L220.5 265.2L222.5 265.3L224.5 265.3L226.5 265.6L228.5 266.6L230.5 266.9L232.5 267.2L234.5 267.6L236.5 267.6L238.5 267.4L240.5 267.0L242.5 266.6L244.5 266.4L246.5 266.4L248.5 266.5L250.5 266.5L252.5 266.3L254.5 266.0L256.5 265.5L258.5 264.8L260.5 263.9L262.5 262.7L264.5 261.0L266.5 258.8L268.5 256.0L270.5 252.8L272.5 251.1" stroke="#f8f0ec" stroke-width="0.70" fill="none"/>
<path d="M60.5 290.4L62.5 289.3L64.5 286.8L66.5 283.8L68.5 281.2L70.5 279.2L72.5 277.9L74.5 276.7L76.5 275.9L78.5 275.3L80.5 274.9L82.5 274.7L84.5 274.5L86.5 274.3L88.5 274.1L90.5 273.9L92.5 273.7L94.5 273.5L96.5 273.4L98.5 273.3L100.5 273.3L102.5 274.0L104.5 274.5L106.5 274.9L108.5 275.3L110.5 275.6L112.5 275.8L114.5 275.9L116.5 276.0L118.5 276.2L120.5 275.9L122.5 275.6L124.5 275.1L126.5 274.2L128.5 273.3L130.5 273.7L132.5 274.3L134.5 275.0L136.5 275.1L138.5 275.1L140.5 275.0L142.5 275.0L144.5 274.9L146.5 274.7L148.5 274.7L150.5 274.8L152.5 274.9L154.5 274.9L156.5 274.3L158.5 273.6L160.5 273.0L162.5 272.2L164.5 271.2L166.5 270.5L168.5 269.8L170.5 269.0L172.5 268.3L174.5 267.8L176.5 267.8L178.5 268.1L180.5 268.5L182.5 268.8L184.5 269.1L186.5 269.4L188.5 269.5L190.5 269.6L192.5 269.5L194.5 269.3L196.5 269.0L198.5 268.7L200.5 268.4L202.5 268.1L204.5 267.8L206.5 267.2L208.5 266.8L210.5 266.7L212.5 266.8L214.5 266.6L216.5 267.3L218.5 267.7L220.5 268.0L222.5 268.1L224.5 268.0L226.5 268.0L228.5 268.3L230.5 268.4L232.5 268.4L234.5 268.5L236.5 268.4L238.5 268.1L240.5 267.7L242.5 267.5L244.5 267.3L246.5 267.2L248.5 267.2L250.5 267.2L252.5 267.0L254.5 266.6L256.5 266.1L258.5 265.4L260.5 264.4L262.5 263.2L264.5 261.5L266.5 259.3L268.5 256.4L270.5 253.0L272.5 251.2" stroke="#eef3f5" stroke-width="0.70" fill="none"/>
<path d="M60.5 290.2L62.5 288.5L64.5 285.5L66.5 282.2L68.5 279.8L70.5 278.1L72.5 276.8L74.5 275.7L76.5 274.9L78.5 274.3L80.5 273.8L82.5 273.5L84.5 273.3L86.5 273.0L88.5 272.7L90.5 272.4L92.5 272.2L94.5 271.9L96.5 271.8L98.5 271.6L100.5 271.3L102.5 270.9L104.5 270.5L106.5 270.2L108.5 270.1L110.5 270.1L112.5 270.5L114.5 271.0L116.5 272.1L118.5 273.4L120.5 273.4L122.5 273.1L124.5 272.1L126.5 270.9L128.5 269.5L130.5 268.4L132.5 267.5L134.5 266.9L136.5 266.4L138.5 266.1L140.5 265.9L142.5 266.0L144.5 266.3L146.5 266.8L148.5 268.3L150.5 270.0L152.5 271.5L154.5 272.5L156.5 272.4L158.5 272.0L160.5 271.5L162.5 270.7L164.5 269.7L166.5 269.0L168.5 268.3L170.5 267.4L172.5 266.6L174.5 265.8L176.5 264.9L178.5 264.0L180.5 263.3L182.5 262.6L184.5 262.1L186.5 261.6L188.5 261.2L190.5 260.9L192.5 260.8L194.5 260.9L196.5 261.0L198.5 261.6L200.5 262.8L202.5 263.9L204.5 265.1L206.5 265.0L208.5 265.0L210.5 265.0L212.5 264.7L214.5 263.9L216.5 263.3L218.5 262.8L220.5 262.5L222.5 262.5L224.5 262.6L226.5 263.2L228.5 264.8L230.5 265.5L232.5 266.1L234.5 266.8L236.5 266.9L238.5 266.6L240.5 266.2L242.5 265.8L244.5 265.6L246.5 265.6L248.5 265.7L250.5 265.8L252.5 265.7L254.5 265.4L256.5 265.0L258.5 264.3L260.5 263.4L262.5 262.1L264.5 260.5L266.5 258.4L268.5 255.7L270.5 252.6L272.5 250.9" stroke="#f6b090" stroke-width="0.70" fill="none"/>
<path d="M60.5 290.5L62.5 289.7L64.5 287.5L66.5 284.6L68.5 281.9L70.5 279.8L72.5 278.4L74.5 277.2L76.5 276.4L78.5 275.8L80.5 275.5L82.5 275.2L84.5 275.1L86.5 275.0L88.5 274.8L90.5 274.7L92.5 274.5L94.5 274.3L96.5 274.2L98.5 274.2L100.5 274.3L102.5 275.5L104.5 276.5L106.5 277.3L108.5 277.9L110.5 278.3L112.5 278.5L114.5 278.4L116.5 278.0L118.5 277.6L120.5 277.2L122.5 276.9L124.5 276.6L126.5 275.9L128.5 275.2L130.5 276.4L132.5 277.7L134.5 279.0L136.5 279.4L138.5 279.6L140.5 279.6L142.5 279.5L144.5 279.2L146.5 278.7L148.5 277.9L150.5 277.3L152.5 276.6L154.5 276.0L156.5 275.3L158.5 274.5L160.5 273.8L162.5 272.9L164.5 272.0L166.5 271.3L168.5 270.6L170.5 269.8L172.5 269.1L174.5 268.9L176.5 269.3L178.5 270.1L180.5 271.1L182.5 271.9L184.5 272.7L186.5 273.3L188.5 273.7L190.5 273.9L192.5 273.9L194.5 273.5L196.5 273.0L198.5 272.3L200.5 271.3L202.5 270.2L204.5 269.2L206.5 268.3L208.5 267.7L210.5 267.5L212.5 267.8L214.5 267.9L216.5 269.4L218.5 270.1L220.5 270.7L222.5 270.9L224.5 270.7L226.5 270.4L228.5 270.1L230.5 269.8L232.5 269.5L234.5 269.3L236.5 269.1L238.5 268.9L240.5 268.5L242.5 268.3L244.5 268.1L246.5 268.0L248.5 268.0L250.5 267.9L252.5 267.6L254.5 267.2L256.5 266.7L258.5 265.9L260.5 264.9L262.5 263.7L264.5 262.0L266.5 259.7L268.5 256.7L270.5 253.2L272.5 251.4" stroke="#98c8e0" stroke-width="0.70" fill="none"/>
<path d="M60.5 290.1L62.5 288.4L64.5 285.3L66.5 281.9L68.5 279.6L70.5 277.9L72.5 276.6L74.5 275.5L76.5 274.7L78.5 274.1L80.5 273.7L82.5 273.4L84.5 273.1L86.5 272.8L88.5 272.5L90.5 272.2L92.5 271.9L94.5 271.7L96.5 271.5L98.5 271.4L100.5 271.1L102.5 270.7L104.5 270.2L106.5 269.9L108.5 269.8L110.5 269.9L112.5 270.2L114.5 270.7L116.5 271.7L118.5 272.9L120.5 273.0L122.5 272.8L124.5 271.8L126.5 270.6L128.5 269.2L130.5 268.1L132.5 267.3L134.5 266.7L136.5 266.2L138.5 265.9L140.5 265.7L142.5 265.7L144.5 266.0L146.5 266.6L148.5 268.0L150.5 269.6L152.5 271.1L154.5 272.0L156.5 272.0L158.5 271.7L160.5 271.3L162.5 270.5L164.5 269.5L166.5 268.8L168.5 268.0L170.5 267.2L172.5 266.4L174.5 265.5L176.5 264.6L178.5 263.8L180.5 263.0L182.5 262.4L184.5 261.8L186.5 261.3L188.5 260.9L190.5 260.7L192.5 260.5L194.5 260.6L196.5 260.8L198.5 261.3L200.5 262.4L202.5 263.4L204.5 264.5L206.5 264.6L208.5 264.7L210.5 264.8L212.5 264.4L214.5 263.7L216.5 263.0L218.5 262.5L220.5 262.3L222.5 262.2L224.5 262.4L226.5 262.9L228.5 264.5L230.5 265.1L232.5 265.8L234.5 266.6L236.5 266.7L238.5 266.4L240.5 265.9L242.5 265.6L244.5 265.4L246.5 265.3L248.5 265.5L250.5 265.6L252.5 265.5L254.5 265.2L256.5 264.8L258.5 264.1L260.5 263.2L262.5 262.0L264.5 260.4L266.5 258.2L268.5 255.6L270.5 252.5L272.5 250.9" stroke="#ee9878" stroke-width="0.70" fill="none"/>
<path d="M60.5 290.5L62.5 289.8L64.5 287.8L66.5 284.9L68.5 282.2L70.5 280.0L72.5 278.6L74.5 277.4L76.5 276.6L78.5 276.0L80.5 275.6L82.5 275.4L84.5 275.3L86.5 275.2L88.5 275.1L90.5 275.0L92.5 274.8L94.5 274.5L96.5 274.4L98.5 274.5L100.5 274.6L102.5 275.8L104.5 276.8L106.5 277.6L108.5 278.2L110.5 278.6L112.5 278.8L114.5 278.7L116.5 278.4L118.5 277.9L120.5 277.5L122.5 277.2L124.5 277.0L126.5 276.4L128.5 275.9L130.5 277.0L132.5 278.2L134.5 279.3L136.5 279.8L138.5 279.9L140.5 279.9L142.5 279.8L144.5 279.5L146.5 279.0L148.5 278.3L150.5 277.6L152.5 276.9L154.5 276.3L156.5 275.6L158.5 274.7L160.5 274.1L162.5 273.2L164.5 272.3L166.5 271.6L168.5 270.9L170.5 270.1L172.5 269.4L174.5 269.2L176.5 269.6L178.5 270.5L180.5 271.4L182.5 272.3L184.5 273.0L186.5 273.6L188.5 274.0L190.5 274.2L192.5 274.2L194.5 273.8L196.5 273.3L198.5 272.6L200.5 271.6L202.5 270.5L204.5 269.5L206.5 268.6L208.5 268.0L210.5 267.8L212.5 268.1L214.5 268.3L216.5 269.7L218.5 270.4L220.5 271.0L222.5 271.2L224.5 271.1L226.5 270.7L228.5 270.4L230.5 270.1L232.5 269.8L234.5 269.6L236.5 269.4L238.5 269.1L240.5 268.8L242.5 268.6L244.5 268.4L246.5 268.3L248.5 268.3L250.5 268.1L252.5 267.9L254.5 267.4L256.5 266.9L258.5 266.1L260.5 265.1L262.5 263.9L264.5 262.2L266.5 259.9L268.5 256.9L270.5 253.3L272.5 251.4" stroke="#7db7d7" stroke-width="0.70" fill="none"/>
<path d="M60.5 290.1L62.5 288.3L64.5 285.1L66.5 281.7L68.5 279.4L70.5 277.7L72.5 276.5L74.5 275.4L76.5 274.6L78.5 274.0L80.5 273.5L82.5 273.2L84.5 272.9L86.5 272.6L88.5 272.3L90.5 272.0L92.5 271.7L94.5 271.5L96.5 271.3L98.5 271.1L100.5 270.8L102.5 270.4L104.5 270.0L106.5 269.7L108.5 269.6L110.5 269.6L112.5 270.0L114.5 270.5L116.5 271.4L118.5 272.5L120.5 272.6L122.5 272.5L124.5 271.6L126.5 270.4L128.5 268.9L130.5 267.9L132.5 267.0L134.5 266.4L136.5 265.9L138.5 265.6L140.5 265.4L142.5 265.5L144.5 265.8L146.5 266.3L148.5 267.6L150.5 269.1L152.5 270.6L154.5 271.6L156.5 271.7L158.5 271.5L160.5 271.1L162.5 270.3L164.5 269.3L166.5 268.5L168.5 267.8L170.5 267.0L172.5 266.1L174.5 265.3L176.5 264.4L178.5 263.5L180.5 262.8L182.5 262.1L184.5 261.6L186.5 261.1L188.5 260.7L190.5 260.4L192.5 260.3L194.5 260.3L196.5 260.5L198.5 261.0L200.5 262.0L202.5 263.0L204.5 264.0L206.5 264.2L208.5 264.4L210.5 264.5L212.5 264.2L214.5 263.4L216.5 262.7L218.5 262.3L220.5 262.0L222.5 262.0L224.5 262.1L226.5 262.7L228.5 264.1L230.5 264.8L232.5 265.6L234.5 266.3L236.5 266.5L238.5 266.2L240.5 265.7L242.5 265.3L244.5 265.1L246.5 265.1L248.5 265.3L250.5 265.4L252.5 265.3L254.5 265.1L256.5 264.6L258.5 264.0L260.5 263.1L262.5 261.8L264.5 260.3L266.5 258.1L268.5 255.5L270.5 252.4L272.5 250.8" stroke="#e37e64" stroke-width="0.70" fill="none"/>
<path d="M60.5 290.6L62.5 289.9L64.5 288.0L66.5 285.2L68.5 282.4L70.5 280.3L72.5 278.8L74.5 277.6L76.5 276.8L78.5 276.2L80.5 275.8L82.5 275.6L84.5 275.5L86.5 275.5L88.5 275.4L90.5 275.2L92.5 275.0L94.5 274.8L96.5 274.7L98.5 274.8L100.5 275.0L102.5 276.1L104.5 277.1L106.5 277.9L108.5 278.5L110.5 279.0L112.5 279.1L114.5 279.0L116.5 278.7L118.5 278.2L120.5 277.8L122.5 277.6L124.5 277.4L126.5 276.9L128.5 276.6L130.5 277.6L132.5 278.7L134.5 279.7L136.5 280.1L138.5 280.2L140.5 280.2L142.5 280.2L144.5 279.8L146.5 279.3L148.5 278.6L150.5 277.9L152.5 277.2L154.5 276.6L156.5 275.8L158.5 275.0L160.5 274.3L162.5 273.5L164.5 272.6L166.5 271.9L168.5 271.1L170.5 270.4L172.5 269.7L174.5 269.5L176.5 270.0L178.5 270.8L180.5 271.7L182.5 272.6L184.5 273.3L186.5 273.9L188.5 274.3L190.5 274.5L192.5 274.5L194.5 274.2L196.5 273.7L198.5 272.9L200.5 271.9L202.5 270.8L204.5 269.8L206.5 268.9L208.5 268.3L210.5 268.1L212.5 268.4L214.5 268.7L216.5 270.0L218.5 270.7L220.5 271.3L222.5 271.5L224.5 271.4L226.5 271.0L228.5 270.7L230.5 270.4L232.5 270.1L234.5 269.9L236.5 269.7L238.5 269.4L240.5 269.1L242.5 268.9L244.5 268.7L246.5 268.6L248.5 268.5L250.5 268.4L252.5 268.1L254.5 267.6L256.5 267.1L258.5 266.3L260.5 265.3L262.5 264.1L264.5 262.4L266.5 260.0L268.5 257.0L270.5 253.4L272.5 251.5" stroke="#5fa5cd" stroke-width="0.70" fill="none"/>
<path d="M60.5 290.1L62.5 288.1L64.5 284.9L66.5 281.4L68.5 279.2L70.5 277.5L72.5 276.3L74.5 275.2L76.5 274.4L78.5 273.8L80.5 273.4L82.5 273.1L84.5 272.8L86.5 272.4L88.5 272.0L90.5 271.7L92.5 271.5L94.5 271.3L96.5 271.1L98.5 270.9L100.5 270.5L102.5 270.1L104.5 269.7L106.5 269.4L108.5 269.3L110.5 269.4L112.5 269.7L114.5 270.2L116.5 271.1L118.5 272.0L120.5 272.3L122.5 272.2L124.5 271.3L126.5 270.1L128.5 268.7L130.5 267.6L132.5 266.8L134.5 266.2L136.5 265.6L138.5 265.3L140.5 265.2L142.5 265.2L144.5 265.5L146.5 266.1L148.5 267.3L150.5 268.7L152.5 270.1L154.5 271.1L156.5 271.4L158.5 271.3L160.5 270.8L162.5 270.1L164.5 269.1L166.5 268.3L168.5 267.6L170.5 266.8L172.5 265.9L174.5 265.0L176.5 264.1L178.5 263.3L180.5 262.5L182.5 261.9L184.5 261.3L186.5 260.8L188.5 260.4L190.5 260.1L192.5 260.0L194.5 260.1L196.5 260.2L198.5 260.7L200.5 261.6L202.5 262.5L204.5 263.5L206.5 263.8L208.5 264.1L210.5 264.3L212.5 263.9L214.5 263.2L216.5 262.5L218.5 262.0L220.5 261.7L222.5 261.7L224.5 261.9L226.5 262.4L228.5 263.7L230.5 264.5L232.5 265.3L234.5 266.1L236.5 266.2L238.5 266.0L240.5 265.5L242.5 265.1L244.5 264.9L246.5 264.9L248.5 265.0L250.5 265.2L252.5 265.2L254.5 264.9L256.5 264.5L258.5 263.8L260.5 262.9L262.5 261.7L264.5 260.1L266.5 258.0L268.5 255.4L270.5 252.4L272.5 250.8" stroke="#d7634f" stroke-width="0.70" fill="none"/>
<path d="M60.5 290.6L62.5 290.1L64.5 288.3L66.5 285.5L68.5 282.7L70.5 280.5L72.5 279.0L74.5 277.8L76.5 277.0L78.5 276.4L80.5 276.0L82.5 275.8L84.5 275.8L86.5 275.7L88.5 275.6L90.5 275.5L92.5 275.3L94.5 275.1L96.5 275.0L98.5 275.1L100.5 275.4L102.5 276.5L104.5 277.4L106.5 278.2L108.5 278.8L110.5 279.3L112.5 279.4L114.5 279.4L116.5 279.0L118.5 278.5L120.5 278.1L122.5 277.9L124.5 277.7L126.5 277.5L128.5 277.3L130.5 278.2L132.5 279.1L134.5 280.0L136.5 280.4L138.5 280.5L140.5 280.5L142.5 280.5L144.5 280.2L146.5 279.6L148.5 278.9L150.5 278.2L152.5 277.5L154.5 276.9L156.5 276.1L158.5 275.3L160.5 274.6L162.5 273.8L164.5 272.9L166.5 272.1L168.5 271.4L170.5 270.6L172.5 270.0L174.5 269.8L176.5 270.3L178.5 271.1L180.5 272.0L182.5 272.9L184.5 273.6L186.5 274.2L188.5 274.7L190.5 274.8L192.5 274.8L194.5 274.5L196.5 274.0L198.5 273.2L200.5 272.2L202.5 271.1L204.5 270.1L206.5 269.2L208.5 268.6L210.5 268.4L212.5 268.7L214.5 269.1L216.5 270.3L218.5 271.1L220.5 271.6L222.5 271.8L224.5 271.7L226.5 271.3L228.5 271.0L230.5 270.8L232.5 270.5L234.5 270.2L236.5 269.9L238.5 269.6L240.5 269.4L242.5 269.2L244.5 269.0L246.5 268.9L248.5 268.8L250.5 268.6L252.5 268.3L254.5 267.8L256.5 267.3L258.5 266.5L260.5 265.5L262.5 264.2L264.5 262.5L266.5 260.2L268.5 257.1L270.5 253.4L272.5 251.5" stroke="#4392c3" stroke-width="0.70" fill="none"/>
<path d="M60.5 290.0L62.5 288.0L64.5 284.7L66.5 281.2L68.5 279.0L70.5 277.4L72.5 276.1L74.5 275.1L76.5 274.3L78.5 273.7L80.5 273.2L82.5 272.9L84.5 272.6L86.5 272.2L88.5 271.8L90.5 271.5L92.5 271.3L94.5 271.0L96.5 270.8L98.5 270.6L100.5 270.3L102.5 269.9L104.5 269.5L106.5 269.1L108.5 269.0L110.5 269.1L112.5 269.5L114.5 270.0L116.5 270.8L118.5 271.6L120.5 271.9L122.5 271.9L124.5 271.1L126.5 269.9L128.5 268.4L130.5 267.4L132.5 266.5L134.5 265.9L136.5 265.4L138.5 265.1L140.5 264.9L142.5 264.9L144.5 265.2L146.5 265.8L148.5 267.0L150.5 268.3L152.5 269.6L154.5 270.6L156.5 271.0L158.5 271.0L160.5 270.6L162.5 269.8L164.5 268.9L166.5 268.1L168.5 267.4L170.5 266.5L172.5 265.7L174.5 264.7L176.5 263.8L178.5 263.0L180.5 262.3L182.5 261.6L184.5 261.1L186.5 260.6L188.5 260.1L190.5 259.9L192.5 259.8L194.5 259.8L196.5 260.0L198.5 260.4L200.5 261.2L202.5 262.0L204.5 262.9L206.5 263.4L208.5 263.9L210.5 264.0L212.5 263.7L214.5 262.9L216.5 262.2L218.5 261.8L220.5 261.5L222.5 261.5L224.5 261.6L226.5 262.1L228.5 263.3L230.5 264.2L232.5 265.1L234.5 265.9L236.5 266.0L238.5 265.7L240.5 265.2L242.5 264.9L244.5 264.6L246.5 264.6L248.5 264.8L250.5 265.0L252.5 265.0L254.5 264.7L256.5 264.3L258.5 263.6L260.5 262.8L262.5 261.5L264.5 260.0L266.5 257.8L268.5 255.3L270.5 252.3L272.5 250.8" stroke="#ca4741" stroke-width="0.70" fill="none"/>
<path d="M60.5 290.7L62.5 290.2L64.5 288.5L66.5 285.8L68.5 282.9L70.5 280.7L72.5 279.2L74.5 278.0L76.5 277.2L78.5 276.6L80.5 276.2L82.5 276.0L84.5 276.0L86.5 275.9L88.5 275.9L90.5 275.8L92.5 275.6L94.5 275.4L96.5 275.3L98.5 275.4L100.5 275.8L102.5 276.8L104.5 277.7L106.5 278.5L108.5 279.1L110.5 279.6L112.5 279.7L114.5 279.7L116.5 279.3L118.5 278.8L120.5 278.4L122.5 278.2L124.5 278.1L126.5 278.0L128.5 278.0L130.5 278.8L132.5 279.6L134.5 280.3L136.5 280.7L138.5 280.8L140.5 280.9L142.5 280.8L144.5 280.5L146.5 279.9L148.5 279.2L150.5 278.5L152.5 277.8L154.5 277.2L156.5 276.4L158.5 275.6L160.5 274.9L162.5 274.1L164.5 273.2L166.5 272.4L168.5 271.7L170.5 270.9L172.5 270.3L174.5 270.1L176.5 270.6L178.5 271.4L180.5 272.3L182.5 273.2L184.5 273.9L186.5 274.5L188.5 275.0L190.5 275.1L192.5 275.1L194.5 274.8L196.5 274.3L198.5 273.5L200.5 272.5L202.5 271.5L204.5 270.4L206.5 269.5L208.5 268.9L210.5 268.7L212.5 269.0L214.5 269.5L216.5 270.6L218.5 271.4L220.5 271.9L222.5 272.1L224.5 272.0L226.5 271.7L228.5 271.3L230.5 271.1L232.5 270.8L234.5 270.5L236.5 270.2L238.5 269.9L240.5 269.7L242.5 269.4L244.5 269.3L246.5 269.2L248.5 269.1L250.5 268.9L252.5 268.5L254.5 268.0L256.5 267.5L258.5 266.7L260.5 265.7L262.5 264.4L264.5 262.7L266.5 260.3L268.5 257.2L270.5 253.5L272.5 251.6" stroke="#3682ba" stroke-width="0.70" fill="none"/>
<path d="M60.5 290.0L62.5 287.9L64.5 284.5L66.5 281.0L68.5 278.8L70.5 277.2L72.5 276.0L74.5 274.9L76.5 274.1L78.5 273.5L80.5 273.1L82.5 272.7L84.5 272.4L86.5 272.0L88.5 271.6L90.5 271.3L92.5 271.0L94.5 270.8L96.5 270.6L98.5 270.4L100.5 270.0L102.5 269.6L104.5 269.2L106.5 268.9L108.5 268.8L110.5 268.8L112.5 269.2L114.5 269.7L116.5 270.4L118.5 271.2L120.5 271.5L122.5 271.5L124.5 270.8L126.5 269.6L128.5 268.2L130.5 267.1L132.5 266.2L134.5 265.6L136.5 265.1L138.5 264.8L140.5 264.6L142.5 264.7L144.5 265.0L146.5 265.6L148.5 266.6L150.5 267.9L152.5 269.1L154.5 270.2L156.5 270.7L158.5 270.8L160.5 270.4L162.5 269.6L164.5 268.7L166.5 267.9L168.5 267.1L170.5 266.3L172.5 265.4L174.5 264.5L176.5 263.6L178.5 262.7L180.5 262.0L182.5 261.4L184.5 260.8L186.5 260.3L188.5 259.9L190.5 259.6L192.5 259.5L194.5 259.6L196.5 259.7L198.5 260.1L200.5 260.8L202.5 261.5L204.5 262.4L206.5 263.0L208.5 263.6L210.5 263.8L212.5 263.4L214.5 262.7L216.5 262.0L218.5 261.5L220.5 261.2L222.5 261.2L224.5 261.4L226.5 261.9L228.5 262.9L230.5 263.9L232.5 264.8L234.5 265.6L236.5 265.8L238.5 265.5L240.5 265.0L242.5 264.6L244.5 264.4L246.5 264.4L248.5 264.6L250.5 264.8L252.5 264.8L254.5 264.5L256.5 264.2L258.5 263.5L260.5 262.7L262.5 261.4L264.5 259.8L266.5 257.7L268.5 255.2L270.5 252.2L272.5 250.7" stroke="#bc2c34" stroke-width="0.70" fill="none"/>
<path d="M60.5 290.7L62.5 290.3L64.5 288.7L66.5 286.1L68.5 283.2L70.5 280.9L72.5 279.4L74.5 278.2L76.5 277.4L78.5 276.7L80.5 276.4L82.5 276.2L84.5 276.2L86.5 276.2L88.5 276.1L90.5 276.0L92.5 275.9L94.5 275.6L96.5 275.6L98.5 275.7L100.5 276.2L102.5 277.1L104.5 278.0L106.5 278.8L108.5 279.4L110.5 279.9L112.5 280.1L114.5 280.0L116.5 279.6L118.5 279.1L120.5 278.7L122.5 278.5L124.5 278.5L126.5 278.5L128.5 278.7L130.5 279.4L132.5 280.1L134.5 280.7L136.5 281.0L138.5 281.1L140.5 281.2L142.5 281.1L144.5 280.8L146.5 280.2L148.5 279.5L150.5 278.8L152.5 278.1L154.5 277.5L156.5 276.7L158.5 275.9L160.5 275.1L162.5 274.3L164.5 273.5L166.5 272.7L168.5 272.0L170.5 271.2L172.5 270.6L174.5 270.5L176.5 270.9L178.5 271.7L180.5 272.7L182.5 273.5L184.5 274.2L186.5 274.8L188.5 275.3L190.5 275.5L192.5 275.4L194.5 275.1L196.5 274.6L198.5 273.8L200.5 272.9L202.5 271.8L204.5 270.7L206.5 269.8L208.5 269.3L210.5 269.0L212.5 269.4L214.5 269.9L216.5 271.0L218.5 271.7L220.5 272.3L222.5 272.4L224.5 272.3L226.5 272.0L228.5 271.6L230.5 271.4L232.5 271.1L234.5 270.8L236.5 270.5L238.5 270.2L240.5 269.9L242.5 269.7L244.5 269.6L246.5 269.5L248.5 269.4L250.5 269.1L252.5 268.8L254.5 268.2L256.5 267.7L258.5 266.9L260.5 265.9L262.5 264.6L264.5 262.9L266.5 260.5L268.5 257.3L270.5 253.6L272.5 251.6" stroke="#2971b2" stroke-width="0.70" fill="none"/>
<path d="M60.5 289.9L62.5 287.8L64.5 284.3L66.5 280.7L68.5 278.5L70.5 277.0L72.5 275.8L74.5 274.8L76.5 274.0L78.5 273.4L80.5 272.9L82.5 272.6L84.5 272.2L86.5 271.8L88.5 271.4L90.5 271.1L92.5 270.8L94.5 270.6L96.5 270.4L98.5 270.1L100.5 269.8L102.5 269.4L104.5 269.0L106.5 268.6L108.5 268.5L110.5 268.6L112.5 268.9L114.5 269.4L116.5 270.1L118.5 270.7L120.5 271.2L122.5 271.2L124.5 270.6L126.5 269.4L128.5 267.9L130.5 266.8L132.5 266.0L134.5 265.4L136.5 264.9L138.5 264.6L140.5 264.4L142.5 264.4L144.5 264.7L146.5 265.3L148.5 266.3L150.5 267.5L152.5 268.7L154.5 269.7L156.5 270.3L158.5 270.5L160.5 270.2L162.5 269.4L164.5 268.5L166.5 267.7L168.5 266.9L170.5 266.1L172.5 265.2L174.5 264.2L176.5 263.3L178.5 262.5L180.5 261.8L182.5 261.1L184.5 260.6L186.5 260.1L188.5 259.6L190.5 259.4L192.5 259.3L194.5 259.3L196.5 259.5L198.5 259.8L200.5 260.4L202.5 261.0L204.5 261.9L206.5 262.6L208.5 263.3L210.5 263.5L212.5 263.1L214.5 262.4L216.5 261.7L218.5 261.3L220.5 261.0L222.5 260.9L224.5 261.1L226.5 261.6L228.5 262.5L230.5 263.5L232.5 264.6L234.5 265.4L236.5 265.6L238.5 265.3L240.5 264.8L242.5 264.4L244.5 264.1L246.5 264.2L248.5 264.4L250.5 264.6L252.5 264.6L254.5 264.4L256.5 264.0L258.5 263.3L260.5 262.5L262.5 261.2L264.5 259.7L266.5 257.6L268.5 255.1L270.5 252.2L272.5 250.7" stroke="#a9152a" stroke-width="0.70" fill="none"/>
<path d="M60.5 290.8L62.5 290.5L64.5 289.0L66.5 286.4L68.5 283.4L70.5 281.1L72.5 279.6L74.5 278.3L76.5 277.5L78.5 276.9L80.5 276.6L82.5 276.4L84.5 276.4L86.5 276.4L88.5 276.4L90.5 276.3L92.5 276.1L94.5 275.9L96.5 275.9L98.5 276.0L100.5 276.5L102.5 277.4L104.5 278.3L106.5 279.2L108.5 279.8L110.5 280.2L112.5 280.4L114.5 280.3L116.5 279.9L118.5 279.5L120.5 279.1L122.5 278.8L124.5 278.9L126.5 279.0L128.5 279.4L130.5 280.0L132.5 280.6L134.5 281.0L136.5 281.3L138.5 281.5L140.5 281.5L142.5 281.4L144.5 281.1L146.5 280.6L148.5 279.8L150.5 279.1L152.5 278.5L154.5 277.8L156.5 277.0L158.5 276.2L160.5 275.4L162.5 274.6L164.5 273.8L166.5 273.0L168.5 272.2L170.5 271.5L172.5 270.9L174.5 270.8L176.5 271.2L178.5 272.0L180.5 273.0L182.5 273.8L184.5 274.6L186.5 275.2L188.5 275.6L190.5 275.8L192.5 275.7L194.5 275.4L196.5 274.9L198.5 274.1L200.5 273.2L202.5 272.1L204.5 271.1L206.5 270.2L208.5 269.6L210.5 269.3L212.5 269.7L214.5 270.3L216.5 271.3L218.5 272.0L220.5 272.6L222.5 272.8L224.5 272.6L226.5 272.3L228.5 272.0L230.5 271.7L232.5 271.4L234.5 271.0L236.5 270.7L238.5 270.4L240.5 270.2L242.5 270.0L244.5 269.9L246.5 269.7L248.5 269.6L250.5 269.4L252.5 269.0L254.5 268.4L256.5 267.9L258.5 267.1L260.5 266.0L262.5 264.8L264.5 263.0L266.5 260.7L268.5 257.5L270.5 253.7L272.5 251.7" stroke="#1d5fa2" stroke-width="0.70" fill="none"/>
<path d="M60.5 289.9L62.5 287.7L64.5 284.1L66.5 280.5L68.5 278.3L70.5 276.8L72.5 275.7L74.5 274.6L76.5 273.8L78.5 273.2L80.5 272.8L82.5 272.4L84.5 272.1L86.5 271.6L88.5 271.2L90.5 270.8L92.5 270.6L94.5 270.4L96.5 270.1L98.5 269.9L100.5 269.5L102.5 269.1L104.5 268.7L106.5 268.4L108.5 268.3L110.5 268.3L112.5 268.7L114.5 269.2L116.5 269.8L118.5 270.3L120.5 270.8L122.5 270.9L124.5 270.3L126.5 269.1L128.5 267.7L130.5 266.6L132.5 265.7L134.5 265.1L136.5 264.6L138.5 264.3L140.5 264.1L142.5 264.2L144.5 264.5L146.5 265.0L148.5 265.9L150.5 267.0L152.5 268.2L154.5 269.2L156.5 270.0L158.5 270.3L160.5 270.0L162.5 269.2L164.5 268.3L166.5 267.5L168.5 266.7L170.5 265.8L172.5 264.9L174.5 264.0L176.5 263.1L178.5 262.2L180.5 261.5L182.5 260.8L184.5 260.3L186.5 259.8L188.5 259.4L190.5 259.1L192.5 259.0L194.5 259.1L196.5 259.2L198.5 259.5L200.5 260.0L202.5 260.6L204.5 261.3L206.5 262.2L208.5 263.1L210.5 263.3L212.5 262.9L214.5 262.1L216.5 261.5L218.5 261.0L220.5 260.7L222.5 260.7L224.5 260.8L226.5 261.4L228.5 262.1L230.5 263.2L232.5 264.3L234.5 265.1L236.5 265.4L238.5 265.1L240.5 264.6L242.5 264.1L244.5 263.9L246.5 263.9L248.5 264.1L250.5 264.4L252.5 264.4L254.5 264.2L256.5 263.8L258.5 263.2L260.5 262.4L262.5 261.1L264.5 259.5L266.5 257.4L268.5 255.0L270.5 252.1L272.5 250.6" stroke="#8c0c25" stroke-width="1.25" fill="none"/>
<path d="M60.5 290.8L62.5 290.6L64.5 289.2L66.5 286.7L68.5 283.7L70.5 281.3L72.5 279.8L74.5 278.5L76.5 277.7L78.5 277.1L80.5 276.8L82.5 276.6L84.5 276.6L86.5 276.6L88.5 276.6L90.5 276.6L92.5 276.4L94.5 276.2L96.5 276.1L98.5 276.3L100.5 276.9L102.5 277.7L104.5 278.7L106.5 279.5L108.5 280.1L110.5 280.5L112.5 280.7L114.5 280.6L116.5 280.2L118.5 279.8L120.5 279.4L122.5 279.1L124.5 279.2L126.5 279.6L128.5 280.1L130.5 280.6L132.5 281.0L134.5 281.4L136.5 281.6L138.5 281.8L140.5 281.8L142.5 281.7L144.5 281.4L146.5 280.9L148.5 280.1L150.5 279.5L152.5 278.8L154.5 278.0L156.5 277.3L158.5 276.5L160.5 275.7L162.5 274.9L164.5 274.1L166.5 273.3L168.5 272.5L170.5 271.8L172.5 271.2L174.5 271.1L176.5 271.5L178.5 272.3L180.5 273.3L182.5 274.1L184.5 274.9L186.5 275.5L188.5 275.9L190.5 276.1L192.5 276.1L194.5 275.7L196.5 275.2L198.5 274.5L200.5 273.5L202.5 272.4L204.5 271.4L206.5 270.5L208.5 269.9L210.5 269.6L212.5 270.0L214.5 270.7L216.5 271.6L218.5 272.3L220.5 272.9L222.5 273.1L224.5 272.9L226.5 272.6L228.5 272.3L230.5 272.0L232.5 271.7L234.5 271.3L236.5 271.0L238.5 270.7L240.5 270.5L242.5 270.3L244.5 270.1L246.5 270.0L248.5 269.9L250.5 269.6L252.5 269.2L254.5 268.7L256.5 268.1L258.5 267.3L260.5 266.2L262.5 265.0L264.5 263.2L266.5 260.8L268.5 257.6L270.5 253.8L272.5 251.8" stroke="#134b86" stroke-width="1.25" fill="none"/></g>
<g clip-path="url(#c41)"><path d="M304.5 252.1L306.5 252.0L308.5 252.0L310.5 252.0L312.5 252.8L314.5 254.2L316.5 256.1L318.5 257.8L320.5 259.5L322.5 261.3L324.5 263.1L326.5 264.7L328.5 266.1L330.5 267.6L332.5 269.2L334.5 270.7L336.5 271.8L338.5 272.6L340.5 273.0L342.5 273.2L344.5 273.3L346.5 273.5L348.5 273.7L350.5 273.9L352.5 274.1L354.5 274.3L356.5 274.4L358.5 274.4L360.5 274.4L362.5 274.2L364.5 273.6L366.5 272.9L368.5 272.9L370.5 272.9L372.5 272.7L374.5 272.5L376.5 272.4L378.5 272.4L380.5 272.4L382.5 272.6L384.5 272.9L386.5 273.3L388.5 273.8L390.5 274.1L392.5 274.3L394.5 274.5L396.5 274.5L398.5 274.1L400.5 273.6L402.5 273.0L404.5 272.4L406.5 271.7L408.5 271.1L410.5 270.6L412.5 270.2L414.5 269.7L416.5 269.3L418.5 268.9L420.5 268.5L422.5 268.0L424.5 267.6L426.5 267.3L428.5 267.0L430.5 266.8L432.5 266.6L434.5 266.5L436.5 266.5L438.5 266.5L440.5 266.5L442.5 266.5L444.5 266.6L446.5 266.8L448.5 266.8L450.5 266.8L452.5 266.7L454.5 266.7L456.5 266.5L458.5 266.4L460.5 266.2L462.5 266.1L464.5 265.7L466.5 266.0L468.5 266.1L470.5 266.2L472.5 266.4L474.5 266.7L476.5 267.3L478.5 267.8L480.5 268.4L482.5 269.0L484.5 269.8L486.5 270.9L488.5 272.2L490.5 273.7L492.5 275.3L494.5 276.8L496.5 278.2L498.5 279.4L500.5 280.6L502.5 282.5L504.5 284.5L506.5 286.1L508.5 287.3L510.5 287.9L512.5 288.3L514.5 288.5L516.5 288.6" stroke="#f8f0ec" stroke-width="0.70" fill="none"/>
<path d="M304.5 252.2L306.5 252.1L308.5 252.1L310.5 252.1L312.5 253.0L314.5 254.5L316.5 257.1L318.5 259.6L320.5 261.4L322.5 263.3L324.5 265.0L326.5 266.5L328.5 268.0L330.5 269.4L332.5 270.7L334.5 272.0L336.5 273.0L338.5 273.8L340.5 274.4L342.5 274.9L344.5 275.2L346.5 275.5L348.5 275.7L350.5 275.8L352.5 275.9L354.5 275.9L356.5 275.8L358.5 275.7L360.5 275.5L362.5 275.4L364.5 274.8L366.5 274.2L368.5 274.9L370.5 275.5L372.5 275.6L374.5 275.6L376.5 275.6L378.5 275.6L380.5 275.6L382.5 275.7L384.5 275.7L386.5 275.8L388.5 275.8L390.5 275.7L392.5 275.5L394.5 275.2L396.5 274.8L398.5 274.4L400.5 273.9L402.5 273.3L404.5 272.6L406.5 271.9L408.5 271.3L410.5 270.8L412.5 270.4L414.5 269.9L416.5 269.5L418.5 269.1L420.5 268.7L422.5 268.2L424.5 267.8L426.5 267.5L428.5 267.3L430.5 267.2L432.5 267.6L434.5 268.1L436.5 268.5L438.5 268.9L440.5 269.3L442.5 269.6L444.5 269.8L446.5 269.9L448.5 269.8L450.5 269.5L452.5 269.1L454.5 268.6L456.5 267.9L458.5 267.3L460.5 266.8L462.5 266.4L464.5 266.0L466.5 266.3L468.5 266.6L470.5 267.1L472.5 267.8L474.5 268.5L476.5 269.1L478.5 269.5L480.5 269.7L482.5 269.9L484.5 270.4L486.5 271.4L488.5 272.8L490.5 274.4L492.5 276.1L494.5 277.7L496.5 279.1L498.5 280.4L500.5 281.5L502.5 283.0L504.5 284.8L506.5 286.4L508.5 287.4L510.5 287.9L512.5 288.4L514.5 288.6L516.5 288.6" stroke="#eef3f5" stroke-width="0.70" fill="none"/>
<path d="M304.5 252.1L306.5 252.0L308.5 252.0L310.5 252.0L312.5 252.7L314.5 253.9L316.5 255.1L318.5 256.1L320.5 257.6L322.5 259.3L324.5 261.3L326.5 262.8L328.5 264.3L330.5 265.9L332.5 267.7L334.5 269.5L336.5 270.7L338.5 271.4L340.5 271.6L342.5 271.5L344.5 271.3L346.5 271.4L348.5 271.6L350.5 271.9L352.5 272.3L354.5 272.7L356.5 273.0L358.5 273.2L360.5 273.2L362.5 272.9L364.5 272.4L366.5 271.7L368.5 271.0L370.5 270.3L372.5 269.8L374.5 269.4L376.5 269.2L378.5 269.1L380.5 269.2L382.5 269.5L384.5 270.1L386.5 270.8L388.5 271.7L390.5 272.5L392.5 273.2L394.5 273.8L396.5 274.2L398.5 273.9L400.5 273.4L402.5 272.8L404.5 272.2L406.5 271.5L408.5 270.9L410.5 270.4L412.5 270.0L414.5 269.5L416.5 269.1L418.5 268.7L420.5 268.3L422.5 267.8L424.5 267.4L426.5 267.0L428.5 266.8L430.5 266.3L432.5 265.6L434.5 264.9L436.5 264.4L438.5 264.0L440.5 263.7L442.5 263.4L444.5 263.4L446.5 263.6L448.5 263.9L450.5 264.1L452.5 264.4L454.5 264.9L456.5 265.1L458.5 265.4L460.5 265.7L462.5 265.8L464.5 265.4L466.5 265.7L468.5 265.5L470.5 265.3L472.5 265.0L474.5 265.0L476.5 265.4L478.5 266.1L480.5 267.0L482.5 268.0L484.5 269.1L486.5 270.3L488.5 271.7L490.5 273.1L492.5 274.4L494.5 275.8L496.5 277.2L498.5 278.5L500.5 279.7L502.5 282.0L504.5 284.2L506.5 285.9L508.5 287.2L510.5 287.8L512.5 288.2L514.5 288.4L516.5 288.5" stroke="#f6b090" stroke-width="0.70" fill="none"/>
<path d="M304.5 252.2L306.5 252.1L308.5 252.1L310.5 252.2L312.5 253.1L314.5 254.8L316.5 258.1L318.5 261.4L320.5 263.3L322.5 265.3L324.5 266.9L326.5 268.4L328.5 269.8L330.5 271.1L332.5 272.2L334.5 273.2L336.5 274.2L338.5 275.1L340.5 275.9L342.5 276.6L344.5 277.2L346.5 277.5L348.5 277.7L350.5 277.8L352.5 277.7L354.5 277.4L356.5 277.2L358.5 276.9L360.5 276.7L362.5 276.7L364.5 276.1L366.5 275.5L368.5 276.9L370.5 278.1L372.5 278.4L374.5 278.7L376.5 278.9L378.5 278.9L380.5 278.9L382.5 278.7L384.5 278.6L386.5 278.3L388.5 277.9L390.5 277.3L392.5 276.6L394.5 275.8L396.5 275.1L398.5 274.6L400.5 274.1L402.5 273.5L404.5 272.8L406.5 272.1L408.5 271.5L410.5 271.0L412.5 270.6L414.5 270.1L416.5 269.7L418.5 269.3L420.5 268.9L422.5 268.4L424.5 268.1L426.5 267.8L428.5 267.6L430.5 267.7L432.5 268.6L434.5 269.6L436.5 270.5L438.5 271.4L440.5 272.1L442.5 272.7L444.5 273.0L446.5 273.1L448.5 272.8L450.5 272.2L452.5 271.4L454.5 270.4L456.5 269.3L458.5 268.2L460.5 267.3L462.5 266.7L464.5 266.3L466.5 266.6L468.5 267.2L470.5 268.0L472.5 269.1L474.5 270.2L476.5 271.0L478.5 271.2L480.5 271.1L482.5 270.9L484.5 271.1L486.5 271.9L488.5 273.4L490.5 275.1L492.5 276.9L494.5 278.6L496.5 280.1L498.5 281.3L500.5 282.4L502.5 283.6L504.5 285.2L506.5 286.6L508.5 287.6L510.5 288.0L512.5 288.4L514.5 288.6L516.5 288.7" stroke="#98c8e0" stroke-width="0.70" fill="none"/>
<path d="M304.5 252.0L306.5 251.9L308.5 251.9L310.5 251.9L312.5 252.5L314.5 253.6L316.5 254.7L318.5 255.6L320.5 257.0L322.5 258.6L324.5 260.4L326.5 262.0L328.5 263.5L330.5 265.1L332.5 266.8L334.5 268.6L336.5 269.9L338.5 270.7L340.5 270.9L342.5 270.9L344.5 270.7L346.5 270.9L348.5 271.1L350.5 271.3L352.5 271.7L354.5 272.1L356.5 272.5L358.5 272.6L360.5 272.6L362.5 272.3L364.5 271.8L366.5 271.1L368.5 270.4L370.5 269.7L372.5 269.2L374.5 268.8L376.5 268.6L378.5 268.5L380.5 268.6L382.5 268.9L384.5 269.5L386.5 270.2L388.5 271.1L390.5 271.9L392.5 272.6L394.5 273.2L396.5 273.6L398.5 273.3L400.5 272.9L402.5 272.3L404.5 271.7L406.5 271.0L408.5 270.4L410.5 270.0L412.5 269.5L414.5 269.1L416.5 268.7L418.5 268.3L420.5 267.8L422.5 267.3L424.5 266.9L426.5 266.5L428.5 266.1L430.5 265.6L432.5 264.9L434.5 264.3L436.5 263.7L438.5 263.3L440.5 263.0L442.5 262.7L444.5 262.7L446.5 262.9L448.5 263.2L450.5 263.4L452.5 263.7L454.5 264.2L456.5 264.4L458.5 264.7L460.5 265.0L462.5 265.1L464.5 264.8L466.5 265.0L468.5 264.8L470.5 264.6L472.5 264.3L474.5 264.3L476.5 264.7L478.5 265.3L480.5 266.2L482.5 267.1L484.5 268.2L486.5 269.4L488.5 270.6L490.5 272.0L492.5 273.3L494.5 274.6L496.5 275.9L498.5 277.2L500.5 278.4L502.5 280.8L504.5 283.2L506.5 285.3L508.5 286.9L510.5 287.6L512.5 288.1L514.5 288.4L516.5 288.5" stroke="#ee9878" stroke-width="0.70" fill="none"/>
<path d="M304.5 252.3L306.5 252.3L308.5 252.3L310.5 252.3L312.5 253.5L314.5 255.6L316.5 259.2L318.5 262.5L320.5 264.4L322.5 266.3L324.5 267.9L326.5 269.3L328.5 270.7L330.5 271.9L332.5 273.0L334.5 274.0L336.5 274.9L338.5 275.8L340.5 276.5L342.5 277.2L344.5 277.8L346.5 278.1L348.5 278.3L350.5 278.3L352.5 278.2L354.5 277.9L356.5 277.7L358.5 277.4L360.5 277.2L362.5 277.2L364.5 276.7L366.5 276.3L368.5 277.5L370.5 278.6L372.5 278.9L374.5 279.2L376.5 279.3L378.5 279.4L380.5 279.3L382.5 279.2L384.5 279.1L386.5 278.8L388.5 278.4L390.5 277.8L392.5 277.1L394.5 276.3L396.5 275.6L398.5 275.1L400.5 274.5L402.5 273.8L404.5 273.1L406.5 272.4L408.5 271.8L410.5 271.3L412.5 270.9L414.5 270.5L416.5 270.1L418.5 269.6L420.5 269.2L422.5 268.8L424.5 268.4L426.5 268.2L428.5 268.0L430.5 268.2L432.5 269.1L434.5 270.1L436.5 271.0L438.5 271.8L440.5 272.6L442.5 273.1L444.5 273.5L446.5 273.5L448.5 273.2L450.5 272.7L452.5 271.9L454.5 270.9L456.5 269.7L458.5 268.7L460.5 267.8L462.5 267.1L464.5 266.8L466.5 267.1L468.5 267.6L470.5 268.4L472.5 269.6L474.5 270.7L476.5 271.4L478.5 271.6L480.5 271.5L482.5 271.3L484.5 271.5L486.5 272.3L488.5 273.8L490.5 275.5L492.5 277.4L494.5 279.1L496.5 280.5L498.5 281.7L500.5 282.9L502.5 284.0L504.5 285.5L506.5 286.9L508.5 287.8L510.5 288.3L512.5 288.6L514.5 288.8L516.5 288.9" stroke="#7db7d7" stroke-width="0.70" fill="none"/>
<path d="M304.5 251.9L306.5 251.9L308.5 251.8L310.5 251.8L312.5 252.4L314.5 253.3L316.5 254.3L318.5 255.1L320.5 256.4L322.5 257.9L324.5 259.6L326.5 261.1L328.5 262.6L330.5 264.2L332.5 265.9L334.5 267.8L336.5 269.1L338.5 269.9L340.5 270.2L342.5 270.2L344.5 270.2L346.5 270.3L348.5 270.5L350.5 270.8L352.5 271.1L354.5 271.5L356.5 271.9L358.5 272.0L360.5 272.0L362.5 271.7L364.5 271.2L366.5 270.5L368.5 269.8L370.5 269.1L372.5 268.6L374.5 268.2L376.5 267.9L378.5 267.9L380.5 268.0L382.5 268.3L384.5 268.8L386.5 269.6L388.5 270.4L390.5 271.2L392.5 271.9L394.5 272.6L396.5 272.9L398.5 272.7L400.5 272.4L402.5 271.8L404.5 271.2L406.5 270.6L408.5 270.0L410.5 269.5L412.5 269.1L414.5 268.6L416.5 268.2L418.5 267.8L420.5 267.4L422.5 266.9L424.5 266.4L426.5 265.9L428.5 265.5L430.5 265.0L432.5 264.2L434.5 263.6L436.5 263.0L438.5 262.6L440.5 262.3L442.5 262.0L444.5 262.0L446.5 262.2L448.5 262.5L450.5 262.7L452.5 262.9L454.5 263.4L456.5 263.7L458.5 264.0L460.5 264.3L462.5 264.4L464.5 264.1L466.5 264.3L468.5 264.1L470.5 263.8L472.5 263.6L474.5 263.5L476.5 263.9L478.5 264.5L480.5 265.3L482.5 266.2L484.5 267.3L486.5 268.4L488.5 269.6L490.5 270.9L492.5 272.2L494.5 273.4L496.5 274.7L498.5 276.0L500.5 277.2L502.5 279.6L504.5 282.3L506.5 284.7L508.5 286.6L510.5 287.5L512.5 288.0L514.5 288.3L516.5 288.4" stroke="#e37e64" stroke-width="0.70" fill="none"/>
<path d="M304.5 252.4L306.5 252.4L308.5 252.4L310.5 252.5L312.5 253.9L314.5 256.3L316.5 260.3L318.5 263.6L320.5 265.5L322.5 267.4L324.5 268.9L326.5 270.3L328.5 271.6L330.5 272.8L332.5 273.8L334.5 274.7L336.5 275.6L338.5 276.4L340.5 277.2L342.5 277.8L344.5 278.3L346.5 278.6L348.5 278.8L350.5 278.8L352.5 278.7L354.5 278.5L356.5 278.2L358.5 277.9L360.5 277.7L362.5 277.7L364.5 277.3L366.5 277.0L368.5 278.1L370.5 279.1L372.5 279.4L374.5 279.7L376.5 279.8L378.5 279.9L380.5 279.8L382.5 279.7L384.5 279.5L386.5 279.3L388.5 278.9L390.5 278.3L392.5 277.6L394.5 276.8L396.5 276.0L398.5 275.5L400.5 274.9L402.5 274.2L404.5 273.5L406.5 272.8L408.5 272.2L410.5 271.7L412.5 271.2L414.5 270.8L416.5 270.4L418.5 270.0L420.5 269.5L422.5 269.1L424.5 268.8L426.5 268.5L428.5 268.5L430.5 268.7L432.5 269.6L434.5 270.5L436.5 271.5L438.5 272.3L440.5 273.0L442.5 273.6L444.5 273.9L446.5 274.0L448.5 273.7L450.5 273.1L452.5 272.3L454.5 271.3L456.5 270.2L458.5 269.2L460.5 268.2L462.5 267.6L464.5 267.3L466.5 267.5L468.5 268.1L470.5 268.9L472.5 270.0L474.5 271.1L476.5 271.8L478.5 272.1L480.5 271.9L482.5 271.8L484.5 272.0L486.5 272.8L488.5 274.3L490.5 276.0L492.5 277.8L494.5 279.5L496.5 281.0L498.5 282.2L500.5 283.3L502.5 284.4L504.5 285.9L506.5 287.1L508.5 288.0L510.5 288.5L512.5 288.8L514.5 289.0L516.5 289.0" stroke="#5fa5cd" stroke-width="0.70" fill="none"/>
<path d="M304.5 251.8L306.5 251.8L308.5 251.8L310.5 251.8L312.5 252.2L314.5 253.0L316.5 253.9L318.5 254.7L320.5 255.8L322.5 257.2L324.5 258.8L326.5 260.2L328.5 261.8L330.5 263.4L332.5 265.1L334.5 266.9L336.5 268.2L338.5 269.1L340.5 269.5L342.5 269.6L344.5 269.6L346.5 269.7L348.5 269.9L350.5 270.2L352.5 270.5L354.5 270.9L356.5 271.3L358.5 271.5L360.5 271.4L362.5 271.1L364.5 270.6L366.5 269.9L368.5 269.2L370.5 268.5L372.5 268.0L374.5 267.6L376.5 267.3L378.5 267.3L380.5 267.4L382.5 267.7L384.5 268.2L386.5 269.0L388.5 269.8L390.5 270.6L392.5 271.3L394.5 271.9L396.5 272.3L398.5 272.2L400.5 271.8L402.5 271.4L404.5 270.8L406.5 270.1L408.5 269.6L410.5 269.1L412.5 268.6L414.5 268.2L416.5 267.8L418.5 267.4L420.5 266.9L422.5 266.4L424.5 265.9L426.5 265.4L428.5 264.9L430.5 264.3L432.5 263.5L434.5 262.9L436.5 262.4L438.5 261.9L440.5 261.6L442.5 261.3L444.5 261.3L446.5 261.5L448.5 261.8L450.5 262.0L452.5 262.2L454.5 262.7L456.5 263.0L458.5 263.3L460.5 263.6L462.5 263.7L464.5 263.5L466.5 263.6L468.5 263.4L470.5 263.1L472.5 262.9L474.5 262.8L476.5 263.2L478.5 263.7L480.5 264.5L482.5 265.4L484.5 266.3L486.5 267.4L488.5 268.6L490.5 269.8L492.5 271.0L494.5 272.3L496.5 273.5L498.5 274.7L500.5 276.0L502.5 278.4L504.5 281.3L506.5 284.2L508.5 286.3L510.5 287.3L512.5 287.9L514.5 288.2L516.5 288.4" stroke="#d7634f" stroke-width="0.70" fill="none"/>
<path d="M304.5 252.5L306.5 252.5L308.5 252.6L310.5 252.6L312.5 254.3L314.5 257.1L316.5 261.3L318.5 264.7L320.5 266.6L322.5 268.5L324.5 269.9L326.5 271.2L328.5 272.5L330.5 273.6L332.5 274.6L334.5 275.5L336.5 276.3L338.5 277.1L340.5 277.8L342.5 278.4L344.5 278.9L346.5 279.2L348.5 279.4L350.5 279.3L352.5 279.2L354.5 279.0L356.5 278.7L358.5 278.4L360.5 278.2L362.5 278.2L364.5 277.9L366.5 277.8L368.5 278.7L370.5 279.6L372.5 279.9L374.5 280.2L376.5 280.3L378.5 280.4L380.5 280.3L382.5 280.2L384.5 280.0L386.5 279.8L388.5 279.4L390.5 278.8L392.5 278.0L394.5 277.3L396.5 276.5L398.5 275.9L400.5 275.3L402.5 274.6L404.5 273.8L406.5 273.1L408.5 272.5L410.5 272.0L412.5 271.5L414.5 271.1L416.5 270.7L418.5 270.3L420.5 269.9L422.5 269.4L424.5 269.1L426.5 268.9L428.5 268.9L430.5 269.2L432.5 270.0L434.5 271.0L436.5 271.9L438.5 272.8L440.5 273.5L442.5 274.1L444.5 274.4L446.5 274.5L448.5 274.2L450.5 273.6L452.5 272.8L454.5 271.8L456.5 270.7L458.5 269.6L460.5 268.7L462.5 268.0L464.5 267.7L466.5 268.0L468.5 268.5L470.5 269.3L472.5 270.5L474.5 271.6L476.5 272.3L478.5 272.5L480.5 272.4L482.5 272.2L484.5 272.4L486.5 273.2L488.5 274.7L490.5 276.4L492.5 278.2L494.5 279.9L496.5 281.4L498.5 282.6L500.5 283.7L502.5 284.9L504.5 286.2L506.5 287.4L508.5 288.3L510.5 288.7L512.5 289.0L514.5 289.1L516.5 289.2" stroke="#4392c3" stroke-width="0.70" fill="none"/>
<path d="M304.5 251.7L306.5 251.7L308.5 251.7L310.5 251.7L312.5 252.1L314.5 252.8L316.5 253.5L318.5 254.2L320.5 255.3L322.5 256.5L324.5 258.0L326.5 259.4L328.5 260.9L330.5 262.5L332.5 264.2L334.5 266.0L336.5 267.4L338.5 268.4L340.5 268.8L342.5 269.0L344.5 269.0L346.5 269.1L348.5 269.3L350.5 269.6L352.5 269.9L354.5 270.3L356.5 270.7L358.5 270.9L360.5 270.8L362.5 270.5L364.5 270.0L366.5 269.3L368.5 268.6L370.5 267.9L372.5 267.4L374.5 267.0L376.5 266.7L378.5 266.7L380.5 266.7L382.5 267.1L384.5 267.6L386.5 268.3L388.5 269.2L390.5 270.0L392.5 270.7L394.5 271.3L396.5 271.7L398.5 271.6L400.5 271.3L402.5 270.9L404.5 270.3L406.5 269.7L408.5 269.1L410.5 268.6L412.5 268.2L414.5 267.8L416.5 267.3L418.5 266.9L420.5 266.4L422.5 265.9L424.5 265.4L426.5 264.8L428.5 264.2L430.5 263.6L432.5 262.9L434.5 262.2L436.5 261.7L438.5 261.3L440.5 260.9L442.5 260.7L444.5 260.6L446.5 260.8L448.5 261.1L450.5 261.3L452.5 261.5L454.5 262.0L456.5 262.3L458.5 262.6L460.5 262.8L462.5 263.0L464.5 262.8L466.5 262.9L468.5 262.7L470.5 262.4L472.5 262.2L474.5 262.1L476.5 262.4L478.5 263.0L480.5 263.7L482.5 264.5L484.5 265.4L486.5 266.5L488.5 267.6L490.5 268.7L492.5 269.9L494.5 271.1L496.5 272.2L498.5 273.4L500.5 274.7L502.5 277.2L504.5 280.4L506.5 283.6L508.5 286.0L510.5 287.2L512.5 287.8L514.5 288.1L516.5 288.3" stroke="#ca4741" stroke-width="0.70" fill="none"/>
<path d="M304.5 252.6L306.5 252.6L308.5 252.7L310.5 252.8L312.5 254.7L314.5 257.9L316.5 262.4L318.5 265.8L320.5 267.8L322.5 269.5L324.5 270.9L326.5 272.2L328.5 273.4L330.5 274.5L332.5 275.4L334.5 276.3L336.5 277.1L338.5 277.8L340.5 278.5L342.5 279.0L344.5 279.5L346.5 279.7L348.5 279.9L350.5 279.9L352.5 279.7L354.5 279.5L356.5 279.2L358.5 278.9L360.5 278.7L362.5 278.7L364.5 278.6L366.5 278.5L368.5 279.3L370.5 280.1L372.5 280.4L374.5 280.7L376.5 280.8L378.5 280.9L380.5 280.8L382.5 280.7L384.5 280.5L386.5 280.3L388.5 279.8L390.5 279.3L392.5 278.5L394.5 277.8L396.5 277.0L398.5 276.4L400.5 275.7L402.5 274.9L404.5 274.2L406.5 273.4L408.5 272.8L410.5 272.3L412.5 271.9L414.5 271.4L416.5 271.0L418.5 270.6L420.5 270.2L422.5 269.8L424.5 269.5L426.5 269.3L428.5 269.3L430.5 269.7L432.5 270.5L434.5 271.5L436.5 272.4L438.5 273.2L440.5 274.0L442.5 274.5L444.5 274.9L446.5 274.9L448.5 274.6L450.5 274.1L452.5 273.2L454.5 272.3L456.5 271.1L458.5 270.1L460.5 269.1L462.5 268.5L464.5 268.2L466.5 268.4L468.5 269.0L470.5 269.8L472.5 270.9L474.5 272.0L476.5 272.7L478.5 273.0L480.5 272.8L482.5 272.6L484.5 272.8L486.5 273.7L488.5 275.1L490.5 276.8L492.5 278.7L494.5 280.4L496.5 281.8L498.5 283.0L500.5 284.2L502.5 285.3L504.5 286.6L506.5 287.7L508.5 288.5L510.5 288.9L512.5 289.2L514.5 289.3L516.5 289.3" stroke="#3682ba" stroke-width="0.70" fill="none"/>
<path d="M304.5 251.7L306.5 251.6L308.5 251.6L310.5 251.6L312.5 251.9L314.5 252.5L316.5 253.1L318.5 253.8L320.5 254.7L322.5 255.8L324.5 257.1L326.5 258.5L328.5 260.1L330.5 261.6L332.5 263.4L334.5 265.2L336.5 266.6L338.5 267.6L340.5 268.1L342.5 268.3L344.5 268.4L346.5 268.6L348.5 268.8L350.5 269.0L352.5 269.4L354.5 269.8L356.5 270.1L358.5 270.3L360.5 270.2L362.5 269.9L364.5 269.4L366.5 268.7L368.5 268.0L370.5 267.3L372.5 266.7L374.5 266.4L376.5 266.1L378.5 266.1L380.5 266.1L382.5 266.4L384.5 267.0L386.5 267.7L388.5 268.6L390.5 269.3L392.5 270.0L394.5 270.7L396.5 271.0L398.5 271.0L400.5 270.8L402.5 270.4L404.5 269.8L406.5 269.2L408.5 268.7L410.5 268.2L412.5 267.7L414.5 267.3L416.5 266.9L418.5 266.5L420.5 266.0L422.5 265.4L424.5 264.9L426.5 264.2L428.5 263.6L430.5 262.9L432.5 262.2L434.5 261.5L436.5 261.0L438.5 260.6L440.5 260.2L442.5 260.0L444.5 259.9L446.5 260.1L448.5 260.4L450.5 260.6L452.5 260.8L454.5 261.2L456.5 261.5L458.5 261.9L460.5 262.1L462.5 262.3L464.5 262.2L466.5 262.2L468.5 262.0L470.5 261.7L472.5 261.5L474.5 261.4L476.5 261.7L478.5 262.2L480.5 262.8L482.5 263.6L484.5 264.5L486.5 265.5L488.5 266.5L490.5 267.7L492.5 268.8L494.5 269.9L496.5 271.0L498.5 272.1L500.5 273.5L502.5 276.0L504.5 279.4L506.5 283.0L508.5 285.7L510.5 287.1L512.5 287.7L514.5 288.1L516.5 288.2" stroke="#bc2c34" stroke-width="0.70" fill="none"/>
<path d="M304.5 252.7L306.5 252.7L308.5 252.8L310.5 252.9L312.5 255.0L314.5 258.7L316.5 263.4L318.5 266.9L320.5 268.9L322.5 270.6L324.5 271.9L326.5 273.2L328.5 274.3L330.5 275.3L332.5 276.2L334.5 277.0L336.5 277.8L338.5 278.5L340.5 279.1L342.5 279.6L344.5 280.0L346.5 280.3L348.5 280.4L350.5 280.4L352.5 280.2L354.5 280.0L356.5 279.7L358.5 279.4L360.5 279.2L362.5 279.2L364.5 279.2L366.5 279.3L368.5 279.9L370.5 280.6L372.5 280.9L374.5 281.2L376.5 281.3L378.5 281.3L380.5 281.3L382.5 281.2L384.5 281.0L386.5 280.8L388.5 280.3L390.5 279.7L392.5 279.0L394.5 278.3L396.5 277.5L398.5 276.8L400.5 276.1L402.5 275.3L404.5 274.5L406.5 273.8L408.5 273.1L410.5 272.6L412.5 272.2L414.5 271.8L416.5 271.3L418.5 270.9L420.5 270.5L422.5 270.1L424.5 269.8L426.5 269.7L428.5 269.8L430.5 270.2L432.5 271.0L434.5 271.9L436.5 272.9L438.5 273.7L440.5 274.4L442.5 275.0L444.5 275.3L446.5 275.4L448.5 275.1L450.5 274.5L452.5 273.7L454.5 272.7L456.5 271.6L458.5 270.5L460.5 269.6L462.5 268.9L464.5 268.7L466.5 268.9L468.5 269.4L470.5 270.2L472.5 271.4L474.5 272.5L476.5 273.2L478.5 273.4L480.5 273.3L482.5 273.1L484.5 273.3L486.5 274.1L488.5 275.6L490.5 277.3L492.5 279.1L494.5 280.8L496.5 282.3L498.5 283.5L500.5 284.6L502.5 285.7L504.5 287.0L506.5 288.0L508.5 288.7L510.5 289.1L512.5 289.4L514.5 289.5L516.5 289.5" stroke="#2971b2" stroke-width="0.70" fill="none"/>
<path d="M304.5 251.6L306.5 251.6L308.5 251.6L310.5 251.6L312.5 251.8L314.5 252.2L316.5 252.7L318.5 253.3L320.5 254.1L322.5 255.1L324.5 256.3L326.5 257.7L328.5 259.2L330.5 260.8L332.5 262.5L334.5 264.3L336.5 265.8L338.5 266.9L340.5 267.4L342.5 267.7L344.5 267.8L346.5 268.0L348.5 268.2L350.5 268.5L352.5 268.8L354.5 269.2L356.5 269.5L358.5 269.7L360.5 269.6L362.5 269.3L364.5 268.8L366.5 268.1L368.5 267.4L370.5 266.7L372.5 266.1L374.5 265.7L376.5 265.5L378.5 265.4L380.5 265.5L382.5 265.8L384.5 266.4L386.5 267.1L388.5 267.9L390.5 268.7L392.5 269.4L394.5 270.0L396.5 270.4L398.5 270.5L400.5 270.3L402.5 269.9L404.5 269.4L406.5 268.8L408.5 268.2L410.5 267.7L412.5 267.3L414.5 266.9L416.5 266.4L418.5 266.0L420.5 265.5L422.5 265.0L424.5 264.4L426.5 263.7L428.5 263.0L430.5 262.2L432.5 261.5L434.5 260.9L436.5 260.3L438.5 259.9L440.5 259.5L442.5 259.3L444.5 259.2L446.5 259.4L448.5 259.7L450.5 259.9L452.5 260.1L454.5 260.5L456.5 260.8L458.5 261.2L460.5 261.4L462.5 261.5L464.5 261.5L466.5 261.5L468.5 261.2L470.5 261.0L472.5 260.7L474.5 260.7L476.5 260.9L478.5 261.4L480.5 262.0L482.5 262.7L484.5 263.6L486.5 264.5L488.5 265.5L490.5 266.6L492.5 267.6L494.5 268.7L496.5 269.7L498.5 270.9L500.5 272.3L502.5 274.8L504.5 278.5L506.5 282.4L508.5 285.4L510.5 286.9L512.5 287.6L514.5 288.0L516.5 288.2" stroke="#a9152a" stroke-width="0.70" fill="none"/>
<path d="M304.5 252.8L306.5 252.8L308.5 253.0L310.5 253.1L312.5 255.4L314.5 259.5L316.5 264.5L318.5 268.0L320.5 270.0L322.5 271.7L324.5 273.0L326.5 274.1L328.5 275.2L330.5 276.2L332.5 277.0L334.5 277.8L336.5 278.5L338.5 279.2L340.5 279.7L342.5 280.2L344.5 280.6L346.5 280.9L348.5 281.0L350.5 280.9L352.5 280.8L354.5 280.5L356.5 280.2L358.5 279.9L360.5 279.7L362.5 279.7L364.5 279.8L366.5 280.0L368.5 280.6L370.5 281.1L372.5 281.4L374.5 281.6L376.5 281.8L378.5 281.8L380.5 281.8L382.5 281.7L384.5 281.5L386.5 281.2L388.5 280.8L390.5 280.2L392.5 279.5L394.5 278.7L396.5 278.0L398.5 277.2L400.5 276.4L402.5 275.7L404.5 274.9L406.5 274.1L408.5 273.5L410.5 273.0L412.5 272.5L414.5 272.1L416.5 271.7L418.5 271.3L420.5 270.9L422.5 270.4L424.5 270.2L426.5 270.1L428.5 270.2L430.5 270.7L432.5 271.4L434.5 272.4L436.5 273.3L438.5 274.2L440.5 274.9L442.5 275.4L444.5 275.8L446.5 275.8L448.5 275.5L450.5 275.0L452.5 274.1L454.5 273.2L456.5 272.0L458.5 271.0L460.5 270.1L462.5 269.4L464.5 269.1L466.5 269.3L468.5 269.9L470.5 270.7L472.5 271.8L474.5 272.9L476.5 273.6L478.5 273.9L480.5 273.7L482.5 273.5L484.5 273.7L486.5 274.6L488.5 276.0L490.5 277.7L492.5 279.6L494.5 281.3L496.5 282.7L498.5 283.9L500.5 285.1L502.5 286.2L504.5 287.3L506.5 288.3L508.5 289.0L510.5 289.4L512.5 289.6L514.5 289.6L516.5 289.6" stroke="#1d5fa2" stroke-width="0.70" fill="none"/>
<path d="M304.5 251.5L306.5 251.5L308.5 251.5L310.5 251.5L312.5 251.6L314.5 251.9L316.5 252.3L318.5 252.8L320.5 253.5L322.5 254.4L324.5 255.5L326.5 256.8L328.5 258.3L330.5 259.9L332.5 261.7L334.5 263.5L336.5 265.0L338.5 266.1L340.5 266.7L342.5 267.0L344.5 267.2L346.5 267.4L348.5 267.6L350.5 267.9L352.5 268.2L354.5 268.6L356.5 268.9L358.5 269.1L360.5 269.1L362.5 268.7L364.5 268.2L366.5 267.5L368.5 266.8L370.5 266.1L372.5 265.5L374.5 265.1L376.5 264.9L378.5 264.8L380.5 264.9L382.5 265.2L384.5 265.7L386.5 266.5L388.5 267.3L390.5 268.1L392.5 268.8L394.5 269.4L396.5 269.8L398.5 269.9L400.5 269.8L402.5 269.4L404.5 268.9L406.5 268.3L408.5 267.8L410.5 267.3L412.5 266.8L414.5 266.4L416.5 266.0L418.5 265.6L420.5 265.1L422.5 264.5L424.5 263.9L426.5 263.1L428.5 262.3L430.5 261.6L432.5 260.8L434.5 260.2L436.5 259.6L438.5 259.2L440.5 258.8L442.5 258.6L444.5 258.5L446.5 258.7L448.5 259.0L450.5 259.2L452.5 259.4L454.5 259.7L456.5 260.1L458.5 260.5L460.5 260.7L462.5 260.8L464.5 260.9L466.5 260.7L468.5 260.5L470.5 260.3L472.5 260.0L474.5 260.0L476.5 260.2L478.5 260.6L480.5 261.2L482.5 261.9L484.5 262.7L486.5 263.6L488.5 264.5L490.5 265.5L492.5 266.5L494.5 267.5L496.5 268.5L498.5 269.6L500.5 271.0L502.5 273.6L504.5 277.5L506.5 281.8L508.5 285.1L510.5 286.8L512.5 287.5L514.5 287.9L516.5 288.1" stroke="#8c0c25" stroke-width="1.25" fill="none"/>
<path d="M304.5 252.9L306.5 253.0L308.5 253.1L310.5 253.2L312.5 255.8L314.5 260.3L316.5 265.6L318.5 269.1L320.5 271.2L322.5 272.8L324.5 274.0L326.5 275.1L328.5 276.1L330.5 277.0L332.5 277.8L334.5 278.6L336.5 279.2L338.5 279.9L340.5 280.4L342.5 280.9L344.5 281.2L346.5 281.4L348.5 281.5L350.5 281.5L352.5 281.3L354.5 281.0L356.5 280.7L358.5 280.4L360.5 280.2L362.5 280.2L364.5 280.4L366.5 280.8L368.5 281.2L370.5 281.6L372.5 281.9L374.5 282.1L376.5 282.3L378.5 282.3L380.5 282.3L382.5 282.1L384.5 282.0L386.5 281.7L388.5 281.3L390.5 280.7L392.5 280.0L394.5 279.2L396.5 278.4L398.5 277.6L400.5 276.8L402.5 276.0L404.5 275.2L406.5 274.4L408.5 273.8L410.5 273.3L412.5 272.8L414.5 272.4L416.5 272.0L418.5 271.6L420.5 271.2L422.5 270.8L424.5 270.5L426.5 270.5L428.5 270.7L430.5 271.1L432.5 271.9L434.5 272.9L436.5 273.8L438.5 274.6L440.5 275.3L442.5 275.9L444.5 276.3L446.5 276.3L448.5 276.0L450.5 275.4L452.5 274.6L454.5 273.6L456.5 272.5L458.5 271.4L460.5 270.5L462.5 269.9L464.5 269.6L466.5 269.8L468.5 270.3L470.5 271.1L472.5 272.3L474.5 273.4L476.5 274.1L478.5 274.3L480.5 274.2L482.5 274.0L484.5 274.2L486.5 275.0L488.5 276.5L490.5 278.2L492.5 280.0L494.5 281.7L496.5 283.1L498.5 284.4L500.5 285.5L502.5 286.6L504.5 287.7L506.5 288.6L508.5 289.2L510.5 289.6L512.5 289.7L514.5 289.8L516.5 289.8" stroke="#134b86" stroke-width="1.25" fill="none"/></g>
<rect x="60.5" y="11.0" width="212.0" height="39.8" fill="none" stroke="#9c9c9c" stroke-width="1.1"/>
<line x1="60.5" y1="50.8" x2="60.5" y2="52.6" stroke="#9c9c9c" stroke-width="1"/>
<line x1="113.5" y1="50.8" x2="113.5" y2="52.6" stroke="#9c9c9c" stroke-width="1"/>
<line x1="166.5" y1="50.8" x2="166.5" y2="52.6" stroke="#9c9c9c" stroke-width="1"/>
<line x1="219.5" y1="50.8" x2="219.5" y2="52.6" stroke="#9c9c9c" stroke-width="1"/>
<line x1="272.5" y1="50.8" x2="272.5" y2="52.6" stroke="#9c9c9c" stroke-width="1"/>
<rect x="304.5" y="11.0" width="212.5" height="39.8" fill="none" stroke="#9c9c9c" stroke-width="1.1"/>
<line x1="304.5" y1="50.8" x2="304.5" y2="52.6" stroke="#9c9c9c" stroke-width="1"/>
<line x1="357.6" y1="50.8" x2="357.6" y2="52.6" stroke="#9c9c9c" stroke-width="1"/>
<line x1="410.8" y1="50.8" x2="410.8" y2="52.6" stroke="#9c9c9c" stroke-width="1"/>
<line x1="463.9" y1="50.8" x2="463.9" y2="52.6" stroke="#9c9c9c" stroke-width="1"/>
<line x1="517.0" y1="50.8" x2="517.0" y2="52.6" stroke="#9c9c9c" stroke-width="1"/>
<rect x="60.5" y="71.0" width="212.0" height="39.8" fill="none" stroke="#9c9c9c" stroke-width="1.1"/>
<line x1="60.5" y1="110.8" x2="60.5" y2="112.6" stroke="#9c9c9c" stroke-width="1"/>
<line x1="113.5" y1="110.8" x2="113.5" y2="112.6" stroke="#9c9c9c" stroke-width="1"/>
<line x1="166.5" y1="110.8" x2="166.5" y2="112.6" stroke="#9c9c9c" stroke-width="1"/>
<line x1="219.5" y1="110.8" x2="219.5" y2="112.6" stroke="#9c9c9c" stroke-width="1"/>
<line x1="272.5" y1="110.8" x2="272.5" y2="112.6" stroke="#9c9c9c" stroke-width="1"/>
<rect x="304.5" y="71.0" width="212.5" height="39.8" fill="none" stroke="#9c9c9c" stroke-width="1.1"/>
<line x1="304.5" y1="110.8" x2="304.5" y2="112.6" stroke="#9c9c9c" stroke-width="1"/>
<line x1="357.6" y1="110.8" x2="357.6" y2="112.6" stroke="#9c9c9c" stroke-width="1"/>
<line x1="410.8" y1="110.8" x2="410.8" y2="112.6" stroke="#9c9c9c" stroke-width="1"/>
<line x1="463.9" y1="110.8" x2="463.9" y2="112.6" stroke="#9c9c9c" stroke-width="1"/>
<line x1="517.0" y1="110.8" x2="517.0" y2="112.6" stroke="#9c9c9c" stroke-width="1"/>
<rect x="60.5" y="131.0" width="212.0" height="39.8" fill="none" stroke="#9c9c9c" stroke-width="1.1"/>
<line x1="60.5" y1="170.8" x2="60.5" y2="172.6" stroke="#9c9c9c" stroke-width="1"/>
<line x1="113.5" y1="170.8" x2="113.5" y2="172.6" stroke="#9c9c9c" stroke-width="1"/>
<line x1="166.5" y1="170.8" x2="166.5" y2="172.6" stroke="#9c9c9c" stroke-width="1"/>
<line x1="219.5" y1="170.8" x2="219.5" y2="172.6" stroke="#9c9c9c" stroke-width="1"/>
<line x1="272.5" y1="170.8" x2="272.5" y2="172.6" stroke="#9c9c9c" stroke-width="1"/>
<rect x="304.5" y="131.0" width="212.5" height="39.8" fill="none" stroke="#9c9c9c" stroke-width="1.1"/>
<line x1="304.5" y1="170.8" x2="304.5" y2="172.6" stroke="#9c9c9c" stroke-width="1"/>
<line x1="357.6" y1="170.8" x2="357.6" y2="172.6" stroke="#9c9c9c" stroke-width="1"/>
<line x1="410.8" y1="170.8" x2="410.8" y2="172.6" stroke="#9c9c9c" stroke-width="1"/>
<line x1="463.9" y1="170.8" x2="463.9" y2="172.6" stroke="#9c9c9c" stroke-width="1"/>
<line x1="517.0" y1="170.8" x2="517.0" y2="172.6" stroke="#9c9c9c" stroke-width="1"/>
<rect x="60.5" y="191.0" width="212.0" height="39.8" fill="none" stroke="#9c9c9c" stroke-width="1.1"/>
<line x1="60.5" y1="230.8" x2="60.5" y2="232.6" stroke="#9c9c9c" stroke-width="1"/>
<line x1="113.5" y1="230.8" x2="113.5" y2="232.6" stroke="#9c9c9c" stroke-width="1"/>
<line x1="166.5" y1="230.8" x2="166.5" y2="232.6" stroke="#9c9c9c" stroke-width="1"/>
<line x1="219.5" y1="230.8" x2="219.5" y2="232.6" stroke="#9c9c9c" stroke-width="1"/>
<line x1="272.5" y1="230.8" x2="272.5" y2="232.6" stroke="#9c9c9c" stroke-width="1"/>
<rect x="304.5" y="191.0" width="212.5" height="39.8" fill="none" stroke="#9c9c9c" stroke-width="1.1"/>
<line x1="304.5" y1="230.8" x2="304.5" y2="232.6" stroke="#9c9c9c" stroke-width="1"/>
<line x1="357.6" y1="230.8" x2="357.6" y2="232.6" stroke="#9c9c9c" stroke-width="1"/>
<line x1="410.8" y1="230.8" x2="410.8" y2="232.6" stroke="#9c9c9c" stroke-width="1"/>
<line x1="463.9" y1="230.8" x2="463.9" y2="232.6" stroke="#9c9c9c" stroke-width="1"/>
<line x1="517.0" y1="230.8" x2="517.0" y2="232.6" stroke="#9c9c9c" stroke-width="1"/>
<rect x="60.5" y="251.0" width="212.0" height="39.8" fill="none" stroke="#9c9c9c" stroke-width="1.1"/>
<line x1="60.5" y1="290.8" x2="60.5" y2="292.6" stroke="#9c9c9c" stroke-width="1"/>
<line x1="113.5" y1="290.8" x2="113.5" y2="292.6" stroke="#9c9c9c" stroke-width="1"/>
<line x1="166.5" y1="290.8" x2="166.5" y2="292.6" stroke="#9c9c9c" stroke-width="1"/>
<line x1="219.5" y1="290.8" x2="219.5" y2="292.6" stroke="#9c9c9c" stroke-width="1"/>
<line x1="272.5" y1="290.8" x2="272.5" y2="292.6" stroke="#9c9c9c" stroke-width="1"/>
<rect x="304.5" y="251.0" width="212.5" height="39.8" fill="none" stroke="#9c9c9c" stroke-width="1.1"/>
<line x1="304.5" y1="290.8" x2="304.5" y2="292.6" stroke="#9c9c9c" stroke-width="1"/>
<line x1="357.6" y1="290.8" x2="357.6" y2="292.6" stroke="#9c9c9c" stroke-width="1"/>
<line x1="410.8" y1="290.8" x2="410.8" y2="292.6" stroke="#9c9c9c" stroke-width="1"/>
<line x1="463.9" y1="290.8" x2="463.9" y2="292.6" stroke="#9c9c9c" stroke-width="1"/>
<line x1="517.0" y1="290.8" x2="517.0" y2="292.6" stroke="#9c9c9c" stroke-width="1"/>
</svg>
<div class="g" style="left:151.60px;top:-1.10px;font-size:11.5px;font-style:italic;">t</div>
<div class="g" style="left:160.10px;top:-0.10px;font-size:11.5px;transform:scale(1.73,1.15);transform-origin:0 0;">=</div>
<div class="g" style="left:175.80px;top:-1.10px;font-size:11.5px;">6</div>
<div class="g" style="left:396.10px;top:-1.10px;font-size:11.5px;font-style:italic;">t</div>
<div class="g" style="left:404.60px;top:-0.10px;font-size:11.5px;transform:scale(1.73,1.15);transform-origin:0 0;">=</div>
<div class="g" style="left:420.50px;top:-1.10px;font-size:11.5px;">8</div>
<div class="g" style="left:0.47px;top:26.02px;font-size:10px;">FOM</div>
<div class="g" style="left:51.85px;top:8.15px;font-size:9.5px;">1</div>
<div class="g" style="left:51.50px;top:48.20px;font-size:9.5px;">0</div>
<div class="g" style="left:44.38px;top:22.04px;font-size:12px;font-style:italic;transform:rotate(-90deg);transform-origin:2.125px 8.56px;">y</div>
<div class="g" style="left:58.12px;top:55.25px;font-size:9.5px;">0</div>
<div class="g" style="left:111.12px;top:55.25px;font-size:9.5px;">2</div>
<div class="g" style="left:164.12px;top:55.25px;font-size:9.5px;">4</div>
<div class="g" style="left:217.12px;top:55.25px;font-size:9.5px;">6</div>
<div class="g" style="left:270.12px;top:55.25px;font-size:9.5px;">8</div>
<div class="g" style="left:295.85px;top:8.15px;font-size:9.5px;">1</div>
<div class="g" style="left:295.50px;top:48.20px;font-size:9.5px;">0</div>
<div class="g" style="left:288.38px;top:22.04px;font-size:12px;font-style:italic;transform:rotate(-90deg);transform-origin:2.125px 8.56px;">y</div>
<div class="g" style="left:302.12px;top:55.25px;font-size:9.5px;">0</div>
<div class="g" style="left:355.25px;top:55.25px;font-size:9.5px;">2</div>
<div class="g" style="left:408.38px;top:55.25px;font-size:9.5px;">4</div>
<div class="g" style="left:461.50px;top:55.25px;font-size:9.5px;">6</div>
<div class="g" style="left:514.62px;top:55.25px;font-size:9.5px;">8</div>
<div class="g" style="left:0.10px;top:83.33px;font-size:10px;letter-spacing:0.57px;">GPOD</div>
<div class="g" style="left:0.10px;top:91.70px;font-size:10px;">(</div>
<div class="g" style="left:3.95px;top:91.70px;font-size:10px;font-style:italic;">r</div>
<div class="g" style="left:10.67px;top:91.70px;font-size:10px;transform:scaleX(1.66);transform-origin:0 0;">=</div>
<div class="g" style="left:21.90px;top:91.70px;font-size:10px;">2</div>
<div class="g" style="left:28.40px;top:91.70px;font-size:10px;">)</div>
<div class="g" style="left:51.85px;top:68.15px;font-size:9.5px;">1</div>
<div class="g" style="left:51.50px;top:108.20px;font-size:9.5px;">0</div>
<div class="g" style="left:44.38px;top:82.04px;font-size:12px;font-style:italic;transform:rotate(-90deg);transform-origin:2.125px 8.56px;">y</div>
<div class="g" style="left:58.12px;top:115.25px;font-size:9.5px;">0</div>
<div class="g" style="left:111.12px;top:115.25px;font-size:9.5px;">2</div>
<div class="g" style="left:164.12px;top:115.25px;font-size:9.5px;">4</div>
<div class="g" style="left:217.12px;top:115.25px;font-size:9.5px;">6</div>
<div class="g" style="left:270.12px;top:115.25px;font-size:9.5px;">8</div>
<div class="g" style="left:295.85px;top:68.15px;font-size:9.5px;">1</div>
<div class="g" style="left:295.50px;top:108.20px;font-size:9.5px;">0</div>
<div class="g" style="left:288.38px;top:82.04px;font-size:12px;font-style:italic;transform:rotate(-90deg);transform-origin:2.125px 8.56px;">y</div>
<div class="g" style="left:302.12px;top:115.25px;font-size:9.5px;">0</div>
<div class="g" style="left:355.25px;top:115.25px;font-size:9.5px;">2</div>
<div class="g" style="left:408.38px;top:115.25px;font-size:9.5px;">4</div>
<div class="g" style="left:461.50px;top:115.25px;font-size:9.5px;">6</div>
<div class="g" style="left:514.62px;top:115.25px;font-size:9.5px;">8</div>
<div class="g" style="left:0.10px;top:143.32px;font-size:10px;letter-spacing:0.57px;">GPOD</div>
<div class="g" style="left:0.10px;top:151.70px;font-size:10px;">(</div>
<div class="g" style="left:3.95px;top:151.70px;font-size:10px;font-style:italic;">r</div>
<div class="g" style="left:11.47px;top:151.70px;font-size:10px;transform:scaleX(1.58);transform-origin:0 0;">=</div>
<div class="g" style="left:20.90px;top:151.70px;font-size:10px;">7</div>
<div class="g" style="left:26.10px;top:151.70px;font-size:10px;">4</div>
<div class="g" style="left:33.40px;top:151.70px;font-size:10px;">)</div>
<div class="g" style="left:51.85px;top:128.15px;font-size:9.5px;">1</div>
<div class="g" style="left:51.50px;top:168.20px;font-size:9.5px;">0</div>
<div class="g" style="left:44.38px;top:142.04px;font-size:12px;font-style:italic;transform:rotate(-90deg);transform-origin:2.125px 8.56px;">y</div>
<div class="g" style="left:58.12px;top:175.25px;font-size:9.5px;">0</div>
<div class="g" style="left:111.12px;top:175.25px;font-size:9.5px;">2</div>
<div class="g" style="left:164.12px;top:175.25px;font-size:9.5px;">4</div>
<div class="g" style="left:217.12px;top:175.25px;font-size:9.5px;">6</div>
<div class="g" style="left:270.12px;top:175.25px;font-size:9.5px;">8</div>
<div class="g" style="left:295.85px;top:128.15px;font-size:9.5px;">1</div>
<div class="g" style="left:295.50px;top:168.20px;font-size:9.5px;">0</div>
<div class="g" style="left:288.38px;top:142.04px;font-size:12px;font-style:italic;transform:rotate(-90deg);transform-origin:2.125px 8.56px;">y</div>
<div class="g" style="left:302.12px;top:175.25px;font-size:9.5px;">0</div>
<div class="g" style="left:355.25px;top:175.25px;font-size:9.5px;">2</div>
<div class="g" style="left:408.38px;top:175.25px;font-size:9.5px;">4</div>
<div class="g" style="left:461.50px;top:175.25px;font-size:9.5px;">6</div>
<div class="g" style="left:514.62px;top:175.25px;font-size:9.5px;">8</div>
<div class="g" style="left:0.10px;top:203.32px;font-size:10px;letter-spacing:0.50px;">CAE</div>
<div class="g" style="left:0.10px;top:211.70px;font-size:10px;">(</div>
<div class="g" style="left:3.95px;top:211.70px;font-size:10px;font-style:italic;">r</div>
<div class="g" style="left:10.67px;top:211.70px;font-size:10px;transform:scaleX(1.66);transform-origin:0 0;">=</div>
<div class="g" style="left:21.90px;top:211.70px;font-size:10px;">2</div>
<div class="g" style="left:28.40px;top:211.70px;font-size:10px;">)</div>
<div class="g" style="left:51.85px;top:188.15px;font-size:9.5px;">1</div>
<div class="g" style="left:51.50px;top:228.20px;font-size:9.5px;">0</div>
<div class="g" style="left:44.38px;top:202.04px;font-size:12px;font-style:italic;transform:rotate(-90deg);transform-origin:2.125px 8.56px;">y</div>
<div class="g" style="left:58.12px;top:235.25px;font-size:9.5px;">0</div>
<div class="g" style="left:111.12px;top:235.25px;font-size:9.5px;">2</div>
<div class="g" style="left:164.12px;top:235.25px;font-size:9.5px;">4</div>
<div class="g" style="left:217.12px;top:235.25px;font-size:9.5px;">6</div>
<div class="g" style="left:270.12px;top:235.25px;font-size:9.5px;">8</div>
<div class="g" style="left:295.85px;top:188.15px;font-size:9.5px;">1</div>
<div class="g" style="left:295.50px;top:228.20px;font-size:9.5px;">0</div>
<div class="g" style="left:288.38px;top:202.04px;font-size:12px;font-style:italic;transform:rotate(-90deg);transform-origin:2.125px 8.56px;">y</div>
<div class="g" style="left:302.12px;top:235.25px;font-size:9.5px;">0</div>
<div class="g" style="left:355.25px;top:235.25px;font-size:9.5px;">2</div>
<div class="g" style="left:408.38px;top:235.25px;font-size:9.5px;">4</div>
<div class="g" style="left:461.50px;top:235.25px;font-size:9.5px;">6</div>
<div class="g" style="left:514.62px;top:235.25px;font-size:9.5px;">8</div>
<div class="g" style="left:0.35px;top:263.32px;font-size:10px;letter-spacing:0.24px;">NLPOD</div>
<div class="g" style="left:0.10px;top:271.70px;font-size:10px;">(</div>
<div class="g" style="left:3.95px;top:271.70px;font-size:10px;font-style:italic;">r</div>
<div class="g" style="left:10.67px;top:271.70px;font-size:10px;transform:scaleX(1.66);transform-origin:0 0;">=</div>
<div class="g" style="left:21.90px;top:271.70px;font-size:10px;">2</div>
<div class="g" style="left:28.40px;top:271.70px;font-size:10px;">)</div>
<div class="g" style="left:51.85px;top:248.15px;font-size:9.5px;">1</div>
<div class="g" style="left:51.50px;top:288.20px;font-size:9.5px;">0</div>
<div class="g" style="left:44.38px;top:262.04px;font-size:12px;font-style:italic;transform:rotate(-90deg);transform-origin:2.125px 8.56px;">y</div>
<div class="g" style="left:58.12px;top:295.25px;font-size:9.5px;">0</div>
<div class="g" style="left:111.12px;top:295.25px;font-size:9.5px;">2</div>
<div class="g" style="left:164.12px;top:295.25px;font-size:9.5px;">4</div>
<div class="g" style="left:217.12px;top:295.25px;font-size:9.5px;">6</div>
<div class="g" style="left:270.12px;top:295.25px;font-size:9.5px;">8</div>
<div class="g" style="left:295.85px;top:248.15px;font-size:9.5px;">1</div>
<div class="g" style="left:295.50px;top:288.20px;font-size:9.5px;">0</div>
<div class="g" style="left:288.38px;top:262.04px;font-size:12px;font-style:italic;transform:rotate(-90deg);transform-origin:2.125px 8.56px;">y</div>
<div class="g" style="left:302.12px;top:295.25px;font-size:9.5px;">0</div>
<div class="g" style="left:355.25px;top:295.25px;font-size:9.5px;">2</div>
<div class="g" style="left:408.38px;top:295.25px;font-size:9.5px;">4</div>
<div class="g" style="left:461.50px;top:295.25px;font-size:9.5px;">6</div>
<div class="g" style="left:514.62px;top:295.25px;font-size:9.5px;">8</div>
<div class="g" style="left:164.24px;top:303.30px;font-size:12px;font-style:italic;">x</div>
<div class="g" style="left:408.49px;top:303.30px;font-size:12px;font-style:italic;">x</div>
</body></html>
